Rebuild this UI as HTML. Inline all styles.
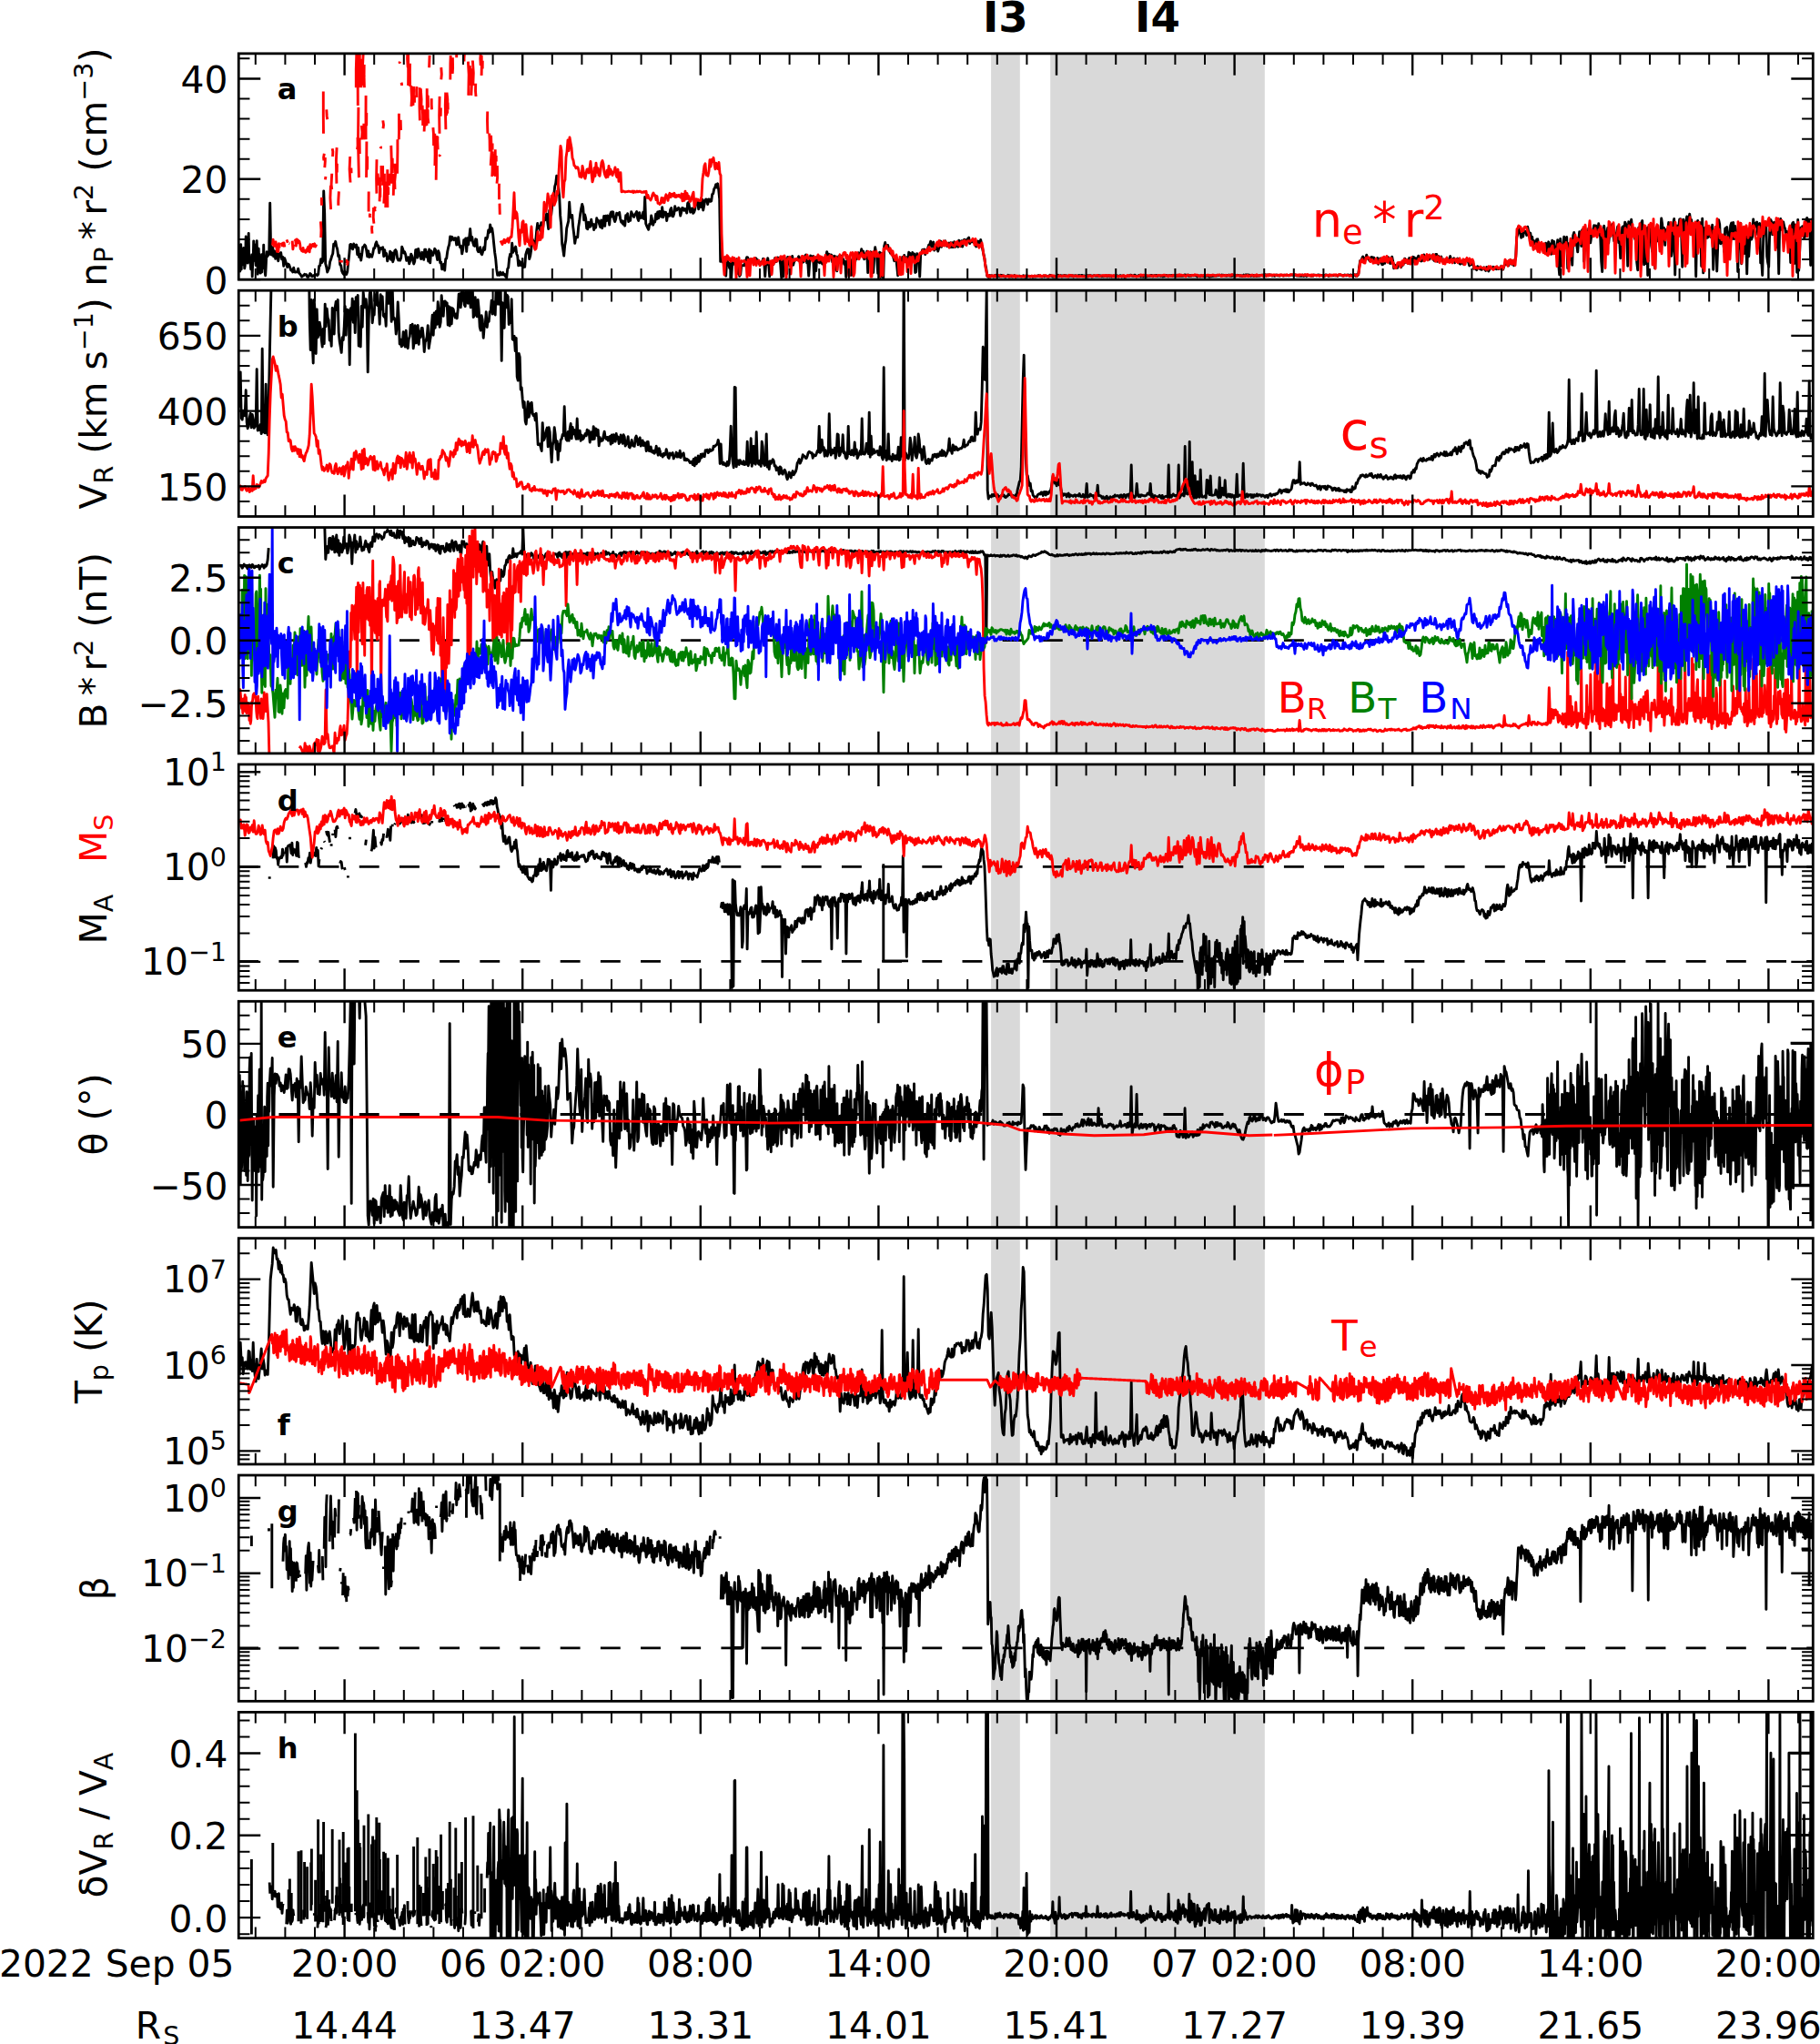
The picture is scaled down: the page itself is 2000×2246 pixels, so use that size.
<!DOCTYPE html><html><head><meta charset="utf-8"><title>figure</title>
<style>html,body{margin:0;padding:0;background:#fff}svg{display:block}text{font-family:"DejaVu Sans","Liberation Sans",sans-serif}</style></head><body>
<svg width="2000" height="2246" viewBox="0 0 2000 2246">
<rect width="2000" height="2246" fill="#fff"/>
<defs>
<clipPath id="c0"><rect x="262.25" y="58.85" width="1730.05" height="248.3"/></clipPath>
<clipPath id="c1"><rect x="262.25" y="319.21" width="1730.05" height="248.3"/></clipPath>
<clipPath id="c2"><rect x="262.25" y="579.57" width="1730.05" height="248.3"/></clipPath>
<clipPath id="c3"><rect x="262.25" y="839.93" width="1730.05" height="248.3"/></clipPath>
<clipPath id="c4"><rect x="262.25" y="1100.29" width="1730.05" height="248.3"/></clipPath>
<clipPath id="c5"><rect x="262.25" y="1360.65" width="1730.05" height="248.3"/></clipPath>
<clipPath id="c6"><rect x="262.25" y="1621.01" width="1730.05" height="248.3"/></clipPath>
<clipPath id="c7"><rect x="262.25" y="1881.37" width="1730.05" height="248.3"/></clipPath>
</defs>
<rect x="1089.1" y="58.85" width="31.7" height="248.3" fill="#d9d9d9"/>
<rect x="1154.2" y="58.85" width="235.6" height="248.3" fill="#d9d9d9"/>
<rect x="1089.1" y="319.21" width="31.7" height="248.3" fill="#d9d9d9"/>
<rect x="1154.2" y="319.21" width="235.6" height="248.3" fill="#d9d9d9"/>
<rect x="1089.1" y="579.57" width="31.7" height="248.3" fill="#d9d9d9"/>
<rect x="1154.2" y="579.57" width="235.6" height="248.3" fill="#d9d9d9"/>
<rect x="1089.1" y="839.93" width="31.7" height="248.3" fill="#d9d9d9"/>
<rect x="1154.2" y="839.93" width="235.6" height="248.3" fill="#d9d9d9"/>
<rect x="1089.1" y="1100.29" width="31.7" height="248.3" fill="#d9d9d9"/>
<rect x="1154.2" y="1100.29" width="235.6" height="248.3" fill="#d9d9d9"/>
<rect x="1089.1" y="1360.65" width="31.7" height="248.3" fill="#d9d9d9"/>
<rect x="1154.2" y="1360.65" width="235.6" height="248.3" fill="#d9d9d9"/>
<rect x="1089.1" y="1621.01" width="31.7" height="248.3" fill="#d9d9d9"/>
<rect x="1154.2" y="1621.01" width="235.6" height="248.3" fill="#d9d9d9"/>
<rect x="1089.1" y="1881.37" width="31.7" height="248.3" fill="#d9d9d9"/>
<rect x="1154.2" y="1881.37" width="235.6" height="248.3" fill="#d9d9d9"/>
<path d="M262.25 703.7H1992.3" stroke="#000" stroke-width="2.8" stroke-dasharray="21.9 22.28" fill="none"/>
<path d="M262.25 952.3H1992.3" stroke="#000" stroke-width="2.8" stroke-dasharray="21.9 22.28" fill="none"/>
<path d="M262.25 1056.3H1992.3" stroke="#000" stroke-width="2.8" stroke-dasharray="21.9 22.28" fill="none"/>
<path d="M262.25 1224.5H1992.3" stroke="#000" stroke-width="2.8" stroke-dasharray="21.9 22.28" fill="none"/>
<path d="M262.25 1810.8H1992.3" stroke="#000" stroke-width="2.8" stroke-dasharray="21.9 22.28" fill="none"/>
<path clip-path="url(#c0)" d="M263.2 267.8l.5 30.3 .5-27.8 .5-1.6 .5 27.3 .5-17.6 .5 12.6 .5-1.6 .5-10.1 .5-6.9 .5 .6 .5 21.9 .5-2.7 .5-5.3 .5-26.9 .5 20.7 .5-10.1 .5 15.1 .5 3.3 .5-7.2 .5-25.4 .5 27.1 .5 0 .5 .6 .5 6.4 .5 5.3 .5-8.8 .5-7 .5 23.9 .5-15.9 .5-1.8 .5-21.3 .5 21.3 .5-9.8 .5-7.4 .5 14 .5 8.6 .5-.2 .5-26.8 .5 19 .5 17.6 .5-4.7 .5-23.2 .5 16.3 .5-10.5 .5 15.1 .5 5.9 .5-9.1 .5-2 .5 10 .5-19.5 .5 8.6 .5 6.5 .5-25.3 .5 22.8 .5-9.9 .5 17.4 .5 3.1 .5-9 .5-11.2 .5-5.9 .5 5.3 .5-1.9 .5 .5 1-1.5 1-55.9 1 56.6 1 .4 1-8.5 1 10.3 1-5.9 1 8.3 1-3.7 1-3.7 1 9.8 1-5.2 1-2.9 1-1 1 7.1 1-2.3 1 10 1-8.7 1 3 1 3.7 1 3.2 1-3.5 1 1 1 2.8 1 3.2 1-.8 1 2.7 1-4.8 1 4.6 1 .3 1-.3 1-.1 1-3.5 1 4.9 1 .9 1 1.6 1 1.5 1-1.1 1-.2 1-1.5 1 .8 1-.4 1 2.5 1 .1 1-1.4 1-2.3 1 .8 1 2.2 1-.1 1-.7 1-.6 1-.6 1 0 1 1.1 1-1.3 1-9.3 1-.2 1-7.3 1 4 1-1.7 1-77 1 24.7 1 55.1 1 3.6 1 5.8 1-2.6 1-2.2 1-6.9 1-2.6 1-3.6 1-2.4 1-10.6 1 1.4 1-4.3 1 5.5 1 3 1 7.7 1-.9 1 10.2 1 .8 1 6.4 1 2.1 1 1.4 1-3.3 1 2.8 1 .6 1-3 1-9.8 1-9 1-10.9 1-.5 1 4.2 1 1 1-5.6 1 2.3 1 1.3 1-2.6 1 10.7 1-7.5 1 10.3 1-3.2 1 6.8 1-6.7 1-8.1 1-.2 1-2 1 1.3 1 4.6 1 6.8 1-6.1 1 6.8 1-3 1 2.3 1 .4 1-3.9 1-5.5 1-.1 1-4.6 1-2.3 1 4.5 1-.3 1 7.8 1-5.3 1 1.1 1-1.4 1-.5 1 10 1-6.9 1 5.7 1-1.9 1 8.2 1-4 1 .8 1-7.4 1 9.1 1-7.7 1 10.1 1-3.3 1-8.6 1-1.2 1 2.1 1 7.2 1 2.1 1-1.3 1 1.4 1-2.8 1-12.1 1 2.6 1 4.1 1-1 1 2.8 1 6.6 1-.9 1-2.7 1 7 1-3.2 1-7.3 1 2.2 1 4.7 1 3.9 1-2.7 1-12.6 1-.4 1 8.7 1-9.5 1 4.7 1 3.1 1 3.2 1-7.3 1 1.5 1 6.6 1-11.1 1 .1 1 8 1-5.1 1 9.9 1-13.2 1 15 1-13.3 1 4.4 1 .6 1-3.1 1-4.2 1 1.7 1 5.1 1 5.5 1-9.8 1 2.9 1 10 1-.6 1 7.8 1-2.8 1-2.8 1 6.8 1-12.6 1-.5 1-7.5 1-4.7 1-3.2 1-8.6 1 4.1 1-3.8 1 1.8 1 1.5 1-1.8 1-.1 1 7.3 1-.4 1-7.8 1 7.1 1 3.9 1-1.3 1 8.4 1-4.9 1-10.3 1 4.6 1-6.4 1 14.4 1-14.7 1 7.1 1-7.8 1-9.4 1 12.6 1-3.8 1 6.3 1 3.1 1 .7 1-7.6 1 .3 1 11.8 1 1.8 1-.3 1-4.8 1 7 1 1.1 1-3.6 1-4.5 1 2.9 1-13.1 1 1.5 1-2.4 1-7.5 1 2.4 1-8.5 1 7.4 1-3.5 1 6.9 1 10.2 1 9.6 1 6.9 1 11.5 1 6.4 1-2.4 1 2.5 1-3.3 1 2.8 1 0 1-2.3 1 2.4 1-.5 1 2.5 1 1 1-9.4 1-1.6 1-10.5 1-4.3 1 2.6 1-14.6 1 10.2 1-4.4 1 2.2 1-4.1 1 7.9 1 2.1 1 10.8 1-5.1 1 4.5 1 .3 1-3.9 1 6.1 1-.4 1-.1 1-13.3 1-3.5 1-2.9 1 0 1 11 1-3.4 1-6.6 1-12.6 1 2.3 1 5 1 1 1-5.2 1-11.7 1-8 1 5.3 1-2.1 1 4.7 1-8.6 1 6.1 1-1.1 1-10.2 1 2.5 1-3 1-4.2 1 9 1 7.7 1-20.2 1 5.1 1-.2 1-9.4 1-6.1 1-6.3 1-9.5 1-3.5 1-8.2 1 4.4 1 8.8 1 8.9 1 21.6 1 10.4 1 20.8 1 5.9 1 7.1 1-11.7 1-5 1-13.5 1-4 1-4.1 1-20.5 1 14.8 1 2.1 1-2.8 1 12.7 1 7.9 1 10.4 1-6.2 1-1 1 .6 1-11.6 1-6.1 1-8 1-6.1 1-4.5 1 3.3 1 14 1-5.8 1 4.2 1 10.6 1 .9 1-7.4 1 5 1-.3 1-7.9 1 6.2 1-1 1 6.3 1-5.8 1 3.4 1-10.4 1 3 1-.3 1 4.1 1 2.8 1-7.4 1 8.7 1-5.9 1-7.4 1 10.9 1-11 1 5.2 1-5.6 1 1.5 1 8.6 1-11.9 1-2.2 1 5.2 1-5.3 1 7.9 1 2.9 1-2.8 1-6.5 1 .3 1 1.4 1-2.6 1 7.3 1 3.5 1-1.5 1 3.6 1-3.1 1 4.9 1-11.3 1 3.2 1-5.4 1 9 1-1.6 1 .2 1-9.5 1 2.3 1 1.9 1 1.5 1-2.7 1-1.2 1-2 1 7.5 1 2.5 1-8.9 1 5.9 1-.6 1 .4 1-6 1 7.2 1-24 1 29.2 1 2.4 1 2.2 1 1.9 1-6 1 .1 1-9.3 1 4.9 1 5.3 1-3.9 1 .5 1-8.6 1 5.5 1-7.8 1 6.9 1-7.7 1 4.8 1 1.2 1-10.4 1 11.1 1-5.9 1 3.1 1-2.7 1 9.2 1-6.8 1-.6 1 2.2 1-7.1 1-1.6 1 9 1 .2 1-2.9 1-8.3 1 4.6 1-.3 1-1.6 1-.9 1 1.3 1 7.4 1-4 1-4.7 1 .4 1 2.5 1-1.8 1 .4 1 4.2 1-10.9 1-1 1 6.5 1 4.5 1-4.1 1-.2 1 5.5 1-1.3 1-3 1-9.9 1 .8 1 1.2 1 7.7 1-6.8 1-.5 1 5 1-8.6 1 12 1-5.1 1-5.9 1-1.1 1 .4 1 5.2 1-5.6 1 .2 1 2.2 1-.4 1-7.5 1-.7 1-5.1 1-1.4 1-3.5 1 3.2 1-4.1 1 6.6 1 10.2 1 68.8 1-1.8 1 2.1 1-2.3 1 0 1-2.9 1 20.6 1-17.7 1 1.7 1 2.9 1 4.6 1-5.4 1 15.9 1-15.9 1-1.3 1-3.3 1 6.3 1 1 1-7.2 1 15.8 1-9.6 1 12.4 1-1.5 1-10.1 1-.1 1 0 1 .3 1-3.2 1-2.6 1-3.4 1 .3 1 4.8 1-2.5 1 2.6 1 0 1-2.8 1 2.4 1 2.1 1-3.7 1-2.2 1 1.5 1 .5 1 1.1 1 3.5 1 .6 1-2.7 1-.8 1-3.1 1 2.4 1 16.9 1-14.8 1 1.7 1-6.9 1 6.1 1 14.1 1-12.2 1 9.1 1-11.8 1 1.9 1-4 1-3.4 1 4.1 1-2 1-2.4 1 .4 1 .7 1 6.2 1 14.6 1-17.7 1 16.6 1-18.8 1-1 1 6.1 1 10.4 1-18.2 1 7.6 1-1.3 1 3.6 1-3.6 1-7.3 1 9.8 1-4.1 1-.9 1-.6 1-.5 1-.9 1-2.4 1 1.8 1 8.7 1-2.4 1-2 1 0 1-1 1-5.6 1-1.3 1 8.9 1-2 1 16.2 1-14.6 1-7.5 1 1.2 1 3 1-3.6 1 24.4 1-19.3 1 10.9 1-15.5 1 .2 1 5.2 1 1.3 1-4.8 1 1.9 1 4.2 1-5.4 1-.6 1-1.6 1-.3 1-5.6 1 9.8 1-7.2 1 3.7 1-3 1 .3 1 7.7 1-4.8 1-1.8 1 14.7 1-14 1 15.8 1-9.9 1-6.2 1 .4 1-1.1 1 3.5 1-.9 1 1.5 1 5.1 1-3 1 17.3 1-6.2 1-14.6 1 .9 1 17.9 1-16.8 1 16.6 1-15.5 1-6.2 1 5.8 1 1.2 1-5.5 1 2.1 1-1.2 1-5.2 1 2.2 1-.5 1-5.8 1 7.3 1-4.9 1 8.7 1-5.9 1 4.9 1-7.5 1 23.3 1-21.2 1-.2 1-1.5 1 10 1-5.4 1 18.2 1-18.7 1-9 1 6.4 1 5.1 1 17.1 1-16.5 1-6.6 1 27.2 1-26.4 1 21.5 1 6.5 1-35.7 1-3.9 1 5.7 1 .5 1-3.2 1 4.9 1 1.6 1 2.3 1-2.5 1 3 1 3.6 1 4.3 1-3.4 1 0 1 9.2 1 10.3 1-5.3 1-10.4 1 2.1 1 1.3 1-8 1 2.6 1-4.6 1 6.9 1 0 1-4.8 1 3.4 1-8.7 1 .8 1 4.8 1 .7 1-6.1 1 5.7 1-4.2 1 20.5 1-.9 1-20 1 3.8 1-.4 1 22 1-25.1 1-1.2 1-3.3 1 .2 1-.5 1 5.4 1-3.7 1 .6 1-3.9 1-3.3 1-.3 1-3.7 1 5.9 1-2.6 1-2.5 1 9.1 1-2.4 1 .7 1-2.2 1 4.8 1-3.1 1-5.5 1-2.3 1 6.1 1-4.8 1 3.2 1-2.8 1-2 1 4 1 1.7 1-2.5 1-.9 1 4.8 1-5.2 1 4.9 1-4.8 1 4.7 1-5.8 1 5.7 1-4.4 1-.3 1 4.6 1-7.2 1 2.8 1 3.8 1-6 1 6.3 1-6.5 1-1.3 1 1.4 1-.9 1 2.1 1-3.8 1-.9 1 6.5 1-2.3 1 .2 1 .1 1 .5 1-.4 1 2.6 1 2.6 1-2.6 1-3.2 1 .5 1 2.7 1-4.9 1 5.7 1 4.1 1 5.1 1 4.5 1 7.8 1 4.2 1 8.4 1 .8 1 .3 1-1.7 1 1.1 1-.9 1 .3 1 .9 1-1.2 1 .6 1-1.2 1 .1 1 .5 1 .6 1 .4 1-1.5 1 .2 1 .8 1-.2 1 .6 1 .5 1-.4 1-.2 1-1.2 1 1.3 1-1 1 1.2 1-.2 1 .2 1-.5 1-.9 1 1 1 .3 1-.1 1 .2 1-.8 1 .1 1 .6 1 .2 1-.7 1-.6 1 .5 1 1 1-1.2 1 .1 1 0 1 .7 1 0 1 0 1-.5 1 .9 1-.1 1-.8 1 .7 1-.8 1 .6 1-1 1 0 1 .8 1 .2 1-.4 1 .4 1-.8 1 .9 1-.3 1-.7 1 1.1 1-.3 1 .4 1-1.8 1 .3 1 .9 1 .5 1 0 1-.7 1 .4 1 0 1-.7 1-.7 1 1.1 1 0 1-.8 1 1.2 1-.9 1 .5 1-.8 1 .6 1-.4 1 .4 1 0 1 .1 1 0 1-.7 1 .7 1-.5 1 1.2 1-1.1 1-.1 1 .2 1 .7 1-.8 1-.4 1 .7 1-.4 1-.4 1 .3 1 1 1-.8 1 .7 1-.7 1-.4 1 1.4 1-1.2 1 .1 1-.2 1 1.4 1-.8 1-.3 1-.1 1 .4 1 0 1-.1 1 .3 1-.9 1 1.1 1-.7 1 .8 1-.4 1 .4 1-.3 1-.3 1-.2 1 .9 1-.8 1-.4 1 1.2 1-.7 1 .9 1-.9 1 .2 1-.1 1 .8 1-.3 1-.9 1 1 1-.1 1-1 1 .3 1 1 1-1.1 1 .1 1 1.2 1-.1 1-.7 1 0 1-.3 1 .2 1-.8 1-.3 1 .8 1 .1 1 .5 1-1.4 1 .4 1 1.2 1-.5 1-.3 1-.5 1 .6 1 .8 1-1 1 .9 1 .2 1-1.1 1 1.1 1-1 1 .7 1-.5 1 0 1 .1 1-.9 1 0 1 1.3 1-.7 1-.4 1 .1 1-.3 1 1.1 1-.7 1 .2 1-.2 1 .7 1-.4 1 .7 1-.3 1 0 1-.8 1-.2 1 .3 1 .9 1-1 1-.3 1 .6 1-.5 1 .8 1-.7 1 .1 1 .3 1 .6 1-1.4 1 1.2 1-.2 1 .1 1 0 1-.3 1 .3 1-.2 1-1.2 1 .4 1-.2 1 .8 1-.8 1 1.3 1-.9 1 .8 1-.9 1 .4 1-.1 1-.1 1 .3 1 .1 1 1 1-1.2 1 .3 1 .6 1-1.1 1 .9 1 0 1-.8 1 1 1-.1 1-.5 1-.3 1 0 1 1.3 1-.1 1-.6 1 .3 1-1.4 1 1.1 1-.4 1-.1 1 .3 1-.9 1 .6 1-.4 1-.2 1 .9 1-1.2 1 .8 1-.5 1 .6 1 0 1 .4 1-.9 1 .6 1-.9 1 1.2 1-.3 1 .3 1-1.3 1 .4 1 .8 1-.9 1 .6 1-.6 1 .2 1 .1 1 .6 1-.4 1 .7 1 0 1-1.4 1 1.4 1-1.5 1-.1 1 .5 1-.4 1 .3 1 .1 1 1 1-.7 1-.5 1 1.3 1-.3 1-.8 1 1.1 1-.1 1-.4 1 .2 1-.7 1 .2 1-.4 1 0 1-.3 1 .9 1-1 1 1.1 1-1.1 1 .5 1-.1 1 .2 1-.5 1 1.1 1-.1 1-.8 1 1.1 1-.9 1-.4 1 .7 1 0 1 .3 1-.1 1-.6 1 0 1 .5 1 .3 1-.8 1 0 1 .4 1-.4 1 .6 1-.6 1-.2 1 .1 1-.1 1 0 1 .8 1-1 1 0 1 1.1 1 0 1 0 1 0 1 .4 1-.3 1 .1 1-1.2 1 1.5 1-1.2 1 .1 1 1.2 1-.9 1 0 1-.1 1 0 1 .7 1-.9 1 .8 1-1.2 1 .4 1 0 1 .4 1-.7 1-.1 1 .1 1 .3 1 .2 1-.1 1 .5 1-.2 1 .3 1-1.2 1 .2 1 0 1 1.2 1 0 1-.5 1-.6 1 .4 1 .2 1-.3 1 .2 1 .1 1-.2 1 .6 1-.7 1-.3 1-.2 1 .2 1 .6 1 0 1-.1 1-.7 1 .6 1 .3 1-.7 1-.2 1 1 1-.6 1-.5 1 1.1 1-.2 1-.1 1-.9 1 1.3 1-1.2 1 1.1 1-1.5 1-8.1 1-6.9 1 1.2 1-3.8 1-1.9 1 2.7 1-1 1 1.5 1-5 1 3.4 1 .3 1 2 1 1.1 1-4.4 1-.1 1 1.5 1-1 1 2.8 1 .1 1 2.8 1-5.3 1 6.9 1-2.4 1-3.9 1 2.1 1 4.7 1-.2 1-6 1 4.8 1-5.5 1 3.1 1-3.1 1-1.1 1 2.9 1 3.9 1-3.6 1-3.8 1 5 1 7.7 1-3.8 1 2.1 1 1 1 .1 1-5.1 1 .9 1 1.3 1 2.3 1-3.3 1 .8 1-2.5 1-4.6 1 4.3 1-1 1 .8 1 1 1-5.8 1 6.4 1-1.1 1-4.4 1-2 1 .4 1 4.7 1-3.7 1 3.8 1-2.8 1-3.5 1 3.7 1 1 1 1 1-.5 1-1.1 1-5.3 1 2.9 1-.6 1 1 1-2.4 1 2.3 1 1.8 1-3 1 .1 1 .2 1-2.5 1 6.1 1 .9 1-7.3 1 0 1 7.9 1-5.9 1 3.4 1-1.3 1-1.7 1 4.9 1-.4 1 2.3 1-2.5 1 1.6 1-3.3 1 3.1 1-1.9 1-1 1-3.1 1 5.4 1-.5 1-1.5 1-1.1 1 4.9 1-2.5 1-.7 1-1.5 1 2.7 1 2.5 1 .8 1-1.2 1-2.1 1 3.1 1-2.6 1-1.5 1 0 1 .4 1 .3 1 1.6 1 3.8 1-3.8 1 2.6 1-2.4 1 .7 1 6.4 1-1.9 1 1.8 1 1.3 1-3.9 1 1.5 1 1 1-2 1 3.1 1-.2 1-.7 1-1.5 1 2.1 1 1.4 1-3.8 1 .3 1 4.1 1-1.8 1-1.8 1-.2 1 .5 1-1.4 1 1.7 1 .3 1-.9 1 1.2 1-1.7 1 1.7 1-.9 1-.2 1-2.2 1 2.9 1 .8 1-3.4 1-2.1 1-2.8 1 2.8 1-3 1 4.3 1-3.2 1-3.1 1 4.5 1-3.5 1 4 1 1.2 1-5.3 1-3.9 1-21.3 1-3.5 1-8.8 1 .2 1 7.4 1 4.7 1-4.3 1 3.1 1-6.3 1 .8 1 0 1 4.1 1-9.4 1 5.2 1 5.1 1-3.4 1 6.2 1-2.1 1 10.1 1-5.6 1 .5 1 2.8 1-5 1-.2 1 5.9 1 .2 1 2.7 1-4.4 1 1.2 1 4.3 1 4.2 1-5 1-4.8 1 9.7 1-5.7 1-5.3 1 2 1 9.3 1 2.1 1-15 1 4.5 1-3.3 1 12 1-3.2 1-.3 1-10.2 1 27 1 11.1 1-39.4 1 23.9 1 6.1 1-22.3 1-9.8 1 6.3 1-.4 1-5.7 1 34.3 1-27.2 1 18 1-3.7 1-10.4 1 19.7 1-32.6 1-3.2 1 7.1 1 6.6 1-.3 1 8 1-12.9 1-9.3 1 .4 1 15.5 1-18 1-.5 1 35.2 1-21 1-8 1 3.2 1 1.3 1-11.4 1 3.3 1 12.2 1-6.8 1-3.3 1-4.1 1-4.9 1 2.1 1-1.7 1 3.8 1 5.1 1-11.2 1 6.6 1 8.5 1 26.1 1 11.5 1-39.8 1-10.4 1 9.5 1 4.8 1-4.9 1-7.2 1 16.5 1-9.6 1-4.7 1-3.8 1-2.4 1 10.6 1 7.8 1-8.2 1 8.2 1-9.9 1-6.1 1 17.7 1-3.6 1 20.8 1-21.3 1-12.7 1-1 1 10.7 1-15.3 1 2.1 1 10.8 1 35.2 1-48.6 1 3 1 .4 1-5.8 1 12.9 1-3.1 1 .1 1 11.3 1-5.5 1 31 1 8.7 1-46.4 1 5.9 1-4.4 1-7 1-2.2 1 35.1 1 13.1 1-36.6 1 35.3 1-38.7 1 51.7 1-53.2 1 1.1 1 1.3 1 18.6 1 5.9 1-19.2 1 30.6 1 7.3 1-35.9 1-7 1 12.8 1 .1 1-11.1 1 7.2 1-21 1 6.6 1 15.5 1-11.6 1 18.8 1-16.8 1 3.9 1-3 1-8.9 1 13.9 1-9.5 1 32.3 1-7.7 1-28.5 1-4.5 1 61.5 1-43.8 1-10.3 1 9.6 1-7.3 1-9.3 1-.2 1 16.1 1 36.4 1-52.1 1 33.7 1-6.4 1-25.5 1-4.9 1 12.2 1-8 1-7.1 1 8.2 1-1.8 1 13.2 1 2.2 1-10.7 1 6.6 1 51 1-57.8 1-3.5 1 20.1 1-4.7 1-13.2 1 47.8 1-52.3 1 59.7 1-31.4 1-18.2 1 2.8 1 8.2 1-.4 1-10 1-.7 1 10.1 1-2.6 1-10.5 1 49.1 1-24.6 1-17.5 1-4.9 1 48.7 1-27.8 1-28.5 1 4.9 1 21.2 1-1.3 1-1.3 1-.3 1 11.4 1-25.1 1-.8 1-.8 1 8.1 1 4.3 1 .8 1-14.9 1-2.9 1 17.5 1-18.1 1 18.2 1-14.2 1 5.4 1 1.8 1 42.9 1-38 1 12.2 1-27.6 1 44.7 1-27.9 1-6.2 1 22.8 1-9.4 1-9.6 1 41.4 1-38.1 1 18.9 1-17.2 1-12.5 1 11 1-2.9 1-19.1 1 9.7 1-2.3 1-3.4 1-1 1 13.9 1-10.7 1-1.6 1 43.3 1-3.1 1 16.7 1-40.8 1-11 1 2 1-7.3 1 36.5 1 6.9 1 4.4 1-39.3 1-12.5 1 2.3 1 14.2 1-6.6 1-7 1 11.5 1 16.2 1-20.5 1 .2 1 49.1 1-57.2 1-3.1 1 11.7 1-5.4 1-2.9 1 5.2 1 2.4 1 5.6 1-2.7 1 5.8 1-4.1 1 3.7 1 28.7 1-37.3 1-5.7 1-1.2 1 45.3 1-42.6 1 8.3 1 43.9 1-57.7 1 55.8 1-22 1-25.1 1 5.3 1-6.8 1 4.2 1 8.4 1-1.7 1-16.5 1-3.6 1 9.6 1-7.8 1 4 1 46.2 1-45.9 1 1.1 1 52.8" stroke="#000" stroke-width="2.9" fill="none" stroke-linejoin="round"/>
<path clip-path="url(#c0)" d="M299.5 269.7l.7-6.4 .7 6.8 .7 .2 .7-3.7 .7-.7 .7 3.5 .7 6.9 .7-4.6 .7 4.8 .7-8.8 .7 4.8M309.3 266.6l.7 3.2 .7-2.6 .7 2.8 .7-3.1 .7 4.6M314.9 263.4l.7 1.5 .7 1.9M317.7 267.5l.7 .3M321.2 264.6l.7 9.2 .7-5.2M324 265.2l.7-1.5 .7 6.3 .7-7.1 .7 3.9 .7-3 .7 3.1 .7-1.7 .7 2.7 .7 5.7 .7 .5 .7 1.6 .7-1.1 .7-2.2 .7 5.4M335.2 273.9l.7 3.5 .7-2.6 .7 1.4 .7-3.3 .7-1.7 .7 1.7 .7 3.9 .7-8 .7 3.9 .7-3.3 .7 .6 .7-1.6 .7 2.1 .7-1.6 .7-1 .7 3.2 .7-.8 .7-.3 .7 .3M374 285.9l0 2.4M375.4 286.1l0 2.4M380.3 289.2l.7-2.9 .7 4.2 .7-3.9M355.3 100.5l0 25.4 .2 20.8M358.8 120.3l.4 7.4 .5 3.6M356.3 168.7l-.7 4.3 .3 3.4M357.3 173.1l0 4.4-.5 6.6M365.2 163.2l.6 3.4-.2 5.4M370.1 162.1l-.7 14.4 .5 25.1M370.4 179.8l-.1 9.6M364.7 190.7l-.6 12.1 .6 5.4M363.4 203.8l-.5 13.6 .7 12.8M372.4 210.4l-.6 10.6 0 4.8M353.4 217l-.1 3.3 .2 5.5M352.4 243.4l.6 9.5-.3 8.1M358 194l-.3 1.4-.2 1.9M384.7 172l-.6 14 .9 14.5M385.9 184.5l.2 5.8M391.8 59.9l-.5 16.2 0 20.1M393.4 66.4l.2 12.7M393.1 59.9l.1 37.9 .1 18.1M395.3 59.9l0 12.4 .1 23.9M396.6 64.8l.1 9.8M396.7 72l.5 16.1-.3 8.1M397.8 76.1l-.2 5.2M399.1 59.9l-.9 19.6-.1 14.5M400.2 70.9l-.1 13 .3 12.3M393.9 118.1l-.4 37.1 .9 39.9M395.1 151.6l.2 17.4M393 151.1l.1 9-.6 4.2M397.3 137.9l.7 7.3-.5 8.1M402.1 104.9l-.1 23.3 .1 25.1M402.8 123.9l-.1 14.3M399.8 135.7l.2 8.1 .6 9.5M402.9 155.5l-.2 27.1-.1 12.5M403.7 171.8l-.1 14.8M405.2 210.4l-.1 13.5 0 8.5M406.7 234.6l-.4 2 .2 2.4M410.6 228l-.4 10.7 .7 6.9M412.3 226.9l-.6 3.1 .5 2.4M408.9 247.8l-.3 3.5 .4 5.3M414 175.3l-.4 20.9 .3 16.4M415.1 190.7l.5 8.3 0 4.8M417.5 195.1l0 15.1-.4 11.2M417.9 206.5l-.1 10.2M419 181.9l0 10.1-.5 7.5M420.6 181.9l.1 13.4-.2 8.5M422.4 190.7l.1 20.1-.7 12.8M423.4 202.5l.1 8.1M423.6 199.5l.4 15.7-.2 12.8M424.9 205.9l-.2 6.8M425.8 186.3l-.1 13.1 .2 28.6M426.7 205.5l0 8.4M427.5 190.7l-.3 5.4 .7 7.7M429.8 159.9l.5 18.8-.5 22.9M431.2 173.8l.2 16.3M432.7 190.7l-.1 11.3-.3 12.8M433.7 198.5l.3 9.5M434 179.7l.6 10.7-.9 9.1M436.9 153.3l0 12.8-.4 24.6M438.4 124.7l.1 18.8-.2 9.8M440.2 131.9l.3 11.2M420.8 132.4l.7 4.8-.5 4M418 161l.6 1-.5 1.2M439.4 67.6l-.3 .9 .5 1.3M441 90.7l.5 1.5 0 1.8M447.8 59.9l-.2 4.4 .6 9.9M448.6 59.9l.1 20.9-.1 13.2M450.5 69.8l-.1 10.5 .2 14.8M451.8 94l.7 13.7-.5 9.3M453.2 99l0 7.1M454.6 95.1l-.1 9.2-.6 11.6M455.5 104.8l0 7.9M458 95.1l-.4 3.7 .2 8.3M461.1 96.2l-.1 21.1 .4 15.1M462 112.1l-.1 8.7M462.3 97.3l.8 11.8-.2 6.8M464.1 115.9l.5 10.4 .1 11.6M465.4 123l-.1 6.5M466.6 120.3l.2 8.8-.7 15.4M468 130.4l-.4 8M469.2 97.3l0 23.9-.3 16.7M470.2 104.9l.3 13.4M470.1 120.3l.1 9 .7 6.4M472.1 61l-.2 4.7-.3 8.5M474.2 108.2l0 6.7 .3 5.4M475.9 140.1l.5 6.5 .2 13.3M477.8 146.7l.3 22.9-.2 12.3M480.1 148.9l-.6 24.2-.3 24.6M480.9 150l-.1 5.1 .4 9.2M483.1 106l-.4 21.3 .3 19.4M484.4 118.5l-.2 9.2M483.6 169.8l-.5 1 .5 1.2M484.8 74.2l.5 7.4-.5 5.8M489.7 101.6l-.4 14.3 .6 26.4M490.5 118.7l.2 8.3M491 101.6l.8 7.5-.3 15.6M492.1 112.9l.2 7.7M495.2 61l-.3 9.4-.1 17M496.3 67.3l-.2 7.3M497.4 63.2l.2 11.1-.4 6.5M501.7 59.9l0 2.1 0 1.2M510.3 59.9l-.3 4.6 0 3.1M514.4 67.6l.8 14.2-.4 23.1M516.3 72l.5 6.6-.3 15.4M517.5 75.1l-.2 5M518 78.6l.5 11.8-.7 14.5M519.1 82.9l-.2 6.8M519.4 66.5l.9 13.5-.5 14M522.7 91.8l-.2 8.2 .5 6M528.2 59.9l-.4 4.2 .4 7.9M529.2 61l.1 13-.2 9M530.3 66.7l-.1 8.7M535.7 122.5l-.2 10.3 .4 13.9M537.7 146.7l.4 7.2 .2 12.6M539.6 148.9l.5 18.4-.9 14.6M541.1 157.6l0 6.9M541.2 166.5l-.1 19.1-.3 8.4M542.8 174.6l-.3 10.7M542.5 168.7l.4 9.6-.4 14.6M544 174.1l-.3 5M544.2 164.3l.3 20.4-.1 9.3M545.2 171l.1 6.6M546.4 181.9l.2 13.2-.6 6.5M548.5 201.6l-.1 5.4 .1 12.2M549 223.6l.1 5.5 .2 6.6" stroke="#f00" stroke-width="2.9" fill="none" stroke-linejoin="round"/>
<path clip-path="url(#c0)" d="M550 264.5l1 1.8 1 2.1 1-2.7 1-2.4 1 3.5 1-2.9 1 1 1-3 1 4.4 1-4.1 1-1.8 1-.1 1-10.6 1-17.7 1-20.3 1 28.2 1-7.3 1 2.1 1 10.5 1 15.6 1 9.1 1-17.2 1 2.6 1-11 1-1.4 1 15.9 1 9.2 1-21.4 1 12 1 7 1-.4 1 4.7 1-9.9 1-11 1 19.4 1-1.8 1 4.6 1 3 1-1 1-6.6 1-12 1 9.3 1-3.5 1 3 1-13.4 1 11 1-14.1 1-24.7 1 8 1 2.1 1-6.1 1-13.2 1 6.1 1 .7 1 30.2 1-34.7 1 2.3 1-5.2 1 13 1-2.7 1-2.7 1-9.9 1 2.7 1-21.9 1-16.9 1-13.6 1 5.1 1 40.2 1 11 1-16.6 1-2.6 1-24.5 1-6.4 1-12.7 1 11.7 1-14.7 1 6 1 5.3 1 11.5 1 2.4 1 5.8 1 .8 1 2.1 1-1 1 .1 1 3.8 1 6.3 1-2.9 1 3.7 1-12.4 1 4.8 1 6.4 1 2.5 1-5.1 1-4.9 1-.3 1 4.1 1-5.4 1-7 1 13.4 1 9 1-3.8 1-11.4 1 8.8 1-14.3 1 10.1 1-4.7 1 7.7 1 1 1-6.7 1-7.9 1-2.1 1 3.6 1 9.3 1 3.4 1 2 1-7.7 1 7.1 1-11.8 1 9 1-5.3 1 2.7 1 3.7 1-3.6 1-.6 1-4.5 1 8.3 1 2.4 1-8.3 1 13 1-9.4 1-.1 1 21 1-.2 1-.6 1 .5 1 .5 1-.4 1 0 1-.3 1 0 1 .1 1 .2 1 .1 1-.7 1 1.6 1-1.5 1 .9 1 0 1-1 1 .9 1-.4 1-.3 1 .4 1 .7 1-.2 1 .2 1-.8 1 .9 1-1.2 1 7.1 1-3 1 3.3 1 .9 1 1.5 1-2.1 1-4 1-1.9 1 2.9 1-.2 1 4.9 1-4 1 7.8 1-.1 1 1.1 1-1.1 1-5.9 1 4.9 1-4.5 1 4.9 1-5.7 1-3.2 1 2.3 1 4.3 1-5 1-3.1 1 4.4 1-3.2 1-.3 1 2.2 1-3.1 1 4.3 1 0 1-2.1 1 1.3 1-1.5 1 1.7 1 1 1-4 1 7.7 1-7.3 1 6.8 1-10.1 1 8.4 1-6.1 1 5.9 1-2.7 1 5.9 1-.4 1-3.3 1-3.8 1-2.8 1 16.4 1-2.3 1-6.7 1 1.7 1-1.2 1 1.1 1 .5 1-.4 1-5.1 1-18.8 1-6.6 1-7.8 1-2.2 1 12.6 1 .1 1 .8 1-5.2 1-12.3 1 7.2 1-7.6 1 2.2 1-4.3 1 7.2 1 5.3 1-6.5 1 5.6 1 .7 1-7.1 1 12.1 1 2.1 1 64.1 1 25.2 1 6.7 1 13.3 1-19.5 1 3.9 1-5.7 1 1 1 3.7 1-1.5 1 3.4 1-1.7 1-2.8 1 3.7 1-2.9 1 2 1 19.8 1-20.1 1 1.6 1-3.8 1 18.6 1-11.6 1-3.5 1 .7 1-.3 1-.7 1 1.8 1 .6 1 15.7 1-19 1 2.2 1 15.3 1-18.5 1 .3 1 .3 1 6.1 1-7.7 1 2 1 6.1 1-3.3 1-1.6 1-.3 1 5.4 1-1.9 1-.2 1-3.1 1 4.5 1-6.4 1 5.3 1-1.1 1-.7 1 .4 1 .5 1-1 1-1.1 1 14.7 1-15.3 1 4 1-1.5 1-4.8 1-1 1 4.1 1-2.1 1-.5 1-.8 1-2 1 3.6 1-3.3 1 .6 1-1.6 1 7 1 17.3 1-19.4 1-1.9 1 .2 1-1.9 1 18.8 1-16.3 1 2.3 1-1.8 1 .9 1-1.8 1 1.1 1-1.2 1 1.7 1 .7 1-1.3 1 18.5 1-22.2 1-.2 1 1.9 1 3.1 1-3.9 1 .3 1-2.7 1 4.3 1-1.4 1 .2 1 1.5 1-1.5 1 3.7 1-1.2 1-3.7 1 1.9 1-.7 1 .2 1-3.5 1 5.9 1-4.2 1 3.5 1-3 1 4.8 1-3.6 1 19.3 1-22.3 1 7.8 1-3 1-3 1 4.8 1-6.4 1 2.1 1-1.2 1 2.6 1 20.4 1-20.3 1 .8 1-2.2 1 13.8 1-12.4 1-.1 1-4.3 1 20.2 1-16.3 1-1.9 1-4 1-.3 1 .2 1 6.3 1-3.6 1 2.9 1 20.2 1-21.7 1-4 1 2 1-2.3 1 25.9 1-3.4 1-22.5 1 .4 1-.1 1 6.3 1 .6 1-3.1 1-2.7 1-1 1 4.7 1-2.5 1 1.2 1 1.7 1-5.1 1 2 1-3.6 1 7.9 1-7 1 26.9 1-.1 1-26.8 1-.6 1 3.7 1 1.8 1-5.8 1 5.2 1-2.2 1 3.4 1 21.2 1-23.8 1-1.2 1 23.9 1-29.6 1 1.6 1-2.6 1-2.3 1 3.3 1 .5 1 2.3 1-3.3 1 2.3 1 5.3 1-4.4 1 6.7 1-1.4 1 4.7 1-6 1 5.9 1 0 1 15.7 1-19 1 19.3 1-12.9 1 12.3 1-19.2 1 2.4 1 3.4 1-4.1 1 14.9 1-12.5 1-1 1-2.6 1 18.1 1-17.6 1-1 1 3.8 1 3.2 1-1.2 1-.2 1-5.4 1 4.6 1-6 1-2.8 1-.5 1 1 1-3.3 1 2.6 1-1.7 1 1.8 1-3.4 1 3.4 1-4.6 1-1.9 1 4.4 1-1.7 1-.1 1-.6 1 .3 1 0 1-4.4 1-1.3 1-2 1 4.6 1-6.2 1 5.2 1-3 1 3.6 1-1.6 1-3.8 1 5.2 1-4.8 1 4.6 1-2.6 1 2.5 1 2.3 1-2.5 1-2.4 1 1.5 1 1 1 .2 1 1.2 1-4.8 1 2 1-2.8 1 3.6 1-1.2 1 2.7 1-4.5 1-.6 1 2.2 1-2.7 1-.5 1 4.2 1 .9 1-4.6 1-.1 1 0 1 .5 1-.9 1-.3 1-1.8 1 2.2 1 4.7 1-6.7 1 5.9 1 1.2 1-.5 1 3.1 1-2.9 1 1.2 1-3.6 1 6.4 1 7.6 1 3.7 1 9.3 1 4.2 1 5.2 1 .7 1-1.4 1 1.8 1-1.3 1-.3 1 .7 1 .6 1-1.6 1 .9 1 .8 1-1.7 1-.2 1 .3 1 .3 1 .9 1-.3 1-.6 1-.1 1 .8 1 .2 1-.2 1-.1 1-.4 1 1.2 1-.9 1-.5 1-.1 1 1.2 1-.5 1-.8 1 1.8 1-1.5 1 .3 1 .1 1 .3 1 .1 1-.3 1-.1 1 .4 1 .3 1-.6 1-.5 1 1 1-.8 1 .4 1-.3 1 .7 1-.2 1-.7 1 .8 1-.2 1-.8 1 .8 1-.3 1-.3 1 .2 1 .4 1-1.2 1 .8 1 .7 1-.7 1-.4 1-.4 1 .7 1-.1 1 .6 1 .3 1-.6 1-.6 1 .3 1-.4 1 .3 1-.1 1 1.3 1-1 1 .1 1 .8 1-.3 1-.9 1-.1 1 .9 1 .2 1-.6 1-.5 1 .3 1-.1 1 .8 1-.6 1 .8 1-1.7 1 .3 1-.1 1 .8 1-.6 1 1.1 1-.6 1 0 1-.3 1 1 1-.2 1 .2 1-.6 1 .3 1 0 1 .1 1-.2 1 .3 1 .5 1-.6 1-.6 1 .6 1-.5 1-.5 1 .6 1 .6 1-.1 1-1 1 .1 1 0 1-.1 1-.3 1 .2 1 1 1-.4 1-.3 1-.1 1-.4 1 .7 1-.7 1 .8 1-.8 1 .8 1-.6 1-.2 1 .9 1-.8 1 .4 1 .7 1-1.2 1 1.2 1-1 1 1 1-.3 1 .6 1-.5 1-.1 1 .3 1-.7 1 .6 1-1.1 1 1.3 1 .4 1-1.1 1-.7 1 .9 1 .2 1-1.1 1 .6 1-.1 1 0 1 .5 1 .1 1-.1 1 .6 1-.5 1 .1 1-.2 1-1.2 1-.3 1 1.1 1-.8 1 .1 1 1 1-.8 1 .2 1 0 1 .5 1-.3 1-.1 1 .2 1 .6 1-.8 1 .4 1-.5 1 .8 1-.2 1-.5 1-.4 1 0 1 .6 1-.4 1 .1 1-.2 1-.4 1 0 1 .9 1 0 1-.3 1 .9 1-1.1 1 .5 1 .3 1 .1 1-1.1 1 .5 1-.2 1 .2 1 .5 1-1.1 1 .9 1-1.4 1 1.3 1-.9 1 .8 1-.3 1-.2 1 .8 1 .5 1-1.2 1-.4 1 .2 1 .2 1 .5 1-.3 1-.4 1 .4 1 .1 1-1 1 .4 1 0 1-.1 1 1.3 1-.2 1 .1 1-1 1 1.1 1-.8 1-.3 1 .8 1-.2 1-.4 1-.3 1-.1 1 .8 1-.5 1 .4 1-.7 1 .2 1 0 1 .9 1-.2 1-.7 1-.2 1 .1 1-.3 1 .6 1 1 1-1 1 .7 1-.8 1 .7 1-.8 1 .6 1 0 1-.7 1 .5 1 .4 1-1.3 1 0 1 .3 1 .2 1 .9 1 0 1-.7 1 .3 1 .2 1-.3 1 .4 1-.5 1 .7 1-.1 1 .4 1-.9 1 .3 1 .3 1-.9 1 1.2 1-.4 1-.4 1-.6 1-.1 1 .9 1 .2 1-1 1 1.1 1-1.6 1 1.4 1-.4 1 0 1 .2 1-.8 1 .4 1 .7 1-.1 1-.9 1-.2 1 1.2 1-1.2 1 1 1-1.5 1 .8 1 .5 1-.9 1 .6 1-.6 1 0 1 .8 1-.5 1 0 1 0 1 .7 1-1.1 1 .8 1-.6 1 1 1-1.1 1 .7 1 .3 1-1.2 1 .7 1 .1 1 .4 1-1.1 1 0 1 0 1 .1 1-.1 1 .6 1-.6 1 .8 1-.7 1 1.1 1-1.2 1 .4 1-.2 1 .2 1 .3 1 .2 1-1.1 1 .1 1 1.1 1-1.3 1 1.2 1 .4 1-1.1 1 1.2 1-1.3 1 1.1 1-.9 1 .5 1-.4 1 .7 1-.5 1 0 1 .9 1-1.1 1 .5 1 0 1 .5 1 0 1-.2 1-.8 1 .4 1-.2 1 .5 1-1.2 1 .9 1 .5 1-.9 1-.1 1-.3 1 1 1-1 1 .7 1 .6 1-1.3 1-.1 1 0 1 .5 1 .4 1 .6 1-.7 1 .3 1-.6 1-.1 1 .2 1 .5 1 .4 1-.6 1 .5 1 .1 1-.8 1-.5 1 .1 1 .1 1 1 1-1.1 1-1.4 1-7.3 1-6.7 1 1.2 1-3 1 3.2 1 .8 1 .3 1-5.8 1 1.2 1-1.9 1 .3 1 1.4 1 3.2 1-2.1 1 0 1 3.8 1-1.2 1 .8 1-4.7 1 4.7 1 0 1 .4 1-3.5 1-.8 1 2.4 1-4.1 1 4.1 1-5.2 1 4.8 1 .2 1-5.6 1 6.9 1-1.6 1-2.9 1 .8 1-.9 1 5.5 1-.7 1 4.8 1 1 1 .2 1-2.6 1-3.3 1 0 1-.3 1 5 1-4.8 1-1.8 1 4.1 1-6 1 .9 1 2.1 1-2.6 1 4.3 1-2.9 1-.3 1 3.6 1-7 1 3.8 1 .2 1-.9 1 4.2 1-3.5 1 3.4 1-2.6 1-3 1 1.4 1-.9 1-4.3 1-.4 1 .7 1 5.7 1-.8 1-4.2 1-2.2 1 6.3 1-4.5 1-1.4 1 2.3 1-1 1 3.4 1-4.8 1 .5 1 6.2 1 .6 1-5 1-.4 1 4.6 1 2 1-5.6 1 3 1 .9 1 3 1-4.9 1 5.2 1-4.5 1-2.5 1 4.9 1-2 1 2.6 1-2.8 1-1 1 4.2 1-3.1 1-.7 1-.3 1 2.6 1-2.7 1 4 1-1.4 1-3.3 1 3.8 1 .2 1-.2 1-3 1 5.9 1-.1 1-5.6 1-1.6 1 3.2 1 .5 1-3 1 5.6 1-3.7 1-1 1 2.3 1 7.4 1-1.8 1 1.7 1-.2 1 .4 1 0 1-.5 1-1.2 1 .9 1 .5 1 .8 1-1.1 1-.1 1 2.1 1-.1 1-.1 1-3.2 1 1.9 1-1.9 1 2 1 .7 1 .9 1-1.4 1-1.5 1 0 1-.7 1 2.1 1-.4 1-.6 1 1.7 1-3.1 1 3.4 1-2 1-1.9 1-6.8 1 1.9 1 1 1 4.2 1-6 1 3.1 1-4 1 4.4 1 .4 1-4.2 1 .9 1 4.6 1-12.9 1-26.8 1-1.2 1-2.6 1 1 1 .6 1 4.9 1-2.4 1 1.3 1-3.7 1-.5 1 .4 1 2.1 1 3.2 1 2.1 1 7.5 1 5.1 1-4 1 .2 1 8.6 1-1.6 1 .3 1-5.4 1 5.1 1 3.6 1-10.1 1 10.9 1-8.3 1-2.6 1 7.7 1 3.6 1-9.9 1 11.2 1-.4 1 1.3 1 .9 1-6.9 1 5.2 1-5.3 1-1.8 1-1.9 1 8.9 1-.2 1-3 1-2 1 18.9 1-23.8 1 1.5 1-2.9 1 6.4 1-4.8 1 7 1 25.3 1-32.6 1 4.2 1-6.4 1 6 1 12.3 1 13.3 1-25.8 1-10.2 1 19.2 1-16.5 1-.5 1 5.6 1-11.6 1 7.6 1-4.4 1 2.7 1-1.2 1 1.5 1 3.3 1-12.8 1 3 1-8.3 1 44.7 1-47.2 1 9.2 1-1.2 1 43.3 1-46 1-9.8 1 13.9 1-.5 1-2.9 1 6.7 1-.7 1-8.2 1 5.2 1 4.4 1-3.8 1-4.4 1 2.2 1-6 1 10 1-6.3 1 9 1 1.2 1 32 1-31.9 1 1.7 1 14.9 1-35.8 1 1.2 1 14.9 1-2.6 1-6.4 1-5.7 1 12 1 43.5 1-40.7 1-.8 1-6.6 1-5.5 1 16.4 1-4.5 1 9.9 1-10.4 1 39.6 1-31.4 1-15.7 1 3.6 1-1.3 1 7.3 1-12.3 1 5.6 1 43.2 1-39.1 1-11.2 1 13.6 1-5.4 1-3.8 1 34.7 1-28.1 1-5.6 1 5.1 1-11.2 1 58 1-23.7 1-25.8 1 3 1-9.4 1 .5 1 24.3 1 9.6 1 5 1-40 1 2 1-4 1 2.9 1 42.9 1-50.4 1 44.2 1 10.3 1-44.3 1-4 1 1.4 1 13.9 1 14 1-22.9 1 25.6 1-24.5 1-1.3 1 8.8 1 2.1 1-6.5 1-2.8 1-5.6 1 43.5 1-30.2 1-17.8 1 9 1-2.3 1-1 1 7.2 1-13.1 1 36.3 1 9.5 1-40.2 1 9.5 1-9.2 1-8.8 1 13.7 1 11.4 1 11.8 1-23.2 1 37.4 1-47.7 1 44.6 1-32.4 1-8.4 1-9.8 1 19.1 1-6.1 1-6.7 1 36.8 1-30.7 1-7.2 1 5.6 1-4.3 1 33.1 1-34.3 1 27.2 1-23 1 3.1 1 42.7 1-10.3 1 14.1 1-34.1 1-20 1 10.1 1 3.8 1-9.6 1 3.9 1 7.2 1 .5 1 11.4 1-17.5 1 8.5 1-12.4 1 23.2 1-32.4 1 12.6 1-1.1 1 9.6 1-4.2 1 6.2 1-5.7 1 2.9 1 27.1 1-27.7 1 .3 1 42.2 1-41.7 1 5.5 1 18.5 1-17.6 1-11 1 2.2 1-2 1 3.7 1-4.7 1 6.8 1 25.1 1-43.9 1 7 1 14.8 1-20 1 43.8 1-8.5 1-31.5 1 19 1-17.9 1-2.5 1 6.1 1 7.4 1-6.1 1-10.1 1 13.4 1-9.8 1 2.1 1-3 1 2 1 10.1 1 3.7 1 15 1-10.7 1-18.8 1 10.5 1 .4 1-4.1 1-17.6 1 18.5 1-9.5 1-4 1 3.5 1 1.1 1-6.1 1-2.4 1 13.8 1-7.9 1 1.3 1 2.2 1 8.4 1-10.2 1 27.8 1-35 1 13.1 1-12.6 1 4.4 1 2.4 1-4.5 1-.4 1 12.7 1 20.9 1-10.9 1-6.9 1-.6 1 5.4 1 14.5 1-25.9 1-3.4 1 24 1-19.8 1 51.2 1-43.1 1 1.4 1-5.4 1-9 1 17.5 1-20.7 1 50.3 1-31.3 1-9.6 1-2.5 1 8.3 1-4.8 1-10.9 1 10.3 1-9.1 1 14.9 1-9.9 1-3.9 1 8.1 1-2.1 1-10.2 1-1.6 1 5.4" stroke="#f00" stroke-width="2.9" fill="none" stroke-linejoin="round"/>
<path clip-path="url(#c1)" d="M263.2 447.9l1-39 1 50.3 1 1.9 1-9.9 1 2.6 1 2.9 1-28 1 35.3 1 6.8 1-4.6 1-7.2 1-4.8 1 15.6 1-14.4 1 4.8 1 10.1 1-1.5 1-4.1 1-59.1 1 67.4 1-2.4 1 2 1-6.2 1 10.1 1-93.3 1 91.5 1-7.1 1 8.1 1-53.6 1 51.8 1 3.9 1-31.4 1-48.9 1-46.6 1-46.4 1-48.6 1-13 1 .6 1 2.6 1-2.7 1 .5 1-.9 1 3.3 1-2.6 1 1.7 1-1.5 1 .8 1 .6 1-.7 1 0 1 .7 1-1.6 1-.1 1 .1 1 .9 1-.1 1-1.1 1 1.1 1-1.1 1 .3 1-.4 1 .2 1 .8 1-.3 1-.5 1 .3 1 .3 1-.3 1 .4 1-.1 1-.1 1 .2 1 0 1-.1 1 0 1 15.2 1 89.1 1 36.1 1-55.1 1 46.4 1 23.2 1-69.6 1 14.2 1 44.9 1-48.6 1 30.8 1-2.9 1-13.5 1 5.7 1 12 1 9.1 1-19.7 1 16.2 1-43.5 1 24.6 1-19.6 1 10.1 1 2.5 1 22.3 1-6.1 1 12.4 1-41.9 1 22.8 1 5.8 1-29.1 1-6.5 1 9.2 1-11.2 1 35.7 1 10.1 1 6 1 6.2 1-16.8 1 3.1 1-13.5 1-23.8 1 31.9 1-28.2 1 .4 1 .9 1 59.3 1-61.7 1 12 1-22.9 1 26.1 1-22.8 1 34.2 1-38.8 1 17.4 1-19.8 1 55.7 1-.5 1 1.3 1-44.4 1 22.8 1-38.1 1 10.1 1 6.5 1-9 1 13.1 1 67 1-57.5 1-27.8 1-6.2 1 11.4 1 25.9 1-9.5 1 .7 1-21.8 1 10.6 1-20.8 1 22 1-.2 1 20.6 1-32.6 1 16 1-13.9 1 21 1 1.5 1-3.1 1 13.2 1-39.8 1 8.8 1 6 1-20.5 1 16.7 1 23.8 1-37.1 1 34.4 1-1.4 1 2.2 1 15.5 1-9.1 1-26 1 18 1 28.1 1-5.2 1 8 1-1.2 1-14.9 1 3 1 13.4 1-17.9 1 17 1 2.4 1-9.7 1-3.3 1-12.2 1 8.6 1-9.7 1 26.6 1-7.6 1-17.7 1 19.2 1-.6 1-18.7 1 20.9 1-14.3 1 6.4 1-10 1-.1 1 9 1 17.1 1-10.9 1-1.5 1-4.2 1-12.3 1 25.2 1-6.5 1-6.1 1-12 1-12.1 1 22.1 1-24.3 1 16.3 1-17.9 1 14.1 1-24.6 1 10.8 1 16.7 1-5.4 1-29.1 1 11.5 1 11.1 1-16 1-.5 1 5 1-3.1 1 24.3 1-20.4 1 21.3 1-20 1 17.8 1-17 1 1.1 1 5.9 1 3.2 1-4 1 4.9 1-9.7 1-17.1 1-.3 1 15.1 1-12.6 1-16.5 1 15.6 1 10.3 1 1.9 1-22.1 1 4.3 1 14.4 1-30.3 1 25.7 1 9.3 1-17.4 1-6.6 1 34.7 1-1.9 1-20.1 1 12 1 9.3 1-18.5 1 10.4 1 19.4 1 3.9 1-16.3 1 4.4 1 20.1 1-12.4 1-1.5 1-14.6 1 16.7 1-7.9 1 1.6 1-10.6 1-.4 1-12.1 1 14.9 1-13.4 1 10.6 1 3.8 1-31.6 1 19.7 1-18.3 1 18.4 1-21.5 1 8 1 75.7 1-63.6 1 2.5 1 25 1-44.1 1 21.6 1-13.5 1 1.7 1 30.5 1-11.2 1 9.2 1-25.8 1 44.1 1 .6 1-3.9 1 16.1 1-14.2 1 42.6 1 4.1 1-29.7 1 4 1 35.7 1-2.3 1 12.9 1 9.1 1-6 1 21 1 3.2 1-13.6 1-11 1 16.8 1-4.5 1-10.4 1-1.1 1 12.4 1 2 1-1.2 1 6.5 1-7.8 1 16.2 1 18.3 1 0 1-.7 1 3.8 1 3.8 1-30.9 1 19.3 1-1.5 1-4.4 1-4.8 1-3.1 1 20.8 1-21.2 1 5 1 18.2 1 14.9 1-18.4 1-4.4 1-15.2 1 7.3 1 16.5 1-9 1 20.8 1-17.2 1 7.3 1-12.4 1-.7 1-4.9 1 1 1-31.7 1 30.3 1 5.8 1 1.3 1-9.8 1 9.8 1-13.2 1-5.5 1 16.3 1-12.3 1 7.3 1-4.3 1 5.7 1 4.1 1-22.3 1 22.3 1-4.6 1-4.6 1 11.2 1-6.2 1 4.8 1-1.2 1-2.8 1-2.4 1 2.3 1-6.7 1 5 1-3.7 1 12.6 1-6.7 1-4.7 1 8.2 1-14.2 1 13.7 1-11.4 1 .4 1 7.2 1-6.1 1 17.5 1-9.3 1 4.3 1-1.6 1 .6 1-5 1-4.8 1 7 1 1.4 1-2.1 1 3.6 1-3.4 1-1 1 8.5 1-10.2 1 8.6 1-8.9 1 5.5 1 2 1-8.6 1 5.9 1-2.4 1 7.5 1-1.5 1-8 1 2.5 1 6.9 1-9.6 1 2.2 1 10 1-2.2 1-2 1-6 1 11.2 1 .9 1-3.3 1-5.1 1 5.7 1 1 1 .2 1-9 1-2.3 1 4.2 1 5.4 1-5.1 1-2.7 1 9.1 1-1 1-5 1 5.6 1-3 1 .6 1 8.3 1-10 1-.1 1 9.9 1 .4 1-4.7 1 5.4 1 .7 1-1.9 1 3 1-2 1-5.9 1 5.6 1 4.3 1-7.6 1 2.8 1 5 1-1.2 1 2.9 1-3.8 1 1.9 1-.8 1-5.7 1 3.6 1 5.2 1 1 1-5.6 1 2.1 1-.8 1-1.6 1 6.3 1-2.7 1 .1 1-4.2 1 5 1-3.6 1 3.6 1-6.9 1 7.5 1-3.5 1 .2 1-1.5 1 7.7 1-1.8 1 1.9 1-1.1 1 .8 1 .9 1 2.2 1-.6 1-.6 1 3.2 1-6 1 7.4 1-8.9 1 6.7 1-1.9 1-6.9 1 6.4 1-2.5 1-5.7 1 3.5 1-3.8 1 .3 1 2.6 1-6.9 1 .7 1-1.3 1 3.4 1-1.1 1-2.7 1 1.6 1-.4 1-.5 1-4.4 1 .7 1-1 1-1 1-.7 1-4.7 1 4.8 1 21.3 1-21.6 1 20.3 1 2 1-2 1 2.5 1-.9 1 2.2 1-4.5 1 3.8 1-2 1-14.9 1-26.2 1 28.3 1 10.8 1 6.4 1-88.3 1 .4 1 87 1-6.5 1-.4 1 4.6 1-4.9 1 1.9 1 2 1 .4 1-3.2 1 3.9 1-1.8 1 1.1 1-24.7 1 26.5 1-4.2 1 .5 1-26.3 1 30.6 1-5.7 1-16.5 1 18.9 1 1.1 1-35.3 1 29.8 1 4.7 1 1 1-4.4 1 6.5 1-27.3 1 5.7 1 18.6 1 2 1-1.2 1-33.3 1 36.2 1-5.9 1 8.3 1-8.7 1 2.6 1-2.6 1-2 1 1.5 1 5.7 1-.2 1 4.9 1-2.8 1 .5 1 6.6 1-8 1 .8 1 6.4 1 .8 1-3 1-1.8 1 2 1 5.4 1 3.1 1-3.2 1-4.6 1 2.4 1 3.6 1-4.9 1-2.4 1 4.2 1-1.7 1-1.6 1-3.2 1-6.5 1-1.5 1-2.9 1 4.7 1-2.2 1-2.4 1-4.8 1 1.4 1 .3 1 1.9 1 .3 1-2.7 1-3.5 1-1.1 1 .7 1 .7 1-.1 1 5.6 1-3.6 1 1.2 1 0 1-2.1 1-3.3 1 1.3 1-28.3 1 29 1-1.3 1-13 1 11.3 1-2.9 1 9.7 1-6.5 1 5 1 1.3 1-4.3 1-41.9 1 36.4 1 8.8 1-5.7 1 3.6 1-1.1 1-4.6 1 11.2 1-7.4 1-19.1 1 .7 1 23.2 1-1.4 1-7.4 1 4.1 1-18.4 1 20 1-1.1 1 6 1 1.3 1-1.7 1-33.8 1 30.1 1-1.6 1 2.8 1-5 1 4.9 1 .7 1-14.3 1 12.6 1-4.8 1 9.8 1-2.7 1-2.5 1-2.9 1 3.8 1-39.4 1 38.4 1 .6 1 .2 1-3.2 1-8.6 1 7.9 1 3.4 1-45.5 1 49.1 1-23.1 1 20.3 1-1.3 1-4.3 1 4 1-1.7 1-.2 1-.5 1 4.3 1 .3 1-9.4 1 3.9 1 7.9 1 2.5 1-101.2 1 98.7 1-7.2 1 10.5 1-2.5 1-26.3 1 27.5 1-2.7 1 1.8 1 3 1-7.3 1 3.3 1 2 1-3.8 1 4.2 1-1.7 1-12 1 14.7 1-1.2 1-23.9 1 20.5 1-5.3 1-203 1 212.9 1-8.3 1 2.8 1 2.5 1 1.1 1-5.9 1-16.8 1 7.2 1 17.3 1-8.7 1-1.3 1-15.5 1 20.4 1 2.4 1-4.6 1-21.6 1 6.9 1 13.4 1-3.5 1 11.7 1-5.8 1-8.8 1 8.6 1 8.3 1 1.7 1-1.7 1-3.2 1 4.8 1-4.3 1 .6 1 .5 1-6.2 1 2.2 1-2.9 1 .2 1 3.2 1-3.6 1 2.6 1-1.9 1-3 1 3.9 1-5.9 1 5.9 1-4.6 1 1.4 1 3.8 1-2 1-2.5 1-3.9 1-10.8 1 13.1 1-.5 1 3.7 1-9.3 1 1.7 1 4 1-3.7 1 .8 1 2.8 1-.4 1-.9 1-.7 1 .2 1-.9 1-2.3 1-6.5 1 7.9 1-1.2 1-.6 1-.2 1-2.7 1-1.7 1 .9 1-4.9 1-.6 1 4.5 1-2.2 1 1.9 1-31.1 1 21.4 1 2.7 1-5.6 1-.6 1 1.1 1-8.2 1-36.9 1-45.7 1 9.1 1 26.8 1-35.7 1-63.1 1 220.3 1 9.3 1-3.2 1 .3 1 .9 1-2.4 1 1.4 1-1.8 1 1.4 1-.2 1 1.7 1-2.4 1 2.2 1-.5 1 1.8 1-2.4 1-1.3 1 1.2 1-.6 1 2.1 1 .3 1-1.2 1-.2 1-2 1 .5 1-1.2 1 1.3 1 2.4 1-1.6 1 2.1 1 0 1-2.8 1 .6 1-6.3 1-3.9 1-4.7 1-1.5 1-13.8 1-49.8 1-46.2 1-28.1 1 66.8 1 44.7 1 20.4 1 .6 1 5.7 1 5.3 1-2.4 1 8.5 1-.7 1 5.3 1 1 1 1.2 1-.6 1 .6 1-2.4 1-1.1 1-.5 1 .6 1-2.2 1 .3 1 3.3 1-3.8 1-.2 1 3.5 1-3.4 1 2.2 1-.5 1-2.4 1 .2 1-3.9 1-6.2 1-7.2 1 2.4 1 5.8 1-1.2 1 4 1-7.5 1 1.2 1 5.4 1-.3 1 6.5 1 4.7 1 .7 1-1.8 1 .9 1-.5 1 2.8 1-3 1-.8 1 4 1-2.3 1 .5 1 .3 1 .8 1-1.2 1-.5 1 1.8 1-1.4 1 0 1 .9 1-2.5 1 2.6 1 .8 1-.2 1-2.4 1 3 1 .5 1-3.7 1-11.7 1 15 1-1.7 1 .7 1-2.4 1 1.2 1 .7 1-.4 1 2.7 1-.6 1-3.5 1 1.4 1-11.4 1 11.5 1 .3 1-.2 1 .8 1 1.9 1-1.6 1 1.9 1 .5 1-1.7 1-1.3 1 3.4 1-1.6 1 .9 1-2.2 1 1.7 1 0 1-1.8 1 .4 1-2.1 1 1.3 1-.3 1-.4 1 .7 1 1.3 1-2.3 1-.3 1 3.7 1-2.3 1-1.9 1 1.1 1 2.4 1-3.2 1 .2 1-.8 1 4 1-3.1 1-33 1 33.6 1-.1 1 2.1 1-.2 1-1.8 1-13.2 1 11 1 3.1 1-1.5 1 1.7 1-1.9 1 .4 1 .4 1 .1 1 .3 1-.5 1-.6 1-2 1 .2 1 1.3 1-12 1 14.3 1-2.5 1 3.9 1 1.6 1-4.1 1 2.4 1-1.3 1 .2 1-.2 1-1.5 1 1.6 1 1.8 1-3.2 1 3.3 1-1.1 1-1 1-.1 1-.4 1 1.4 1-35.5 1 35.6 1-2.5 1 2.1 1-1.3 1-2 1 1.2 1 .9 1-.7 1 .5 1 2.1 1-35.9 1 36.2 1-2.1 1-2 1 .9 1-1.6 1 2.5 1-54.4 1 51.8 1 0 1 .7 1-.5 1-57.1 1 56.5 1 .7 1-35 1 38.5 1 1.1 1-24.4 1 24.2 1-.6 1-17.1 1 16.2 1 .8 1-30.2 1 26.6 1 3.5 1-.2 1-.2 1-1 1 2.2 1-19.6 1 .4 1 14.4 1 1.3 1-20.6 1 21.2 1 .1 1-.1 1-.2 1-.4 1-5.4 1 4.5 1 2.9 1 1.4 1-22.3 1 21.9 1-2.5 1-7.7 1 7 1 .7 1-16.2 1 16.8 1 1.6 1-2.4 1-.8 1 2.8 1-2.5 1 3 1-2.5 1 1.5 1 1.6 1-2.3 1 1 1-24.4 1 24.5 1-.9 1-.8 1 .1 1 .8 1-.9 1-34.7 1 33.7 1 3.9 1-2.9 1-1.1 1 2.9 1-2 1 .1 1-.3 1 2.8 1-2.6 1 2.6 1-2.7 1 1.4 1-.1 1-2.1 1 2.1 1-1.2 1-.1 1 .2 1 1.5 1-1.4 1 .2 1 1.1 1 1 1-1.7 1-.3 1 2.5 1-2.3 1-1.4 1-.4 1 2.4 1-.9 1-.7 1-.6 1 1.1 1-1.5 1 .2 1-.7 1-2.1 1-1.8 1 .6 1 3.2 1-2.9 1 .5 1-1.1 1 1.6 1-2.2 1 2.8 1-2.5 1 2.6 1-1.5 1-.8 1-1.3 1-5.7 1-3.8 1 .1 1 3.3 1-.5 1-2.6 1 2.2 1-1.6 1-20.9 1 24.8 1-1.8 1 .8 1-.3 1-.6 1 1.2 1 1.1 1-.3 1-1.6 1 1.1 1-.2 1 1.6 1-2.3 1 .1 1 1.6 1 1 1 .1 1-.8 1 1.7 1 2.5 1-2.5 1-.7 1 4.1 1-3.6 1 0 1-.1 1 1.8 1-2.1 1 3.6 1-.2 1-3.7 1 .7 1 0 1 1 1 .2 1 3 1-.7 1-1.9 1 .3 1 2.4 1-1.8 1 1.8 1-2.4 1 2.9 1-1.1 1 .7 1-.1 1 .1 1 1.5 1-1.6 1 1.8 1-3 1 1.3 1 .1 1-1 1 2.5 1 0 1-5.8 1 3 1-1.3 1 0 1-5.7 1 .7 1-3.1 1-2.5 1-.5 1-2.9 1 .5 1-1.2 1 .3 1 1.2 1 .8 1-2.4 1 2.1 1-.9 1-.4 1-1.7 1 1.8 1-2.3 1 3.8 1 .6 1-1.2 1-1 1 .8 1 1.7 1-3.3 1 1.4 1 1.2 1-2.9 1 2.1 1 1.6 1 1.2 1-2.2 1 .4 1-2 1 1.7 1 2.3 1-1.5 1 .7 1-1.8 1 .6 1 1.6 1 .3 1-3.6 1-1 1 3.7 1-2.3 1 1 1-1.2 1 1.8 1-2 1 2.3 1 .5 1-3 1 .3 1 2.6 1 1.4 1-3.2 1-.8 1 0 1 2.9 1-.6 1-6.1 1 .3 1-3 1 2.7 1-4.4 1 .5 1-5.5 1-1.7 1-2.3 1 .2 1-2 1 2.4 1 .5 1-3.3 1 2.3 1 0 1 .4 1-1.7 1 .4 1-1.3 1 1.1 1 0 1-3.3 1 4.1 1-3.4 1-2.8 1 2.8 1-3.1 1-.9 1 1.5 1 1.5 1-1 1-2.3 1 .9 1 .3 1 1.1 1-3.6 1 4.4 1-4.3 1 3.9 1-.3 1-1.5 1 1.1 1-2.7 1 2.9 1-3.7 1-2 1 1.2 1-3.8 1 3 1 4.1 1-5.1 1-2.7 1 4.3 1 1.1 1-6.2 1 2.4 1-.7 1-5 1 .4 1-1.4 1 .8 1 2.1 1-4.2 1-.9 1 9.5 1-1.1 1 4.9 1 4 1 1.9 1 2.6 1 4.7 1 6.5 1-.4 1 2.9 1-1.6 1 2.7 1-2.4 1 .4 1 1.3 1 .5 1 .5 1 0 1 3.9 1-1.6 1 .4 1-7 1 2 1-2.4 1-3.8 1-.3 1-.6 1 .6 1-6.4 1-2.9 1 1.2 1 2.4 1-4.8 1 2.1 1-3.9 1-2 1-.7 1 2 1-1.3 1-3.2 1 1.7 1 1.1 1-4.4 1 2.1 1-1.8 1 .7 1 .6 1-.1 1 2.2 1-5 1 3.8 1-3.8 1 2.3 1 1.1 1-4.2 1-1.3 1 2.4 1-1.5 1 .2 1-2.9 1 4.3 1-.4 1-3.8 1 .4 1 9 1 7.2 1 4.6 1-.8 1-.3 1 .6 1-1.3 1-1.9 1-.6 1 .4 1 2.5 1-3.3 1-.1 1 .2 1-1.9 1 4 1-3 1-3.1 1 4.1 1-4.9 1 4 1-2.5 1-47.8 1 48.3 1-1.9 1-3 1-31.5 1 30.4 1 1.7 1-2.9 1-.8 1 4.1 1-1.3 1-1.2 1-4.1 1 2.2 1-1.1 1-2.6 1 2.1 1-.6 1 1 1-1.6 1-2.4 1-5.4 1-65.2 1 68.1 1-2.4 1 4.7 1-.5 1-4.1 1 4.5 1-3.7 1-2.1 1 1.1 1 1.7 1-9.7 1 3.7 1-.9 1-45.1 1 52.1 1-2.9 1 2.2 1-9.7 1-21.2 1 22.4 1 2.2 1 .9 1-2.8 1 5.3 1-3.1 1-.9 1-4 1 3.9 1-2.7 1-67.2 1 67.1 1 5.7 1-.9 1-4.6 1 5.1 1-.9 1-4.7 1 5.4 1-6.5 1-18 1 17.3 1-.8 1 6.2 1-36.3 1 35.5 1-6.3 1 3.8 1-4.4 1 4.4 1-17.3 1-5.6 1 25.6 1-7.2 1 1.3 1 8.7 1-6.3 1 4.8 1-5.9 1-6.6 1-11.4 1 21.9 1 4.4 1 .4 1-6.7 1 4 1-29.8 1 24.8 1 .4 1-34.2 1 36.2 1-2.6 1 2.2 1 2.9 1-.8 1 .4 1-10.9 1-39.4 1 44.5 1 5.7 1 0 1-1.5 1-48.7 1 53.5 1 1.6 1-32.3 1 28.8 1-5.7 1 1.1 1-29.9 1 35.1 1-6.3 1 7.2 1-9.7 1 10.7 1-20.8 1 13.1 1 2.3 1-62.3 1 62.6 1 4.7 1-12.1 1 8.7 1-24.6 1 20.2 1 5.5 1 1.2 1-7.5 1 9.7 1-48 1 41.5 1-2.5 1 .2 1 3.3 1-28.1 1 25 1 .8 1 2.2 1-.6 1-4.4 1 8 1-3.4 1-.5 1-15.3 1 16.5 1-4.8 1 4.7 1-.5 1 3 1-27.2 1-12.7 1 34.8 1 1.2 1-41.2 1 45.8 1-6.4 1-4.6 1-48.4 1 55.3 1-25.7 1 9.8 1 21.9 1-46 1 44.3 1 1.3 1-.2 1 .5 1-4.3 1 4.1 1-38.8 1 32.4 1 1.6 1-1.2 1 .6 1-1.3 1 3 1-20 1-3.2 1 23.9 1-3.8 1 2.8 1 1.1 1-2.5 1-12.7 1 8.7 1-19.5 1 1.2 1 25.6 1-15.5 1 15.5 1-18.5 1 11.9 1 6.9 1-2.9 1 .9 1-.5 1-25 1 27.9 1 .5 1-1.8 1-4.6 1 2 1 4.2 1-29.2 1 27.3 1-25.6 1 22.9 1 3.1 1 1.5 1-14 1 13.4 1 0 1-30.7 1 25.7 1 4.5 1-2.4 1-2.4 1 6.3 1-18.6 1 6.6 1 8.5 1-5.8 1 3.5 1-10.2 1 9 1 .8 1 6.1 1-1.9 1 3.3 1-3.3 1-3.1 1 2.5 1-20.7 1 18.2 1 2.3 1-67.7 1 68.9 1-32.9 1-7 1 18.3 1 14.4 1 5.4 1-4.6 1 5.4 1-42.4 1 34.7 1 4 1 1.7 1 2.5 1-1.5 1-3.7 1 2 1-55 1 44.5 1 13.6 1-32.5 1 7.3 1 22.6 1-.7 1 1.9 1-2.8 1-.1 1-24.4 1 10.5 1 16.3 1-.7 1 .7 1-7.2 1-20.3 1 26.9 1 3.7 1-49.1 1 48.8 1-1.8 1-2.3 1 3.5 1-5.7 1 1.3 1 3.9 1-4.6 1 .8 1-14.5 1 16.6 1 1.6 1-59.5 1 58.4 1 4.7 1-1.4 1-4.1 1 .8" stroke="#000" stroke-width="2.9" fill="none" stroke-linejoin="round"/>
<path clip-path="url(#c1)" d="M263.2 533.3l1 .9 1 4 1 .1 1-2.3 1-.1 1-1.4 1 3 1 1.8 1-1.8 1-2.1 1 5.2 1-1.2 1-3 1 2.9 1-16.7 1 15.2 1-1.6 1 .5 1-4.2 1 .6 1 2.4 1-1.3 1-2.4 1-3.4 1 1.9 1-.2 1-2.3 1 1.6 1-3.7 1-1.6 1-1.5 1-24 1-38.1 1-28.4 1-18.2 1-18.3 1-3.6 1 3.8 1 4.3 1 7.2 1-5.2 1 4.8 1 5.5 1 4.6 1 5.6 1 14.4 1-3.9 1 11.9 1 11.7 1 4.3 1 2.1 1 11.7 1 .7 1 9.2 1-1.6 1 .9 1 8.3 1 3.4 1-4.8 1 4.4 1-4.7 1 4.3 1-1.9 1 5.4 1-4.8 1 8.1 1-7.4 1 8 1-1.8 1 3.7 1 2.4 1-4.9 1-3.8 1-1.7 1-2.9 1-4 1-11.1 1-24.7 1-31.2 1 13.7 1 20.6 1 19.4 1 1.5 1 2.3 1 10.6 1-6.2 1 14.1 1-3.9 1 7.6 1 8.9 1 5.3 1-2.9 1 4 1-1.8 1-.7 1-3.7 1 6.8 1-4 1-4.3 1 1.3 1 6 1 2.5 1-1.1 1 1.9 1-8 1-2.7 1 7.6 1 3.6 1-4.5 1-2.1 1 3.2 1 3.7 1-7 1-1.4 1 10.4 1-4.5 1-6.8 1 1.1 1-5 1 17.5 1-10.5 1 .8 1-11.5 1 4.2 1 7.8 1-18.4 1 7.4 1-9.4 1 4.7 1 1.5 1 6.5 1-9.1 1 4.5 1 12 1-20.8 1 19.6 1-21.2 1 16.4 1-6.7 1 1.3 1 6.6 1-3.9 1-4.1 1-1.6 1 3.1 1-1.8 1 13.4 1-14.6 1 15.4 1-6.1 1-3.9 1 8.4 1-4 1 0 1-3.3 1 6.1 1 1.8 1 2 1 4 1-7.3 1 2.4 1-7.4 1 11.8 1 6.1 1-7.7 1 .6 1-4.4 1 10.4 1-17.3 1 7.5 1 3.6 1-8.6 1-8 1-2.5 1 7.7 1-6.4 1 11.4 1-10.3 1 1.3 1 2.9 1 5 1-3.5 1-11.9 1 18.1 1-6.7 1-7.5 1-3.7 1 10.6 1-7.2 1 13.2 1-16.8 1 9.5 1-2.7 1 7.3 1 10 1-8.1 1-4.4 1 3.9 1 3.1 1-3.2 1-.4 1 5.3 1 8.5 1-7.5 1 .8 1 2 1-14.2 1-2 1 10.5 1-11.1 1 19.1 1-2.8 1-1.1 1 6.2 1-9.7 1 10.1 1-.9 1 .6 1-20.8 1-.1 1-4 1 1 1-7.6 1 1.6 1 1.5 1 3 1 5.3 1-3.4 1 4.1 1 5.7 1-6.5 1-9.7 1 1.5 1-.1 1 4.5 1-7.5 1 4.5 1-12.4 1 8.2 1-7.2 1-5.6 1 6.3 1-4 1 5.6 1-4.6 1 3.5 1-.4 1-4 1 2.9 1 9.1 1-5 1-4.7 1 10.7 1-10.7 1 4.1 1-12.1 1 12.6 1-7 1-.9 1 5.4 1 0 1 5.8 1 9.3 1 5.1 1-3.4 1-2.5 1-5.5 1-1.6 1 3.5 1-5.8 1 3 1-.4 1-2.6 1 5.9 1 10.7 1-5.2 1-.4 1-7.5 1-1.1 1 2.4 1-1.2 1 9.7 1-3.3 1-4.4 1 .1 1-.7 1-11.9 1 .6 1 5.3 1-13 1 16.3 1 3.1 1-9.3 1 13.5 1-5.8 1 10.3 1 7.4 1-5.9 1 2.5 1 11.6 1-4.3 1 7.2 1-.1 1-.4 1 9 1-2.7 1 1.5 1-3.4 1-.4 1-.1 1 4.3 1 3.2 1-1.9 1 1.7 1-2.5 1 .5 1-3.1 1 .5 1 5.8 1-.2 1 1.6 1-3.2 1 1.7 1-3.7 1 4.3 1-.6 1-.2 1 .4 1 .6 1-1.1 1 1.3 1-1.3 1 .5 1 3.6 1 .1 1-3.3 1 2.3 1 3.7 1-5.3 1 1.2 1-.9 1 1 1 .9 1-2.1 1-2.4 1 .8 1-1.3 1 12.3 1-9.2 1-1 1 1.2 1-.2 1 1 1-1.3 1 .8 1-.9 1 3.3 1-1 1-.5 1-2.6 1-.5 1-.2 1 1 1 1.6 1 0 1 .9 1 1.6 1-4.2 1 2.9 1 .9 1 2.9 1-4.5 1 4.9 1 1 1-5.3 1-3.6 1 7.2 1-1.2 1 1.4 1-1.4 1-2 1 .3 1-1 1 2.9 1 .5 1 1.8 1-1.5 1-2 1-2.5 1 4.1 1-.2 1-3.6 1 1.7 1-3.3 1 5.1 1-4.2 1-.1 1 4.8 1-5.7 1 4.9 1 1.7 1-1.3 1 .3 1-.3 1 .8 1 1.6 1-3.5 1 1.3 1-1.7 1 1.8 1 .4 1-1.9 1 3 1-3.7 1-.9 1 1.1 1 3.7 1-1.7 1 1.3 1 1.8 1-6.1 1 3.8 1-4 1 5.5 1-.3 1-5.1 1 6.2 1-3.2 1-2.1 1-.2 1-.2 1 5.6 1-3.7 1 4.4 1-.9 1-2.4 1-.9 1 2.9 1-.2 1 .6 1-2.4 1 .1 1-2.6 1-1.6 1 5.8 1-.6 1 1.9 1-6 1 6.1 1-4.3 1 4.5 1-.5 1-.6 1-3.4 1 1.6 1 .6 1-2.3 1 .3 1 3.5 1-.8 1-1 1-.6 1-3 1 5.3 1 1.1 1-3.1 1-1.4 1 4.5 1-4.5 1 3 1-.7 1 2.3 1-1.9 1 3.7 1-4.4 1 3.7 1-5.3 1 4.6 1-4.7 1 1.8 1-.6 1-3.4 1 5 1-.3 1-3.5 1 3.2 1-3.4 1 1.4 1-.6 1 1.8 1 3.2 1 .9 1-1.4 1 .7 1-3.8 1-.3 1-.2 1 .9 1 1.9 1-4.3 1 5.9 1-4.2 1 3.5 1-5.5 1 4.6 1 1.4 1-3 1 3.9 1 .1 1-6.6 1 .9 1 1.3 1-2.8 1 4.4 1-3.4 1 4.5 1-3 1-3 1 .3 1 .5 1 5.1 1-6.4 1 4.6 1-3.5 1-2.1 1 2.9 1 .7 1-2.6 1 .4 1 2.7 1-.1 1-3.6 1 4 1-3.5 1 4.2 1-1.3 1 1.7 1-4.7 1 2.4 1 1.1 1-3.9 1 4.1 1-1.3 1 0 1 3 1-6 1-.1 1 .7 1-3.2 1 .7 1 3.7 1-3.8 1 2 1 1.3 1-1.8 1 1.5 1-.5 1-4.7 1 1.3 1 2.5 1-3 1-1.4 1-.3 1 .8 1 .3 1 3.5 1 .5 1-5.6 1 2.9 1-2.2 1-1.4 1 .3 1 4.1 1 1 1-1.5 1 1.6 1-3.8 1 3.3 1-.2 1 .1 1 3.1 1-5 1 .2 1-1.2 1 5.8 1-.3 1 3.6 1-2.5 1 5.4 1-2.6 1 2.2 1 .2 1-4.7 1 3.9 1 1.1 1-3 1 1.6 1-3 1 .8 1 1.6 1-2.2 1 2.8 1-.1 1-.6 1 2.4 1-1.4 1 .6 1-2.7 1-2.3 1 2.8 1 .1 1-5.9 1 .4 1 1.5 1 .3 1 1.5 1-1.5 1 2.3 1 .2 1-.7 1-4.5 1 2.9 1-2.7 1-4.5 1 4.4 1-.2 1-1.1 1 .7 1 .7 1-1.8 1-4.9 1 1.7 1 2.5 1 3.1 1-4.8 1 .6 1-.1 1 2.5 1-2 1 3.3 1-2.6 1 .1 1-2.8 1 1.4 1-.5 1-2.4 1 1.6 1 2.8 1-4.2 1 5.5 1-4 1-1.1 1 4.6 1-5.4 1 5.2 1 .1 1 2.6 1-4.1 1-.1 1 4 1-2.5 1 2.8 1-3.4 1-.3 1-.1 1 1.9 1-2.4 1 2.8 1-.7 1 3.3 1-.3 1-1.6 1-.5 1 .5 1 4.1 1 .3 1-4.9 1 .8 1 1.1 1 3.2 1-2.4 1 1.7 1-2.6 1 1.7 1-3.8 1 5 1-.1 1-4.1 1 3.9 1-2 1-1.5 1 1.1 1 3.1 1-2.8 1 .3 1 1.1 1-.2 1 1.5 1-3.9 1 1.6 1 1.9 1 .3 1-.6 1 1.9 1-3.5 1 1.9 1-31.8 1 32.1 1 .8 1-.3 1-.1 1-.8 1 .3 1 3.5 1-1.9 1-2.9 1 2 1-2.1 1-1.4 1 4.5 1 1 1 .1 1-.5 1-1.2 1 .2 1-3.9 1 4.1 1-4 1 2.2 1-93 1 63 1 28.6 1 .8 1-.2 1 2.7 1-1.5 1 1.9 1-3.7 1 4.3 1-26.1 1 23.8 1 .7 1-.8 1 2.3 1 .9 1-33.7 1 31.9 1 .9 1-4.1 1 3.6 1-.2 1 .2 1-.2 1-2.7 1-.6 1-1.3 1 2.1 1-2.8 1-.4 1 2.1 1-1.7 1-2 1 3.9 1-2.6 1-.1 1-.7 1-2 1 3.8 1 .4 1 0 1-1.8 1 .1 1-3.2 1 3.1 1-3 1-.9 1-.4 1 1.7 1-1.2 1-2.7 1-1 1 .3 1 1.8 1-1.5 1 2 1-3.1 1 1.9 1-1.1 1-4.9 1 .8 1 2.4 1-.9 1 0 1-.9 1 .3 1 .8 1-3.7 1 1.5 1 .7 1-3.4 1-.4 1-2.8 1-.3 1 3 1-2.7 1-.1 1 3.1 1-5 1-.1 1-.4 1 2.3 1-3.4 1 .8 1 .1 1 1.6 1-4.7 1-15.7 1-17.3 1-14.5 1-19.5 1-16.8 1 36.6 1 41.3 1 9.7 1-11.2 1-10.7 1 12.8 1 15.1 1 9.5 1 5.1 1 .6 1 2.9 1 3.6 1 3.1 1-2.4 1-.8 1-2.9 1-1.1 1-5.6 1-.5 1-1.6 1-.7 1 2.6 1 1.7 1-1.9 1 2.3 1-.3 1 3.1 1 2.6 1-.1 1 1.6 1-.4 1 1.3 1 2.1 1-.7 1-5.2 1-1.7 1-3 1-2.7 1-3.5 1-35.1 1-44.6 1-38.2 1 50 1 49.2 1 28.7 1 1.2 1 .3 1 4.9 1 1.3 1-1.9 1 .4 1 1.7 1-.4 1-2.8 1 2 1 .2 1-.7 1-1.2 1 1.5 1 .2 1-1.4 1 .5 1-.8 1 2.3 1-.5 1-1.8 1 2.2 1 0 1-2.5 1 2.5 1-6.8 1-16.1 1-6.4 1 5.3 1 .9 1-1.7 1 2.2 1-7.8 1-9.7 1-1.3 1 14.9 1 19 1 10 1-2.2 1 .1 1-.4 1 0 1 .4 1 .2 1-.3 1 1.2 1-2.2 1 3.1 1-2.1 1 .3 1 1.2 1 .3 1-3.9 1 .8 1 2.6 1-.2 1 .5 1-.3 1-1.8 1 1.1 1 1.4 1-3.9 1 3.3 1-2.1 1 .2 1-.7 1 .6 1 2.3 1-1.5 1 0 1 3.1 1-2.5 1-1 1-.4 1-8.7 1 8.1 1 .8 1 2.2 1-1.8 1 2.2 1-.6 1 .2 1-.6 1-1.5 1 .8 1-.5 1-.4 1 .8 1 1 1-.6 1 .2 1-3 1 2.4 1-2.6 1 .6 1-.4 1 1.9 1-1.1 1 1.2 1 1 1-.3 1-.4 1-2.5 1 2.1 1 .2 1-2 1 .8 1 1.6 1 .2 1-.2 1 .3 1-.6 1-1.5 1-8 1 9.9 1-1.3 1 .7 1-1.3 1 2.9 1-1 1-1 1 1.1 1-1.4 1 .2 1 1.5 1-1.8 1 2.6 1-1.6 1-1.5 1 2.3 1-.9 1-.9 1 1.3 1-3 1-.2 1 1.8 1-1.1 1 .9 1 1.9 1-.9 1-3.3 1 2.1 1-.4 1 3.2 1-.2 1-.6 1 .7 1-1.3 1 .9 1 .6 1-3.1 1 3.4 1-3 1-.1 1-1 1 2.4 1 .5 1-.4 1-1.6 1 1.2 1-1.4 1 .7 1-1.6 1 .8 1-2.1 1-2.6 1-2.8 1-.6 1-2.4 1-3.7 1-2.7 1-2 1-1.9 1-2.2 1 1.9 1 6.6 1 1.1 1 4.5 1 4.8 1 1.8 1 2.5 1 1.4 1 1.8 1 .8 1-.4 1-.3 1-.7 1 2 1-2.9 1 3.2 1 0 1-.6 1-2.9 1 2.5 1-.9 1-.9 1 .3 1-.3 1-.3 1-.1 1 3.2 1-3.8 1 2.8 1-2.2 1-.8 1 1.6 1 2.1 1-.2 1-1.4 1-.2 1 .7 1-1.8 1 .9 1 2.2 1-1.1 1-.4 1-2.2 1-.2 1 2 1-.8 1 2.1 1 0 1-1.9 1 2.2 1 .5 1 .7 1-3 1 1.2 1 .5 1-2 1 .5 1-1.2 1 .6 1 2 1-3.2 1-10.7 1 11.4 1-.5 1 3.2 1-3.2 1 0 1 1.4 1 1.4 1-.1 1-.3 1-.4 1-.6 1 .9 1-1.2 1-.9 1 .1 1-.7 1 3.4 1-1.4 1-.1 1 .5 1 .4 1-1.1 1 1.3 1-1.9 1 2.2 1-.8 1 .2 1 .2 1 1.1 1-1 1-2.9 1 .1 1 1.6 1 1.3 1-4.6 1 4 1-1.7 1 1.8 1-3.1 1 1.9 1 .2 1 2.6 1-4.3 1-.1 1-.3 1 1.7 1-.4 1 1.7 1-.4 1-.8 1-.6 1 0 1-1.6 1 2.2 1 2.3 1-.1 1-3.1 1-.9 1 1.1 1 1.4 1-1.8 1 1.1 1-.3 1 1.1 1-2.5 1 1.2 1-.6 1-.8 1-.3 1 3.8 1-3.9 1 .8 1 .4 1 1.1 1 .1 1-2 1 1.2 1 1.5 1-2.1 1 2.5 1-.6 1-1.8 1 2.3 1-2.5 1 1.5 1 .2 1 1 1-2.5 1-1 1 3.3 1-3.1 1 2.4 1-1.4 1 2 1-.3 1-2.1 1 2.4 1-1.2 1 1 1-3.2 1 2.3 1-.9 1-1.1 1 .9 1 .8 1-1.8 1-.7 1 3.8 1-.6 1-.3 1-3.6 1 3.8 1-1.9 1 1.5 1-.7 1 .1 1 .1 1-.9 1 .1 1-1.6 1 3.6 1-2.6 1-.2 1 3 1-2.2 1 .4 1 1.1 1-2.2 1 1.7 1 3 1-3.6 1-.3 1 3.1 1-3.6 1 3.1 1-1.2 1-.4 1 .3 1-2.1 1 .5 1 1 1 1.2 1 .5 1-.9 1-2.6 1 2.6 1-2.6 1 3.4 1-1.3 1 .3 1-2.7 1 .2 1 1.3 1 1.7 1-2.1 1 1.5 1-.9 1 1.8 1-2.4 1 2 1-2.7 1-1 1 3.7 1-2.6 1 3.8 1-1.9 1 1.4 1-2.2 1 .4 1-1.7 1 3.5 1-3.1 1 .5 1-.6 1 0 1 3.3 1-.6 1 2.7 1-2 1-2.4 1 1.5 1 2.3 1-3.5 1 .8 1-.5 1 0 1 2 1-3.6 1 .1 1 .2 1 1.3 1 0 1-1.6 1 .8 1 .6 1 2.5 1 .5 1-.3 1-.5 1-1.9 1 .1 1-1.3 1 .2 1-.9 1 0 1 .6 1 .6 1-.5 1 .6 1 3.1 1-3.6 1 .2 1 .2 1-.9 1 2.8 1 .3 1-3.4 1 1.4 1 2.3 1-3.5 1 3.2 1-2.8 1-.1 1-1.2 1-.2 1 3 1 1.7 1-4.8 1 2.7 1-11.1 1 12.5 1-.8 1 .6 1-1.1 1 1.4 1-.3 1-1.2 1-.2 1-1.9 1-.1 1 4 1 .7 1-3.2 1 1.1 1-2.3 1 4 1-2.2 1 1 1 1.5 1-2.5 1-1.7 1 .7 1 2 1-1.4 1 .5 1-1.2 1 1.8 1-2 1 5.3 1-.8 1-1.3 1 .1 1 .8 1 1.9 1-3.1 1 2.2 1 1.1 1-3.4 1 4.3 1-.3 1-3.1 1 2.4 1-2.9 1 2.7 1-.3 1-.6 1-2.9 1 3.9 1-2.5 1-2 1 2.7 1-.8 1 1.7 1-2.1 1-1 1-.5 1 1.6 1-2 1 1.3 1-.9 1 2.4 1 .1 1 .6 1-3.8 1 3.5 1-3.5 1 1 1 2.5 1-3.4 1 .2 1 1.5 1 .4 1-1.9 1-1.2 1-1 1 3.8 1 0 1-3.6 1 3.8 1-2 1 .7 1-.8 1-1.8 1 .9 1 2.9 1-4.6 1-.3 1 .4 1 .5 1 1 1-.7 1 2.6 1-2.3 1 1.4 1-1.2 1 1.1 1-4.3 1 3.3 1-2.5 1-.6 1 2.4 1 1.1 1-3.8 1 1.5 1-1.8 1 3.4 1-2.2 1 1 1 1.9 1-4.6 1 2.2 1 .3 1-.8 1 1.9 1 .1 1 0 1 .4 1-1.3 1 .1 1-1.4 1 .6 1-2.2 1 1.9 1-.4 1-2.8 1-.8 1 2.6 1-2 1 3.1 1-2.3 1 .7 1-.8 1-1 1 2.5 1-1.2 1 1.2 1-2.5 1 1 1-4.4 1 1.1 1 .5 1-9.3 1 7.5 1 3.5 1 .2 1 .6 1-3.1 1-3.9 1 1.1 1 3 1-.4 1-3.4 1 7.4 1-5.7 1 2.8 1-2.4 1 .1 1-.3 1-7.7 1 11.6 1-4.5 1 4 1 1.8 1-2.5 1 1.9 1-.9 1-2.8 1 3.7 1 1.5 1-.6 1-2.2 1-.9 1-10.1 1 10.4 1 1.2 1-.5 1 1.9 1-1.1 1 0 1-1.2 1 2.7 1-2.7 1-.6 1-1 1-.5 1 5.6 1-3.9 1-1.5 1 1.4 1 0 1 1.2 1 1.2 1-4 1-.7 1 2.4 1 0 1-1.9 1 5.1 1-5.3 1 3.7 1 .6 1 1.7 1 0 1-5 1-7.5 1 6.6 1 1.3 1 4.6 1-1.5 1 1.2 1-1.3 1-1.5 1 3.9 1-6.6 1 4.5 1 2.2 1 .1 1-1.8 1-1.6 1-.2 1-2 1 2.9 1-2.1 1 2.3 1-2.7 1 1.5 1 .9 1 2.8 1-5.5 1 4.4 1-4.8 1 5.9 1-3.4 1 2.6 1-3.3 1 1.4 1 .2 1 .5 1-.1 1-1.7 1 2.8 1-2.6 1 2.1 1 1.9 1-4.6 1 2.6 1-2.3 1 3.2 1-4.8 1 4.6 1-2.8 1 2.9 1-.2 1-2 1-2.9 1 .9 1-.4 1 4.2 1-2.6 1-2 1 0 1 3.9 1-2.3 1-1.4 1-.1 1-6.1 1 11 1 1.2 1-1.3 1 .2 1-3.1 1-1.9 1 3.3 1 1.8 1-3.2 1 3.6 1-3.7 1 1.2 1 2.5 1-.3 1 1.7 1-4.5 1 1.3 1-1.3 1 1.3 1 1.8 1-4.3 1 4.9 1-4.5 1-.2 1 .7 1-1 1 3.3 1-2.4 1 3.4 1-3 1 3.5 1-.5 1-3.1 1 1.5 1-1.7 1 3.1 1-2.6 1 3.4 1-.4 1-1.6 1 1.6 1-1.7 1 .3 1 1.8 1-1.1 1-2.3 1 2.6 1 .9 1-3.4 1 5.2 1-5.4 1 3.7 1 .7 1-.5 1 .8 1-.9 1 1.6 1 1.1 1-2.6 1 .8 1 .2 1 0 1-.4 1-.7 1 1.7 1-.5 1-3 1 1.1 1-.5 1 3.1 1-3.4 1 2.7 1-1.9 1 2 1-4.3 1 3.6 1-1 1-.5 1-2.2 1 1.6 1-.4 1-1.6 1 2.9 1-2.7 1 2.6 1-2.2 1 .2 1-1.6 1 3.1 1-1.4 1 2 1-3.2 1 1.1 1-1.3 1 2.4 1 .7 1-1.7 1 1.3 1 .4 1-2.5 1 4.7 1-3.6 1 1.2 1 .5 1 .2 1-.8 1-3.1 1 5.2 1-1.7 1-2.8 1-.6 1 2.8 1-.6 1 2 1 .1 1-4.4 1 3.3 1-3.4 1-.2 1 1.4 1-1.5 1 2 1-.3 1-2.6 1 2.3 1 1.3 1-10.4 1 5.1 1 4.8 1-4 1 4.9 1 .1" stroke="#f00" stroke-width="2.9" fill="none" stroke-linejoin="round"/>
<path clip-path="url(#c2)" d="M263.2 622.5l1-1.2 1 .1 1 2.8 1-1.7 1-2.4 1 1.6 1 .5 1 1 1 1.8 1-.8 1-3.4 1 1.1 1 1.7 1-3.2 1 1 1 2.4 1-.3 1-1.5 1 .6 1 0 1-1.4 1 4.2 1-2.8 1-.3 1-1.8 1 1.2 1 2.4 1-3.3 1 1.5 1-1.8 1-5.5 1-12.9M354.8 553.5l1 18.1 1 6.6 1 36.3 1-11.4 1-2.7 1 6.8 1-15.8 1-.1 1 11.3 1 1.2 1-14.3 1 3.7 1 13.6 1-11.6 1-7.2 1 18.7 1-13 1 16.6 1-12.9 1 1.6 1 7.8 1-3.4 1-13.3 1 8.1 1 1.7 1-2.4 1 10.4 1-5.3 1-14.6 1 2.9 1 8.5 1 20.1 1-23.4 1 .2 1-8.4 1 19.1 1-12 1 8.4 1-4.7 1 1.6 1-10.3 1 8.7 1 6.3 1-3.5 1 2.7 1-5.6 1-4.3 1 6.3 1-2.7 1 6.2 1 2.6 1-9.3 1-1.3 1 4.4 1-10.5 1 1.5 1 3.3 1-6.9 1-1.2 1 1.2 1 3.5 1-3.9 1 1.1 1 .6 1 3.4 1-2.1 1 .1 1-5.6 1-.1 1-.3 1-2.4 1 1.6 1 0 1 3.9 1-4.5 1 5.4 1-1.5 1-1.4 1 4.7 1-.7 1 1.3 1-8.5 1 1.2 1 7.1 1-7.6 1 3.7 1-2.5 1 7.3 1-3.4 1 8.2 1-5.7 1 3.6 1 .9 1-4.9 1 9.6 1-8.4 1 8.1 1-4.8 1-.6 1 4 1 .4 1-2.1 1-6.2 1 2.6 1-1.2 1 5.6 1 .2 1-6.4 1 9.6 1-1.1 1-3.7 1 2 1 .9 1-4.6 1 .6 1 2.4 1 5.7 1-2.6 1-2.5 1 3.3 1-3 1 4.7 1-4.5 1 7 1-1.7 1-4.9 1 .4 1 8 1 1.1 1-8.2 1 2.5 1-2.4 1 3.3 1 2.9 1-.8 1-8.5 1 6.7 1 .6 1-6.2 1 7.6 1-7 1-4.8 1 5.2 1 6.1 1-9.2 1-.9 1 3.5 1 5.7 1-1.2 1-4.1 1 8 1 1.2 1-13.6 1 2.6 1-2.4 1 6 1 .5 1-3.8 1 1 1 2.6 1 7.6 1-15.1 1 11.5 1 .1 1 4.6 1-12.6 1 7.1 1-1 1 3.4 1 11.1 1-13.2 1-6.2 1 15 1-5.1 1-8.9 1-4.3 1 9.4 1 2.8 1 1.5 1-8.8 1 21.1 1-2.6 1-9.9 1 20 1 8.9 1-9.2 1 9.9 1-.7 1 8.6 1-7.6 1-1.9 1 1.8 1 1.4 1-7.5 1 5.7 1-11.8 1 2.7 1 4.5 1-2.2 1-9.6 1-1.2 1-5.4 1 2.7 1-5.5 1-1.9 1 3 1-1.9 1 1.2 1-9.9 1 9.1 1-2.2 1-1.1 1 3.3 1-3.5 1-.4 1 0 1-1.2 1-1.6 1 3.8 1-29.1 1 26.9 1 4.2 1-1.7 1 .4 1 4.4 1 .7 1-2.5 1-1.6 1-3 1 1.1 1 1.8 1 3.4 1-1 1-3.6 1 2.4 1 0 1 .9 1-2.9 1 4.6 1-1.9 1-2.4 1 4.4 1-2.4 1-.6 1-2.8 1-.7 1 5.2 1 .4 1-3.8 1 1.6 1 .2 1 2.1 1-3.5 1-1.5 1-.3 1 .7 1-.1 1 3.6 1-5.1 1-.4 1 3.9 1-2.1 1 3.8 1-2.3 1-2.4 1-.8 1-.7 1 6 1-5.6 1 3.7 1-4.1 1 1.3 1 3.4 1-1.9 1-.8 1 2.8 1-.7 1 .1 1-1.8 1-.3 1 2.1 1-2.4 1 2.7 1-3.7 1 1.6 1-.5 1 .3 1-.1 1 1.9 1-2.6 1-.5 1 4.4 1-3.5 1-.5 1 .3 1 .7 1 3.2 1-4.1 1 .2 1 1.9 1-.4 1-1.6 1 2.7 1-.4 1-1.3 1-1.2 1 1.5 1 .8 1-3.2 1 2.7 1-3.5 1 3 1-1.7 1 .1 1 1.2 1 1.3 1-.1 1-1.7 1-1.7 1 4.1 1-.3 1-.9 1 2.4 1-1.2 1-.1 1-2.3 1-.6 1 3 1-3.1 1 .5 1-1.6 1 1.2 1-.9 1 1.4 1-.8 1 2.9 1-3.4 1 3.5 1-4 1 .9 1 3.2 1-1.4 1-.1 1-1.5 1-1.3 1 1.7 1 .1 1 0 1 .8 1-2.1 1 .7 1 2.1 1-1.3 1-1.4 1 3.1 1-.2 1-1.7 1-.2 1 .9 1 .4 1-.5 1-.3 1 2 1-1.4 1 .8 1-2 1-.1 1 1.6 1 .4 1-4 1 .6 1 3.3 1-2.4 1 2 1-3.1 1 .4 1 .1 1 1.2 1 1 1-1.3 1 1.8 1-1.9 1 2.7 1-.3 1-1.2 1-.2 1-1.7 1 2.5 1-1.8 1 .4 1 1.3 1-.9 1 1 1-1.7 1 2.2 1-3 1 .9 1 1.8 1-1.6 1-1 1 2.2 1 .7 1-.3 1-1.1 1 1.5 1-2.4 1 2 1 0 1 .3 1-2.4 1-1.2 1 3.1 1-.1 1 .4 1-.5 1-1.5 1-1 1-.4 1 3.2 1-1.4 1-1.4 1 1.7 1 .8 1 .1 1-2.2 1 .8 1-1.2 1 1.8 1-1 1 2.5 1 .1 1-1.3 1-1.4 1 1.9 1-.1 1-.3 1-1 1 2.1 1-2.6 1 .9 1 1.3 1-2 1 .1 1-.3 1 1.9 1-.7 1-.7 1 .3 1-1.3 1 2.8 1-2.4 1 1.5 1-1 1-.5 1 .8 1 .9 1 .1 1-.8 1 .1 1 .1 1 1 1-2.6 1 2.2 1-.2 1-.5 1-.4 1-.8 1 1.2 1 .2 1 .4 1-2.8 1 1.4 1 .9 1 .1 1-2.2 1 .1 1 .9 1-1.2 1 1.3 1-.5 1 1.1 1-.1 1-.4 1-.9 1 2.3 1-2.6 1 3.4 1-1.7 1-.4 1 1.6 1-2.8 1-.4 1 1.4 1-1.4 1 1.3 1-.1 1-1.3 1 .8 1-1.5 1 .4 1 1.7 1-1.8 1 1 1 1 1-1.4 1 .3 1 .1 1-.3 1-1 1 2.3 1 .3 1-1.5 1 1.5 1-1 1 .5 1 .2 1-1.9 1 .3 1 1.1 1-1.4 1 .9 1-.5 1 1.1 1-1.3 1-.4 1 .8 1 1.2 1-.9 1-.7 1 1.2 1-1.1 1 .8 1-.6 1 .4 1-.9 1 .5 1 .7 1-.8 1 .7 1-.3 1 .2 1-1.2 1 .6 1-.4 1 .1 1 1.1 1-1.1 1 .5 1-.6 1-.1 1 .5 1 1.2 1-.1 1-1.8 1 0 1 1.7 1-.2 1-.2 1 .4 1-1.7 1 0 1 .3 1 .7 1 0 1-.4 1 1 1-.5 1-.2 1 .2 1-1.2 1 1.1 1-1.4 1 .4 1 .7 1-.4 1 .1 1-.1 1 .5 1-.7 1 .1 1 .1 1 2.2 1-1.6 1 .2 1-.9 1 .7 1 .7 1-.8 1 .5 1 .8 1-.7 1-.3 1-.6 1 1.5 1-.3 1-.3 1-.3 1-.2 1 0 1 .6 1-.2 1 .4 1-1.5 1 1.4 1-1.2 1 1.5 1-.3 1-.1 1-.2 1 1.4 1-1.7 1 .6 1-.9 1 .7 1 .4 1-.7 1 1.2 1 0 1-1.4 1 .1 1 .7 1-.6 1 .2 1-.4 1 .4 1 1.1 1-.3 1-.3 1-.5 1 1.1 1-.5 1 .2 1-.6 1-.9 1 .1 1 .4 1 1.2 1-1.5 1 1.3 1-.9 1-.2 1 0 1 .4 1 0 1-.4 1-.3 1 1 1-1 1 .6 1 .1 1-.3 1 .2 1 .9 1-.5 1-.3 1 .7 1 .1 1 .3 1-1.3 1 .3 1 .7 1-.4 1 .5 1-1.1 1 0 1 1.3 1-1 1 .4 1-.1 1-1 1-.1 1 .6 1-1.1 1 2.7 1 0 1-2.2 1-.1 1 1.7 1-.2 1-1.7 1 0 1 .2 1 1.8 1-.6 1-.4 1 1.3 1-1.2 1 .8 1-1.1 1 .9 1 .4 1-1.1 1 1.5 1-1.1 1-1.4 1 1.3 1-.2 1 .6 1-1.4 1 1 1-1.3 1 1.5 1-.8 1-.3 1 .4 1 1.4 1-.8 1-1 1 .6 1 .2 1 .8 1-1.4 1 1.5 1-1.7 1 1.8 1-.1 1-1.7 1 1.6 1-.5 1 .5 1-1 1 .8 1-1.5 1 .5 1-.5 1 1.8 1 2.6 1-.4 1 96.6 1-96.3 1 .1 1 .6 1 .1 1-1.1 1 .9 1 .1 1-.4 1-.4 1 1.2 1-.4 1-.3 1 .4 1-.1 1 .9 1-1.5 1 1.2 1-1.1 1 0 1-.1 1 1.1 1 .1 1-.4 1-.9 1 1.2 1 0 1-.5 1 .2 1-.8 1-.3 1 .3 1 .6 1-.9 1 1.5 1-.7 1 .5 1-.1 1 1.1 1-.8 1 .9 1 .5 1 .6 1-1.4 1 .6 1 1.4 1-2.3 1-.8 1 .4 1 .6 1-.3 1-1.5 1-.3 1 .6 1 .3 1-1.2 1 0 1-.5 1-.7 1-.2 1-.5 1-1.3 1 .7 1 0 1-1.1 1 .3 1 1.1 1-.1 1 1.2 1 .8 1 .6 1 .2 1-.7 1 .8 1 .1 1 1 1-.4 1 .4 1-1.6 1 1.4 1-1 1-.1 1 .6 1-.2 1 .2 1-.3 1-.5 1 .4 1-.7 1-.2 1 .9 1 .6 1-.8 1 .3 1-.3 1-.6 1 .7 1-.5 1-.7 1 0 1 1 1 .1 1-1 1 .3 1 .4 1-.7 1 .8 1-.7 1 .4 1-1.3 1 1.1 1-.8 1-.1 1 0 1-.1 1 1.1 1-.6 1-.1 1-.8 1 1 1 0 1-.7 1 .8 1-.1 1-.2 1 .2 1 0 1 .2 1-.7 1 .1 1 .6 1 .1 1-1.1 1 .2 1 .2 1 0 1 .6 1-.2 1-.1 1 0 1 0 1 0 1-.8 1-.2 1 .5 1 .2 1-.6 1 .3 1-.3 1 .4 1-.2 1-.3 1 .4 1 0 1-1.2 1 .8 1 .4 1 0 1-.7 1-.2 1 .2 1 1.3 1-.1 1 .1 1-1 1 .8 1-.6 1-.5 1 .4 1 .4 1-1.2 1 1.3 1-1.4 1-.3 1 .3 1 .7 1-1.1 1 .4 1 0 1 0 1-.5 1 .2 1-.3 1 1.3 1-.3 1 .1 1-.4 1 .5 1-.5 1 .4 1 .1 1-.6 1-.4 1 1 1-.6 1-1 1 .1 1 1.1 1 .1 1-.8 1 1.1 1-.7 1-.7 1 .1 1 .7 1-.1 1-.9 1 .8 1-1.7 1-.7 1-.4 1-.2 1-.1 1-.4 1 1.2 1-.7 1 .6 1-.7 1 .3 1-.5 1 .9 1 .4 1-.1 1 .1 1-.3 1 .4 1-.8 1 .6 1-1 1 .5 1-.7 1 .8 1 .7 1-.6 1 .3 1 .1 1 .2 1-.5 1-.6 1 .4 1 .2 1-.4 1 0 1-.6 1 .6 1 .6 1 .6 1-1.6 1 .1 1 .7 1 0 1-.5 1 .2 1 1 1-.5 1 .6 1-.2 1 .3 1-.3 1-.2 1 .3 1-.5 1-.1 1 .5 1-.9 1 0 1 .1 1 1.6 1-.8 1-.5 1 .8 1 0 1-.5 1 .8 1-1.4 1 .9 1-.6 1 .8 1-.9 1-.2 1 1.4 1-1.1 1 .4 1 .1 1 .4 1-.4 1-.2 1 .7 1 .1 1-.3 1-.3 1 0 1 .8 1-.9 1 .8 1-.1 1-1.1 1 1.1 1 0 1-.7 1 .2 1 .6 1 .5 1-1.6 1 .7 1-.6 1 .7 1-1.3 1 .6 1 .5 1-.1 1 .2 1 .2 1 .1 1-.3 1-.1 1-.4 1-.4 1 1.1 1-1.2 1-.1 1 1.4 1-.4 1-.7 1-.2 1 1 1 0 1-.3 1 .1 1-.5 1 .8 1 .2 1-.2 1-1.3 1 .9 1-.6 1 .1 1 1 1 .4 1 0 1 .2 1-1.1 1 1 1-.7 1-.3 1 .5 1-.1 1 .1 1-.5 1 .3 1-.8 1 .8 1 .2 1-.2 1 .8 1-.9 1 .1 1-.2 1-.4 1 .9 1-.2 1 .3 1 .1 1-.4 1-.3 1-.7 1 .3 1 .3 1-.5 1 .6 1 .5 1-.8 1-.3 1 .1 1 .9 1-.1 1-.2 1 .3 1 .3 1 0 1-1.5 1 .3 1 .3 1-.7 1 0 1 .8 1 .3 1-.6 1-.1 1 .2 1 .7 1-.4 1-.6 1 .2 1 .2 1-.2 1 .1 1 1.7 1-1.7 1 1 1-.1 1-.5 1-.7 1 1.4 1-.2 1-.7 1 .8 1-.5 1-.2 1 .8 1-1.1 1 .6 1-.6 1 .7 1-.5 1-.2 1 .1 1 .3 1-.9 1 .9 1-.3 1-.2 1 .2 1 .1 1-.7 1 .5 1 0 1-.4 1 .6 1 0 1 .7 1-1 1 0 1 1.1 1 .2 1-1.4 1-.1 1 .4 1 .7 1 0 1 .1 1-.6 1 .6 1-.2 1 .4 1-.4 1-.6 1 1 1-.7 1-.1 1 0 1 .6 1-.6 1-.3 1 .1 1 .4 1 .1 1-1 1 1 1-.2 1 .6 1-1.2 1 .3 1 .5 1-.6 1-.1 1 .3 1-.2 1-.3 1 0 1 .2 1-.2 1-.1 1 .2 1 .4 1-.3 1 .3 1-.7 1 .3 1 0 1 1 1-.8 1 .7 1-1 1 1.1 1-.7 1 1.1 1-1.1 1 .4 1 .1 1 .2 1 .2 1-.5 1 1 1-1.5 1-.1 1 .5 1 .1 1 .8 1-.6 1-.1 1 .3 1-1 1 .3 1-.4 1 1.1 1-.8 1-.4 1 1.1 1 .2 1-.5 1-.3 1-.2 1 1.3 1-.4 1-.8 1 .3 1 .1 1-.4 1-.4 1 0 1-.1 1 1.3 1-.6 1 .2 1 .2 1-.2 1 .7 1-.4 1 0 1-.3 1-.5 1 .4 1 .1 1 .5 1-.8 1 .1 1-.1 1 .6 1 0 1-.4 1-.1 1-.3 1 .3 1-.6 1 .5 1 .1 1 .2 1 .3 1-1.1 1 .8 1-.4 1 .3 1 0 1 .2 1-.1 1-.8 1 .7 1 1 1-.3 1-.9 1-.2 1 1 1-.8 1 .5 1-.4 1-.8 1 .5 1 .4 1-.1 1 .7 1 .5 1-1.2 1 1.3 1-.5 1-.1 1 .2 1 .7 1-.2 1 .5 1-1 1 .8 1-.1 1 .7 1 .9 1-.4 1-.4 1 .4 1 0 1 .2 1-.2 1 .8 1 .2 1-.8 1 1.1 1 .6 1-1.2 1 .1 1 .1 1-.3 1 1.1 1 .2 1 0 1 1.6 1 .2 1-.5 1-.6 1 .1 1 .7 1-.7 1 1.9 1-.9 1 1.1 1-.4 1 1.2 1-.1 1-2.2 1 1.1 1-.4 1 .8 1 .5 1 0 1-1.1 1 .4 1 1.5 1 .3 1-.1 1-2 1 2.2 1-.8 1-1.1 1 1.7 1 .2 1 .5 1-1.3 1-.3 1 .7 1 1.7 1-.2 1 .2 1 .9 1 .2 1-1.5 1 2.4 1-1.9 1-.6 1 1.4 1-.5 1 .1 1-.4 1-.1 1-.1 1 2.3 1-1.5 1 .4 1 1.8 1-.2 1-.9 1 1.6 1-2.3 1 2.7 1-1.4 1 .8 1-1.9 1 2.2 1-.7 1-1.9 1 1.6 1 .1 1-2.5 1 2.2 1-1.8 1-1.2 1-.9 1 1 1 1.3 1-1.1 1 .6 1-1.5 1 2.4 1 .6 1-1.5 1 1.8 1-2.6 1 1 1-.6 1 1.1 1 .3 1-2.4 1 2.7 1-1.4 1 .2 1 1.8 1-.6 1 .3 1-1.8 1-.1 1 .3 1-1.5 1 2.3 1-3.7 1 1.2 1 1.1 1 .7 1-1.3 1-1.3 1 .2 1 .9 1 .9 1 1.4 1-2.9 1 .9 1 .8 1 .7 1-.8 1 .3 1 1.2 1-.5 1 .8 1-3.7 1-.2 1 1.2 1 .4 1 1.8 1-1.8 1-.1 1-1.1 1 1.2 1-1.5 1-.3 1 .1 1 1.3 1-.7 1 .5 1-1 1 1.5 1-2.7 1 3.1 1-.2 1-1.9 1 2.1 1-.4 1-1.2 1 0 1 .6 1 .7 1 .5 1 .2 1-2.8 1 4 1 .2 1-2.4 1 1.7 1-1.9 1 1.2 1 1.3 1 .1 1-1.2 1-.8 1-2.1 1 2 1-1.5 1 .1 1-.2 1 .4 1 .5 1-.8 1 1.3 1 .9 1-3.1 1 0 1-.6 1 3.2 1-1.7 1-.7 1 3.3 1-1.5 1-1 1 1.8 1-3.3 1 1.6 1-.9 1-.5 1 .3 1 1.8 1-3.4 1 .7 1 1.6 1-1.6 1 1.9 1 2 1-1 1-.2 1-1.9 1 1.9 1-.5 1 1.3 1-1.5 1 1.2 1-1.1 1 .9 1-2.5 1 .6 1 1.4 1 .2 1-1.6 1 2.3 1-1 1 .2 1-.9 1-.8 1 3.1 1-.7 1 1.8 1-3.3 1 1.6 1-2.9 1 1 1 2.2 1-2.8 1 1.6 1-.6 1 2.1 1-1.1 1 .8 1-1.1 1-.3 1-1.4 1 2 1-2.7 1 3.2 1 .2 1 .8 1-.7 1-1.8 1 2.1 1-2.8 1 2.2 1-1.6 1 .7 1-1.8 1-.4 1 .4 1 .6 1 1.1 1-2.2 1 .7 1-.4 1 2.8 1 .2 1-1.2 1 1.2 1-1.1 1-.1 1-.6 1-.3 1 1.1 1-.2 1 1.1 1 .3 1-.6 1-1.6 1 1 1 2.3 1-.6 1-2.9 1 1.2 1-.4 1-.3 1 1 1-1.7 1 1.4 1-.2 1-1.9 1 .3 1 1 1-.5 1 .6 1-.7 1 .6 1-.6 1-.3 1 .1 1-.1 1 2.4 1-3.8 1 1.2 1 2.4 1-.4 1 .3 1-1.9 1 .4 1 .6 1 .7 1-.6 1-1.5 1 2.8 1-.3 1-.5 1-2.5 1 2.3 1 .8 1-1.4 1 2.2 1-1.1 1-2.3 1 2.5 1-1.9 1 2.8 1-2.4" stroke="#000" stroke-width="2.9" fill="none" stroke-linejoin="round"/>
<path clip-path="url(#c2)" d="M263.2 770.6l.6-13 .6 6.4 .6 7.6 .6 6.8 .6-2.9 .6 8.1 .6-15.7 .6 .5 .6 12.3 .6-17.1 .6 18.2 .6-15.5 .6 17.4 .6-8.2 .6-3 .6 .5 .6 .2 .6 18.3 .6-14.5 .6 18.2 .6-3.4 .6-15.1 .6-6 .6-.6 .6-6.3 .6-1.3 .6-.6 .6 3.7 .6-.5 .6 3.9 .6 12.7 .6 5.9 .6 2.1 .6-24.5 .6 7.3 .6 10 .6-.2 .6 .5 .6 6.5 .6-21.4 .6 3.4 .6-.4 .6 18.7 .6-7 .6-21.6 .6 14.5 .6-3.6 .6 9.7 .6-4.9 .6-14.1 .6 11.3 .6 10 .6 9.7 1 40.6M329.1 822.3l1-1.8 1 2.2 1 2.1 1 2.8 1 .9 1-11.9 1 8.4 1-4.9 1 9.2 1-.4 1-8.9 1 3.2 1 3.6 1 2.4 1-3.3 1-8.3 1-1.5 1 2.1 1-5.7 1 12.7 1-12.1 1 13.3 1-2.9 1-4.5 1-9.9 1 3.6 1 5 1-1.6 1-58.2 1 53.4 1-4.6 1 10 1 4.8 1 .3 1-1 1-1 1 2.6 1 5.5 1-22.6 1 10.8 1 .6 1-5.5 1 2.1 1-9.5 1-6 1 10 1-.8 1-3.7 1-6.1 1 16.3 1-4.6 1-2.2 1-16.3 .6-22.4 .6-13 .6-36.3 .6-3.1 .6 17.1 .6-59.2 .6 30 .6-38.3 .6 .6 .6 8.4 .6 5.6 .6 11 .6 11.4 .6-37.3 .6 10.2 .6-29.8 .6 122.5 .6-70.8 .6-56.6 .6 54.3 .6-32.9 .6-18.6 .6 8.1 .6-4.8 .6 22.6 .6 35 .6 3.7 .6-67.3 .6 33.5 .6 4.3 .6 41.9 .6-65.8 .6 26.1 .6-14.4 .6-17.3 .6-3.4 .6 10.4 .6 25.5 .6-25.7 .6-10.1 .6 41.7 .6-18.4 .6 14.8 .6 84.2 .6-108.5 .6-43 .6 75.9 .6 .5 .6-32.7 .6 35.4 .6-15.4 .6-19 .6 36.4 .6 5.4 .6-45 .6 22.4 .6 17.3 .6-55.2 .6-3.5 .6 43.8 .6 88.5 .6-103.2 .6-2.1 .6-6.5 .6 5.7 .6 .3 .6-6.6 .6-2.5 .6-9.1 .6 19.6 .6 11.6 .6 0 .6 4.5 .6-40 .6 6.7 .6 9 .6-6 .6-13.2 .6 2.4 .6-9.1 .6 27.6 .6-28.1 .6-19.8 .6 2.8 .6 5.8 .6 49.6 .6-6.5 .6-19.6 .6 8.6 .6 31.6 .6-4.6 .6-35 .6-6.4 .6 40 .6-8.5 .6-48.8 .6 24.3 .6 18.6 .6 13.9 .6-10.9 .6 2.1 .6-9.6 .6-17.6 .6-13.6 .6 44.7 .6-20.5 .6 1.6 .6 19.1 .6-16.1 .6 7.1 .6-29.7 .6 16.8 .6 .3 .6 25.8 .6-38 .6 38.7 .6 2.7 .6-23.7 .6-5.7 .6-.2 .6-18.5 .6-.8 .6 4.1 .6 39.3 .6-17.8 .6-6.4 .6-3.9 .6 22 .6-42.2 .6-3.4 .6 40.7 .6-28.5 .6 25.5 .6 12.4 .6-14.5 .6 14.2 .6-33.4 .6 44.8 .6-18.5 .6 2.6 .6 17.2 .6-3.3 .6-8.5 .6-1.5 .6-5.1 .6 1.4 .6-10.7 .6 15.1 .6 18 .6-4.6 .6-16.5 .6 12.1 .6 12.2 .6 19.8 .6-19.1 .6-10.2 .6 33.7 .6-11.9 .6-15.9 .6-3.4 .6 9.3 .6-1.6 .6-28 .6 36.5 .6-46.6 .6 49.5 .6-39.6 .6-2.3 .6-7.5 .6 62.6 .6-10.3 .6 13.9 .6 28.5 .6-28.7 .6-44.8 .6 27.7 .6 53.2 .6 15.2 .6-21.7 .6-47.5 .6 27.9 .6-18.6 .6-50.6 .6 20.5 .6 44.2 .6-17 .6-63.2 .6 56.2 .6-46.3 .6 49.9 .6-40 .6 2.4 .6-2 .6-42.4 .6 25.5 .6 26.3 .6-48.2 .6 39.7 .6-3 .6-13.4 .6-31.5 .6-7.9 .6 41 .6-18.2 .6-13.4 .6 25.1 .6-39.8 .6 10 .6 16.1 .6-21.5 .6 26.7 .6-.8 .6 8.9 .6-25.4 .6 33.7 .6-46.4 .6 17.1 .6 35.9 .6-62.8 .6 141 .6-124 .6 24.1 .6-52.4 .6 59.6 .6 86.1 .6-142.2 .6 16.1 .6-25.8 .6 21.4 .6 29.9 .6-34.6 .6 22.8 .6-48.8 .6 37.4 .6-10.4 .6 41.1 .6-14 .6-32.6 .6 22.2 .6-10.5 .6 21.4 .6-21.8 .6 13.6 .6 13 .6-5.9 .6-17.8 .6 7.5 .6 33.5 .6-39.3 .6-15 .6 8.2 .6 38.6 .6 6.8 .6-32.4 .6 50 .6-19.3 .6 18.6 .6-12.2 .6-5.1 .6 32.9 .6-40.2 .6 11.9 .6-24.9 .6 28.5 .6-22.7 .6 68.1 .6 1.7 .6-43.7 .6-6.5 .6 43.2 .6 22.6 .6-28.9 .6 10.9 .6-62.4 .6 34.1 .6 6.1 .6-54.6 .6 72 .6-33.6 .6 5.3 .6 27.1 .6 4 .6-36.3 .6-8.9 .6 18.1 .6-21.8 .6 43.7 .6-25.9 .6 12.1 .6 6.6 .6-40.8 .6 61.1 .6-5.5 .6-24.1 .6-2.6 .6-49.1 .6 9 .6-19.6 .6 99.5 .6-44 .6 20.9 .6-30.1 .6-18.4 .6 7.9 .6-31.7 .6 17.2 .6 13.3 .6-19.6 .6 5.1 .6-8.2 .6-5.1 .6-1.3 .6 29.2 .6-24.7 .6-9.3 .6 18.8 .6 25.5 .6-27.9 .6-14.3 .6 10.6 .6-12.3 .6 .3 .6 13.3 .6-24.5 .6 9 .6-.6 .6 17.6 .6-5.6 .6 4.2 .6-22.4 1 0 1 11.5 1 0 1-5 1 8.2 1 6.8 1-7.2 1-15.4 1-2.1 1 11.6 1 9.7 1-8.2 1 0 1-15.6 1 18.7 1-9.9 1 30.9 1-25.3 1 4.9 1 2.9 1-15.6 1-3.5 1 9.1 1-8.3 1 10.1 1-2.6 1 3.8 1-10.4 1 13 1-5.6 1 2.9 1 .6 1-3.7 1 .2 1 8.1 1-1.6 1 .7 1-.6 1-4.1 1-9.6 1 7 1 50.7 1-50.1 1 2 1-5.6 1 8.4 1-13.5 1 7.7 1-2.8 1 4.7 1-9.3 1-2.6 1 2.9 1 35.1 1-33.5 1 2.2 1 5.2 1-11.8 1 2 1 12.6 1-2.5 1-6.3 1 1.6 1 0 1 8.3 1-7.6 1 1.9 1-6.8 1 2.2 1 8 1-14.8 1 8.1 1 3.7 1-1.8 1-1.3 1-1.1 1 1.9 1 3.1 1-6.5 1 1.7 1 .5 1 .6 1-6.8 1 8.6 1-.1 1 1.4 1-.7 1 0 1 2 1 .3 1-4.2 1-2.2 1 6.4 1-6.7 1 1.9 1 12.4 1-7 1-1.5 1-2.5 1-2.7 1 1.7 1 5.9 1 1.8 1-4.6 1 1.5 1-7.2 1 2.9 1-1.5 1 5 1-7.9 1-.8 1 3.5 1 .8 1 5 1-8.6 1-1.8 1 6.8 1 5.8 1-7.5 1 7.2 1-8.2 1 5.6 1-2.9 1-.1 1-6.3 1 0 1-.4 1 8 1-5.3 1 9.6 1-12 1 9.8 1-7.7 1 4.8 1 .1 1-3.1 1-2 1 7.5 1-6.9 1 8 1-1.9 1-5.9 1-2.3 1 9.4 1-8 1-.2 1 5.6 1 0 1-5.5 1 .6 1 1 1 3.8 1-4.8 1-3.3 1 3.9 1 6 1-1.5 1 2 1-.1 1-1.2 1 3.5 1 6.1 1-11.6 1-2.9 1-2.9 1 1.6 1-.6 1 3.6 1-1 1-.6 1-.8 1 .3 1-3.3 1-1.3 1-1.1 1 1.6 1 .3 1 3.9 1 3.4 1-5.2 1 9.8 1-5.4 1-4.5 1 5.6 1-2.5 1 6.6 1-6.9 1 2.5 1-4.6 1 2.6 1-2.7 1 7.3 1-2.9 1 .8 1-4.2 1 4.9 1-6.4 1 6 1-.3 1-2 1-1.3 1 4.9 1-2.9 1 1.2 1-4 1 19.9 1-21 1-.5 1 7.8 1-.9 1 15.3 1-14.4 1-5.1 1 13.4 1-2.6 1-4 1-4 1 0 1-6.1 1 4.7 1 2 1-4.9 1 8.1 1-5.2 1-1.3 1 2.2 1 .2 1 36.1 1-35.1 1-.7 1-1.1 1 3 1 .7 1-1.4 1 .6 1-1.1 1-2.9 1 2.2 1-2.9 1 5.4 1 2.9 1-3.7 1 1 1-5.2 1 1.5 1 2.5 1-3.8 1 1.1 1-3.6 1 .2 1-3.1 1 6.7 1-7.3 1 5 1 14.5 1-12.4 1 .4 1 .3 1-2.6 1 5.7 1 6.4 1-9 1-.4 1 2.5 1-3.9 1-3.3 1 5.9 1-1.1 1-1.3 1 .1 1-3.4 1-1 1-1.6 1-2.3 1 2.1 1 1.5 1 10 1-11.6 1-.7 1 3.5 1-.9 1-3.2 1-1.3 1 4.2 1-3.9 1-1 1 1.4 1-.9 1-2.5 1 2.6 1-2 1-.6 1 2.2 1 .7 1 .8 1-3.7 1 1.7 1 .8 1 14.5 1 6.1 1 .4 1-24.2 1 4 1-3.2 1 4 1 .8 1 10.4 1-14.5 1 2.6 1 1.6 1-.2 1 1.2 1-1.7 1 10 1-11.7 1 1.4 1-2.9 1 .1 1 11.2 1 8.5 1-16.7 1-1.2 1-1 1-.5 1-.2 1 1.7 1 1 1 20.2 1-18.4 1 15.1 1-17.9 1 1.4 1-2.6 1-.5 1 11.9 1-7 1-4.1 1 1 1 3.5 1-.6 1 14.8 1-14.3 1-1.8 1-1.2 1 5.5 1-1.8 1-1.4 1 2.3 1-3.2 1 17.2 1-16.1 1-.6 1 6 1 12.4 1-2.8 1-12.9 1 4.7 1-4.2 1 2.8 1-2.6 1-1.8 1 3.4 1 8 1-13.8 1 .6 1 .5 1 23.7 1-21.5 1 .4 1-1.6 1-1.4 1 6.3 1-5.1 1 4.5 1 21.8 1-24.9 1-1.7 1 15.4 1-12.8 1 .3 1 6 1-5.6 1-1.1 1-.4 1 .6 1 13.6 1-10.5 1-.7 1 .4 1-4.6 1 19.2 1-18.3 1 .1 1 4.1 1-5.8 1 1.6 1-.3 1 6.6 1-6.5 1 .2 1 1.8 1-1.9 1 5.4 1-4.1 1-1.7 1-.7 1 4.5 1-.3 1-4.1 1 3.3 1 13.8 1-14.5 1 13.4 1-14.6 1-.7 1 3.9 1-.8 1 .2 1-1.1 1 5.2 1-3.4 1 .5 1-2.1 1 2.7 1 6.8 1-9.4 1 .2 1 .5 1-.7 1 4.1 1-3.5 1-2.5 1-1.2 1-1.4 1 5.5 1-2.7 1 .4 1 4 1-1.8 1-2.8 1 4.6 1-2.6 1-.2 1 3.2 1-.5 1-.9 1 0 1-4.2 1-.3 1 3.1 1 .5 1-.7 1-1.2 1 .9 1 12.8 1-8.9 1 5 1-10.5 1-.8 1 1.3 1 11.3 1-8.3 1-1.8 1-2.8 1 3.6 1 1.3 1-3.1 1 1.9 1-3.4 1 4 1-2.7 1 2.4 1-3.1 1 3.8 1-1.1 1-1 1 1 1-2.9 1 5 1-3.4 1 3 1-3 1 4.6 1 9.1 1-8.4 1 2.1 1-1.8 1-2.7 1 2.1 1-1.7 1 0 1 4.1 1 14.5 1-17.4 1 2 1-1.4 1 6.5 1 3.6 1 11.1 1 25.8 1 73.1 1 29.8 1 7 1 14.3 1 9.6 1 1.6 1-2.3 1 1 1 .6 1-1.8 1 .7 1-.7 1 2.3 1-2.3 1 1.3 1-1.5 1 1.3 1 .4 1-.1 1-1.2 1 2.2 1 .4 1-.7 1 .4 1-.2 1-2.4 1 2.5 1-.6 1 .2 1 .3 1-.2 1-.5 1-.4 1-.9 1 1.8 1-.2 1-1.6 1 1.1 1-1.5 1 2.8 1-5.1 1-3.2 1 .7 1-4.8 1-4.5 1-10.5 1 .1 1 11.5 1 9.2 1 .5 1-.3 1 2.3 1-.1 1 3.2 1-.6 1 1.3 1-2 1-.4 1 0 1 .9 1 3.2 1-2.3 1 .6 1 1.5 1 0 1 .5 1 1.1 1-2.4 1 .2 1-1.1 1-.6 1 .3 1 0 1-2 1-.2 1-1.2 1 3.2 1-2.3 1 1.5 1 .5 1 .2 1-.9 1-.1 1-2 1 2.2 1-2.6 1-.1 1 3.1 1-2.9 1 2.2 1 1.3 1-1.3 1 1.3 1 .4 1-.3 1-.7 1-.2 1-1.2 1 2 1-1.2 1 1.9 1-2.5 1 .8 1-.9 1 1.9 1-.4 1-.7 1-1.7 1 3 1-2.5 1 1.8 1-1.4 1 1.6 1 .2 1 .2 1-.9 1-.8 1 1.2 1-.6 1-1.6 1 1 1 .7 1 1 1-1.5 1 1.9 1-.2 1 .2 1-.8 1-.4 1 .9 1-.4 1 1.1 1-1.4 1 .6 1 .8 1-1.5 1 .1 1 1.5 1-.1 1-1.2 1 1.9 1-1.4 1-.3 1-1.4 1 .8 1 2.2 1-1.7 1-.1 1 1.4 1-1 1-.4 1 1.2 1-.2 1-.8 1 1.7 1-.2 1-1.3 1 .5 1-.2 1 .8 1-.6 1 1.6 1-.3 1 .5 1-1.3 1 1 1-.1 1-.7 1 .2 1 .7 1-.1 1-.2 1 .3 1-.1 1 .2 1 .3 1-.3 1 0 1 1 1-1.5 1 .6 1 .4 1-.6 1 .3 1-.3 1-.9 1 1.6 1-.4 1-1.5 1-.3 1 2.1 1 .1 1-.2 1-1 1 1.1 1-1.1 1 1.1 1 0 1-1 1 .5 1 .5 1-.9 1-.4 1 1 1 .8 1 .6 1-2.1 1 .4 1 1.4 1-.5 1 .6 1-.1 1-.9 1 .1 1 .5 1 .1 1-1.4 1 1.1 1-.4 1-.2 1 .3 1 1.4 1-.7 1-.4 1 .1 1 .6 1-.8 1-.3 1 .4 1 .2 1 .8 1-.6 1-.9 1 2 1 0 1-.6 1-.3 1 .8 1-.3 1 0 1-.6 1-.9 1 .1 1 .5 1 .5 1-.9 1 .6 1-.6 1 1.3 1-.4 1-.2 1-1 1 2 1-.8 1 1.1 1-1.5 1-.1 1 1.1 1 0 1 0 1 .4 1-1.3 1 0 1 .4 1 1.2 1-1.7 1 2 1-1.8 1 1.9 1-.7 1-.1 1-1 1 .1 1 .1 1-.6 1 .8 1-.6 1 .6 1 1.7 1-1.2 1 0 1 .3 1 1 1-1.6 1-.1 1 .7 1 .6 1-1.5 1 .9 1 1.7 1-.5 1 .7 1-1.4 1 1 1-1.4 1 .1 1-.1 1-.3 1 1.4 1-.3 1-1.4 1 .2 1 1.1 1 .2 1 .5 1 .4 1-2 1 1.4 1-.1 1 1.4 1-1.2 1 .5 1-.8 1 .3 1-.2 1-.2 1 .7 1-.4 1 .9 1 .2 1 0 1-.7 1 0 1-1.3 1 1 1-.2 1 0 1-.1 1 .1 1-.1 1-.3 1 1.3 1-.5 1-1.6 1 1.7 1-.2 1-1.2 1 1.4 1-.9 1-1.1 1 1.9 1-1.1 1 .7 1-.6 1-.6 1 1 1 1.2 1-11.9 1 9.9 1 2.2 1-.2 1 .1 1-1.9 1 0 1-.6 1 .3 1 0 1 .9 1-.3 1 .6 1 .8 1-.8 1-.7 1 .1 1 .4 1-1 1 1.3 1-.3 1 1.1 1-1.3 1 1 1 0 1-1.6 1 1.6 1-1.6 1 1.6 1-1.2 1 1.2 1-1 1-.6 1 .1 1 1.4 1-.4 1 .2 1-1.1 1 1.1 1-.6 1 .3 1 .2 1-.6 1-.2 1 1.5 1-.1 1-.4 1 .3 1-1 1-1.3 1 1.1 1 .1 1 .7 1 .2 1-1.5 1-.5 1 .9 1-.3 1 .5 1 1.4 1-.6 1-.2 1 .5 1-1 1-.7 1 .2 1 2 1-1.5 1 1.4 1-.4 1-1.3 1 1.4 1-1.1 1 .8 1-.7 1-.6 1-.5 1 .7 1-.7 1 1 1 .2 1 .8 1-1.1 1 0 1 .2 1 1.6 1-.3 1-.6 1-.5 1-.1 1 1.2 1-.2 1 .2 1-.3 1-2.1 1 1.2 1 .3 1-.9 1 .2 1-.6 1 .9 1-1.2 1 1.1 1-.2 1-.2 1 .8 1-.5 1-.2 1 .3 1-1.1 1 1.4 1 .3 1 .5 1-1 1-.3 1-.6 1 .4 1-.6 1 1.6 1-.5 1 .2 1-.3 1-.2 1-.8 1 .1 1-1.5 1 1.2 1-1 1 1 1-1.9 1-.1 1-1.1 1 0 1 2 1-1.3 1 1.9 1-.6 1-.7 1 .5 1 0 1-1.4 1-1 1 2.6 1-2.8 1 1.3 1-1 1 1.1 1-1 1 2.1 1 0 1-2.3 1 1.5 1 .3 1-.8 1 1 1 .7 1-2.3 1 2 1 .1 1-1.2 1 .1 1 .5 1 1.2 1-2.3 1 .1 1 1.5 1-2.5 1 2.8 1 .2 1-1.1 1-.5 1 1.6 1-.4 1-1.2 1 1.6 1-2.4 1 2.5 1-.7 1 .5 1-2.3 1-.3 1 2.7 1 .6 1-3.5 1 3 1-2.1 1 .4 1 0 1 1.3 1-2 1 2.2 1-2 1 1.8 1 .5 1-1.8 1 0 1 1 1-.5 1 .6 1-2.2 1 1.3 1 .8 1-2.6 1 1.2 1 1.3 1-1 1-.7 1 .8 1-1.4 1 1.8 1-1.3 1-.4 1 2.1 1 .7 1-1.2 1-1.2 1-.4 1-.2 1 .2 1-1.3 1 .3 1 1.5 1-.1 1 1.2 1-.9 1-11.6 1 10.8 1-1.2 1 1.1 1 .3 1 0 1-.4 1 1.2 1-.7 1 .3 1-2.1 1 1.5 1-1.3 1 2.1 1 0 1 1.4 1 .6 1-2 1-.4 1-.8 1-.3 1-.5 1-.2 1 .1 1-1.4 1 .3 1 2.7 1-11.1 1 8.1 1 1.1 1 1.1 1-3.3 1 .7 1-.7 1 2.6 1-.4 1 .8 1-2.8 1 1 1 .6 1-.1 1 1.2 1 .1 1-1.1 1-.1 1 .9 1-1.7 1 2 1-1.6 .6-18 .6-21 .6 16.1 .6 22.5 .6-1.2 .6-4.2 .6-9.4 .6 9.6 .6-6.9 .6 7.1 .6-9.2 .6 5.6 .6-4.7 .6-1.1 .6 5.6 .6-2.2 .6-1.2 .6 7.6 .6 3.8 .6-7.9 .6 .8 .6 .6 .6 4.6 .6-1.8 .6 .6 .6 4.2 .6-10.5 .6 11.6 .6-2.5 .6-7.6 .6 4.6 .6-6 .6 14.8 .6-6.5 .6-3.7 .6-72.3 .6 70.7 .6 8.8 .6-9.1 .6-19 .6-2.8 .6 18.3 .6 14.2 .6-21.1 .6 17.3 .6 2 .6-4.1 .6 1.9 .6-11.2 .6 3 .6-13.6 .6 10.9 .6 16.8 .6-2.6 .6-8 .6-5.2 .6 5.3 .6 3.3 .6-5.5 .6 1.4 .6-53 .6 47.5 .6 11 .6 .1 .6-1.7 .6 2.9 .6-4.9 .6 4.5 .6-10.7 .6 16.2 .6-46.8 .6 38.6 .6 3.9 .6-5.6 .6-12.9 .6 5.2 .6-10.7 .6-30.6 .6 33.3 .6 14.5 .6 3.9 .6-5.6 .6-3.5 .6-2.7 .6 3.4 .6-45.7 .6 45.9 .6-78.4 .6 86 .6-55.1 .6 52.6 .6-7.5 .6 13.1 .6-46.6 .6 52 .6-65.9 .6-10.4 .6 62.9 .6-9.7 .6 14.6 .6-13.4 .6 1.7 .6 10.9 .6-10.7 .6 17.1 .6-17 .6 8.4 .6-38.2 .6 43.8 .6-1.5 .6 3.1 .6-11.2 .6-29.6 .6 37.4 .6 5.8 .6-8.6 .6-36.2 .6 28.8 .6-58.3 .6 62.2 .6 5.1 .6-18.2 .6 15.5 .6-4.8 .6 6.2 .6-15.7 .6 .2 .6 0 .6 6.4 .6-1.8 .6-49.1 .6 48.6 .6-16.8 .6 29.9 .6-6.8 .6 8.5 .6-27.9 .6 20.7 .6-6.4 .6 9.8 .6-3 .6-43.2 .6 47.3 .6-4.7 .6-6.2 .6 13.2 .6-7.5 .6 13.4 .6-7.2 .6-72.4 .6 71.4 .6-41.5 .6 20.4 .6 1.4 .6 7.3 .6-2.5 .6 23.2 .6-25.4 .6 11.9 .6-12.2 .6 6.2 .6 9.7 .6-.9 .6-11.8 .6 13.2 .6-13.9 .6-5 .6 24.9 .6-7.6 .6-20.1 .6 15.3 .6-9.8 .6 6.1 .6 6.9 .6-21.4 .6 24.3 .6-17.4 .6 .1 .6-12.3 .6 21.2 .6 .8 .6-23.5 .6 13.5 .6 18.8 .6-3.6 .6 3.6 .6-8 .6 20.1 .6-21.1 .6-9.8 .6 6.7 .6-3.3 .6 4.1 .6-1.7 .6-9.1 .6 7.5 .6 6.5 .6 5 .6-10.3 .6 7.4 .6-.9 .6-79.7 .6 16.5 .6 62.8 .6-9 .6-2.2 .6 .6 .6-27.6 .6 42.1 .6-13.9 .6-2.9 .6 7.5 .6 18.6 .6-12.6 .6-17.7 .6 .9 .6 17.2 .6-11.7 .6 11 .6-5.2 .6 4.6 .6-13.9 .6 11.4 .6 5 .6-14.2 .6-15.2 .6 39.3 .6-19.6 .6 .7 .6 13.4 .6 2.2 .6-2.5 .6 .4 .6 5.6 .6-12.3 .6 5.9 .6-9.9 .6 16.5 .6-68.4 .6 68.2 .6-27 .6 13.5 .6-58.3 .6 55.7 .6 10.2 .6 3.1 .6-6.8 .6 6.7 .6-8.9 .6 1.6 .6-65.1 .6 69.2 .6-9.4 .6 14.4 .6-9.7 .6-12.6 .6 1.9 .6-7.2 .6 .9 .6 12.7 .6-13.6 .6 11.3 .6 1.9 .6-57.2 .6 47.7 .6-41.2 .6 57.6 .6-26.7 .6 29.5 .6 2.3 .6-10.3 .6-4.2 .6-22.9 .6-8.7 .6 42.5 .6-6.7 .6 5.8 .6-21.3 .6 21.9 .6 5.3 .6-5.2 .6-11.1 .6 10 .6-52.9 .6 35.7 .6-3.3 .6 22.4 .6-11.2 .6-11.2 .6 19.7 .6-13 .6 5.7 .6-55.8 .6 69.3 .6-19.2 .6 16.5 .6-69.8 .6 73.1 .6-4.6 .6 11.5 .6-54.5 .6 49.1 .6-21.3 .6 14.4 .6-15.7 .6 17 .6 .6 .6-34.1 .6 6.6 .6 35.3 .6-7.4 .6 6.5 .6-4.9 .6-6.8 .6-.6 .6-46 .6 54.4 .6 1.6 .6 .2 .6-2.6 .6-8.7 .6 10.7 .6-.8 .6-45.5 .6 51.6 .6-5.4 .6-3.5 .6-6.4 .6 1.2 .6 3.8 .6 5.6 .6 .8 .6-4.2 .6 4.1 .6-6.8 .6 3 .6-9.9 .6 5.1 .6-33.2 .6 15.9 .6 1.7 .6 14.6 .6-11.2 .6-7.6 .6 13.4 .6 3.2 .6-12.8 .6-51.2 .6 56.5 .6-7.1 .6-45.2 .6 44.1 .6 10.5 .6-2 .6 4.7 .6-1.4 .6 3.5 .6 1.7 .6-12 .6 20.2 .6-3 .6-33.8 .6 35.7 .6-22.3 .6 27.6 .6-3.5 .6 .1 .6-40.1 .6 28.1 .6 2.6 .6 5.1 .6 3.1 .6-12.7 .6 10.4 .6-.3 .6-66.5 .6 65.1 .6 6.4 .6-51.3 .6 44.4 .6-4.9 .6-43.2 .6 42.4 .6-4.3 .6 4.7 .6 3.8 .6 .6 .6-8 .6-42.6 .6 33.1 .6-27.4 .6 44.6 .6-20.6 .6 5.6 .6 10.9 .6-13.6 .6-16.7 .6 12 .6 .4 .6 10.5 .6 9 .6-11.7 .6-38.6 .6 44.3 .6 16 .6-21.9 .6-51.2 .6 77.1 .6-5.8 .6-6.5 .6 6 .6-11.4 .6 9.3 .6-25.9 .6 14.9 .6-44.2 .6 36.2 .6 12.9 .6 10.9 .6-7.9 .6 2.5 .6-29.5 .6 12.9 .6 .1 .6-14.3 .6 12.2 .6-3.4 .6 17 .6 1.5 .6 2.6 .6-14.4 .6-12.3 .6 4.3 .6 34.8 .6-54.1 .6 57.2 .6-10.4 .6-11.6 .6-35.8 .6 39.4 .6 0 .6-21.7 .6 14.7 .6 2.6 .6 8.7 .6-51.5 .6 48.6 .6-3.4 .6 2.3 .6 2.8 .6-.6 .6-8.4 .6 1.3 .6 14.2 .6-6.9 .6 3.9 .6-9.9 .6 3.2 .6 1.7 .6-63.6 .6 63 .6-3.8 .6 6.1 .6 3.5 .6-1.6 .6-17.9 .6 5.4 .6 7.1 .6 2.6 .6 3.7 .6 4.7 .6-67.1 .6 40.4 .6 17.4 .6-20.6 .6 25.6 .6-59.2 .6 51.2 .6-48.3 .6 17.4 .6 34.8 .6-4.5 .6-9.3 .6 6 .6-2.2 .6 11.4" stroke="#f00" stroke-width="2.9" fill="none" stroke-linejoin="round"/>
<path clip-path="url(#c2)" d="M263.2 708.2l.6-21.3 .6 8 .6-18 .6 40 .6-68.6 .6 33.5 .6-16.7 .6 41 .6-73.7 .6 91.4 .6-77.3 .6-12.9 .6 39.5 .6-29.7 .6 80.4 .6-67.2 .6-5.6 .6 64.1 .6-16.5 .6-37 .6 15.5 .6 65.3 .6-60.1 .6 11.3 .6-2.1 .6 14.2 .6-16.2 .6 36.4 .6-44.3 .6-29.3 .6-2.4 .6 42.6 .6 33.4 .6-17.8 .6-7.5 .6-29.3 .6-39.1 .6 40.8 .6-25.8 .6 83.7 .6 30.4 .6-49.4 .6 40.2 .6-8.3 .6-65.5 .6 40.4 .6 35.8 .6-107.8 .6 62.4 .6-26.9 .6 15.2 .6-33.2 .6 39.6 1 22.2 1-6.3 1 34.1 1 1.1 1 7.1 1 13.3 1 13 1-30.2 1 4.1 1-16.9 1 36.6 1 .7 1-29.6 1 10 1 21.3 1-22 1 15.6 1-18.3 1-2 1 5.6 1 4 1-46 1 22.2 1 8 1-25.3 1 17.9 1-34.9 1 14.1 1-28.3 1 9.1 1 34.6 1 3.1 1-41.8 1 40.7 1-49.9 1 32.8 1 7.7 1-24 1-14 1 62 1-39.9 1 26.9 1-41.8 1-22.9 1 41.7 1 18.5 1-48.7 1 35.8 1-14.1 1 4.4 1 12.5 1-5.7 1 19.1 1-20 1-18.2 1-1 1 25.8 1-17.7 1 29 1 9.4 1-23.4 1 18.9 1-20.9 1-1.4 1 1.6 1-3.5 1 9.9 1 1.7 1-34.8 1 32.4 1 6.2 1-34.8 1-2.4 1-12.9 1 20.2 1-7 1-6.5 1 29 1 2.3 1 24.3 1-9 1-18.6 1 26.1 1-40.7 1 46 1-51.8 1 55.9 1-19.2 1 5.3 1 26.1 1 7.3 1 15.5 1-12.4 1-8.3 1 .6 1 6 1-1.2 1-12.9 1 20.5 1 7.8 1-13.4 1 19.1 1-6.6 1-27.9 1-8.1 1 22.2 1-8.5 1 21.5 1-30.1 1 39.9 1-10.2 1-17.8 1 25 1-19.4 1 26.6 1-21 1 11 1-13.8 1-5 1 3.5 1 6.9 1 9.6 1 8.5 1-36.3 1 8.9 1 13.1 1-4.4 1-6.3 1-4.9 1 7.3 1 .6 1 7.5 1-16.9 1 19.8 1 34.9 1-31.5 1-4.4 1-20.4 1 19.4 1-15.3 1 24.3 1-34.1 1-2 1 19.3 1-19.7 1 28.8 1-15.7 1 0 1 12.2 1 1.8 1-21.5 1-5.2 1-1.4 1 3 1-2.4 1 20.6 1-13 1 6.8 1 15.7 1-14.5 1 10 1-32.5 1 32.6 1 5.3 1-1.2 1-30.9 1-.2 1 19.9 1 15.7 1-1.2 1-13.4 1-26.4 1 31.1 1-2.1 1 8.2 1-25.5 1 20.8 1 1.3 1-6.6 1 1.6 1-5.4 1-18.8 1-3 1-.9 1 8.9 1 19.5 1-31.8 1 21.5 1-26.9 1 15.5 1-12.9 1 15.6 1-4.7 1 15.4 1 3.9 1-9 1-11.9 1 8.2 1 15.8 1-12.4 1 42.9 1-39.7 1 4.2 1 9.5 1-3.2 1-19.1 1 9.4 1-26.2 1 28.8 1-30 1 10.6 1-.7 1-12.5 1 5.6 1-17.1 1 15 1 1.4 1-20.5 1 18.8 1-20.3 1 4.9 1-3.3 1 17.6 1-12.2 1-8 1-5.7 1 5.7 1 8.6 1-28.9 1 23.2 1-15.6 1 3.3 1 2.3 1-10 1 8.8 1-2.1 1 4.9 1-11.9 1 2.9 1 5.7 1 13.2 1-19.6 1 5 1 3.4 1 .5 1 2.4 1-9.4 1-8.9 1 22.9 1-22.4 1-2.9 1 28.3 1-15.6 1-7.3 1 5 1 10.6 1-6.8 1-11.5 1 19 1 5.8 1-4.2 1-9 1-7.7 1 13.5 1-13.7 1 24.4 1-17 1 8.9 1-22.1 1 .1 1 8.7 1-2.1 1 1.4 1-.6 1 .3 1-9.2 1-15 1 4.5 1-10.3 1 3.2 1-5.6 1-7.2 1 16.5 1-9.7 1-.8 1 18.8 1-4 1-9.2 1-11.8 1 11.7 1-.5 1-2.1 1 7.6 1 3 1 15.7 1-7.3 1-5.4 1 14.1 1-7.7 1 5.1 1-12.2 1 14.6 1 2.5 1 4.9 1-19.3 1 10.9 1-4 1 11.2 1-8.1 1-7 1-5 1 12 1 4.2 1 5.3 1-13.6 1 16 1-4.3 1-5.5 1-8.1 1-6.1 1-5.1 1 9.1 1-19.7 1-4.7 1 .5 1-.7 1 2.8 1 2.6 1-12.7 1 9.8 1 9.9 1-1.8 1-5 1-1.7 1 9.2 1-4.7 1 4.9 1 5.2 1-6.4 1 14.7 1-5.7 1 4.4 1 2.3 1-13.9 1 9.6 1 6.9 1-7.3 1-.1 1 .1 1-2.3 1 5.3 1 2.3 1 2.5 1-6.5 1 3 1 11 1-8.2 1-5 1 1 1-1.4 1 3 1 2.3 1-3.4 1 .7 1 2.9 1-3 1 2.5 1 4.7 1-11.5 1 12.1 1 .3 1-14.1 1 7 1-10.9 1 12.3 1-8.4 1 1.3 1-.5 1 16.4 1 3.3 1-9.5 1 0 1 7.9 1 2.9 1-9.3 1-6.6 1 1.8 1 7.3 1-11.7 1 20.9 1-14 1 11.8 1 2.9 1 .4 1-18.3 1 21.5 1-8 1-.1 1-7.5 1 1.7 1-7.9 1 21.2 1 3 1-10.6 1-3.3 1 6.7 1-2.3 1-7.7 1 .8 1 14 1-15.5 1-.6 1 21.8 1-11.9 1 7.9 1-2.9 1-15.1 1 4.3 1 11.9 1-2.2 1-12.1 1 14.1 1-1.6 1-2.7 1-12.1 1 7.8 1 8.1 1 7 1-16.9 1 .6 1 9.1 1-1.3 1 7.8 1-3.7 1-7 1 1.5 1-5.6 1 7.6 1-6.4 1 2 1 7.3 1 4.3 1-12.4 1 13.1 1-3.4 1-7.5 1 12.9 1 2.1 1-6.5 1 6 1-12.3 1 4.5 1-6.3 1 8.7 1-9.1 1 9.6 1-9.4 1 5.4 1-10.2 1 6.9 1-1 1 13 1-7.6 1-7.5 1 13.4 1 0 1-4 1 2.6 1-8.5 1 17.8 1-4.9 1-7.8 1 3.2 1 1.1 1-7.1 1 2.4 1 .5 1-1.7 1-11.2 1 19.3 1-17.8 1 .3 1 2.9 1 4.5 1-.6 1 1.6 1 6.7 1-10.4 1-.5 1 3.2 1-8.2 1-.1 1 3.5 1-.1 1-3.8 1 10.8 1-2.8 1 5.6 1-.7 1-13.4 1 19.6 1-11.3 1-2.2 1-1 1-8.1 1 22.3 1-6.7 1 7.1 1-8.1 1 .6 1 17.1 1 26.9 1 .2 1-41.6 1 9 1 1.3 1-1.6 1 2.7 1 14.7 1-14.7 1-.1 1-5.2 1 10.4 1-11.7 1 15.2 1 9.5 1-30.2 1 2.7 1 11.8 1-1 1-9.9 1-13.1 1 7.7 1-28.1 1 4.7 1-17.6 1-2.8 1 7.2 1-5.8 1-8.5 1 1.8 1-7.3 1 9 1 12.3 1 2.3 1-6.9 1 2.2 1-.2 1 10.1 1-.5 1-1.5 1-10 1 8.3 1-6.4 1 3.5 1 26.7 1 5 1 1.6 1-20.6 1 26.5 1-31.2 1 1.5 1 20 1 24.7 1-31.7 1 .1 1-11.4 1-3.4 1 19.7 1 13.6 1-8.3 1 18.2 1-15 1 3 1-34.7 1 31.7 1-16.6 1 17 1-4.7 1-11.2 1 22.8 1 3 1-1.7 1-33.4 1-7.2 1 41.1 1-17.8 1-18.3 1 7.9 1 38.4 1-32 1 11.4 1 4.3 1-35.4 1-12.4 1 38.6 1-36.6 1 19 1 17.1 1-42.2 1 33.9 1 16.1 1-1.9 1 5.6 1-16.6 1-5.8 1-14.1 1-10.2 1 43.2 1-19.5 1-10.5 1 21 1-4 1 11.2 1-69.8 1 31.7 1 25 1-20.9 1-12.1 1-13.2 1 16.6 1-6.7 1 17.8 1-17.6 1 16.6 1 7.5 1-5.4 1 50.6 1-8.9 1-.5 1 .9 1-38 1 42.3 1-41.6 1 23.5 1-38.5 1 29.8 1-19.8 1 31.1 1-41.7 1 19.9 1-32.2 1 3.2 1 4.4 1-.4 1 25.6 1 11.4 1 .3 1 19.2 1-9.1 1-19.2 1-56.7 1 82.9 1-35 1 32.5 1-7.2 1-23.3 1-13.1 1-10.9 1 31.3 1 15.6 1-5.5 1-55.3 1 .7 1 8 1 37.6 1 6.2 1-26.1 1 9.7 1-5.3 1 8.6 1-12.8 1-14.3 1 13.2 1 27 1 46.2 1-53.8 1 20.9 1-30.1 1-3.9 1 12.3 1 22.5 1-26.3 1-20.2 1 40.6 1-7.4 1 14 1 6.1 1-15.1 1-28.5 1-7.7 1 42.2 1-41.5 1 11.5 1 37.2 1-5.8 1-12.1 1 33.1 1-29.9 1-14.1 1-5.2 1-2.3 1 24.2 1-20.1 1 15.8 1-4.9 1-3.3 1-1.1 1-7.3 1 39.1 1-30.2 1 10.4 1-1.2 1-15.5 1 15.5 1 21 1-8.2 1-4.9 1 1.7 1-8 1-24.7 1 10.9 1 7.1 1 14.3 1 2.3 1-9.5 1-11 1-16.5 1 34.9 1-43.5 1 27.9 1-17.8 1 36.4 1-36.3 1 34.7 1-19.4 1 3 1-20.1 1 5.4 1 22.7 1-20.9 1 10.8 1 4.7 1 7.8 1-9.6 1-3.1 1 18 1 2.2 1-29.4 1 23.8 1-24.8 1 4.1 1 13.2 1 2 1-1 1 13 1-24 1 26.3 1-29.6 1 16.2 1-23.4 1-19.5 1 23.9 1 17.2 1-32 1 22.9 1 8.6 1-22.8 1-1.4 1 14.1 1 7.2 1-11.8 1 1.4 1-5.5 1 13.2 1-10.8 1 22.4 1-26.1 1 14.4 1 5.8 1-23.1 1 29.2 1-10.2 1-2.3 1 1.9 1-1.5 1-1.9 1-20.2 1 7.9 1-7.2 1 2.2 1 1.3 1-2.2 1 4.9 1-7.6 1 1.3 1 3.2 1 .3 1-2 1 3.3 1-3 1 1 1-1.1 1-.9 1-.3 1 .3 1 .7 1-.2 1 1.6 1-1.8 1 4.8 1-4.5 1 .7 1 3.5 1 .5 1-5.9 1 3.5 1 .4 1-1 1 2 1-.6 1-2.1 1-.1 1 2.4 1 1.3 1-3 1 3.1 1 .9 1 5.9 1 3.6 1-1.8 1-.9 1-1.2 1-1.1 1-1.7 1-8.5 1 .6 1 3.2 1-2.3 1 2.4 1-1.6 1-6.2 1 5.6 1-4.8 1 3.1 1 .3 1-3.8 1 2.2 1 .8 1-1.8 1-2.8 1-2.2 1 2.9 1-2.1 1 1.1 1 .7 1-2.4 1-.8 1 4.9 1-3.1 1 3 1 1.3 1-1 1 1.3 1-.4 1-3.4 1 2.5 1 1 1 1.1 1 .1 1-.3 1-1 1 .3 1 1.7 1-1.2 1-4.7 1 3.3 1 1.9 1 2.1 1-6.7 1 1.9 1 .6 1 3.9 1 1 1-1.2 1-3.4 1-2.5 1 4.4 1-2.2 1 3.1 1 .2 1-3.3 1 2.3 1-1.7 1-1.3 1 4 1-1.9 1 3.4 1-4.9 1 4.9 1-3.6 1 8.9 1-6 1 .6 1-6.6 1 6.1 1 .4 1-.3 1 1.7 1-6.4 1 2.5 1-3.7 1 8.7 1-5.7 1 2 1 .1 1-3.3 1-1.3 1 .4 1 3 1 5.1 1-.8 1-1.8 1-4.9 1 2.3 1-.9 1 2.2 1-1.2 1 5 1-3.9 1 0 1 2.8 1 2.3 1-.9 1-4.9 1-1.4 1 0 1 5.9 1-2.8 1-.6 1-.5 1-5.5 1 1.5 1 5.5 1-.7 1-.1 1 3.1 1-6.1 1 7.7 1-2.8 1-6.8 1 8.9 1 .7 1-3.7 1 1.7 1-4.1 1 4.5 1-3.7 1-1.9 1 1.2 1-.1 1-1.7 1 6.2 1-6.8 1-.3 1-1.5 1 3.6 1-2.3 1 1.7 1 3.3 1-5.2 1 6.8 1-7.2 1 8.4 1-7.1 1 3.9 1-6 1 1.6 1 4.5 1-.5 1 2.4 1-5.7 1 7.9 1-1.6 1-5.3 1-.2 1 5.3 1 .7 1-.9 1-3.6 1 3.5 1-1.1 1 .1 1-2.1 1-.9 1 2.6 1-2.9 1-.2 1-.7 1 4.7 1-7.2 1-4.5 1 4.5 1-5.4 1 1.4 1 3.5 1-1.4 1 2.8 1-7.2 1 1.1 1 2.4 1 .8 1-2.8 1 5.6 1-6.3 1-1.3 1 7.8 1-1.9 1-7.9 1 .3 1 4.3 1-1.9 1 .3 1 3.2 1-9 1 4 1-4.4 1 8.1 1-8.2 1 3.7 1 5.2 1-.6 1 2.7 1-7.2 1-.1 1 6.1 1-3.8 1-1.5 1 6.9 1-8.6 1 5.9 1 .8 1-.4 1-.7 1 .7 1-4 1 8 1-3.6 1-.9 1 4 1-2 1-4 1-2.3 1 .2 1 3.5 1 1.2 1 .5 1 4.4 1-1.8 1-6.8 1 1.7 1 6 1-3.9 1 .5 1 3.6 1-4.6 1-3.6 1-2.1 1-2.1 1 4.9 1-1.7 1-3.8 1 10 1-1.1 1 .1 1 1.6 1 6.1 1-1.6 1 6.5 1-3.7 1-1.8 1 4.5 1 1.6 1 1.3 1-3.8 1 .5 1-1.6 1 6.4 1-2.8 1-2.5 1-1.2 1 2.1 1-.5 1 3.3 1 1.5 1-4.2 1-5.2 1 2.6 1 3.3 1 .2 1-4.5 1 3.9 1-2.5 1 .8 1 2 1-2 1 .6 1-1.9 1-.2 1 1.9 1-1.9 1-.4 1 3 1 .3 1-1.1 1 2.1 1 2.8 1 .6 1-3.3 1 1.7 1-5 1 4 1-4 1 1.4 1-12.6 1 2.6 1-3 1-8.2 1-3.2 1-8.4 1 2.9 1-9 1-.2 1 10.5 1 3.9 1 10.2 1-1 1 3.1 1-6 1 2.1 1 5 1-3.1 1-1.6 1 4.7 1-2.4 1 1 1-4 1 2.8 1 .7 1-2 1 6.1 1-3.2 1 5.9 1-1.2 1-4.8 1 4.4 1-.3 1-6.5 1 2.9 1 1.8 1-3.6 1 5.5 1-2.6 1 4.5 1 1.8 1-1.9 1-4.8 1 8 1-3.3 1 .6 1 2.2 1-2.4 1 2.1 1 2.1 1-2.8 1 4.3 1 2.5 1-5.5 1 4.5 1 .3 1-3.6 1 4.4 1-4.6 1 3.3 1 0 1 2.3 1-.4 1-1.6 1-8 1 7.9 1-2.1 1-8.3 1 .4 1 2.3 1-1.8 1-.9 1 .7 1 5.6 1-3.9 1 .8 1-.3 1 3.6 1-1.3 1 2.3 1-2 1-2.3 1 8 1-5.8 1 4.1 1-5.6 1 5.6 1-6.2 1-2.4 1 5.1 1-.5 1 1.1 1-6.3 1 5.7 1-4 1-.5 1 6.2 1-.8 1-.4 1-3.6 1 4.1 1-3.5 1-1.2 1 .9 1 2.6 1 .2 1-5.3 1 2.5 1 .2 1-3 1 1.2 1 1.4 1-2 1 1.8 1 3 1-4.8 1 6.7 1-6.9 1-2.5 1 4.1 1-1.4 1 .4 1 8 1 8.3 1-.1 1 1.6 1-1.2 1 .4 1 6.8 1-7.2 1 6.6 1 1.5 1-2.4 1 4.2 1-.9 1 .8 1-5.6 1 8.4 1-6.2 1 5.1 1 3.6 1-1.1 1-6.8 1-9.4 1-3.3 1 3.6 1 2.3 1-5.5 1 .9 1 1.2 1 3.5 1 .7 1-3.6 1 2 1-3.9 1 6.5 1-1.8 1-6.4 1 4.4 1-2.1 1-1.3 1 4 1 1.4 1 .9 1-4.4 1 1.7 1 2.5 1 .5 1-2.8 1 2.1 1-.7 1 1.6 1-1.1 1-6 1 2.6 1 1.3 1 .5 1-3.1 1 4.7 1 2.5 1 1.2 1-5.9 1 5.3 1-2 1-5 1 5.4 1 4.1 1-4.1 1 .8 1-1.4 1 9.6 1 4.4 1 6.8 1-9.2 1-2.7 1-5 1-3.8 1 .9 1 15.5 1-9.8 1-7.7 1 14.7 1-.9 1 4.2 1-4.8 1 4.3 1-11.5 1 11.3 1-2.3 1-6.7 1 3.5 1 3.7 1-12.2 1 8.9 1-1.9 1 1.3 1-12 1 1.2 1 8 1 .5 1-7.1 1 .4 1 4.6 1-.1 1-1.6 1-3.6 1 7.6 1 5.5 1 7 1-11.3 1-3.5 1-2.5 1 11.5 1-9.4 1 9 1-16 1 5.4 1 9 1-4.3 1 1.6 1-14.5 1 1.5 1 7.8 1 .2 1-8 1-9.6 1-5.9 1 5.4 1-8.1 1-8.5 1 10.4 1-14.6 1 1.6 1 16.7 1-7.3 1-4.3 1 1.7 1 7.3 1-7.7 1 6.1 1 12.3 1-4.7 1-3 1 4.2 1-12.7 1-5.2 1 3.4 1 3.2 1-5.7 1 7.8 1-14.7 1 18.8 1-8.8 1-5.9 1-3.6 .5 25.6 .6-2.4 .5 1.4 .6-8.3 .5 31.5 .6-27 .5 4.8 .6-19.1 .5-.9 .6 25.2 .5-7.7 .6-3.6 .5-15.6 .6 23 .5 20.1 .6-39.5 .5 31.2 .6-15.6 .5-18.2 .6 36.9 .5-7.8 .6-6 .5-15.3 .6 7 .5-15 .6 45.5 .5 1.4 .6-41.4 .5 27.8 .6-30.9 .5 29.4 .6 11.8 .5-13 .6-28 .5-.1 .6 9.5 .5 0 .6-15.8 .5 3 .6 45.3 .5 17.5 .6-50.2 .5 25.6 .6-15 .5-14 .6 10.7 .5-13.3 .6-31.1 .5 60.4 .6-17.2 .5 2.5 .6 13.8 .5-4.4 .6-29 .5 36.5 .6-22.4 .5 2.8 .6-13.2 .5-5.5 .6 3.7 .5 5.6 .6 43.5 .5-4.7 .6-39 .5 3.5 .6 21.8 .5-4.4 .6 13.3 .5-13.8 .6 41.3 .5-27.1 .6 25.6 .5 5.2 .6-28.3 .5-43.4 .6 56 .5-49.2 .6 29.6 .5-44.4 .6-3.2 .5 49.9 .6-28.7 .5 33.7 .6-24.1 .5-32.8 .6 2.6 .5 24 .6-22.8 .5 53.6 .6-24.3 .5 28 .6-17 .5-35.8 .6-5 .5 35.5 .6 29.2 .5-6.6 .6-27.2 .5-22.2 .6 24.2 .5 32 .6-76.8 .5 43.9 .6-2.4 .5 16.1 .6-35.3 .5 27.6 .6-7.8 .5 8.8 .6-19.7 .5-19.7 .6 49.8 .5-31.6 .6 22.5 .5-47.6 .6 9.7 .5 13.3 .6-9 .5 46.2 .6 9.7 .5 8.6 .6 9.1 .5-34.5 .6-1.9 .5-37.5 .6 52.1 .5 .8 .6-56 .5 55.2 .6-64 .5 45.5 .6-9.9 .5-12.4 .6 25.2 .5-1 .6-37.6 .5-4.8 .6-19.4 .5 83.4 .6-4.9 .5 16.4 .6-44.2 .5-20.6 .6 23.2 .5 14 .6-53.4 .5 29.3 .6 30.3 .5-49.8 .6 60.1 .5-14.7 .6 10.3 .5 .5 .6-20 .5 14.7 .6-11.4 .5-35.5 .6-13.7 .5 46 .6-1.1 .5-19.5 .6 21.9 .5-49.7 .6 10.2 .5 7.9 .6 29.6 .5-14.3 .6 22 .5-5.6 .6-50.6 .5 21.2 .6 60 .5-12.1 .6-24.6 .5-13.7 .6 37 .5-16.8 .6-6.7 .5-4.8 .6 67.6 .5-80.4 .6 41.8 .5-5.5 .6 23.9 .5 2.7 .6-12.6 .5-9.7 .6 1.2 .5-36.3 .6 .5 .5-14.7 .6-24.8 .5 22 .6 37.8 .5-5.3 .6-17.5 .5-5.2 .6 20 .5-30.6 .6 62.4 .5-50.1 .6 24.2 .5-40.5 .6 47.5 .5-50.9 .6 52.6 .5-47.8 .6 68.6 .5-83.8 .6 26.3 .5 3.1 .6-10.1 .5 2.9 .6 52.6 .5-16.4 .6-16.4 .5 15.6 .6-4.1 .5-42.8 .6 53.3 .5-9.6 .6 22.2 .5-19.6 .6 6.2 .5-23.5 .6 1.5 .5 .7 .6 8 .5 20 .6-58.5 .5 62.6 .6-10.9 .5-19.9 .6-10.9 .5-19.5 .6 67.9 .5-33.9 .6-60.3 .5 107.4 .6-8.3 .5-42 .6-23.9 .5 60.1 .6-40.6 .5-23 .6 73.7 .5-50.7 .6 63.2 .5-79.4 .6-9.3 .5 44.6 .6 4.8 .5-7.4 .6 2.1 .5-28.5 .6-18.5 .5 8 .6 24.4 .5-22.5 .6-31.9 .5 37.3 .6 30.5 .5 1.4 .6 2.4 .5 .1 .6 9.8 .5-39.1 .6 46.2 .5-10.6 .6 25.9 .5-49.3 .6-8.8 .5 39.4 .6-23.5 .5 6.2 .6-38.7 .5 29.9 .6 40.7 .5-90.8 .6 34.7 .5 3.8 .6-4.7 .5-42 .6 56.1 .5-56 .6 90 .5-34 .6 9.4 .5-.6 .6-91.6 .5 72.5 .6 19.8 .5-65.2 .6 28.3 .5-6 .6 3.7 .5 41.2 .6-83.2 .5 61.1 .6-56.2 .5 27.1 .6-29.6 .5 12.4 .6 17.6 .5-13.6 .6 43.6 .5-50.4 .6 59.5 .5 33.1 .6-93.7 .5 6.8 .6 4.4 .5 44.5 .6 8.5 .5 26.7 .6-82.2 .5-19.5 .6 17 .5 75.3 .6-2.3 .5-26.4 .6-55.9 .5 96.2 .6 10.6 .5-54 .6-53.5 .5 13.1 .6-5.4 .5 1.5 .6 23 .5 9.6 .6 26.4 .5-44.3 .6 39.6 .5-44.2 .6 45.5 .5-43.8 .6 11 .5 19.5 .6 46.7 .5 5.7 .6-25.2 .5 48.6 .6-34.7 .5-13.5 .6-40.8 .5 57.1 .6 10.7 .5-27.5 .6 15.9 .5 14.5 .6-40.6 .5 39.5 .6-73.4 .5 19 .6 61.4 .5-15.6 .6 6.9 .5 0 .6-46.7 .5 38.9 .6-53.6 .5 46.8 .6-52.2 .5 18 .6-17.9 .5 23.6 .6 23.4 .5-60.2 .6 62.3 .5 17.5 .6-52.8 .5-13.9 .6 19.2 .5-1 .6 10.2 .5 6 .6-12.9 .5-20.3 .6 80.1 .5-54.4 .6 15.9 .5-42.3 .6 52.2 .5-37 .6-41.5 .5 72.3 .6 1.2 .5 .1 .6 31.6 .5-4.1 .6-62.5 .5 2.7 .6-18.1 .5 24.1 .6 1 .5 4.4 .6 37 .5-51 .6-31.9 .5 69.2 .6-33.4 .5-1.1 .6 60.7 .5-18.3 .6 22.7 .5-32.5 .6-13.9 .5 14.6 .6-41 .5 18.9 .6-15.1 .5 48.3 .6-55.4 .5-18.3 .6 79.5 .5-54.3 .6 30.8 .5-7 .6-7.6 .5 8.9 .6-51.7 .5-26.7 .6 14.8 .5-5.1 .6 66.7 .5-64.9 .6 19.5 .5 2.3 .6 6.4 .5-28.8 .6 12.8 .5 1.3 .6 4.9 .5-14.9 .6 17.1 .5 62 .6-1 .5-65.2 .6 90.1 .5-66.3 .6 5.4 .5-16.5 .6 66 .5-11.1 .6-50.3 .5-27.8 .6 31.1 .5 44.6 .6-53.5 .5-6.8 .6 17.8 .5 26.8 .6-72 .5 18.4 .6-8 .5 51.6 .6-41.3 .5 8.5 .6 62.9 .5 6.5 .6-39.2 .5-18.2 .6 48.8 .5-68.6 .6 44.5 .5-7.9 .6 45.5 .5-78.1 .6 39.3 .5-32.4 .6 81.7 .5-26.8 .6-56.2 .5 64.2 .6-57.6 .5 20.8 .6 46.7 .5-11 .6-17.1 .5 32.9 .6 3.2 .5-35.3 .6-31.3 .5 35.5 .6-2.2 .5 2.1 .6-25.4 .5-21.1 .6-11.7 .5 67.5 .6-55.3 .5 42.2 .6-1.7 .5-33 .6-16.8 .5 66.1 .6-24.1 .5 26.9 .6-47.7 .5-12.1 .6-24.5 .5 96.3 .6-70.2 .5-21.6 .6 6 .5 18.7 .6 48.1 .5 1.1 .6-71.5 .5 52.2 .6-61.3 .5 39.5 .6 45.2 .5-29.3 .6-65.2 .5 68.9 .6-44.5 .5-31.5 .6 77.9 .5-76 .6 33.3 .5 19.4 .6-30.2 .5 24.1 .6 25.7 .5-51.5 .6-14.7 .5-7.6 .6 82 .5 7.4 .6 8.3 .5-2.6 .6-55.4 .5 67 .6 4.4 .5-60 .6 8.9 .5 48.3 .6-70.5 .5 60.4 .6-46.6 .5-37.1 .6 25.2" stroke="#008000" stroke-width="2.9" fill="none" stroke-linejoin="round"/>
<path clip-path="url(#c2)" d="M263.2 719l.6 4.2 .6-47.7 .6 18.3 .6 25.8 .6-57.3 .6 74.3 .6 19.2 .6-70.3 .6 15.5 .6-18.9 .6 37 .6-51.8 .6-13.6 .6 56.1 .6 3.6 .6-41.6 .6-44 .6-2.5 .6 16.6 .6 81.7 .6-33.7 .6 11.2 .6-73.8 .6 71.5 .6-30.5 .6 26.5 .6 14.1 .6 40.7 .6-32.8 .6 41.2 .6 4.5 .6-8.9 .6-41.2 .6 26.5 .6 1.2 .6-24.4 .6-24 .6-33.5 .6 79.3 .6-30.8 .6 37.2 .6-17.9 .6-49.7 .6 48.6 .6 7.1 .6-69.9 .6 26.5 .6 34.7 .6 8 .6-54.4 .6 18.5 .6 38.9 .6-10 .6-61.5 .6-31.7 .6 69.4 .6-6.5 .6 5.5 .6 8 .6-130.9 .6 181.3 .6-38.4 .6 7.7 .6-5.7 .6-28.1 .6 26.6 .6 .9 .6-30.8 .6 11.1 .6 31.6 .6-34.7 .6 13.8 .6-10 .6 1.1 .6 9.1 .6-15.7 .6 22.3 .6 12 .6 10.9 .6-40.1 .6-3.4 .6-.5 .6 47.9 .6-22.2 .6-18.4 .6 21.3 .6 7.3 .6-12.7 .6-24.7 .6-6.9 .6 16.8 .6 26.5 .6-36.7 .6 50.1 .6-10 .6-1.8 .6-5.3 .6-5.2 .6 21.1 .6-28.4 .6-10.2 .6 34.5 .6-27.3 .6-14.6 .6 15.6 .6 4.2 .6-11.5 .6 3.1 .6 12.1 .6 68.7 .6-92 .6 1.5 .6 23.2 .6-29.7 .6-4.9 .6 26.6 .6-19.4 .6 33.3 .6-28 .6-7.4 .6 23.6 .6-11.6 .6 1.1 .6-13.8 .6 16.7 .6 15.8 .6 10.1 .6-2.1 .6-36.2 .6 28.2 .6 12.8 .6-21.2 .6 4.6 .6 25.8 .6-6.9 .6-35.1 .6 26.6 .6-19.6 .6 11.3 .6 12.5 .6-7.9 .6-12.6 .6-1.5 .6 .5 .6-7.9 .6-21.5 .6 30.5 .6-26.9 .6 37 .6 6 .6-8.7 .6 6 .6-41.2 .6 23.9 .6 34 .6-54 .6 28.9 .6 13 .6-18.4 .6 61.8 .6-42.7 .6 8.4 .6-11.8 .6 9.3 .6-8.6 .6-27.8 .6 50.7 .6-52.5 .6 9.5 .6 8.9 .6 3.5 .6-1.4 .6 6.3 .6-22.8 .6 27.4 .6 5.2 .6-54.8 .6 35.9 .6-29.3 .6-8.2 .6 10.5 .6 33.3 .6-26.2 .6 47.1 .6-39.9 .6 31.7 .6-16 .6-31.1 .6 44.6 .6-18.3 .6 16.3 .6-24.2 .6 8.7 .6-31.6 .6 39.7 .6 1.2 .6-57 .6 55.6 .6 29.6 .6 9 .6-13.2 .6 1.4 .6-6.7 .6 21.2 .6-20.2 .6 23.3 .6-36.2 .6 8 .6-6.2 .6 10.7 .6 12.9 .6-21 .6 12.6 .6 16 .6-24.1 .6 31.5 .6-38.2 .6 43 .6-27 .6-11.1 .6 24.4 .6-37.9 .6 13.4 .6-10.4 .6 12.5 .6 20.3 .6-13.3 .6 1.9 .6 16.3 .6-28.2 .6 29.2 .6 13.1 .6-4.7 .6-13.4 .6-.7 .6 .2 .6 11.3 .6-.6 .6-1.7 .6-15.2 .6 13.9 .6-30.7 .6 49.7 .6-54 .6 34.6 .6-30.9 .6 30.3 .6-13.9 .6-.7 .6 12.7 .6 .2 .6 8.6 .6-32.7 .6 34.6 .6-2.1 .6-5.7 .6 5.2 .6-32.4 .6-4.3 .6 17.6 .6 23.2 .6-17 .6 8.1 .6 24.2 .6-10.1 .6-.7 .6 5.9 .6 7.9 .6-25.2 .6 3.4 .6-1.9 .6 17.3 .6-22.4 .6 20 .6-93.2 .6 63.7 .6-4.8 .6 31.9 .6-27.6 .6 22.6 .6-2.6 .6-11.6 .6-6.5 .6-15.9 .6 38.9 .6-42 .6 35.4 .6-15.2 .6 60.6 .6-75.5 .6 20.7 .6-.2 .6-.9 .6 15.3 .6-.6 .6-17.5 .6 15.1 .6-22.6 .6 17.7 .6-20.1 .6 32.6 .6-22.5 .6-26.4 .6 22.3 .6 27.4 .6 2.1 .6-4.3 .6-4.7 .6-38.3 .6 25.7 .6-6.4 .6-17.3 .6 46.7 .6-50.2 .6 12.5 .6 7.6 .6-20.9 .6 8 .6 4 .6-4.5 .6 13.2 .6 16.5 .6-12.2 .6-31.1 .6 45 .6-28.7 .6 16.1 .6 8.8 .6-19.9 .6 29.2 .6-38.2 .6 7.2 .6 8.1 .6-23.2 .6 16.4 .6 16.2 .6-6.6 .6 20.5 .6-36 .6 21.7 .6 13.4 .6 5.4 .6-20.9 .6 14.2 .6 5 .6-4.9 .6 1.7 .6-45.5 .6-2.5 .6 51.8 .6-.9 .6-8.8 .6-22.1 .6 7.6 .6 15.4 .6-1.5 .6-1.7 .6-39.5 .6 4.2 .6 8.7 .6-4.1 .6 34.5 .6 9.3 .6-7.4 .6-40 .6 50.4 .6-40.3 .6 16 .6-5.2 .6-14.3 .6 23.6 .6-37.5 .6 29.9 .6 13.8 .6-22.5 .6 8.1 .6 15.3 .6 8 .6-9.5 .6-12 .6-20.6 .6 4.8 .6 22.2 .6-23.2 .6 54 .6-26 .6 .6 .6-18.8 .6 37.9 .6-30.1 .6 25.1 .6 .8 .6 8.5 .6-1.6 .6 4 .6-7.5 .6-19.9 .6 16.5 .6-12.4 .6 14.1 .6-21.9 .6 12.9 .6-35.8 .6-3.9 .6 10 .6 20.9 .6-.3 .6-44.2 .6 27.7 .6-26.5 .6 36.8 .6-42.3 .6-2.6 .6 32.5 .6-34.2 .6 11.2 .6-18.7 .6 33.2 .6-21.5 .6-6.1 .6-2.7 .6 25.2 .6 9.5 .6-12.1 .6-26.5 .6 7.1 .6-3 .6-8.6 .6 38.5 .6-1.9 .6-32 .6 1.7 .6 14.9 .6-12.2 .6 21.7 .6-17.4 .6-2.8 .6 21 .6 .2 .6-6.8 .6-2 .6-14 .6 16.5 .6 1.2 .6-36.8 .6 26.6 .6-9.4 .6-37.9 .6 53 .6 4 .6-26.4 .6 10.6 .6 22.4 .6-5.3 .6 12.9 .6 1 .6-15.8 .6-.6 .6 12.2 .6-20.2 .6-10.2 .6 7.2 .6 26.6 .6-4.9 .6 7.2 .6-23.3 .6 13.6 .6-7.7 .6-.4 .6 8.3 .6 12.1 .6 19.1 .6-19.6 .6 17 .6-18.6 .6 3.8 .6 10.2 .6-18 .6 1.9 .6-.2 .6-10.7 .6 35.3 .6-18.2 .6-3.4 .6 13.4 .6 9.1 .6-24.5 .6-7.6 .6 8.3 .6-2.3 .6-1.9 .6 7.1 .6 1.5 .6 2.9 .6 12.6 .6-8.4 .6-9.6 .6-10.7 .6 8.4 .6 14.8 .6 10.6 .6-29.6 .6-8.3 .6-4.1 .6-4 .6 28.1 .6-18.1 .6 16.4 .6 8.4 .6-.1 .6-32.2 .6 37.6 .6-17.1 .6 7.6 .6 18.1 .6-30.5 .6 23 .6-10.9 .6-20.3 .6 46.2 .6-25.2 .6-17.5 .6 .2 .6 19.8 .6-9.3 .6 12.5 .6-23.7 .6 12.1 1 10.8 1-6.8 1-9.2 1-4.7 1-25.9 1 25.5 1-31.1 1-62.7 1 60.5 1 19.2 1-9.5 1 4 1-38.6 1 14.7 1-19.5 1 3.1 1 47.5 1-15.2 1-5.6 1-24.9 1 26.6 1 9.4 1-39.8 1 37.3 1 22.5 1-18.9 1-20.3 1-26.9 1 30.3 1 .2 1 6.7 1 5.9 1-47.3 1 10.8 1-1.1 1 1.9 1 32.1 1-6.6 1 21.3 1 3.5 1 40.5 1-11.8 1-5.8 1-27 1-9.9 1 13.6 1 10.5 1-9.8 1-14 1 9.4 1-11.1 1 12.6 1-4.2 1-6.2 1-6.5 1 2.8 1 5 1 12.7 1-2.6 1-7.6 1 .9 1-8.1 1-3.7 1-2.3 1 18.3 1-15.7 1 13.4 1-7.9 1 12.6 1-13.4 1-4 1 25.4 1-16.8 1-7.8 1 4.6 1-8.1 1 5.5 1-5.4 1 1.7 1 10.9 1 1.4 1 3.8 1-13 1 7.7 1-29.1 1 .4 1-.4 1 2.5 1-8.4 1 1.6 1-5.6 1-16.7 1 9 1-20 1 3.5 1 3.3 1-11.4 1 15.5 1 13.1 1-4.5 1-8.3 1 9.1 1-.6 1-1.6 1-4.4 1 2 1-7.9 1 9.5 1-13.6 1 10 1-8.8 1 11.5 1 9.7 1-15.1 1 4.1 1-2.3 1 3 1 2.5 1 2.5 1-5.5 1 12.1 1-9.1 1-3.4 1 2.8 1-6.1 1 7.3 1 1 1 5.3 1 .7 1-4.7 1 10.8 1-26.3 1 26.3 1 3 1-19.6 1 3.4 1 5.7 1 2.6 1 9.2 1 2.7 1-16.7 1 24.5 1-13.4 1 5.5 1-19.3 1 7.1 1 5.4 1-13.8 1-10.8 1 17.3 1-14.1 1 2 1-9.3 1-7.1 1 11.9 1 2.6 1-11.1 1 1.2 1-9.4 1 4.3 1-.7 1 2.9 1 9 1 5.5 1-3.2 1 1 1-6.7 1 4.9 1-1.1 1-8.4 1 4 1 6.5 1-13.8 1 9.4 1 3.4 1 3.6 1-6.4 1 11.2 1-20.8 1 .4 1 29.4 1-29.6 1 17.7 1-10.7 1 5.1 1 8.8 1-14.1 1 12 1-7.8 1 18.9 1-10.6 1 9.3 1-9.9 1 6.9 1-17.5 1 17.1 1-5.3 1 8.6 1-8.3 1 9 1 6.7 1-22.2 1 18.6 1-.1 1 1.7 1-2.6 1-9.5 1-1.9 1-8.9 1 2.5 1-14.1 1 .4 .6 25.2 .6 3.2 .6 18.2 .6-29.3 .6 .1 .6 15.1 .6 9 .6 2.7 .6 4.4 .6-1.2 .6-26 .6-.6 .6 31.5 .6-8.1 .6-13.5 .6 5.3 .6 7.7 .6-22.6 .6 23.6 .6-30.4 .6 25.5 .6 .3 .6 1.5 .6-14.6 .6-29.1 .6 .5 .6 36.7 .6 15.8 .6-18 .6 16.8 .6-31.1 .6 16.5 .6 3.7 .6 6.3 .6-5 .6-.8 .6 17.2 .6-23.2 .6 17.2 .6 4.6 .6-33.3 .6 24.3 .6-25.7 .6-2.6 .6 10.8 .6-1.1 .6-10.7 .6 18.6 .6 2.9 .6-31 .6 45 .6-21.8 .6 11.5 .6-18.8 .6 21.5 .6 2.6 .6-3.2 .6-7.6 .6-12 .6-5.9 .6 33.9 .6-10 .6-8.1 .6 9.5 .6 8.6 .6-33 .6 11.4 .6-.3 .6 11.2 .6 17.1 .6-2.6 .6-9 .6 9.3 .6-11.2 .6-2.3 .6-13.7 .6-2.9 .6-.4 .6 24.3 .6-.9 .6-28.6 .6-3.4 .6 67.2 .6-57.7 .6 7.1 .6-13.9 .6-2.5 .6 19.6 .6-11.6 .6 2.5 .6-6.8 .6 18.3 .6-1.9 .6-17.6 .6 11.7 .6-18.6 .6 22.5 .6 2.8 .6 3 .6-4.9 .6 5.1 .6-14.8 .6 17.8 .6-10.7 .6 .6 .6 9 .6-21.8 .6 20.3 .6 1 .6 5 .6 1.4 .6 5.2 .6-16 .6 20.3 .6-13.9 .6-14.9 .6 16.3 .6-15.7 .6 8.6 .6-28 .6 37.9 .6 11.7 .6-3.7 .6-27.1 .6 7.5 .6 16.2 .6-3.3 .6-27.4 .6 30.2 .6-22.4 .6 7.7 .6-.2 .6 .9 .6 14.6 .6 3.4 .6-28.8 .6 19.1 .6-23.1 .6 30.3 .6-28.1 .6 22.6 .6 6.5 .6-25.8 .6 27.4 .6-7.4 .6-27 .6 34 .6-6.7 .6-33.7 .6 6.1 .6 36.8 .6-6.9 .6-6.6 .6 10.1 .6-17.4 .6-12 .6-4.3 .6 5.1 .6 11.3 .6-6.8 .6 5.2 .6-1.8 .6 17.2 .6-14.3 .6 18.4 .6-39.2 .6 15 .6-10.8 .6 29.9 .6-.3 .6-4.5 .6-11.2 .6-2.5 .6 20.3 .6 6.3 .6-55.2 .6 48.6 .6-28.5 .6 63.3 .6-41.1 .6 6.4 .6-.3 .6-8.9 .6 .2 .6 19.4 .6-42.6 .6 35.7 .6-25.6 .6 17.7 .6-3.8 .6 8.7 .6-2.3 .6 6.2 .6-26.7 .6 38.1 .6-43.1 .6 0 .6-7.6 .6 5.1 .6 46 .6-19.8 .6-11.8 .6-13.7 .6 35.3 .6-1.2 .6 1.2 .6-41.1 .6 8.1 .6-3.1 .6 21.6 .6 2.3 .6-17.9 .6-23.1 .6 21.9 .6 5.6 .6 30.3 .6-46.4 .6 6.6 .6 63.7 .6-22.5 .6-14.6 .6-9.8 .6 12.1 .6 11.7 .6-8.7 .6 4.6 .6-34.6 .6 38.5 .6-24.8 .6-14.5 .6 35.2 .6-33.4 .6 17 .6-18 .6 24.7 .6-56.5 .6 45.4 .6 23.9 .6-32.9 .6 10.4 .6 .9 .6 8.1 .6-19 .6 25.9 .6-23.4 .6-1.9 .6 19.9 .6-4.4 .6-25 .6 24 .6-26.1 .6 32.2 .6-26.1 .6-14.4 .6 6.6 .6 43.5 .6-39.3 .6 24.8 .6-16.1 .6 22.5 .6-5.2 .6 39.3 .6-38.7 .6 11.5 .6-18.2 .6-4.9 .6 18 .6-15.7 .6 9.8 .6-1.4 .6-4.3 .6-60 .6 41.2 .6 6.2 .6 19.7 .6-7.6 .6 12.9 .6-22.9 .6 19.5 .6-7.5 .6-2.2 .6 10.5 .6 11.6 .6-18.1 .6-22.6 .6 27.7 .6-5.7 .6-16.4 .6 21.4 .6-3.1 .6 9.5 .6-8.1 .6-4.6 .6 22.3 .6-26.7 .6-18.7 .6 15.1 .6-2.8 .6 10.3 .6-6 .6 26.2 .6-6.5 .6-22.1 .6-12.4 .6 3.5 .6 17.8 .6-15.8 .6 28.4 .6-11.1 .6-20.8 .6 15.6 .6-6.8 .6 25.9 .6-40 .6 24.7 .6-11.5 .6-13.5 .6 28.9 .6-21.6 .6 14.5 .6 .3 .6-20.1 .6 10.9 .6 15 .6-5.5 .6-1.3 .6 36.1 .6-28.8 .6 .9 .6-29.6 .6 7.5 .6 31.7 .6-21 .6 16.2 .6 4.2 .6-1.3 .6-33.3 .6 23.9 .6-24.5 .6 14 .6-23.7 .6 28.9 .6-19.5 .6 43.7 .6-11.5 .6-10.3 .6-9.8 .6-12.1 .6 2.3 .6 37 .6-23.8 .6-27.5 .6 32 .6-21.5 .6-2 .6 13.3 .6 6 .6-24.7 .6 18.8 .6-13 .6 20.5 .6 .4 .6 19.3 .6-23.8 .6 18.6 .6-16 .6 3.6 .6-.6 .6-6.1 .6 24.7 .6-16.6 .6-9.8 .6 23.3 .6-4.7 .6-35.5 .6 3.3 .6 29.5 .6-7.4 .6 7.6 .6 15.4 .6-28.2 .6 8.1 .6 16.4 .6-4.6 .6-24.1 .6 27.7 .6-16.9 .6 4 .6-44 .6 18.2 .6 17.4 .6-7.8 .6-14.1 .6 12.5 .6 25.7 .6-30.9 .6 4.5 .6 31.8 .6-15.8 .6-17.7 .6 51.3 .6-33.1 .6-2.3 .6-3.6 .6-26.1 .6 40.2 .6-7.6 .6-4.7 .6 1.8 .6 18.3 .6-22.6 .6-10.8 .6 37.9 .6-28.2 .6-16.8 .6 .1 .6 24.7 .6-10 .6 8.3 .6 7.2 .6-22 .6 30 .6-22.2 .6-8.2 .6-2.8 .6 28.1 .6-36.8 .6 22.8 .6 18.9 .6-18.4 .6 7.6 .6-2.7 .6 1.4 .6-4.6 .6-6.5 .6 7 .6 9.2 .6 21.4 .6-45.3 .6 5.2 .6 6.5 .6 19.7 .6-5.7 .6-24.4 .6 28.9 .6-3.4 .6-6.5 .6-17.9 .6-2 .6 12.3 .6 1.3 .6-4 .6 14.7 .6-6 .6-11.9 .6 25 .6-17.1 .6-11.3 .6 19.9 .6-4.6 .6 3.9 .6-6.5 .6-1.6 .6 13.5 .6-16 .6 10.7 .6-8.5 .6 8.3 .6 3 .6 3 .6-22 .6 9.3 .6-2.6 .6-5.3 .6 3.3 .6 7.1 .6 8.2 .6-13.2 .6 12.1 .6 .8 1-13 1 2 1 3 1-3.1 1-3 1 1.9 1 .3 1-.8 1-1.4 1 .3 1-1 1 0 1 4.5 1-1.7 1 1.6 1-2 1-.2 1-2.1 1 3.1 1-3.1 1 2.9 1-1.7 1-.4 1 1.7 1-1 1-.2 1 1.5 1-.5 1-.8 1 .6 1 1.4 1-2.4 1 0 1 .9 1 1.4 1-2.8 1 1.9 1 1.4 1-2.5 1-4.2 1-12.1 1-4.7 1-7.4 1-12.5 1-6.8 1-4.9 1-1.9 1 10.3 1 1.3 1 14.2 1 6.4 1 6.8 1 1.9 1 3.6 1 6.3 1 .2 1 5.4 1-2.2 1-1.4 1 1.4 1-1.1 1-.7 1 5.5 1-4.9 1 4.6 1-2.8 1-1 1 1.6 1-1.1 1 1.3 1-6.5 1 5.5 1-3.8 1-3.9 1 2.3 1 1.5 1-6.4 1-3.9 1 3.5 1-6.5 1-2.4 1 1.3 1 5.6 1-.6 1-.4 1 3.4 1 .1 1-2.2 1 5.5 1-5.8 1 5.6 1-2.4 1 1.5 1 1.3 1 3 1-2.4 1-2.8 1 4.4 1-4.3 1 4.9 1-3 1 6 1-.8 1-1.1 1-2.9 1 3.1 1-7 1 2.6 1 4.2 1-2.7 1-3.8 1 6.7 1-7.5 1 .5 1 21.5 1-20.7 1 2 1 2.2 1-1.7 1 6.8 1-4.9 1-3 1-.6 1 1.8 1 3.6 1-3.6 1 5.4 1 3.2 1-13.9 1 12.8 1-9.4 1-.6 1 5.6 1 3.6 1-.1 1-8.1 1 7.5 1 2.3 1-5.3 1 .9 1 5.7 1-4.9 1 .8 1 .5 1-.3 1-.7 1 4 1-5.9 1-2.8 1 7.2 1-6.5 1 1.1 1 .9 1 3.2 1-3.3 1 .2 1 1 1 3.5 1-3 1-1.3 1 3.1 1 1.6 1-29.1 1 44.3 1-22.4 1 2 1-2.6 1-.6 1 3.5 1-3.9 1 .9 1-2.9 1 2.8 1-2.7 1 .2 1-1.8 1-2.5 1 3.3 1-1.2 1 .8 1 1.2 1-2.5 1 1.2 1 0 1-3.9 1 4.8 1-.6 1-2.8 1 4.3 1 7.6 1-2.1 1 5.4 1-1.5 1 1.6 1-1.5 1-2.7 1 .5 1-1 1 4.3 1-4.5 1 2.5 1 1.4 1-1.9 1-2.3 1 3.3 1-1.7 1 1.4 1 4 1-3.9 1-.1 1 .8 1 .6 1 3.5 1 1.1 1-1.8 1 3.1 1 3.1 1-2 1 2.5 1 .2 1-.2 1 6.8 1-2.3 1-1.4 1 .6 1 5.5 1-2.6 1 2.8 1-5.1 1 .9 1 .2 1-5.2 1-2.6 1 2.6 1-6.8 1 2.4 1-4.8 1 1.2 1 1.8 1-4.1 1 .2 1 .5 1 1 1-.2 1-.3 1-.1 1 3.5 1-2 1-2.4 1-2 1 2.5 1 .1 1 2.8 1-.5 1-1.6 1 1.1 1 1.7 1-2.3 1 .1 1-2.6 1-.3 1 2.7 1-1.6 1 .7 1-1.8 1 .6 1 1.7 1-1.1 1 0 1 .1 1-2.6 1 2.9 1-.3 1-2.9 1 2.5 1-3 1 2.9 1-2.9 1 4.6 1 .3 1-2.4 1-1 1-.5 1 4.2 1-1.4 1-1.9 1 2.3 1-1.3 1-2.5 1 4 1-3.3 1 .4 1 1.1 1-2.5 1 .7 1 3 1-.3 1-.4 1-1.1 1 .7 1-2.1 1 2.9 1 .2 1 0 1-2.1 1 1.1 1 .3 1-1 1-1.5 1 1.3 1-1.2 1-.5 1 2.3 1-1.7 1-2.1 1 3.5 1-.5 1 .4 1-5.5 1 2.5 1 3.5 1 0 1 8.5 1-1 1 2.6 1-.5 1-1.3 1 2.8 1-2.4 1-4.1 1 2.6 1 2.4 1-1.1 1 1.4 1-.2 1 .9 1-2.8 1-.1 1-1.3 1 .9 1-5.1 1 3.6 1 10.4 1-11.4 1 2.4 1 .3 1-2 1 .6 1 1.5 1-2.3 1 3 1-.1 1 3.3 1-6.6 1 2.1 1 3.5 1-3.8 1-2.1 1 .4 1 1.7 1-2.3 1 3.4 1-.4 1-2.7 1 6.9 1-1.1 1 .7 1-4.4 1 6.9 1-.1 1-2.6 1-4.8 1 3.4 1 8.3 1-9.5 1 .4 1 4 1-2.7 1-1.1 1 1.2 1-4 1 5 1-.5 1-5.7 1-3.7 1 1.5 1 7.5 1-5.1 1-2.2 1 4.7 1-1.6 1 3.6 1 1 1-.2 1 .1 1-6.5 1 6.6 1-6.4 1 2.4 1 2.2 1 .4 1-2 1 3.7 1-4.8 1 4.1 1-7.2 1 4.1 1-2.2 1 2.8 1-5.2 1 7.1 1-3.4 1 4.3 1 .3 1-5.9 1 5.1 1-.3 1-2.9 1-2.2 1 .2 1-1.6 1-.8 1 2.1 1-1.2 1 5.2 1-7.5 1 3.6 1 1.7 1-4.7 1 4.6 1-1.5 1-4 1 2 1 .7 1-4.8 1 5.7 1-2.5 1-1.8 1 3.4 1-1.6 1-8.5 1-.1 1 7.2 1-3.9 1 5.8 1 1.4 1-2.4 1 .2 1 1.4 1-3.9 1 .9 1-2.4 1-5.4 1 2.8 1 4.7 1-2.9 1 1.2 1-8 1 1 1 6.8 1-4.8 1 3.2 1-1.7 1-2.9 1-.8 1-5.7 1 1.9 1 0 1 .5 1-4.2 1 1.9 1-1.9 1 1.5 1-.8 1 6.7 1-8.2 1 1.3 1-3.3 1 1.9 1-5.1 1 2.3 1-.1 1 2 1 6.4 1-4.5 1-6 1 7.7 1-6 1 5 1-3.2 1 1 1-6.2 1 7.9 1-.8 1 .9 1 .5 1-6.7 1 3.1 1 7.6 1-2.7 1 .7 1-2.2 1 .4 1 5.6 1-4 1-2.3 1 2.8 1-1.6 1-.8 1-3.8 1 8.6 1-10.6 1 4.7 1-5.1 1 9.6 1-6.1 1 4.8 1-6.4 1 10.8 1-1.7 1 8.7 1 1.9 1-6 1-4.4 1 1.4 1-11 1-2.6 1 1.3 1-3.3 1-2.9 1 .7 1-10 1-.8 1-.4 1-6.2 1 7.1 1 10.7 1 8.3 1 1 1-9.6 1 6.3 1-1.5 1 6.2 1 2.8 1-2.3 1-1.5 1 5.7 1-1 1-2.1 1-.5 1-3 1-1.1 1-5.7 1 12.2 1-8 1-2 1-2.7 1 9.9 1-3.4 1 .1 1-7.3 1 2.9 1-3.4 1 4.3 1-1.8 1-2.5 1 1.8 1-10.1 1 2 1-5.8 1-5.6 1 1.5 1-8 1 .3 1 8.4 1 6.8 1-2.7 1 9.9 1 1.6 1 .7 1 4.9 1 7.3 1-1.3 1 1 1 8.1 1-4.2 1 1.5 1 2.7 1 8.1 1 4.3 1 3 1-2.2 1 .6 1 9.9 1-2.1 1 8.2 1 2 1 5.5 1 .5 1-14.2 1-1.4 1-8.9 1 7.3 1-.5 1-.7 1-15 1 3 1 10.2 1 1.1 1-12.3 1 4.3 1-5.7 1 7.3 1 4.6 1-4.6 1 1 1 6.1 1-9.3 1 12.8 .5-16.6 .6-14.8 .5 7.5 .6 29.7 .5-21.9 .6 7.3 .5-31.9 .6 38.1 .5 8.8 .6-42.7 .5 35 .6-74.4 .5 66.4 .6-16.4 .5-1.8 .6 35.2 .5-12.6 .6-11.7 .5-20.4 .6-.5 .5 42.5 .6-15.5 .5-41.6 .6 6.6 .5 20.4 .6-23.9 .5 49.3 .6-46.8 .5 25.6 .6 12.1 .5 11.8 .6-.8 .5-20 .6-22.9 .5 33.8 .6 13.2 .5-12.8 .6-21.5 .5 13.7 .6-34.6 .5 21.3 .6-16.5 .5 32.9 .6-18.1 .5 31.3 .6-31.6 .5-3.8 .6 41.5 .5 4 .6-42.9 .5 33.2 .6-12.5 .5-1.6 .6-48.8 .5 11.9 .6 14.3 .5 25.8 .6 4.8 .5-11.6 .6 17 .5-4.9 .6-16.7 .5-13.3 .6 17.8 .5 18.9 .6-24.8 .5-28.8 .6 53.3 .5-30.6 .6 42.8 .5-69.1 .6 11.5 .5 2.5 .6 18.2 .5-4.3 .6-6.9 .5 22 .6-23.8 .5 35.4 .6-9.5 .5-52.2 .6 44.3 .5-23.7 .6 9 .5-2.4 .6-14.2 .5 25 .6 16 .5-38.5 .6 41.3 .5-46.3 .6 37.6 .5 29.1 .6-12.8 .5-32.9 .6-.4 .5 38.5 .6-17.6 .5-27.8 .6 39.2 .5-8.8 .6 19.6 .5 7.9 .6-18 .5-32.4 .6-26.3 .5 19.1 .6 31.4 .5 6.9 .6-56.4 .5 12 .6 7.4 .5-5.2 .6 18.9 .5-35.9 .6 10.4 .5 5.6 .6-9.9 .5 19.9 .6 22.1 .5-56.3 .6 58.3 .5-21.5 .6 23.5 .5-32.6 .6 53.7 .5-57.5 .6 18.9 .5 38.6 .6-26.9 .5 2.8 .6-36.4 .5 40.7 .6 12.2 .5-3.9 .6-14.2 .5 22.8 .6-40.8 .5-5.2 .6 42.7 .5-56.8 .6-1.2 .5 42.4 .6-11.9 .5-29.2 .6 18 .5-40.3 .6 34.2 .5-8.1 .6 19.5 .5 32 .6-43.4 .5-9.6 .6 61.3 .5-34.4 .6-8.9 .5-13.9 .6 2.3 .5 9.9 .6-14 .5 4.5 .6-14.2 .5 16.1 .6 19.2 .5-21.9 .6 29 .5 8.4 .6-17.8 .5 28.1 .6-45.7 .5 39.6 .6-32.7 .5-41 .6 8.3 .5 75.2 .6-27.5 .5 5.2 .6-36.7 .5 12.3 .6-21.3 .5 61 .6-44.9 .5 15.7 .6 44.4 .5-44.6 .6 5.9 .5 46.3 .6-26.3 .5-33.4 .6-25.3 .5 38.1 .6 15.5 .5-36.8 .6 8.5 .5 53.8 .6-10.3 .5-39.6 .6 23.9 .5 16.5 .6-41 .5 38.2 .6-54.6 .5 30.8 .6 17.6 .5-44.9 .6 36.9 .5-50 .6 8.6 .5-12.2 .6 49 .5-41.4 .6 27.5 .5 2.4 .6 7.4 .5-38.1 .6-12 .5 74.9 .6-31.1 .5-52.4 .6 34.7 .5 2.7 .6 2.5 .5 11.6 .6-29.9 .5 41 .6-33 .5 42.1 .6 4.3 .5-3.2 .6-64.3 .5 16.8 .6 52.3 .5-49 .6 6.4 .5 5.7 .6 49 .5-13.2 .6-14.1 .5 37.8 .6-16.2 .5-36.9 .6-17.7 .5 49.1 .6 7 .5-41.8 .6-21.3 .5-6.8 .6 7.4 .5 75.6 .6-3.5 .5-53.4 .6-5.9 .5 25.8 .6 30.6 .5-74.4 .6 .4 .5 13.6 .6 2.2 .5 45.1 .6-57.7 .5 7.9 .6 52.3 .5-23.4 .6 24 .5 15 .6-7.8 .5-8.5 .6-5.6 .5-30.3 .6-19.4 .5 23 .6 35.4 .5-35 .6-10.8 .5 26.4 .6-17.8 .5-.1 .6-8.8 .5 26 .6 14.2 .5-7.2 .6-6.5 .5-3.9 .6-5.8 .5 39.3 .6-55 .5 19 .6-18.8 .5 8.1 .6 9.8 .5 9.2 .6 2.1 .5-56.9 .6 54.7 .5 7.3 .6-36.6 .5-8.1 .6 28.1 .5-19.3 .6-1.6 .5 42.6 .6-40 .5 20.2 .6-.7 .5-3.5 .6 1 .5-16.1 .6 29.8 .5 .8 .6-62.2 .5 25.1 .6 37.1 .5-3.6 .6-6.5 .5-43.8 .6 31.1 .5 26 .6 11.9 .5-36 .6 13.6 .5 21.4 .6-56.4 .5 63.6 .6-20.4 .5-19.5 .6-8.3 .5 9.7 .6-7.9 .5-31.5 .6 43.8 .5-3.5 .6 13.4 .5-39.7 .6-4 .5 4.1 .6 36.1 .5 27.4 .6-28.7 .5-48.7 .6 50.3 .5 20.8 .6-51.2 .5 57.8 .6 8.3 .5-53.8 .6 3 .5 6.8 .6 13.3 .5-32.3 .6 31.9 .5-8.6 .6 9.4 .5-34.7 .6-28.7 .5 61.5 .6 9.7 .5-72.7 .6 54.3 .5-36.4 .6 17.9 .5-17.5 .6 46.9 .5 9.9 .6-30.4 .5 25 .6-75.2 .5 92.4 .6-34.6 .5-19.4 .6 12.6 .5 7.6 .6-3.8 .5-40.5 .6 5.3 .5-12 .6 21.1 .5 5.7 .6 35.8 .5-32.9 .6-23.9 .5 37.1 .6-39.2 .5 39.2 .6 21.7 .5-53.1 .6-9.6 .5 102.8 .6-61.8 .5 13 .6-20.1 .5 8.7 .6 .7 .5 3.8 .6-33.1 .5 9.8 .6 37.2 .5 14.7 .6-59.5 .5-7.7 .6 38.9 .5-21.4 .6 41.5 .5 .1 .6-4.7 .5 39.9 .6-59.1 .5-9.9 .6 45.1 .5-28.6 .6-11.8 .5-3.8 .6 22.4 .5-51.2 .6 57 .5 26.5 .6-66.9 .5 61.9 .6-43.1 .5 36.1 .6 7 .5-90.2 .6 61.8 .5 18.5 .6-20.9 .5-14.9 .6 2.3 .5-42.6 .6 31.4 .5 11 .6 11.9 .5-5.1 .6-57.3 .5 21.2 .6 55.7 .5-36.2 .6-11.1 .5 4.8 .6 27.7 .5-35.9 .6 45.2 .5 2.9 .6 10.9 .5-10.2 .6-61.2 .5 59.4 .6 11.2 .5-37.9 .6 26.6 .5 10.7 .6-70.6 .5 54.8 .6-52 .5 26.5 .6-33.6 .5 67.2 .6-67 .5 38.3 .6-10.8 .5-4.1 .6-34.4 .5 73.4 .6-28.7 .5-10.3 .6 18.3 .5-49.7 .6 59.2 .5-12.7 .6-12 .5-30.9 .6 25 .5-32 .6 60.6 .5-55.7 .6 63.5 .5-35.2 .6 3.2 .5 31.1 .6-4.2 .5-5.3 .6-14.3 .5 21.5 .6-43.6 .5-22.2 .6 15.1 .5 82.4 .6-22.7 .5 12.8 .6 8.1 .5-.6 .6 3 .5 4 .6-23.6 .5 8.8 .6-15.7 .5-24.8 .6 24.5 .5-31.2 .6 39 .5-.4 .6-6.5 .5-17.1 .6 46.6 .5-47.7 .6-25.7 .5 61.7 .6-37.9 .5 10.6 .6 20.3 .5-7.4 .6 10.6 .5-52.2 .6 46.9 .5-9.3 .6-38.2 .5 60.5 .6-14.1 .5-41 .6 2.4 .5 3.4 .6 40.9 .5-1.3 .6 24.4 .5 .3 .6-63 .5-9.4 .6 20.6 .5 35 .6-36.6 .5-20.3 .6 57.8 .5-54.4 .6-7.4 .5 62.6 .6 3.9" stroke="#00f" stroke-width="2.9" fill="none" stroke-linejoin="round"/>
<path clip-path="url(#c3)" d="M296.2 963.3l0 2.4M300.1 943.3l.8-13.6 .8 11.9 .8-9.8 .8 2.8 .8 8.6 .8-.9 .8 7.9 .8-7.2 .8 .3 .8-1.1 .8-1.3 .8 1.6 .8-9.4 .8 6.8 .8-.1M313.7 938.2l.8-6 .8 14.9 .8-16.2 .8-1.8 .8 .2 .8-1 .8 2.3 .8 6.9 .8-11.4 .8 13.4 .8-6.5 .8 3.5 .8-2.2 .8-.8 .8 6.9 .8-14.9 .8 .6 .8 15 .8 .4 .8 0M335.7 947.9l.8 4.5 .8-4.6 .8 .5 .8-5.7 .8 1.7 .8-7.2 .8 11 .8-6 .8-5.5 .8-.6 .8 3.9 .8-.1 .8-2.8 .8 3.5 .8-9 .8 5.8 .8-2.8 .8 17.4 .8-7.7M352.9 933.3l.8-1.9M356.1 924.2l.8 1.3M358.5 913l.8 3.3 .8 1.6 .8-3.4 .8 6.3 .8 4.9M364.1 927.3l0 2.4M365.7 915.7l0 2.4M368.1 911.5l.8 8 .8-10.2 .8-1.1 .8 2.8M373.6 948.7l.8-2.2 .8 .8 .8 6.7 .8 .9M378.4 953.2l.8 2.8M382.4 962.2l0 2.4M384.5 919.8l0 2.4M390.1 893.6l.8-4.1 .8 5.3 .8 0 .8 .7 .8-.4 .8-1.2 .8 3.3 .8-.7 .8 .8 .8 1.6M401.6 928.8l.8-6.2M408 935.4l.8-2.6 .8-10 .8-10.5 .8 19.7 .8-12.1 .8 9.6 .8 .3 .8-.1M418.4 924.5l.8 3.5 .8-5.5 .8 .7 .8-7.4M424.8 920.7l.8-4.3 .8-5.1 .8 6.5 .8-.5 .8 6.1 .8-15.8M431.2 905.8l0 2.4M433.6 906.2l.8-1.7M437.9 900.5l.8 .9 .8 3.6 .8-3 .8-1.2 .8 2.3 .8-3.8 .8 2.8M445.1 901.9l0 2.4M447.5 906.3l.8-11 .8 4M450.7 898.6l.8 4.5 .8 .9 .8-3.6 .8-1.2 .8 4.6 .8-1.2M461.1 898.7l.8-4.3 .8 4.3 .8-4.3M465.1 905.9l.8-9.1 .8 2.1 .8 5.2 .8-5.7M469.9 900.8l0 2.4M471.5 907.2l.8-1.9 .8-1.3M474.7 902l0 2.4M482.7 903.7l.8-4.8 .8 2.9 .8-3.1 .8 4.5M487.5 898.5l0 2.4M489.1 902.8l.8-2.9M498.9 884.6l.8 1.6M501.3 883l.8 4.3 .8-.7 .8 .2 .8-3.6 .8-.1 .8 5.1 .8-4.7 .8-.4 .8 3.7 .8-1.9 .8 3.3M511.7 886.4l.8 .1M514.1 883.6l.8 .6 .8 1.7 .8-3.7 .8 8.8 .8-6 .8 4.5 .8-6.2 .8 2.3 .8 .6 .8 2.8 .8-1.8M530.2 882.8l.8 1.4 .8 1.4 .8-2.6 .8-1.1 .8 .5 .8 2.4 .8-3.7 .8 2.9 .8-2.4 .8 2.2 .8-4.2 .8 .1 .8 .1 .8 3.8 .8-.1 .8-3.2 .8 1.9 .8-5.5 .8 2.3 .8 7.7 .8 2.8 .8 6.1 .8-.8 .8 8.9 .8-6.1 .8 12.6 .8-6 .8 13.4 .8 7 .8-4.9 .8-1.1 .8 8.5 .8-3.2 .8 2.9 .8-3.6 .8-2.9 .8-.4 .8 7.4 .8 6 .8 2.3 .8-1.5 .8-3.9 .8 1.9 .8-6.9 .8 6.6 .8-8.8 .8 8.8 .8 3.7 .8 10.5 .8 6.4 .8-2.4 .8 2.6 .8 2.8 .8-2 .8 5.1 .8-1.6 .8-4.9 .8 7.1 .8 1.3 .8-3.5 .8-2.5 .8 8.7 .8 1 .8 1.9 .8 .4 .8-1.7 .8 2.7 .8 1.5 .8-.7 .8-5.6 .8-.5 .8-1 .8-6.9 .8 8.3 .8-6.4 .8 4.7 .8-10.8 .8 6.9 .8-12.9 .8 6.2 .8 6.4 .8-7 .8 5.6 .8-7.7 .8 3.3 .8 2.3 .8 2.7 .8 1 .8-5.3 .8-7.3 .8 2.5 .8-2.2 .8 6.8 .8 27.1 .8-31.6 .8 5.2 .8 .9 .8-3.4 .8-5.6 .8 2.7 .8 3.4 .8-.2 .8-1.9 .8-6.7 .8 1.1 .8-.1 .8-4.5 .8 7.8 .8-2.9 .8-3 .8-.6 .8 5.6 .8-.3 .8-3.7 .8 5 .8-9.7 .8-1.4 .8 7.1 .8-2.5 .8-1.1 .8 3.9 .8-4.3 .8-.8 .8 7.6 .8-2.5 .8 3.6 .8-.8 .8-5.1 .8 5.8 .8-8.8 .8 7.4 .8-.1 .8-2.7 .8 .3 .8 .1 .8-1.7 .8 .1 .8 1.3 .8-1.9 .8 2 .8 2.9 .8 2.5 .8-1.8 .8 .7 .8-2.3 .8-6.1 .8 3.5 .8-3.8 .8-1.3 .8 2.9 .8-3.6 .8 .7 .8 6.6 .8 1.2 .8-1.6 .8-3 .8-.3 .8 2.8 .8 1.3 .8-1.2 .8 .5 .8 2.1 .8-.1 .8-5 .8-2.6 .8 3.8 .8-3.1 .8 2.1 .8 1.9 .8-2.9 .8 9.1 .8 1.4 .8-9.9 .8-1 .8 .3 .8 7.6 .8 3.4 .8-.7 .8 1.4 .8-2.2 .8-2.5 .8 2 .8-5 .8 2.9 .8-3.8 .8 8.5 .8 .9 .8-7.9 .8 4.5 .8-3.3 .8 7.6 .8-2.7 .8-.3 .8-2.9 .8 5.6 .8 0 .8-2.5 .8 3.1 .8 2.8 .8-3.1 .8 4.2 .8-4.3 .8-2.9 .8 3.1 .8 2.7 .8-5.1 .8 1.2 .8-.1 .8 6.1 .8-1.9 .8 .5 .8 1.6 .8 1.3 .8-2.8 .8 3 .8-.1 .8-3.4 .8-.8 .8 1.7 .8-2.3 .8-1.7 .8 1.9 .8-.1 .8 .6 .8-.4 .8 6.3 .8-2.9 .8 .2 .8 .3 .8-5.2 .8 1.1 .8 4.7 .8 .3 .8-1.3 .8 1.9 .8-3.1 .8 1.6 .8 2.7 .8-.9 .8-2.2 .8-1.8 .8 1.9 .8 3.8 .8 0 .8-3.3 .8 1 .8 .7 .8 1.1 .8-1 .8-2.2 .8-.3 .8-1.2 .8-.9 .8 1.2 .8 5.1 .8-.9 .8-.6 .8-4 .8 8 .8-.3 .8-5.7 .8 1.4 .8-1.2 .8 5.4 .8 1.7 .8-1.8 .8-.9 .8-4.1 .8-.6 .8 7.1 .8-6.5 .8 1.8 .8 2.4 .8-4.3 .8 7 .8-2.5 .8-1.5 .8 1.1 .8-2.5 .8-1.8 .8 2.1 .8 1.7 .8 4.5 .8-6.2 .8 2.7 .8-2.4 .8 .7 .8 5.3 .8 0 .8-6.9 .8 2.6 .8 .3 .8 .1 .8-.2 .8 1.8 .8-3.2 .8-2.2 .8-3.3 .8-.6 .8 .9 .8 1.7 .8-2.9 .8-3.4 .8 5.7 .8-.1 .8-5.4 .8 3.7 .8-5.2 .8 3.9 .8-1.3 .8-6.8 .8 .5M780.8 944.1l.8 3.2 .8-1.3 .8-4.2 .8 5.7 .8-2.7 .8-.9 .8 4 .8-6.3 .8-.1 .8 7.6 .8-7.6 .8 6.2M792.3 997.7l.8-5.2 .8 5.1 .8-5.4 .8 2.2 .8 7.5 .8-3.8 .8-3.8 .8 7.7 .8-8.2 .8 10.8 .8-2.5 .8-8.2 .8 10.3 .8 3.1 .8 78.2 .8-118.7 .8 117 .8-115.8 .8 .5 .8 24.3 .8 6.7 .8 5.9 .8 .4 .8-2 .8 2.1 .8-1.9 .8-7.3 .8 3.4 .8 40.9 .8-6.6 .8-36 .8-3.5 .8 3.7 .8-2.8 .8-19.3 .8 66.4 .8-38.7 .8-1.5 .8 1.6 .8-4 .8-2.6 .8-.7 .8 11 .8-5.2 .8 4.9 .8-3.4 .8-6.4 .8-3 .8 8.5 .8-5.2 .8 27.7 .8-50.8 .8 49.4 .8-18.9 .8-30.8 .8 18 .8 .5 .8 6.5 .8 4.3 .8-7.6 .8 4.4 .8 4.4 .8-.9 .8-11.2 .8 1.7 .8 7.1 .8-3.2 .8-.7 .8-.7 .8 .1 .8-6.9 .8 12.7 .8-3.3 .8-3.7 .8 11.6 .8-2.5 .8-5.1 .8 6.8 .8-1.8 .8-.5 .8-3.8 .8 5 .8-.2 .8 67.8 .8-63.4 .8 2 .8 .1 .8-2 .8 37.7 .8-28.1 .8-1.3 .8 .8 .8 10.5 .8-9.7 .8 1.2 .8-2.3 .8-2.3 .8 7.7 .8-1.9 .8-1.4 .8-.2 .8-8.8 .8 3.2 .8 3.3 .8-7.5 .8-1.9 .8-.4 .8 3.3 .8-3.1 .8 4.7 .8 .6 .8-5.7 .8 1 .8 4.5 .8-2.8 .8-10.3 .8-1.2 .8 1.6 .8-2.2 .8 7.4 .8-1.5 .8-6.2 .8-1.5 .8 12.8 .8-9.2 .8 1.1 .8-4.2 .8 3.3 .8-15.3 .8 8.2 .8-7.5 .8-.6 .8-2.3 .8 3.4 .8 6.8 .8-7.4 .8 7.9 .8-1.6 .8 7 .8-14.3 .8 9 .8-7.1 .8 1.7 .8-4 .8 1.3 .8-1 .8 8.2 .8 .6 .8 2 .8-6.4 .8-1.4 .8 54.4 .8-56.5 .8 3.2 .8-.4 .8-3.1 .8 9.6 .8-4 .8 2.6 .8 36.7 .8-41.7 .8-2.1 .8 2.6 .8 .8 .8-8.5 .8 4 .8-3.6 .8 1.5 .8 6.2 .8-6.7 .8 5.6 .8 58.9 .8-64.5 .8 7.8 .8-5.6 .8-3.2 .8 5 .8-2.3 .8-1.8 .8-1.4 .8 8.3 .8 3 .8-4.6 .8-2.2 .8 8 .8-3.7 .8-5.5 .8 4.3 .8-5.4 .8 5.7 .8 1.5 .8-7.4 .8-6 .8-8.3 .8 17.5 .8-.1 .8 1.8 .8-6.1 .8-.2 .8-.3 .8 7.1 .8-10.8 .8 4.2 .8-14.8 .8 18.3 .8-6.2 .8 9.9 .8-3 .8 5.3 .8-13.2 .8 7.2 .8 1.1 .8-4.9 .8-2.2 .8-.9 .8-1.5 .8 9.3 .8-20.9 .8 15.2 .8 7.4 .8-3.9 .8-6.3 .8 8.7 .8-3.9 .8 6.7 .8 2.7 .8-9.8 .8 .3 .8 2.8 .8-14.8 .8 19.7 .8-3.5 .8 2.8 .8-.5 .8-4.9 .8 7.2 .8 4.1 .8 1.6 .8-.8 .8-3.4 .8 4.5 .8 2 .8-.4 .8 0 .8-4.4 .8-1.7 .8 1 .8-8.8 .8 8.8 .8-54 .8 83.5 .8-30.1 .8 2.1 .8-7.9 .8 63.1 .8-61 .8 1.1 .8-3 .8 2.3 .8 2.6 .8-1.6 .8-.6 .8 2.2 .8-3.2 .8 2.1 .8 .2 .8-4.1 .8 .6 .8 2.4 .8-8.2 .8-.8 .8 2 .8 4.4 .8-7.7 .8 7 .8-4.1 .8 4.8 .8-1.6 .8 .1 .8 2.2 .8-7.2 .8 6.5 .8-1.7 .8-6.4 .8 .6 .8 3.3 .8-2.1 .8-1.4 .8 3.6 .8-6 .8 9 .8 .3 .8-1.9 .8 1.2 .8 .5 .8-.3 .8-7.2 .8 0 .8-.2 .8 3.2 .8-4.5 .8-4.8 .8 7.8 .8-2.9 .8 4.6 .8-2.1 .8-3 .8 4 .8-8.3 .8 5.7 .8-2.8 .8-.4 .8-.1 .8-3.5 .8 5.9 .8-7.9 .8 5.2 .8-2 .8-1.3 .8-1.8 .8-1.1 .8 2.4 .8-4.3 .8 1.9 .8-3.2 .8 4.5 .8-3.9 .8 5.5 .8-3.4 .8 2.3 .8-7.8 .8 1.8 .8 4.7 .8-3 .8 1.9 .8 .8 .8-2.1 .8 0 .8 .8 .8-5 .8-.9 .8 1 .8 6.8 .8-7.5 .8-.2 .8 3 .8-2.1 .8-1.6 .8-2.5 .8 2.9 .8-5.2 .8 2.6 .8-9.8 .8-1.5 .8-4.3 .8 1.6 .8-9.3 .8-5.1 .8 2 .8 1.6 .8 9.3 .8 6.4 .8 19.3 .8 24 .8 23.8 .8 15.3 .8-1.1 .8 6.5 .8-7.1 .8 .4 .8 15.8 .8 7.3 .8 10.7 .8 3 .8 4.1 .8-2.5 .8 1.7 .8-6.6 .8-1.9 .8 8.6 .8-5.4 .8-1.6 .8-.9 .8 3.2 .8-3.6 .8 5.1 .8-7.5 .8 0 .8 4.5 .8 3.2 .8-.2 .8 1.1 .8-11.1 .8 8.5 .8-8.7 .8 9.8 .8-.4 .8 .4 .8-4 .8 4.8 .8-4.9 .8-.3 .8-.1 .8-8.4 .8 6.1 .8 4 .8-12 .8 3.8 .8-10.1 .8 10.7 .8-9.6 .8-1.7 .8-8.5 .8-2.6 .8 2 .8-21.8 .8 7.7 .8-8.4 .8-13.2 .8 11.9 .8 .6 .8 70.7 .8-67.4 .8 15.1 .8 10 .8 1.5 .8-.4 .8 8.6 .8-3.6 .8 5.7 .8-7.2 .8 5.3 .8-5.5 .8-1.1 .8 3.4 .8-2.3 .8-2.1 .8 1.3 .8 2.8 .8 2.7 .8-3.4 .8-.1 .8 1.2 .8-3.6 .8 6.5 .8-.5 .8-2.6 .8-4.6 .8 6.7 .8-6.5 .8-1.4 .8 3.4 .8-1.8 .8 1.8 .8-5.9 .8-.7 .8-8.9 .8 1.9 .8-1.9 .8 4.8 .8-9 .8 6.5 .8-5 .8-2.5 .8 7.8 .8 4.1 .8 8.1 .8 13.1 .8 .7 .8-4.2 .8 3.5 .8-.6 .8-4.3 .8 1.5 .8-1.7 .8 .6 .8 5.9 .8-1.3 .8 .2 .8-2.5 .8-.3 .8-4.9 .8 7.2 .8 1 .8-4.5 .8-1.3 .8 8.1 .8-6.5 .8 3.7 .8 0 .8-6.5 .8 5.1 .8-3.7 .8 1.7 .8 6.3 .8-5.9 .8 1.2 .8 .1 .8-2.5 .8-.3 .8 2.3 .8-15 .8 29 .8-12.7 .8-1.1 .8 1.4 .8 2.5 .8-6.8 .8 4.6 .8-4.3 .8 .8 .8 5.4 .8-2.2 .8-3.7 .8 6.4 .8-.2 .8-14 .8 5.8 .8 2.3 .8 5.3 .8-7.3 .8 2.2 .8 5 .8 1.3 .8-3.3 .8 2.3 .8-6.5 .8 .1 .8-1.1 .8 1.4 .8 3.4 .8-3.3 .8-1.7 .8 5.3 .8-5.2 .8-.2 .8 2.9 .8-4 .8 6.7 .8-6.4 .8 7.4 .8 .6 .8-6 .8-.5 .8 1.6 .8 2.8 .8 6.1 .8-.5 .8-7.4 .8 1.6 .8 2.6 .8-5.2 .8 .5 .8 7.9 .8-5.5 .8-4.1 .8 3 .8 3.1 .8-5.8 .8 1.2 .8-1.6 .8 6 .8-28.1 .8 25.5 .8-1.9 .8 3 .8-4 .8 5.3 .8 .6 .8-6.7 .8 4.8 .8-2.7 .8 3.8 .8 .6 .8-6.2 .8 2.5 .8 1 .8 .1 .8-2.1 .8 .8 .8 4.1 .8-3.7 .8 2.4 .8 6.6 .8-10.1 .8 6 .8-9.9 .8 .8 .8-2 .8-13.5 .8 23.4 .8-6.7 .8 5.9 .8 0 .8-.5 .8-2 .8-2 .8-3.7 .8 4.8 .8-.4 .8-1.1 .8-4 .8 7.3 .8-3.8 .8-.4 .8 3 .8-9.6 .8 5.1 .8 1.1 .8-2.8 .8 3.4 .8-.6 .8-7.6 .8 .4 .8-21.1 .8 29.1 .8-3.9 .8-.7 .8-5.2 .8 7 .8 1 .8-3.6 .8-1.3 .8 4.2 .8 1.1 .8-12.5 .8-2.9 .8 5.3 .8-10.3 .8 3.5 .8-4.7 .8-1.9 .8-3.9 .8-1.7 .8-2.6 .8-4.3 .8 1.7 .8 0 .8-4.7 .8-.2 .8-1.5 .8-7.2 .8 9.1 .8-.1 .8 8.8 .8 7.6 .8 3.4 .8 10 .8 5.6 .8 4.5 .8 5 .8 4.8 .8 4.3 .5-12.3 .5 1.5 .5 30.4 .5 .4 .5-19.5 .5 14 .5 1.2 .5-37.8 .5-1.1 .5-4.4 .5 5 .5 13.8 .5 11 .5-31.3 .5 21.9 .5-35.1 .5 10.2 .5 9.2 .5-8.8 .5 11.9 .5-19.9 .5 37.7 .5-10.7 .5-5.3 .5 12.7 .5 24 .5-5.1 .5-48.2 .5 34.6 .5-13.7 .5 25.1 .5 .7 .5-12.9 .5-14.7 .5 7.6 .5 4.1 .5-.2 .5 9.1 .5-22.8 .5 33.8 .5-29.5 .5-19.9 .5 7.7 .5 4.3 .5-14.3 .5 8.5 .5 10 .5-8.4 .5-4.3 .5 17.4 .5-19.9 .5 22 .5 2.2 .5-7.7 .5-5.6 .5 21.9 .5-9.4 .5-4.4 .5 21.4 .5-19.5 .5 8.7 .5-2.8 .5-.4 .5-2 .5-9.2 .5-4.7 .5 24.4 .5-28.4 .5 2.7 .5 16.5 .5-8.2 .5-4.8 .5 16.2 .5 15 .5-1.5 .5-29.5 .5 32.3 .5-7.8 .5-21.1 .5-11 .5 28.9 .5-19.9 .5 35.1 .5-16.8 .5-34.2 .5 46.8 .5-38.8 .5 .5 .5 37.7 .5-52.6 .5 50.7 .5-30 .5 8.9 .5 10.7 .5 6.3 .5 .1 .5-54 .5 29.7 .5-33.5 .5 20.4 .5-16.2 .5-13.9 .5 51.1 .5-22.7 .5-23.4 .5 31.5 .5-15.4 .5 5.9 .5 6.6 .5 22.2 .5-16 .5-1.7 .5-2 .5 .9 .5 15.9 .5 6.4 .5 1.1 .5-1.3 .5-15.9 .5-4.8 .5 18.7 .5-12.5 .5 7.3 .5-11.9 .5 21.8 .5-20.1 .5-3.7 .5 17.3 .5 2.3 .5-1.3 .5 8.7 .5-11.5 .5 4.3 .5 .7 .5 2.3 .5-20.8 .5 .9 .5 17.7 .5 2.3 .5-12.7 .5-7.3 .5 7.7 .5 3.8 .5-16.4 .5 2.9 .5 11.4 .5-1 .5 2.7 .5-6 .5 1.4 .5 16.1 .5-4.2 .5-1.9 .5-17.1 .5 17.4 .5-2.1 .5 4.5 .5-17.3 .5 16.9 .5-9.3 .5 12.7 .5-19.8 .5-2.6 .5 5.2 .5 .7 .5 5.6 .5-2.9 .5-6.5 .5 1.1 .5-6.7 .5 9.1 .5-4.8 .8-.5 .8 1 .8-1 .8-3.9 .8 .1 .8 .1 .8 .9 .8 2.5 .8-2.3 .8 0 .8-1.6 .8 3.4 .8-1.9 .8 2.8 .8 .2 .8-4.8 .8 1.9 .8 2.9 .8-1.3 .8-.2 .8 .4 .8 .9 .8-.6 .8-5.1 .8-12.4 .8 .4 .8-2.5 .8 .9 .8 2 .8-2.6 .8 2.8 .8-6.8 .8 .9 .8 2 .8-.1 .8-2.4 .8-1.6 .8 3.1 .8-2.7 .8 .9 .8 2.2 .8-.7 .8 3.4 .8 .7 .8 0 .8-2.7 .8 1.3 .8 .4 .8-1.6 .8-1.4 .8 1.8 .8 .1 .8-.2 .8 4.1 .8-3.4 .8 3.2 .8 1.6 .8-.1 .8-4.8 .8 6.6 .8-1 .8-2.7 .8 .5 .8-1.7 .8 1.9 .8 .5 .8 2.4 .8-4.2 .8 1.5 .8 .6 .8-1.1 .8-.7 .8 6.6 .8-3.9 .8 .3 .8 2.4 .8-2.7 .8-1.4 .8 4.4 .8 .6 .8 .3 .8 .7 .8-2.8 .8 .2 .8 .9 .8-2.4 .8 5.6 .8-1.8 .8 1.2 .8-1.2 .8-4 .8 1.2 .8 2.2 .8 2.4 .8-2.5 .8 2 .8 2.3 .8-6.1 .8 .1 .8 1.8 .8 .6 .8 1.8 .8-1.6 .8 2.1 .8-3.5 .8 6.4 .8-3.2 .8 6.2 .8-3.3 .8-2.2 .8-.1 .8-2.2 .8-1.3 .8 17.3 .8-13.9 .8-13.6 .8-8.8 .8-7.6 .8-6.5 .8-9.2 .8-4.6 .8-1.1 .8-.7 .8-1.2 .8 2.4 .8-.1 .8 .7 .8 3.5 .8 .4 .8-3.1 .8 5.1 .8-4.5 .8 4.1 .8-8.7 .8 3.7 .8 3.1 .8 1.8 .8-7.3 .8 6.4 .8-1.5 .8-2.1 .8 2.3 .8-1 .8 .5 .8 2 .8-7.1 .8 7.9 .8-2.9 .8 1.8 .8-3.1 .8 .2 .8 .9 .8-2.1 .8 1.8 .8 1 .8 .7 .8-3.8 .8 1.4 .8 5.2 .8-1.2 .8-.5 .8 3.3 .8-1.4 .8 .6 .8 5.1 .8-5.4 .8 1.1 .8 4.4 .8-2.8 .8 4.6 .8-7 .8 5.5 .8-4.3 .8 3.2 .8-.1 .8-.7 .8-2.2 .8 .2 .8-2.2 .8 1.1 .8 1.4 .8-3.2 .8 1 .8 1.8 .8-1.9 .8 6.7 .8-5.7 .8 4.3 .8-4.3 .8 2.5 .8 .1 .8-3.9 .8-.9 .8-2.7 .8 2.1 .8-6.1 .8 5.2 .8-6 .8-3.5 .8 1.6 .8-2.1 .8-.5 .8-2.1 .8 1.3 .8-2.9 .8-6 .8 2.8 .8 3.6 .8 .1 .8-3 .8 1.6 .8-4.2 .8 2.8 .8 1.6 .8 .3 .8-4.9 .8 5.8 .8-5.4 .8 2.7 .8 3 .8 .2 .8-2.6 .8-2.3 .8 4.7 .8-.5 .8-4.2 .8 8.1 .8-7.7 .8-.8 .8 7.3 .8-.1 .8 1 .8-3.4 .8-5.2 .8 6.8 .8-5.4 .8 7.9 .8-.4 .8-7.5 .8 3.8 .8 1.4 .8 2 .8-7 .8 2.9 .8 3.9 .8-5.1 .8-1.4 .8 3.9 .8-4 .8-.4 .8 .9 .8 4.6 .8-6.5 .8-.2 .8 3.8 .8 1.7 .8-1.2 .8 1.4 .8-4 .8 4.9 .8-2.1 .8-2.8 .8 1.4 .8-5.6 .8-2.3 .8 3.4 .8 2.9 .8-1.2 .8 .7 .8 2.5 .8-1.2 .8-2.9 .8 3.3 .8 3 .8 7.7 .8 .4 .8 7.3 .8 3.5 .8-.5 .8 .5 .8 2.3 .8 1.6 .8-2.4 .8-1.9 .8-.8 .8 .6 .8 .9 .8 6 .8-3 .8 5 .8-.6 .8-.1 .8-6.9 .8 3.2 .8 .8 .8-2.8 .8-5.6 .8 .7 .8-2.1 .8-1.2 .8-.4 .8 6.9 .8-1.9 .8 1 .8-6 .8 4.7 .8-.3 .8-.1 .8-4.2 .8 2.7 .8 2.7 .8-.3 .8-3 .8-2.7 .8 .5 .8 1.7 .8-2.8 .8-7.9 .8-8.5 .8-4.5 .8 4.1 .8 8.2 .8-3.1 .8 1.5 .8-7.4 .8 4.6 .8-.2 .8-.8 .8-.2 .8-2 .8-.2 .8 .1 .8-6.5 .8-4.2 .8-7.7 .8-5.4 .8-2.3 .8 2.3 .8-2.8 .8 2.1 .8-4.8 .8 1.7 .8 .6 .8 .4 .8-.8 .8 2.1 .8 1.9 .8-5.4 .8 5.1 .8 4.5 .8 5.8 .8 4.2 .8 1.7 .8-3.4 .8 1.5 .8-1.4 .8 2.1 .8-4.4 .8 2.4 .8-3.7 .8 4.2 .8-2.9 .8 4.3 .8-1.6 .8-2.4 .8-1.9 .8 .8 .8 4.6 .8-4.3 .8 .1 .8-3.6 .8 2 .8-2.8 .8-.5 .8-.7 .8 3.6 .8-15.4 .8 11.4 .8 2.8 .8 1.5 .8 2 .8-3.2 .8-1 .8 .1 .8 2.8 .8-4 .8-2.5 .8 5.7 .8-3.5 .8 .2 .8 2.9 .8 0 .8-7.9 .8 7.6 .8-2.9 .8 1.6 .8 .9 .8-4.4 .8-2.7 .8 2.1 .8-9.1 .8-1.6 .8-9.8 .8-4.6 .8 10.8 .8-2 .8 1.5 .8 3 .8 4.9 .8-10.3 .8 .7 .8 8.7 .8-2.6 .8 .4 .8-5.3 .8 3.7 .8-7.7 .8 4.6 .8-3 .8 8.6 .8 43.9 .8-49.3 .8-7.8 .8 7.1 .8 2 .8-10.3 .8 7.2 .8-6.1 .8 6.9 .8-5.6 .8 4.9 .8-11 .8 9.5 .8-4.5 .8 5.4 .8-1.1 .8-11 .8 5.2 .8-5.1 .8 5.8 .8-2.9 .8-15.9 .8 11.6 .8 1.8 .8 3.3 .8-2.9 .8 4.9 .8-.6 .8 8.8 .8-4.6 .8 .8 .8 1.7 .8-17.2 .8 14.4 .8 12.3 .8-16.8 .8 4.8 .8 3.9 .8-22.4 .8 14.9 .8-11.7 .8 12.5 .8 8 .8-7.8 .8-3.8 .8 .5 .8 .2 .8 6.2 .8 1.6 .8 .5 .8-5.3 .8-4.7 .8 7.6 .8-1.2 .8-2.7 .8 13.7 .8-13.9 .8 2.2 .8-1 .8-11.7 .8 26.7 .8-17.6 .8 5.4 .8 3.8 .8-7.8 .8-1.2 .8 15.1 .8-18.6 .8-11 .8 17.8 .8-8.9 .8 61.6 .8-65.3 .8 10.4 .8 5.8 .8-9.7 .8-6.7 .8 6.2 .8 4.6 .8 .6 .8 1.2 .8-4.5 .8 9.9 .8-9 .8-4.2 .8 8.4 .8-4.3 .8 5.8 .8 .9 .8-2.2 .8 1.6 .8-.9 .8 51.4 .8-55.1 .8-7.8 .8 7.1 .8 2.6 .8 .4 .8-8.6 .8 10.6 .8-12.2 .8 2 .8 6.1 .8-3.1 .8-2.4 .8 4.9 .8-1.8 .8 2.1 .8-1.2 .8 6.3 .8 .6 .8-11.8 .8 10.8 .8 1.6 .8 26.8 .8-29.2 .8-6.4 .8 6.5 .8-9.5 .8 5.6 .8 6.6 .8-7.4 .8-3.4 .8 3.5 .8 .4 .8-2.5 .8 3.6 .8 2.5 .8-1.6 .8-2.8 .8-1.3 .8 5.5 .8-8.4 .8 4.7 .8 1.6 .8-6.6 .8-9.3 .8 10.9 .8-3.3 .8 6.3 .8 2.7 .8-.2 .8-6.8 .8 19.5 .8-22.3 .8 12.7 .8-6.2 .8 7 .8-5.8 .8 15.4 .8-13.7 .8 2.6 .8 17.1 .8-27.9 .8 2.9 .8 4.1 .8-.1 .8 .6 .8 20.4 .8-6.1 .8-16.9 .8-.2 .8-1.1 .8 5.1 .8-.4 .8 1.5 .8-9.2 .8-2.2 .8 11.7 .8 8.2 .8-15.6 .8 4.9 .8-3.6 .8 6.3 .8-4.7 .8-1 .8 7.2 .8 2.4 .8-8.2 .8 4.1 .8-7 .8 2.4 .8 8.1 .8 9.7 .8-18.5 .8 .5 .8-2.8 .8-9.4 .8 11.2 .8 3 .8 4.4 .8-10.1 .8-3.8 .8 4.3 .8-6.9 .8 4.2 .8 6.4 .8 2.7 .8-5.7 .8 .7 .8 7.2 .8-7.1 .8 6.1 .8-2.4 .8 11.3 .8-13.8 .8 10 .8-20.2 .8 15.7 .8 15.9 .8-15.5 .8-4 .8 2.7 .8-15.7 .8 11.5 .8-2.6 .8 3.5 .8 15.9 .8-22.5 .8-.8 .8 10.1 .8-.2 .8-12.2 .8 .8 .8 5.1 .8 6.6 .8-.3 .8-11.5 .8-.1 .8 2.2 .8 7.6 .8 19.4 .8-20.1 .8-.5 .8-8.2 .8 8.6 .8-2.8 .8-8.5 .8 .8 .8 12.7 .8-13.8 .8 12 .8-2 .8 7.8 .8-7.9 .8-.6 .8-.2 .8-8 .8 1.8 .8 10.3 .8-1 .8 .9 .8-6.6 .8-5.1 .8 71.3 .8-72.1 .8 5.3 .8 8.6 .8-8.7 .8 3.2 .8 1.4 .8-5.3 .8 3.7 .8 4.2 .8-11.2 .8 11.6 .8-9.4 .8 9.7 .8-9.4 .8 1.7 .8 2.4 .8-2.5 .8-6.8 .8-1.6 .8 25.5 .8-4.4 .8 23.5 .8-27.1 .8 1.2 .8-2.7 .8-5.1 .8 5 .8-2 .8 16.2 .8-23.7 .8 7.3 .8-7.3 .8 6.1 .8-4.6 .8 5.9 .8 3.8 .8-.5 .8-11.2 .8 6.5 .8-1.3 .8-2.3 .8-7.6 .8 13.4 .8-1.3 .8-6.7 .8 14 .8-4.6 .8 6.5 .8-11.3 .8-1.6 .8 4.7 .8-.4 .8-2.2 .8 5.7 .8-9.2 .8-.6 .8 13.4 .8 0 .8-.9 .8-7.9 .8 5.1 .8 3 .8-9.6 .8 3.8 .8 3.4M970.8 949.2l0 106.7 27.2 0" stroke="#000" stroke-width="2.9" fill="none" stroke-linejoin="round"/>
<path clip-path="url(#c3)" d="M263.2 903.4l1-2.5 1 9.1 1-3.4 1 3.6 1-4.1 1 12 1-5.9 1-6.3 1 .7 1 8.6 1-.7 1-5.3 1 2.7 1-5.2 1 7.4 1-12.3 1 10.3 1 4.2 1-.1 1-2.4 1-6.5 1 3.3 1 6.5 1-.9 1-9.3 1 6.8 1 2.8 1-4.4 1 11.9 1 3 1-1.6 1 9.6 1 2.4 1 3.1 1-5.5 1-4.1 1-10.5 1-7.2 1-1.3 1 .1 1 4.2 1-5.4 1 5.2 1-2.8 1-5 1 3 1 1.4 1-2.1 1-6.8 1-3.1 1-1.5 1 1.1 1-2.4 1-3.7 1-1.1 1-2.5 1 3.1 1 2.9 1-4.3 1 3.7 1-4.5 1-.9 1-.6 1 .3 1 4.8 1-4.3 1 .6 1-1.6 1 4.7 1-5.4 1 8.5 1-5.6 1 4.8 1-.9 1 3.1 1 7.2 1 7 1 6.7 1 12.5 1 9.8 1-8.7 1-7.4 1-12.1 1 1.2 1-6.6 1 7.2 1-1.5 1-7.9 1 4.7 1-8 1 4.4 1-10.6 1 9 1-10.1 1 1.2 1 6.5 1-2.6 1-5.5 1 1.2 1-5.2 1 2.9 1 4.7 1 3.8 1 .1 1-.6 1-2.4 1-1.3 1-5.9 1-2.6 1 7 1-5.2 1-1.2 1 4.1 1-4.3 1-2.3 1 10.8 1-8.6 1 2.1 1 3.3 1-.5 1 7.5 1 1.6 1 3.2 1-12 1 1.8 1 2.7 1-3.6 1 6.9 1 .5 1-7.2 1 5.7 1-1.1 1 5.3 1 .1 1-4.2 1 3.7 1-7.4 1 4.6 1 0 1-4.4 1 4.1 1 2.4 1-2.8 1-1.2 1 2.5 1-2.9 1-1.7 1 2.7 1-1 1-1.8 1-.1 1 1.2 1 3.6 1-10.9 1 2.8 1 2.2 1 6.3 1-12.2 1-10.5 1 6.6 1-.1 1-8.6 1 1 1 7.3 1-8.2 1 9.5 1-13.9 1 14.6 1-1.7 1-8.7 1 14.4 1 6.9 1 2.1 1 4.6 1-11.3 1 6.8 1-1.3 1-2.9 1 1 1 5.3 1 2.9 1-10.5 1 8 1-7.2 1 7 1-7.3 1 5.5 1-1.7 1-8.2 1 6.5 1-1.9 1 2.5 1-7.7 1 4.6 1-4.4 1 9.5 1-9.6 1-3.4 1 8.4 1 3.8 1 1.8 1-5.1 1-5.8 1 10.4 1-11.9 1 7.5 1 6.1 1-3.2 1-5.9 1 4.5 1-4.1 1-6 1 3.7 1-8.7 1 9.6 1 2 1 1.9 1 0 1-4.8 1 4.9 1-10.6 1 3.1 1 5.3 1-.1 1-5.9 1 1.3 1 12.1 1 2.7 1-10.2 1 10.5 1-3.6 1-3.1 1 4.9 1-5.2 1 9.1 1-6.9 1 2 1 3.9 1-4.4 1 7.6 1-3.8 1-6.2 1 7.7 1 .7 1 6.4 1-3 1-1.6 1 2.7 1-3.6 1 4.5 1-8.9 1 .2 1-1.6 1-1.1 1-.8 1-1.3 1-3.6 1 7.1 1-.2 1-.1 1 3.2 1-3.3 1 3.8 1-3.2 1-.9 1-6.6 1 4.9 1-1.8 1 2.4 1-7.6 1 10.4 1-10.1 1 8.5 1-10.9 1 1.2 1 4.7 1-3.6 1 1.4 1-2.9 1-2 1 10.1 1-6.3 1 3 1-4.7 1 5.5 1 5.2 1 .3 1-2.6 1-6 1 .6 1 4.5 1 .3 1-.7 1-1.1 1-2.9 1-1.1 1-.9 1 3.8 1 4 1 .5 1-5.9 1 9.3 1-2.4 1-1.9 1-4.6 1 7 1 2.8 1-8.8 1 7.4 1 3.4 1-5.9 1 1.7 1-.8 1 7.5 1 3.9 1-7.2 1 0 1-1.3 1 7.3 1-3.8 1-1.6 1 6.3 1-2.1 1 1.2 1-8.8 1 2.8 1 9.3 1-10.4 1 2.7 1 8 1-9.6 1 1.7 1 8.4 1 0 1-10.7 1 9.7 1-3.7 1 0 1 2.9 1-8 1-.3 1 2.8 1 2.2 1 2.6 1-.4 1-2.4 1-1.9 1 1.5 1 .3 1 7.4 1-11 1 7.7 1-5.3 1 5.1 1 1.3 1-3 1 .5 1-2.1 1 4.1 1 4.7 1-5 1-4.4 1 4.6 1 1.9 1-6.7 1 4.4 1-5 1 3.5 1-8 1 8.7 1 .8 1-.2 1-4.5 1 2.3 1-5.1 1-1.4 1 .4 1 .6 1 6.5 1-7.8 1-5.8 1 11.8 1 .1 1-5.1 1 3.6 1 3.1 1-3.9 1-4.3 1-1.7 1 10.2 1-1.8 1-7.7 1 4.6 1 1.4 1-.9 1-4.8 1 1.9 1-7.3 1 2.7 1 1.6 1-2.7 1 11.7 1-3.7 1 2.5 1-1.7 1-8.6 1 .7 1 4 1-1.7 1-2.4 1 2.1 1 5.5 1-7.5 1 7.5 1 1.5 1-9.9 1 11.5 1-1.4 1-5.8 1 6.1 1-3.3 1-4.4 1-2.7 1 2 1-2 1 10.7 1-8.7 1 3.8 1 4.7 1-4.6 1 2.2 1 .1 1-2.1 1 4.1 1 .2 1-7.3 1 7.5 1-8.1 1 7.1 1 1.5 1 0 1-3.8 1-3.2 1-2.3 1 2.2 1 7.9 1-3.2 1 2.6 1-7.7 1-1.1 1 8.8 1-8.9 1 1 1 .4 1 6.6 1-6.4 1 2.3 1 2.7 1 4.6 1-1.2 1-7.2 1-4.8 1 6 1 .4 1-5.8 1-1.8 1 3.4 1-4.6 1 4.6 1-4.4 1 6.4 1 2.6 1-4.2 1-1.6 1 8.4 1 2.1 1-5.9 1 1.2 1-1.1 1-6.4 1 2.9 1-.3 1 7.3 1 2.4 1-10.1 1 5.9 1-4.5 1-.8 1 3.2 1 2.4 1-3.7 1-.4 1-1.7 1 2 1-2.1 1-.7 1 2.9 1 5.9 1-9.6 1 3.9 1 1.8 1 5.6 1-2.6 1-6.5 1-.6 1 4.8 1-3.7 1 6.4 1 3.1 1-3.1 1-1.9 1-1.8 1 1.1 1-2.6 1 2 1 5 1-5.1 1-.1 1 2 1 2.2 1-.8 1-8 1 6.3 1-3 1 .1 1-.1 1 5.1 1 .9 1 3.7 1 5.6 1 3.9 1-7.6 1 .4 1 1.7 1-1.1 1 3.5 1 2.4 1-6.9 1 7.3 1-5.4 1 1.2 1-.1 1-1.8 1-22.1 1 22.4 1-.4 1-1.9 1 7.3 1-1.8 1-4.3 1 2.6 1 .4 1 2 1-5.1 1 7.1 1-3.1 1-19.2 1-.9 1 24.2 1-3.5 1 2.9 1-3.3 1 .1 1 2.1 1 1.6 1-7.1 1 2.9 1 4.9 1-7.2 1 3.4 1-2.3 1 5.6 1-.6 1-4.6 1-.6 1-.2 1 1.9 1 1 1 3.2 1 4.3 1-7.3 1 1.2 1-.6 1 .4 1-.9 1-.4 1-3.4 1 8.7 1-4 1 2 1-5.4 1 7.2 1-2 1 3.3 1-2.2 1-1.9 1 4.2 1-7.8 1 .2 1 4.1 1 7.1 1-9.5 1 3.5 1 3.9 1 .8 1 1.5 1-9.9 1 2.5 1-.4 1 .3 1-5.5 1 1.4 1 3 1 .4 1 5.5 1-8.5 1 6.3 1-3.6 1 3.1 1 2.5 1-2.8 1-3.2 1 4.9 1 .3 1-3 1 6.8 1-3.4 1 3.2 1-4.8 1-4.6 1-1.7 1 11.3 1-8.3 1 2.3 1 .8 1-5.1 1 1.4 1-5.5 1 3.1 1-5.2 1 7 1-6.2 1 .2 1 5.8 1-.8 1-8.4 1 7.4 1-.8 1-2 1 1.3 1 4.4 1-6.1 1-3 1-.9 1 9.1 1-5.1 1 3.8 1-5.4 1-1.4 1-2.5 1 5.8 1-4.5 1-3.6 1 6.1 1-1.6 1-1.6 1-3.1 1 3 1-2.6 1 8.9 1 .3 1-8.6 1 4.6 1-3.4 1 2 1 1.1 1 5 1-9 1 .3 1-2.7 1 1.5 1 1.6 1 1.4 1-7.7 1-.8 1 2.1 1-6.9 1 10.6 1-4.1 1-3.4 1 5.7 1 .7 1-5.7 1 4.4 1-2.4 1 8.7 1-9.5 1 8.4 1-2.9 1 5.3 1-2.2 1 0 1-4.9 1-1.4 1 3.2 1-4.5 1-.6 1 6.4 1-5 1 1 1 2.6 1 3.2 1-6.5 1 3.9 1 1.6 1 5.7 1 4.3 1-8.4 1 6.7 1-6.9 1 1.9 1 2.7 1-6.3 1 .4 1 4.9 1-7.7 1 3.4 1-.9 1 4.6 1 19.8 1-20.4 1-2.1 1 8.2 1-4.8 1-.5 1 1.7 1-2.7 1 4.2 1-3.1 1 4.6 1-2.9 1 5.6 1-6.9 1 5.5 1-4.9 1-1.4 1 4.9 1-1.1 1 1.3 1 .8 1-3.9 1 1.4 1 .5 1 .7 1 .9 1-.9 1-2.2 1-.7 1-2.1 1 4.3 1 2.3 1-.8 1-6.6 1 3.9 1-.8 1 .9 1-4.5 1-.3 1 1.6 1 2.6 1 .1 1 3 1 1 1 1.1 1-6.7 1-.9 1-.5 1 3.8 1 .3 1 1.5 1-5.5 1 2.7 1-.5 1 1.9 1 .2 1 2.6 1-4.5 1-.8 1 .9 1-.9 1 .6 1 6.2 1-4.6 1-3.2 1 .7 1 4.7 1-.2 1-5.5 1 6.4 1-4.4 1 5.5 1-5 1 5.4 1-.6 1 2 1-4.6 1 .2 1 4.7 1-6.3 1 3.3 1-4.1 1-.4 1 2.3 1-.2 1 5.3 1 .7 1-2.5 1-4.7 1-5.8 1 3.6 1 6.1 1 14 1 6 1 10.6 1-12.8 1 6 1-3.1 1 .6 1-1.9 1 3.9 1-1.4 1 7.4 1-9.9 1 12.9 1-4.1 1 3.5 1-5 1-10.1 1 5.1 1 8.9 1-3.6 1-8.4 1 16.4 1-15.1 1 12.1 1-12.9 1 14.7 1-3.8 1 1.3 1-10.9 1 8 1 2.2 1-7.2 1-2.8 1 3.7 1-2.9 1-4.9 1-3.3 1-13.4 1-1.1 1 2.5 1 3.8 1-5.9 1-6 1-1 1-11.2 1 5.8 1 .5 1 .5 1 6.1 1 2.9 1 6.7 1 3.3 1 4.3 1-6.4 1 4.5 1 5.8 1-6.3 1 2.6 1-4 1 1.2 1 5.9 1-8 1 3.8 1 .4 1-4.7 1 7.1 1 1 1-4.2 1 5.1 1 1.8 1-4 1 4 1 12 1 5.1 1-2.8 1 5.4 1-6.1 1 2.5 1 2.2 1-.8 1-1.5 1-3.6 1 6.7 1-12.1 1-2.1 1-.7 1-3 1 10 1 .6 1-12 1 6.3 1 4.7 1-1.9 1 .2 1-6.7 1 5.1 1-1.7 1 7.7 1-11.1 1 7.5 1 1.4 1-9.7 1 6.3 1 7.8 1-7.1 1-2.7 1 4.4 1-8.4 1 5.1 1-3.4 1 7.9 1-9.3 1-.7 1 .5 1-1.2 1 .7 1 11 1-4.6 1-1.2 1-2.2 1 3.3 1 4.8 1-4.5 1 .9 1-5.1 1 .1 1 8.6 1-3.1 1-.9 1 1.5 1-3.8 1 6.6 1-6.9 1 5 1-1.3 1-2 1 4.4 1-4.7 1-1 1-2.5 1 7.3 1 1.2 1 1.5 1-1.3 1 1.2 1-9.9 1 9 1 .1 1-2.2 1 1.7 1-5.6 1-2.8 1 4 1 7.3 1-4.7 1-5.7 1-2.5 1 .3 1-18 1 22 1-2.7 1-3 1 8.9 1-8.5 1 6.4 1-1.4 1-3 1 7.7 1-2.6 1 2.1 1-6.7 1 4.3 1-9.4 1 .4 1 .4 1-2 1-2.5 1 2.9 1-4.7 1 .8 1 3.9 1 3.3 1-2.7 1 2.5 1-2.2 1-1.2 1 2.6 1 6.9 1-4 1-4 1-2.7 1 6.2 1-3.1 1-1.7 1 5.2 1-2.5 1-6.2 1 3.9 1 3.9 1-26 1 20.8 1 4.3 1-8.8 1 1.3 1 1.6 1-8.8 1-.5 1 7.5 1-1.6 1-11.4 1 14.1 1 8.7 1-17.4 1 7.2 1 6.7 1-4.1 1-16.5 1 16 1 .3 1-18.7 1 15.4 1-17.9 1 7.5 1 12.3 1-9.3 1-8.9 1 3.6 1 11.7 1 5.9 1-7.9 1 16.3 1-6.5 1-16.7 1 22.2 1-28.4 1 10.8 1 6.7 1-1.8 1 6.1 1-5.6 1 6.6 1-5.5 1-15.2 1 15.2 1 5.8 1-15.7 1-7.4 1 19.1 1 7.5 1-18.4 1 7.6 1 4.4 1 .5 1-11 1-3.3 1 .6 1 7.6 1 4.9 1-1 1 2.3 1 1.3 1 3.8 1 .8 1-1.1 1-2.2 1 3.5 1-1.2 1 4.6 1-2 1-6.4 1 3.5 1-3.9 1 9.9 1-13 1 3.1 1-6 1 .8 1-11.4 1 2.7 1-8.6 1 2.1 1-5.8 1 10.9 1 1.4 1 8.9 1-.3 1 12.2 1-3.8 1 3.4 1-.7 1-3.4 1 3.1 1-1.1 1 .5 1 1 1-7.1 1 1.4 1-.4 1 2.7 1 4.5 1 .7 1-3.1 1 1 1-5 1 2.3 1-5.6 1 2.2 1-1.2 1 6.8 1-3.5 1-4.9 1-.8 1 2.6 1 3.9 1 .2 1 3 1-2 1-4.9 1 3.7 1 2.2 1-4.8 1-1.8 1 3.4 1-3 1-.8 1-4.3 1 4.7 1 1.9 1-1.8 1 1.3 1-3.2 1 3.4 1-5 1 1.1 1-2.1 1 .6 1 .3 1-5.8 1 .9 1-1.1 1-5.9 1 1.6 1 1.3 1-8 1 11.9 1-1.3 1-1.9 1 5 1 1.3 1-4.1 1-.3 1 3.4 1-1.2 1-4.9 1 6.7 1-3.5 1 1.4 1-3.7 1 2.1 1 3.5 1 .4 1-4.3 1 1.9 1 .8 1-.6 1-1.1 1 3 1 1.3 1-6.8 1 2.9 1 2.3 1-4 1-1.4 1 5 1-2.7 1 4.5 1-6.5 1 2.1 1 5.4 1-5.4 1 4.1 1-2.5 1 2.6 1-2.6 1 5.3 1-2.3 1-.3 1 2.4 1-5.5 1 4 1-3.9 1 1.7 1-.8 1-1 1 3.1 1-1.4 1-1.2 1 3.5 1-2.4 1 1.2 1 2.2 1 3.8 1-2.2 1 1.3 1-2 1 2.4 1-3.2 1-6.8 1 1.9 1-6.3 1-1.9 1-4.7 1 2.7 1-.9 1 2.1 1 .4 1-6.3 1 6 1-5 1 2.9 1 .4 1 .6 1-5.6 1-.2 1 5.6 1-2.6 1-3 1 5.9 1-.5 1 .9 1-3.1 1-3.6 1 7.6 1-2 1-1 1-3.2 1 .5 1 5.1 1-1 1-2.7 1 2.4 1-2.5 1 6.8 1-3.6 1 .2 1-1.5 1-.6 1 1.3 1 4.1 1-3.9 1 1.1 1 1.6 1-.5 1-8.7 1 5.7 1 .1 1 2.6 1-2 1 0 1-.9 1 .9 1 1.7 1-2.7 1 4.7 1-3 1-2.8 1-1.3 1 6.8 1-8.4 1 2.1 1 2.6 1-2.6 1 .4 1-1.6 1-.6 1 .5 1-3.6 1-.9 1 2.5 1-1.5 1 3.3 1-3.5 1-1.3 1 .8 1-.1 1 1 1-2.3 1 4.6 1 3.4 1-6.6 1 4.1 1-2.2 1-1.7 1-2.5 1 5.7 1-3.4 1 2.7 1 1.1 1-5.2 1 5.9 1-2.9 1-5.4 1 6.1 1-.6 1-4.5 1 1.6 1 3.5 1-6.4 1-2.1 1 4.9 1-4.4 1 1.4 1-.6 1 4.3 1-3.1 1-1.8 1 3.5 1 .4 1-5.2 1 2.5 1 1.5 1 3.9 1-1.7 1-6.8 1 2.8 1 2 1 2.4 1-3.4 1 1.8 1-5.4 1-.9 1 .7 1 6.8 1-1.7 1-3.4 1 2.6 1 7.1 1-2.3 1-1.1 1-.8 1 6.4 1 2.1 1-.7 1-2.4 1-1.9 1-4.1 1 8.7 1-6.3 1-1.4 1 1.2 1-2.5 1 1.9 1 4.4 1-.8 1 0 1-4.6 1-1.5 1 4.2 1-2.3 1-1.2 1 1.9 1-3.2 1-1.5 1-1.6 1 3 1 1.9 1-.7 1-4.1 1 4.3 1-.9 1-2.4 1-1 1-.3 1-.1 1 1.1 1 1.6 1-1.5 1 1.2 1 3.1 1 1.8 1-4.7 1-3.6 1 2 1-.7 1-2.5 1 6.6 1-1.8 1 1.8 1-1.2 1-3.9 1-2.2 1 1 1-3.5 1 .9 1 3.5 1 .8 1 7.9 1-4.4 1 7.3 1-8.3 1 6.9 1-7 1 1.9 1 2.9 1-3.4 1-.9 1 7.1 1-3.5 1-1.3 1 1.8 1-1.6 1-1.6 1-.1 1-.2 1-4.1 1 8.1 1 .3 1-4.4 1-4.1 1 2.6 1-2.8 1 1.7 1-1.5 1 7 1-2 1-3.9 1 2.3 1-3 1-2.4 1 1.2 1 4.7 1-4.5 1 5.4 1-3 1 3.5 1-.6 1-.3 1-.2 1-.6 1-17.2 1 12.6 1 .1 1 1.4 1-13.1 1 9.7 1 7.7 1-4.6 1-.1 1-2.8 1 3.8 1-3.7 1 4.6 1-4.5 1-7.7 1 16.5 1-2.2 1-1.5 1-5.5 1 .5 1-1 1 .1 1-9.8 1 11.5 1 .1 1-3.4 1 7.5 1-1.8 1-1.3 1 .9 1-12.3 1 14.3 1 .4 1-3.4 1 1 1-3 1-3.5 1 8.6 1 .2 1-5.8 1 2.5 1-6.1 1 9.3 1-2.9 1 .7 1 1.6 1-7 1 5.1 1-4.2 1-.8 1 3.3 1-2.2 1 7 1-2.6 1 .6 1-3.2 1 5 1-13.6 1 7.3 1 5.3 1-5.7 1-4.8 1 3.4 1-1.6 1-.1 1 7.9 1-6.4 1 7.1 1-7.1 1-2.5 1 3.1 1 4.1 1-11.8 1 10 1-3.5 1 2.3 1 5.8 1-3.8 1-1.9 1 3 1-1.6 1-4.5 1 4.5 1 .4 1-4.1 1 7.3 1-3.2 1-.5 1-2.6 1-.4 1-7.6 1 10.5 1-5.3 1 9.9 1-9.6 1 .8 1 5.7 1-1.5 1-3.7 1-7.6 1 2.8 1 4.9 1-1.9 1 6.5 1-4.9 1 3.1 1-3.6 1 1.6 1 1.8 1 1.4 1-1.4 1 1.8 1-11.9 1 15.5 1-.4 1-9.2 1 5.2 1-1.9 1-2.1 1 8.6 1-2.2 1 2.9 1-4.9 1 6.1 1-9.5 1 4.7 1-5.4 1 7.6 1-5.1 1 2.9 1-5.5 1 5.6 1-4.9 1 4.4 1 .6 1-1.2 1 1.6 1-8.3 1 .3 1 8.9 1-8.9 1 6.3 1-.9 1-6 1 3.9 1 2.1 1 1.4 1-9.4 1 6 1 .1 1-5.9 1 8.1 1-3.5 1-1.7 1 3.7 1 6.3 1-7.9 1 3.9 1-4.2 1 7.3 1-.8 1-3.5 1 .3 1-2.8 1 4.1 1-7.8 1 0 1 6 1-.8 1 .6 1-1.2 1-9.2 1 10.5 1-.2 1-7.6 1 .4 1 7 1 2.4 1-.1 1-2.8 1 .8 1-2.2 1 4.8 1-6 1 1.6 1 2.7 1-1.3 1-5 1 4.5 1 2.2 1-6.4 1 7.6 1-8 1 2.7 1 1.4 1-6 1 1.2 1 4.5 1-5.3 1 1.7 1 .7 1 4.3 1 .8 1-3.6 1 3.9 1-1.8 1 3.2 1-5.9 1 6.3 1-3.4 1 .8 1 3.9 1-10.9 1 4.8 1-.7 1-11 1 8.5 1-1.3 1-3.7 1 13.2 1-11.3 1 9.7 1-4 1-4.5 1 9.2 1 0 1-9.1 1 .5 1-.7 1 5 1 3.1 1-5.6 1-2.6 1 7 1-4.4 1 5.3 1-4.6 1 1.5 1-.1 1-.1 1-7.1 1 10.3 1 .8 1 1.4 1-6.5 1 1.2 1 .6 1-5.3 1 5.1 1-.2 1 3.9 1-4.7 1-1.8 1-1.2 1 7.5 1-3.9 1-2.4 1-1.6 1-2 1 7 1-6.6 1 6.5 1 1.4 1-12.4 1 4.4 1 4.5 1 1.8 1 3.9 1-11.8 1 5.6" stroke="#f00" stroke-width="2.9" fill="none" stroke-linejoin="round"/>
<path clip-path="url(#c4)" d="M263.2 1180.5l.5 21.2 .5 99.3 .5-60.7 .5 46.2 .5-6.2 .5-54.5 .5-37.3 .5 82.5 .5-77.9 .5 15.4 .5 78.1 .5-40.7 .5 32.5 .5-60.2 .5 73.3 .5-91.8 .5 25.6 .5 72.3 .5-42.9 .5-15.1 .5 30 .5-95 .5-12.6 .5 95.4 .5-19.7 .5-80.2 .5 101.4 .5 60.1 .5-64 .5 30.4 .5-56.4 .5 48.3 .5-18.6 .5 27.9 .5-2.7 .5-46 .5 98.2 .5-111.8 .5 40.6 .5-33.1 .5-28 .5 83.6 .5-63.6 .5-48.5 .5 106.7 .5-83.7 .5 55.2 .5-152 .5 216.7 .5-55.7 .5 34 .5-5 .5-45.1 .5 4.1 .5-34.3 .5 71.4 .5-51 .5 5.1 .5 29 .5-.3 .5-64.9 .5-15.3 .5 68.7 .5-63.7 .5 26.2 .5-28.5 1-19 1 19.2 1-30.6 1 141.8 1-100.3 1-24 1 10.3 1-9.9 1 1.7 1 1.6 1 9.5 1-3.4 1 9 1-6.1 1 .5 1 7.4 1-8 1-11.7 1 15.5 1-.9 1-20.9 1 .2 1 5.5 1 15.7 1 13 1-16.6 1 1 1-2.8 1 14.8 1-20.1 1 4.5 1 65 1-66.7 1 7.2 1-34.4 1 27.5 1 23.3 1-2.2 1-1.1 1-14.2 1 5.3 1 3.5 1 .1 1 15.4 1-28.9 1 15.8 1 42.8 1-40.8 1 10 1-49.9 1 26.3 1-12.5 1 20.6 1-4.9 1 5.7 1-23.3 1 11.8 1-4.3 1-1.3 1 17.6 1-68.7 1 62.4 1-10 1 97.6 1-133.5 1 42.2 1-5.5 1 17.2 1-25.7 1 16.2 1 11.3 1-3 1-22 1 29.1 1-66.4 1 126.9 1-68.3 1 1.7 1-26.1 1 27.5 1-1.3 1 6 1-16.8 1 17.6 1-7.1 1 2.4 1-18.9 1-38.5 1-48 1 220.9 1-268.1 1 17 1 97.8 1-109.4 1 4.5 1 18.4 1-28.6 1 27 1 38 1-43.1 1-.5 1 11.8 1-1.3 1 5.1 1 13.1 1 12.8 1 103.6 1 115.4 1 10 1-25.8 1-.3 1 6.1 1 9.5 1-18.3 1 27.4 1-25.7 1 1.4 1 20.3 1-7.7 1-6.5 1 8.1 1 9.4 1-26.6 1-3.8 1-2.8 1 26.2 1-34.2 1 24.9 1-13.1 1 17.9 1-10 1-19.7 1 34.2 1-21.4 1 20 1-16.4 1 10.8 1-11.1 1 9.5 1-7 1 8.3 1 3.1 1 2.8 1-32.8 1 19.3 1 14.4 1 4.1 1-19.2 1 .5 1 17 1-24.9 1 .4 1-21.5 1 30.5 1 15.5 1-7.3 1-4.2 1-7 1 5.8 1 3.2 1 6.4 1-1.7 1-8.2 1-21.4 1 22.5 1-14 1 4.6 1 8.5 1 13.6 1-13.6 1-5.3 1 14.9 1-8.7 1-2 1-5.8 1 17.2 1 4.7 1 4.5 1-13 1 7.3 1 2.1 1-26 1-3.4 1 29.5 1-12.6 1 14.9 1-5.4 1-10.4 1 7.2 1-11.4 1 26.8 1-13 1-3.8 1 17.2 1-7.9 1 4.8 1-5.9 1-217.8 1 220.9 1-27.8 1-7.4 1 1.6 1-8 1-27.9 1 1.3 1-8.7 1 22 1-8.3 1 31.8 1-13.8 1-8.4 1-20.8 1 1.3 1-15.5 1-12.9 1 17.8 1-14.8 1 14.3 1 24.1 1 1.1 1-4.6 1 7.9 1-.3 1-6.2 1-6 1 3.1 1-16.6 1 5.7 1 12.8 1-11 1-2.4 1 5.5 1-16.4 1-10.1 1 16.6 1-47.5 1 44.7 1 15.5 .5-61.1 .5 24.9 .5-56.5 .5-27 .5 3.1 .5-54.8 .5 193.1 .5-98.2 .5 61.7 .5 19.3 .5-157.2 .5-194 .5 146.7 .5 53.5 .5-166.2 .5 346.8 .5-140 .5 34.4 .5-76.4 .5-34.5 .5 185.9 .5-93 .5 184.4 .5-231.1 .5-103.4 .5 293.1 .5-256.9 .5 177 .5 40.3 .5-35.4 .5-27.4 .5-85 .5-128.1 .5 328.1 .5-239.2 .5-28.9 .5 163.4 .5-226.6 .5 253.6 .5-157.6 .5 201.1 .5 22.3 .5-86.8 .5-74.7 .5 80.4 .5-268.5 .5 334.5 .5 3.9 .5-121.7 .5 10.7 .5 138.1 .5-323.7 .5 177.5 .5 199.9 .5-207.5 .5-49.8 .5 166.2 .5-90.5 .5 209.2 .5-73.5 .5-95.3 .5-301.2 .5 225.3 .5 41.3 .5 106.2 .5-403.5 .5 182.3 .5 167.1 .5 20.6 .5-267.9 .5 116 .5 6.7 .5-41 .5 52.4 .5 14.5 .5 36.2 .5-20.4 .5 66.7 .5-98.5 .5 110.6 .5 14.7 .5-41.9 .5-18 .5-27.8 .5-39.4 .5 18.4 .5 50.2 .5-16.6 .5-14.1 .5 48.5 .5-102.1 .5 115.4 .5-90.6 .5 80.3 .5-44.9 .5 36.9 .5-15.9 .5 74.8 .5-139.2 .5 18.8 .5 71.2 .5-95.6 .5 50.8 .5 39.9 .5-76.5 .5 151.6 .5-67.8 .5 27.2 .5-15.5 .5-18.6 .5-41.9 .5 27.6 .5 22.5 .5-85.8 .5 23.1 .5 42.5 .5 37.5 .5-58 .5-41.2 .5 64.3 .5-15.6 .5 47 .5-70.4 .5 67.1 .5-1 .5-60.7 .5 4 .5 55 .5-43.9 .5-25.8 .5 58.5 1-4.2 1-10.2 1-44.5 1 11.5 1 9 1 35.4 1-15.9 1 .7 1-14.9 1 16.2 1-16.3 1-24 1 12.3 1-8.1 1-29.2 1-23.9 1 28.4 1-32.5 1 17.9 1 .4 1-8.1 1 7.5 1 13.6 1 35.1 1-5.1 1-.4 1-1.6 1 26.7 1 28.1 1-13.9 1-3.9 1-17.9 1-14.1 1-13.4 1-40.3 1 30.6 1 31.7 1 10.2 1-49.8 1 68.2 1-22.7 1-5.9 1-10 1-20 1 43.4 1 5 1-69.2 1 29.7 1-13.9 1 9.5 1 50.8 1-26.3 1 18.9 1-43.1 1 38.9 1-39.3 1 32.3 1-42.8 1 47.6 1-43.5 1 25.5 1 24.4 1 21.6 1-50.5 1 4.8 1 5.8 1-10.4 1 16.1 1-10.3 1 2.1 1 41.3 1 4.8 1-12.4 1 24.1 1-50.2 1 32.1 1 31.2 1-29.8 1-43 1 26.2 1 14.5 1-61.9 1 53.1 1-44.1 1 2.4 1-10.5 1 50.8 1-22.4 1-16.5 1 41 1-12 1 31.4 1-2.3 1-13.2 1 3 1-40.8 1 55.3 1-24.5 1-.2 1-50.5 1 65.6 1-4.7 1-41.9 1 6.9 1 11 1-23.9 1 31.3 1-30 1 30.3 1 9.4 1 5.5 1-35 1 18.6 1-13.4 1 2.3 1 26.1 1 9.2 1 1.3 1-41.6 1 2.8 1 38 1-.3 1-21.1 1-.2 1 2 1 22 1-16.9 1-5.6 1 16.9 1-40.8 1 30.5 1-36.2 1 40.6 1-31.9 1 9.9 1-9.1 1 29 1-13.8 1 47.9 1-67 1 1.7 1 26.3 1 1.9 1-9.9 1-3.7 1-13.4 1 8 1 2.4 1 1.8 1 1.3 1 8.5 1 1.5 1 4.3 1 15.3 1-6.2 1-23.8 1 6.4 1 20.8 1-20 1 30.4 1-24.6 1 31.4 1-62.7 1 15.4 1 34.5 1 .6 1-15.7 1-1.7 1 1.9 1 5 1 2.3 1-10.4 1-35.2 1 22.2 1 9.7 1 6.3 1-14.8 1 29.6 1-18.9 1 13.7 1-4 1-12.1 1 11.5 1-24.2 1 21.2 1-2.1 1-6 1 40.5 1-46.2 1 15.1 1-8.7 1-8.7 1-16 .6-.2 .6 4.6 .6 4.6 .6-11.7 .6 25.7 .6 12.2 .6-15.8 .6 10.8 .6 2.5 .6-27 .6-28.6 .6 31.8 .6-4.4 .6-5.2 .6 19.5 .6-42.9 .6 41.2 .6-3.8 .6 17.6 .6 .8 .6-32.1 .6 28.5 .6 67.7 .6 .5 .6-80.4 .6 22.4 .6-29.7 .6 8.3 .6-5.5 .6 8.8 .6-41.1 .6 12.8 .6-13.2 .6 35.3 .6 13.4 .6-26.4 .6 10.9 .6 2.6 .6-9 .6 27.8 .6-11.3 .6-36 .6 43 .6-.6 .6 3.8 .6 38.6 .6-1.4 .6-71.8 .6 26.4 .6-10.1 .6-21.4 .6-4.9 .6 43.1 .6-4.4 .6-17.7 .6-9.8 .6 30.5 .6-34.5 .6 30.7 .6-37 .6 1.2 .6 30.4 .6-14.7 .6 22.6 .6-10.9 .6-.7 .6-11.4 .6 19.6 .6-24.6 .6-39.9 .6 .5 .6 26.7 .6 2.4 .6 42.4 .6-18.6 .6 9.8 .6-23 .6 3.9 .6 3.9 .6 10.7 .6-6.3 .6 7.7 .6 13.6 .6-2.2 .6 16.3 .6-3.7 .6-38.7 .6 11.4 .6 8.6 .6 .1 .6 25 .6-38.4 .6 26.2 .6-29.2 .6 33.3 .6-34.4 .6 32.3 .6-37.1 .6 1 .6 1.3 .6 25.7 .6 12.8 .6-2 .6-9.2 .6-10.9 .6-9.1 .6-5.4 .6 12.5 .6-31.8 .6 53.8 .6-48.5 .6 .8 .6 32 .6-29.7 .6 12.7 .6 14.1 .6-7 .6 7.7 .6 5.6 .6-26.1 .6 12.7 .6-21.7 .6 6.4 .6 22.8 .6-.4 .6-18.8 .6 20 .6-19.2 .6 39.1 .6-36.5 .6 23.2 .6-33 .6-11.2 .6 13.1 .6 2.7 .6 26.2 .6-6.5 .6-27 .6 40.2 .6-4.9 .6-43.8 .6 25.6 .6-9.1 .6-22 .6 27.9 .6 25.2 .6-28.6 .6-14.9 .6-15.4 .6 9.5 .6 6 .6 10 .6-5.6 .6 20.4 .6-50 .6 41.4 .6-40.3 .6 48.1 .6-18.2 .6-22.9 .6 54.5 .6-18.1 .6-27.2 .6 27.4 .6 12.3 .6-35.7 .6 26 .6-14.9 .6 18.2 .6-33 .6 8 .6 6 .6 34 .6-50.6 .6-2.8 .6 15 .6 37.6 .6-9.6 .6 4.9 .6-21.1 .6 32 .6-54.5 .6 7.1 .6 28.5 .6 1.9 .6-40.3 .6-1.9 .6 40.9 .6-44.9 .6 28.8 .6 17.8 .6-28 .6 29.8 .6-10.8 .6-14.8 .6 34.3 .6-74.2 .6 62.6 .6 2.3 .6-39.7 .6 41.3 .6-28.3 .6-13.4 .6 29.7 .6 18.1 .6-3.4 .6-48.6 .6 66.8 .6-3.2 .6-1 .6-9.6 .6-32.6 .6 41.9 .6-19.8 .6 21 .6-29.2 .6 24.5 .6-24.9 .6 21.6 .6 7.4 .6-41.8 .6 10.7 .6 26.9 .6-44.7 .6 62.9 .6-62.7 .6 18 .6-18.6 .6 29.8 .6-37.1 .6 23.9 .6-15 .6 26.1 .6 34.8 .6-10.7 .6-35.7 .6-23.5 .6 43.4 .6-22.8 .6 40.5 .6-34.9 .6 14.2 .6 15.9 .6-47 .6 41.2 .6-38.8 .6 19.2 .6-28.6 .6 7.4 .6-37.9 .6 21.7 .6 0 .6 18.1 .6 15.7 .6 21.4 .6-13.6 .6 4.4 .6-71.5 .6 79.5 .6-13.3 .6 8.3 .6 9.6 .6 12.1 .6-3.5 .6-54.3 .6-4.7 .6 47.2 .6-32.5 .6-5.3 .6 43.8 .6 35.8 .6-74.5 .6 17.8 .6 4.9 .6 35.5 .6-9 .6-17.3 .6-34.3 .6 13.3 .6-6.1 .6-5.9 .6-.2 .6 33.2 .6 9.3 .6 11 .6-18 .6-.9 .6-13.4 .6 14.7 .6 1.3 .6-23.4 .6 27.7 .6 1.8 .6-11.4 .6-20.8 .6 57.9 .6-60.2 .6 29 .6-10.4 .6-22 .6 34.2 .6-44.1 .6 10.5 .6-2.9 .6-.5 .6 19.4 .6 2.1 .6 12.7 .6-14.1 .6-16.6 .6 44.7 .6-27.4 .6-16.8 .6-4.8 .6 6.5 .6 17.7 .6 15.8 .6-11 .6-3.2 .6-35.4 .6-4 .6 5.7 .6-15.3 .6 22.8 .6-1.8 .6 41.7 .6-60.1 .6 24.2 .6-13.9 .6 8 .6 12.6 .6 1 .6-15.6 .6 63 .6-56.4 .6-24.7 .6 48.9 .6-46.4 .6 31.8 .6-17.2 .6-9.4 .6-7.7 .6 7.6 .6 37 .6-40 .6 2.6 .6 1.9 .6 30.7 .6-31.9 .6 17.6 .6 23.5 .6-5.7 .6-45.3 .6 34.3 .6 10.1 .6-21.9 .6 44.9 .6-48.1 .6 21.1 .6-15.9 .6-1.5 .6 27.8 .6-35.6 .6 21.5 .6-8.2 .6 28.1 .6 8.2 .6-50.8 .6 40.5 .6-19.3 .6 26.4 .6-20.2 .6 34.3 .6 1.3 .6-43 .6 46.2 .6-46.3 .6-12.6 .6 50.2 .6-31.5 .6-5.7 .6-10.6 .6 2.2 .6 38.4 .6-52.3 .6 38.2 .6 16.9 .6-14.9 .6-8.2 .6 27 .6-42.8 .6 .3 .6 12 .6-20 .6-5 .6 6 .6-4.9 .6-4.2 .6 22.9 .6-7.2 .6-17.3 .6 9.6 .6-2.2 .6 10.3 .6 20.9 .6-6.9 .6-8.2 .6 14.1 .6-2.9 .6 14.3 .6-14.2 .6-8.8 .6 9.7 .6-26.4 .6 21.7 .6-2.7 .6-17.5 .6 36 .6-10.1 .6 15.1 .6-1.4 .6-35.7 .6 7.3 .6 .8 .6 1.7 .6-18.8 .6 36.1 .6-22.5 .6 29 .6-29.1 .6 29 .6-6.4 .6-28.1 .6 12 .6-16.4 .6 3.6 .6 39.5 .6-49.9 .6-1.7 .6 6.4 .6 7.6 .6 12.1 .6 10.8 .6-9.3 .6 12.5 .6-26.1 .6 4 .6-4.8 .6 4.8 .6-14.9 .6 12.2 .6 12.4 .6-17.6 .6 9.3 .6 17.5 .6-19.9 .6 30 .6-10.1 .6-1.7 .6 13.5 .6-9.9 .6 3.5 .6-10.2 .6-11.4 .6 8 .6-9.3 .6 16.4 .6-13.1 .6-1.1 .6 9.9 .6-10.2 .6 7.2 .6-14.3 .6-7.4 .6 12 .6-9.6 .6-12.8 .6-3.2 .6-93.8 1 172.1 1-172.1 1 0 1 0 1 134.6 1-1.6 1 .4 1-.2 1-.9 1-.3 1-2.9 1 4.4 1-2.3 1-.4 1 1.1 1 1.8 1-1.2 1-1.1 1-1 1 1 1 .6 1 1.4 1 1.7 1 .1 1-.3 1-.2 1-2.6 1 1.6 1-2.4 1 3 1-.1 1 .5 1-3.8 1 2.7 1-1.2 1 .5 1-.8 1 2.2 1-3.1 1 1.5 1 .2 1-1 1-16.2 1-25.7 1 3.3 1 58.3 1 31.9 1-25.9 1-19.4 1 .2 1-.5 1 0 1-3.1 1 1.2 1-1.2 1 .3 1 5.7 1-4 1 3.6 1-.5 1 1.7 1-5.1 1 2.3 1 2.8 1-.8 1-1.8 1 .7 1-4.5 1 1.9 1-2 1 6.6 1-4 1 5.6 1-3.4 1 1.6 1-1.8 1 1.6 1-2.5 1-.7 1 1.3 1-.9 1 2.4 1 3.8 1-.3 1 1.1 1-7.3 1 4.2 1-2.2 1-.7 1 1.6 1 1.5 1-3.7 1-1.8 1 3.4 1-5 1 3.1 1-.3 1 2 1-3.3 1-.3 1 .3 1-3.5 1 1.8 1-2.4 1 3.3 1-.3 1-.9 1-2.3 1-4.2 1 6.8 1-6.6 1 2.8 1 .1 1 2.7 1-5 1-2.1 1 7.2 1-.5 1-5.7 1 6.5 1-.4 1-2.3 1 1 1 .9 1 1.1 1-.7 1-18.5 1 18.9 1-5.4 1-1.8 1 5.5 1 3.1 1-.6 1-.7 1 .4 1 1.6 1-.6 1-2.5 1 .7 1-1.3 1 .7 1 1.7 1-1.4 1 4.3 1-1 1-1.4 1-1.1 1 1.3 1-.7 1-1.2 1-4.4 1 6.3 1-1.4 1 .4 1-.4 1-1.3 1 .4 1 3.1 1-4.7 1 4.1 1-4.8 1 4.1 1-43.7 1 52.8 1-6.8 1-1.9 1-3.3 1 3.8 1-36.1 1 33.9 1 1 1 2.8 1-3.5 1-1.7 1 4.3 1-.1 1-3.4 1 2 1-2.3 1 4.8 1-3.9 1 1.1 1-2 1 2.8 1-2.5 1-.8 1 1.2 1-.2 1 7 1-1.3 1-3.5 1 .2 1-2.6 1 3.6 1 2.9 1-5.7 1 .6 1 .5 1-.8 1 .9 1 3.8 1-2.4 1 1.1 1-.2 1 3.2 1-3.5 1 .8 1 1.4 1-4.9 1-.5 1 3.4 1 0 1 8.4 1 .8 1-2 1 2.3 1-7.2 1 4.1 1-1.6 1 4.9 1-2 1-29.9 1 32.7 1-5.8 1 4.1 1 .7 1-1.4 1-2.6 1 .9 1-2.4 1 5.4 1-3.3 1 1.6 1-2.9 1 3.1 1-6.3 1 5.8 1-.7 1-7.4 1 1.3 1 .9 1-5.7 1 3.7 1-1.9 1-.7 1-1.1 1 1.2 1 .9 1 .9 1-5.1 1-.5 1-.1 1 2.4 1-.2 1 3.3 1-5 1 4.1 1-4 1 3.1 1 .2 1-2.2 1 1.1 1 3.6 1 0 1-.9 1-1.3 1-.3 1 1.4 1-4.9 1 1.2 1 3.9 1 1.6 1-1.3 1-3 1-.8 1 3.1 1-2.3 1 3.7 1 1.1 1 3 1 1.4 1-3.4 1 4.8 1 3.4 1 2.1 1 .3 1-2.7 1-3.5 1-5.4 1-4.2 1-3.5 1 1.7 1-6.8 1-.4 1 3.9 1 .6 1-2.1 1-3.9 1 1.2 1 4.9 1-2.8 1 1.7 1-3.1 1 2.8 1-4.7 1-.1 1 .4 1 4.5 1-2.2 1 1.4 1 1.5 1-3.1 1-.5 1 .5 1 2.1 1 1.6 1 1.9 1-.5 1-1.4 1 .7 1-8.1 1-12.5 1 7.2 1 8.5 1 4.6 1-.2 1-.3 1-1.6 1 2 1-1.6 1 .1 1 2.4 1 .2 1-1.9 1 .1 1 1.7 1-1.4 1 1.9 1 3.8 1 1.1 1-1.5 1 7.7 1 2.6 1 3.6 1 4.2 1 3.9 1 8.8 1-2 1-7 1-6.3 1-8.5 1-3.8 1-1.3 1 3.5 1-.9 1-.8 1 1 1 1 1-2.6 1 2 1-5.8 1 .9 1 3.9 1-.9 1-1 1 2.4 1-1.5 1-2.7 1-2.1 1 6.4 1-6 1 5 1-2.6 1-1 1 .7 1-3.3 1-.3 1 3.2 1 .5 1-.8 1 .6 1-1.3 1-1.5 1-2.3 1-1.8 1 .8 1-.2 1-1 1 .4 1-.4 1 .2 1 1.3 1 2.4 1-6.4 1 4 1-4.3 1 5.9 1-2.6 1-5.2 1 1.2 1 .1 1 2 1-1 1-.6 1 1.1 1-.3 1 2.4 1-.6 1 1.7 1-4.1 1 2.2 1 .6 1 .8 1 .3 1-4.4 1-2.5 1 0 1 5.9 1 .3 1-2.5 1 .5 1-3.5 1 1.6 1 2 1-1.7 1-4 1 3.5 1-10.9 1 11.1 1-1 1 2 1-3.1 1 1.4 1-1.8 1-.8 1 3.3 1-.2 1-1.1 1-4.6 1 6.1 1 6.4 1 1.2 1 .6 1 2 1-1.3 1-2.3 1 4.2 1-2.9 1 .1 1 2.4 1-4.9 1-.2 1 1.7 1-3 1 1.6 1 4.2 1-1.8 1-2 1-1.6 1 2.1 1 .3 1-2.6 1-.3 1 3.5 1-3.2 1-.9 1 3.7 1-.5 1-1.9 1 2.4 1-12.1 1-3.8 1-16.8 1 1.1 1 4.8 1 2.6 1-2.2 1 .8 1 6.2 1-4.1 1-3.5 1 4 1 4.4 1 5.1 1-32.3 1 31.7 1-16 1 29.4 1-23.5 1-14.2 1 17.8 1-22.4 1 33.9 1-27.9 1 29.2 1 2.2 1-8 1-16.5 1-.7 1 19.4 1-14.2 1 18.1 1-25.2 1 23.2 1-28.3 1 12 1 5.9 1 13.4 1-16.4 1-8.1 1 2.3 1 5.8 1 13.7 1 3.3 1 7.2 1-.5 1 8.8 1-14.2 1-1.5 1 2.1 1 4.4 1 3.6 1 6.6 1-5.4 1-1.6 1-17.8 1-15.5 1-8.2 1-2.8 1-2.8 1 2.3 1-4 1 2.7 1-1.6 1 71.8 1-71.3 1-.1 1 5.9 1 11.4 1-6.3 1-3.6 1 5.4 1 4.4 1 37.2 1-49.2 1 9.3 1-3.7 1-4.5 1 2.4 1 .2 1-6.8 1 5.3 1-7.1 1-7.9 1 14.9 1-5.6 1-.5 1 8 1 2.9 1-15.4 1 14.2 1-1.1 1-13.7 1-5 1 12 1-2.1 1-4.6 1 7.2 1-13.7 1 1.9 1 1.1 1 81.9 1-93.8 1 5 1 1.4 1 5.2 1 5.7 1 6.6 1 .4 1-5.2 1 7.5 1-1.9 1 4.1 1 13.1 1 1.3 1 .4 1 4.3 1 .4 1 .2 1 8 1 1.7 1 9.6 1 2 1 10.2 1-4.9 1 13.1 1 .6 1 5.6 1 4.3 1-14.5 1-11.5 1-2 1 .3 1-1.7 1 5.5 1-2.2 1-5.6 1-2.8 1 9.1 1-4.1 1-2 1-.3 1 6.8 1-9.1 .5 12.8 .5-35.3 .5 13.9 .5 9.2 .5 42.3 .5 8.7 .5-32.9 .5 16.3 .5-40.6 .5 1.1 .5 5.6 .5 33.2 .5-85.7 .5 38.9 .5-13.6 .5 7 .5 51.4 .5-42.8 .5-23.2 .5 2.2 .5-13.3 .5-11.7 .5 64.1 .5 2.8 .5-54.6 .5 6.8 .5-2 .5 75.9 .5-15.6 .5-24.3 .5-30.8 .5 51.6 .5-36.4 .5 28.4 .5-79 .5 53.4 .5 8.2 .5 22.7 .5-8.8 .5 4.3 .5 33.7 .5-63.5 .5 33 .5 18.9 .5-66.1 .5 33.7 .5 32.2 .5-7.8 .5 24.7 .5-34 .5-63.5 .5 47.8 .5 32 .5-6.5 .5-9.1 .5-50.7 .5 80.9 .5 10.8 .5 54.3 .5-145.6 .5 101 .5-43.9 .5 3 .5-82.3 .5 27.3 .5 14.6 .5 19.2 .5-48.1 .5 67.1 .5-65.1 .5 22.3 .5 43.5 .5 16.2 .5-56.5 .5 35.6 .5-41.8 .5 78.8 .5-33.5 .5-82 .5-6.7 .5 19.6 .5 65.6 .5-72.5 .5 35 .5 21.7 .5-3.6 .5-56.1 .5-21.8 .5 29.5 .5 67.5 .5-12.3 .5 7.4 .5-38.7 .5-18 .5 19.5 .5 8.4 .5 64.2 .5-38.1 .5-80.6 .5 23.8 .5 104.6 .5-105.3 .5 46.8 .5 25.3 .5-3.7 .5-.8 .5-30.1 .5 40.8 .5-11.2 .5 35 .5-.1 .5-49.9 .5 35.8 .5 1 .5-74 .5 22.5 .5 34.3 .5-16.6 .5 27.8 .5-171.1 .5 233.4 .5-120.4 .5-18.3 .5 3.6 .5 78.4 .5-93.4 .5 33.7 .5 25.1 .5-47 .5 34.5 .5-39.3 .5-6.3 .5 61.8 .5-16.3 .5 24.6 .5-5.4 .5-19.5 .5 1.8 .5 13.7 .5-10.4 .5-55.1 .5 38.9 .5 18.2 .5-13.4 .5-7.1 .5 16.2 .5-.6 .5-23.5 .5 42 .5 5.7 .5-55.9 .5-6.9 .5 48 .5-25.1 .5 12.9 .5 30 .5-56 .5 43.9 .5-48.5 .5 59.1 .5-13.1 .5-31 .5-26.8 .5 44.8 .5 48.8 .5-88.4 .5 .1 .5 54.1 .5 10.4 .5-12.3 .5 34.4 .5-31.1 .5 21.9 .5-22.9 .5-22.9 .5-24.5 .5-2.9 .5 91.5 .5-82.3 .5 84.2 .5-104.1 .5 97.6 .5-45.3 .5-40 .5 17.3 .5 75.6 .5-12.5 .5-37.2 .5-49.4 .5 63.6 .5 10.6 .5-102.7 .5 54.5 .5-23.1 .5 54.5 .5-66.6 .5 53.7 .5 .4 .5 24 .5-116.8 .5-4.2 .5 16.4 .5 18.9 .5 58.6 .5 33 .5-40.5 .5-109.7 .5 199.1 .5-12.1 .5-115.6 .5-10.5 .5 168.3 .5-91.1 .5-49.3 .5 86.8 .5-4.3 .5-120 .5 113.4 .5-46.5 .5-54 .5-68 .5 16.3 .5 70.3 .5 14.7 .5 .3 .5-14.6 .5 37.1 .5-12.5 .5-119.5 .5 21 .5 72.4 .5-56.6 .5 37.2 .5-56.5 .5 129 .5-71.9 .5 41.5 .5 22.7 .5-36.7 .5-104.8 .5 136.4 .5 47.1 .5-82.5 .5-35.4 .5 106.9 .5-34.5 .5-27.5 .5-10.4 .5 110.2 .5-132.8 .5 108.7 .5-46.9 .5 34.3 .5-102.6 .5 83.2 .5-155.5 .5 155.4 .5-114.2 .5 7.2 .5 144.6 .5-153.6 .5 142.1 .5-10.2 .5-21.4 .5-8.7 .5 15.9 .5-97.7 .5 27 .5 16.7 .5 8.5 .5 28.7 .5-128.8 .5 72.3 .5-18.3 .5 92.9 .5-1.8 .5 27.7 .5-138.6 .5-22.4 .5 45 .5 41.3 .5 3.9 .5-72.6 .5 105.3 .5 55 .5-118.8 .5 52.7 .5 65.5 .5-56 .5-9.7 .5-36.9 .5 107.7 .5-12 .5-34.4 .5 23 .5-96.5 .5 90.2 .5-59.5 .5 1.3 .5 23.9 .5 39.1 .5-7.9 .5 7.4 .5 17.9 .5-48.1 .5-31.5 .5 24.1 .5-2.9 .5-55 .5 55.9 .5-17.7 .5 67.1 .5-76.6 .5-32.6 .5-7.6 .5 50.9 .5-49.5 .5 79.9 .5 23.8 .5 8.7 .5-86.9 .5 87.7 .5-128.1 .5 124.5 .5-61.2 .5 24.8 .5-8.3 .5 25.6 .5 9.1 .5-15 .5-46.1 .5 .9 .5-34.3 .5 72.4 .5-41.5 .5-14.1 .5 45.7 .5 58.8 .5-78.7 .5 103.4 .5-116.9 .5 103.9 .5-40.8 .5-10.3 .5 8.3 .5 13.4 .5-96.8 .5 111.6 .5-1.1 .5-103.6 .5-6.3 .5 4.4 .5 121.9 .5-46.1 .5-70 .5 93.6 .5-77.1 .5 10.7 .5 64.4 .5-21.8 .5-73.5 .5-12.4 .5 64.8 .5-24.3 .5-52.1 .5 56.3 .5 45.9 .5-36.1 .5-58.8 .5 80.1 .5-45 .5 24.4 .5 12.9 .5-44.8 .5-1 .5 25.9 .5-19 .5 6.9 .5 11.6 .5-29.3 .5 45.3 .5 24.2 .5-7.6 .5-42.1 .5 3.5 .5 40.9 .5-37.5 .5 26.3 .5 25.9 .5-47.7 .5-1.7 .5 19.1 .5-5.8 .5 45.1 .5-93.7 .5 71.7 .5-16.9 .5-50.9 .5 77.4 .5-4.1 .5 8.9 .5-68.7 .5 49.6 .5-56.4 .5 59.9 .5-38.8 .5 24 .5-19.7 .5 56.1 .5-33.8 .5 33.8 .5-24.1 .5-46.7 .5 28.1 .5 56.1 .5-23 .5-28.4 .5-21.3 .5 46.4 .5-77.6 .5 23.2 .5 12.7 .5 41.7 .5-13.4 .5-51.4 .5 60.4 .5 28.1 .5-21.3 .5-83.1 .5 96.8 .5-74.1 .5 48.8 .5-71.9 .5 96.2 .5-69.9 .5-16.2 .5 6.1 .5 59.2 .5-4 .5-18.8 .5-32.2 .5 94.9 .5-122.2 .5-5.1 .5 46 .5 35.2 .5-10.4 .5 10.9 .5 8.6 .5-36.4 .5 23.2 .5-46 .5-2.1 .5 26.2 .5 42.2 .5-6.3 .5-57.4 .5 40.2 .5-44.7 .5 20.4 .5 47.1 .5 23.8 .5-73.6 .5 42.3 .5 10.2 .5-18 .5-8.4 .5-8.3 .5-20.8 .5 65.1 .5-56.7 .5-21.3 .5-28.9 .5 20.3 .5 33.6 .5-25.7 .5-51.7 .5 79.5 .5-42.6 .5 45.4 .5-37.7 .5-34.6 .5-18 .5-5.5 .5 36.4 .5 45.4 .5 10.2 .5-48.6 .5-4 .5 42.5 .5-45.3 .5 28.4 .5-9.8 .5-28.7 .5 121.9 .5-36.9 .5-24.5 .5 128.3 .5-73.9 .5 23.5 .5-108.3 .5 122.9 .5-29.2 .5 25.2 .5-77.2 .5 76.9 .5-42.9 .5 18.4 .5-39.2 .5 61.8 .5-40.5 .5 3.6 .5-24.5 .5-98.4 .5 11.7 .5 108.3 .5 24.9 .5-17.7 .5-121.3 .5 19.6 .5 86.4 .5 36.2 .5-7 .5-105.4 .5-2.1 .5 1.4 .5 16 .5 51.4 .5-25.1 .5-82.6 .5 32.1 .5-4.1 .5 93.6 .5-54.3 .5 2 .5-15.2 .5 94.6 .5 3.1 .5-20.2 .5 15.7 .5-148.9 .5 3.8 .5 120.9 .5 39.5 .5-25.1 .5 25.4 .5 10.8 .5-105.1 .5 70.7 .5-76.5 .5 9.3 .5-72.9 .5 151.2 .5-127.5 .5-8.9 .5 68.1 .5-81.1 .5 98.7 .5-64.1 .5 15.9 .5 36.1 .5-40.3 .5 18.4 .5 48.7 .5-49.4 .5 17.4 .5 31 .5 31.3 .5-89.8 .5 39 .5-23.9 .5-50.7 .5-15.3 .5 86.2 .5-48.3 .5 38.1 .5 18.1 .5-92.4 .5 21.1 .5 38.5 .5-45.5 .5 64.3 .5 22.3 .5 .4 .5-94.9 .5-14.7 .5 108.7 .5-71.5 .5 19.7 .5 4.6 .5 60.2 .5 47.1 .5-66 .5 41.9 .5-45 .5 61 .5 66 .5-31.7M1989.8 1147.9l0 194.2M1967.6 1146.2l25.6 0M1967.6 1302.9l25.6 0" stroke="#000" stroke-width="2.9" fill="none" stroke-linejoin="round"/>
<path clip-path="url(#c4)" d="M263.2 1231.1l36.3-3.6 247.2 0 52.8 3.6 112 1.3 131.9 1.2M836.2 1234.1l226.5-1.7 44.3 4.1 13.7 5.1 47.7 4.4 34 1.7 54.5-1 27.3-3.4 40.9 .7 47.6 3.7 25.6-.7M1399.8 1247.4l31.3-1.4 119.2-6.1 102.2-1 68.2-1.7 272.5-.7" stroke="#f00" stroke-width="2.9" fill="none" stroke-linejoin="round"/>
<path clip-path="url(#c5)" d="M263.2 1511.1l1-35.8 1 22.4 1-6.1 1 18.1 1-8.6 1-4.2 1-.2 1 6.4 1 .9 1-19.5 1 .9 1 19.2 1-10.2 1 12.2 1-31.3 1 26.1 1 10.1 1 6.5 1-24.5 1 19.2 1 2.2 1-8.9 1-13.2 1-10.9 1 22.2 1-10.9 1 6 1 11.9 1-4 1-1.4 1 4.7 1-25.9 1-40.8 1-37.7 1-9.1 1-8.2 1-17.7 1 5 1 .9 1-3.4 1 10 1-.3 1 11.2 1-8.1 1 11.7 1-7.7 1 9.9 1 .5 1 7.9 1-3.5 1 4.2 1 13.8 1 4.6 1 .2 1 8.9 1 7.6 1-7.2 1 1.5 1 1 1-6.1 1 3.2 1 15 1 .2 1-15.9 1 7.9 1-6 1 16.3 1 1.4 1-5.9 1 4.1 1 8 1-.8 1-4.2 1 .8 1 2.8 1-11.3 1-14 1-23 1-24.8 1 10.7 1 10.7 1 12.7 1-11.5 1 3.9 1 9 1 15.4 1 1.7 1 11.7 1 .5 1 15.7 1 8.5 1-13.8 1 2.8 1 12.2 1-14.6 1 12 1 .9 1-9.7 1-3.1 1 8.9 1 13.7 1 .2 1-4.3 1 .2 1-20.9 1 20.2 1-25.4 1 .2 1-5.1 1 14.8 1-9.9 1 2.7 1-12.4 1 22.5 1 13.7 1-5.2 1-14.9 1-10.7 1 13.8 1 29 1-33.8 1 24.8 1 12.5 1-19.2 1 16.4 1-15.3 1-2.4 1-21.5 1-12.3 1-.9 1 7.7 1-1.7 1 19.2 1 5.2 1-7.5 1-6.4 1-10.7 1 3.5 1 15.9 1-15.3 1 16.5 1 1.4 1 3.6 1-18.2 1-16 1 32.3 1-36.1 1-3.9 1 23 1-1.8 1-18.7 1 18.4 1-4.2 1-5.7 1 6.9 1 2.6 1 11.7 1-12.9 1 7.6 1 15.6 1 13.6 1-14.8 1 2.4 1 9.5 1 5.6 1-1.8 1-24.9 1 16.6 1-5.5 1-15 1-3.4 1 1.9 1-12.5 1-3.7 1 6.3 1 19.1 1-24.3 1 9.9 1-4 1 10.8 1-13.4 1 5.4 1 5.3 1-8.9 1 7.1 1-1.3 1 15.5 1-13 1 13.4 1-25.8 1 24.6 1 5.1 1-29.9 1 24.9 1 4 1-7.2 1 8.3 1-5.4 1-12.9 1 17.9 1 .4 1-16.6 1-6.2 1 7 1-11.2 1 30.8 1-17 1-14.1 1-4.2 1-1.4 1 2.8 1 .6 1 36.8 1-27 1 10.4 1 10.9 1-24.2 1 13.4 1-5.1 1-3.6 1-1.9 1-2.3 1-5.5 1 14.4 1-4.3 1-1.8 1 11.2 1-9.8 1 11 1 0 1 6.1 1-12.6 1-13.2 1 6.7 1-6.3 1-5.7 1-2.3 1-3.5 1 11.5 1-14.1 1 5.9 1-2.5 1-9.8 1 4.6 1-7.7 1 19.4 1-21.1 1 24 1-4.2 1 3.8 1-8.2 1 1.6 1 6.7 1-8.1 1-9.9 1-7.7 1 9.6 1 10.7 1-2.2 1-8.2 1 9.9 1-10.3 1 8.1 1 4.8 1-3.1 1 13.2 1-2.6 1-.2 1 3.8 1-1.4 1 3.8 1-11.9 1-7.9 1 17.9 1-11.6 1-4.1 1 7 1 7 1 5.8 1-1.8 1-11.5 1-2.4 1 16.2 1-10 1-18.7 1 15 1-21.2 1 2.3 1 13.9 1-15.6 1 2.5 1 9.3 1-5.2 1 20.4 1-6.4 1 15.3 1-16.3 1 15.3 1 11.8 1-3.5 1 .8 1 20 1-2.5 1 17 1-5.3 1-13.4 1 6.8 1-3.8 1 14 1-12.5 1 1.1 1 3.1 1-12.2 1 18.1 1-21 1 11.9 1 11.3 1 3.5 1 2.3 1-10.3 1 18.1 1 5.2 1-7.2 1 4.4 1-16.8 1 0 1 20.4 1-18.6 1 19.3 1 2.8 1 3.5 1-2.6 1-11.4 1 16.2 1 0 1-4.8 1-9.1 1 16.6 1-14.5 1 18.9 1-15 1 8.2 1 5.5 1-5.5 1 16.1 1-19.7 1 6.5 1 14 1-13.8 1 17.4 1-9.7 1-10.6 1 2.2 1-10.6 1 5.3 1 8 1-2 1-15 1 14.8 1-25.6 1 14.7 1 3.5 1 2.5 1 7.9 1-1.6 1-9.9 1-3.7 1-3.8 1 3.7 1 5.9 1 8.1 1-8.8 1-2.8 1 12.9 1-1.4 1-2.7 1 2.2 1-4.6 1 8.6 1-9.9 1-6.4 1 14 1-.6 1-7.8 1 4.7 1 4.6 1-10.5 1 .8 1 2.5 1 1.1 1 .5 1 1.9 1-11.9 1 3.8 1 .4 1 12.1 1-8.3 1-7.5 1 3.1 1 5.8 1-7.5 1 12.5 1-2.2 1-5 1 7.8 1-8.3 1 6.3 1 .7 1 3.9 1 .5 1-6.1 1-.3 1 7.1 1-.9 1-2.7 1 9.1 1-5.9 1 4.2 1 2.2 1-4.3 1-3.3 1 7.4 1-1.8 1-5 1 15.3 1-3.4 1-2.8 1 2.1 1 3.3 1-2 1-4.4 1-5 1 11.1 1-1.5 1-2.2 1 6.9 1-8.9 1 5.6 1 5.2 1-1.5 1 7.8 1-3 1-11 1 10.1 1 3.5 1-4.6 1-9.9 1 .4 1 21.7 1-7.5 1-9.2 1 3.1 1 4.8 1-.3 1 2.2 1-12.8 1 6.6 1 4 1-6.1 1-4.3 1 9.8 1-8.2 1 6.3 1-1.8 1 4.9 1-13.7 1 2.9 1 .1 1-2 1 20.2 1-12.5 1 .3 1 6.7 1-4.1 1 2.4 1 1.3 1 8.4 1-17.6 1-2.4 1 10.1 1-1.1 1-.2 1-2 1 8.6 1-15.7 1 6.3 1 9.1 1-2.4 1-3.8 1-6.9 1-.6 1 7.5 1 8 1-5 1-9.4 1 19.3 1-6.7 1 6.3 1-7.6 1-7.4 1 8.9 1-11.4 1 2.7 1 10.5 1 4.8 1-12.9 1 7.6 1 4.3 1-19.6 1 11.2 1 4.8 1-2 1-7.2 1-14.4 1 12.4 1-7.1 1 13.3 1-1.2 1-5.6 1-25.7 1 9.2 1 .1 1 3.7 1 3.5 1 1.6 1-9 1 2.5 1-10.3 1-13.7 1 18.4 1 5.4 1-4.5 1 11.7 1-19.1 1 7.4 1-3.7 1-1.4 1 7.4 1 .3 1-16.3 1 15.4 1-4.5 1 1.6 1-39.5 1 32 1-10.1 1 5.5 1 10.2 1-8.5 1-.4 1 9.5 1-2.7 1-1.7 1 5 1-13.1 1 4.6 1 .5 1 2.6 1-2.4 1 1.4 1 1.6 1-12.7 1 2.3 1 2 1-10.8 1 8.7 1-13.8 1 1 1-8.8 1-5.5 1 1.7 1 .3 1 11.8 1 .8 1-17.8 1 9.1 1 10.5 1-11.4 1-1 1-5.1 1 15.8 1-14.3 1 15.2 1-5.6 1-1.2 1 .4 1 15.9 1 1.2 1 1.1 1-1.9 1-2.5 1 1.6 1 7.7 1-2.6 1-1.5 1 9.2 1 4.3 1 0 1-5.7 1-3.7 1 7.8 1 3.2 1 .6 1 5.5 1-10.2 1 2 1 0 1 2.8 1-3.9 1-6.1 1-4.1 1 11.2 1-15.1 1-3.3 1 18.1 1-8.7 1-3.2 1-7.2 1-13.7 1-5.5 1 14.5 1-16.6 1 .7 1-.2 1 11.4 1-1.2 1-10.8 1-2.5 1 .6 1 13.2 1 2.4 1-23.3 1 15.1 1-11.2 1 7.9 1-3.5 1 10.7 1 2.7 1-10.1 1 12.2 1-10.6 1 10.9 1-8 1-6.6 1 13 1-.1 1-12.4 1-9.1 1 5.4 1 4.8 1-1.2 1-7.7 1 .6 1 13.8 1 1 1 8.1 1 1.6 1-1.5 1 10.3 1 27.8 1-20.2 1 10.1 1 .3 1 .8 1-10.9 1 6.1 1-4.9 1 10.5 1-12.1 1 9.6 1 3.3 1-10.6 1-1 1 2.9 1-.1 1 9.6 1-13.9 1 8.7 1 7.3 1-12.8 1 .1 1 .1 1-5.3 1-23.6 1 35.5 1-10.8 1 2 1 3.8 1-5.3 1 12 1-1.7 1-14.9 1 13.3 1-1.2 1-10.6 1 6.5 1-13.4 1 9 1 6.9 1-4 1-2.3 1-1.4 1-.2 1 13.6 1-7.8 1-72.3 1 70.6 1 8.7 1 .4 1-3.3 1 6 1 1.1 1-3.7 1 9.3 1-12.4 1 7.7 1-2.5 1-3.5 1-.1 1 4.2 1-5.1 1-9.2 1-5.4 1 11.9 1-1.3 1-2 1 3.3 1-9.5 1 1.4 1-125.5 1 128 1-6.2 1-2.9 1-35.4 1 38.1 1 8.8 1 4.1 1-7.3 1 5 1-62.4 1 60.6 1 0 1 2.8 1-9.7 1-2.6 1-63 1 70.6 1 3.9 1 .6 1-2.7 1 5 1-.5 1 7.8 1-2 1 3.8 1 2.6 1 3.5 1-5.7 1 4.2 1-14.8 1 6.7 1-6.2 1 3.5 1-13.1 1 5.1 1-8.3 1 1.6 1-7.6 1-4.3 1-.4 1-7.8 1 6.7 1-2.9 1-5 1-8 1-2.9 1-1.6 1-4.8 1-5.8 1 8.3 1-2.2 1 3.3 1-9.1 1 8.8 1-2.1 1-10.7 1 1.2 1-3.2 1 .6 1-1 1 1.5 1 1.8 1-3.7 1 11.5 1-6.4 1 .1 1 4.1 1-1.4 1-10.7 1 1.1 1-.8 1 11.3 1-7.7 1 5.3 1-8.6 1 8 1-8.9 1 1 1-9.2 1 12.6 1 4.1 1-5.5 1 6.2 1-10.3 1-1.9 1-6 1-19.7 1-10.1 1-17.2 1-14.4 1-1.5 1 16.4 1 50.7 1 3.7 1-12.3 1-16.7 1 16.7 1 32.8 1 32.8 1 19.8 1-19.5 1-10.4 1-2.6 1-3.4 1 19.7 1 6.7 1 11 1 20.9 1 8.2 1 1.8 1-23.4 1-5.3 1-23.1 1-15 1-2.9 1 24.9 1 6.7 1 23.4 1 15.4 1-1 1-15.7 1-5.4 1 1 1-8.5 1-12.4 1-26.3 1-23.6 1-14.1 1-32.5 1-15.2 1-31.2 1 5.1 1 48.6 1 42 1 33.6 1 33.2 1 5.8 1 12.9 1-2.7 1 5.5 1-.1 1 2.6 1-6.3 1 9.6 1 2.1 1 4.5 1-4.2 1 3.6 1 5.2 1-3.5 1 7.7 1-8.1 1 5.2 1-4.7 1 1.8 1 .6 1-1.8 1-7.1 1 3.3 1-13.6 1-14.4 1-30.7 1-24.2 1-19 1 .7 1 6.8 1 6.8 1-3.6 1-14.9 1-15.8 1-.7 1 68.7 1 46.3 1-.2 1-2.3 1 8.3 1-1.6 1-1.5 1 .7 1-1.3 1 .3 1 5.1 1-10.5 1 8.6 1-1.7 1-4.5 1 3.4 1-2.6 1-2.4 1 9.6 1-7.3 1-4.8 1 5 1 1.4 1-5.8 1 9.6 1 1.8 1-3.8 1 3.4 1-9.9 1-8.3 1 14.5 1 2.9 1-1.5 1-3.8 1 9.7 1-8.8 1-4.6 1 6.6 1 2.4 1-54.9 1 48 1 2.2 1 .6 1-6.5 1 7.4 1-9 1-.2 1 13.6 1 .8 1 .4 1-19.8 1 13 1 1.2 1 3.5 1-5.5 1-2.6 1 4.7 1 2.5 1 2.3 1-4.6 1-1.4 1 4.9 1-2.8 1 0 1 3.1 1-8.3 1 3.4 1-2.8 1-4.9 1 1.8 1 10.9 1 3.1 1-12.9 1 2.4 1 1.8 1 .4 1-7.7 1 7 1-61.9 1 58.3 1 1.3 1 10.1 1-12.6 1-2.7 1-18.6 1 32.1 1-2.5 1-2.6 1-4.1 1 4.1 1-7.2 1-3.4 1-.9 1 2.1 1-4.1 1 2.2 1 9.4 1 1.1 1-2.9 1 2.8 1-5.9 1 6.7 1 .8 1-4.6 1 1.4 1-8.2 1-3.6 1 10.1 1-3.9 1-7.5 1 7.5 1-11.9 1-1.4 1 8.8 1-13.4 1 5.9 1 6.2 1-11.2 1 4.1 1 12 1 5.1 1 10.4 1-6.5 1 10 1-1.8 1 .6 1 .9 1-3.1 1-10.6 1-7 1-24 1-8.5 1-8.8 1-8.9 1-6.3 1-7.3 1-14.7 1-8.5 1-4 1 12.6 1 5.8 1 13.5 1 .7 1 27.6 1 12.2 1 25.2 1 .5 1-2.9 1-15.6 1-7.2 1 6.8 1 10.2 1 2.9 1 6.5 1-3.2 1 1.2 1 8.6 1-2.8 1-4.1 1-3.4 1-2.2 1 5.5 1-2.2 1 1.6 1-3 1 7.4 1-28.9 1 20.6 1-1.4 1 7.7 1-1.3 1-4.4 1 13.6 1-8.3 1-7.6 1 1.5 1 1.2 1-2.3 1 5.2 1-1.5 1-4.7 1 2.5 1 4.2 1-1.4 1 8.2 1-4.5 1-5.8 1 8.8 1-.9 1 .3 1-3.9 1 13.4 1-10.8 1-4.2 1-2.9 1-1.2 1-10.5 1-3.7 1-10.7 1-26.2 1 1.4 1 20.7 1 27.9 1 11.2 1 6.3 1-.9 1-2.5 1-1.9 1 3.9 1-3.5 1-7.8 1 3.8 1 6.7 1-3.9 1 2.5 1-8.9 1 12.7 1-8.3 1-4.1 1 1.2 1 4.9 1 1.5 1-6.8 1-4.3 1 14.4 1-8.4 1-.2 1 5 1-1.3 1 1.7 1 5.3 1-5.9 1-3.4 1 4.5 1 .6 1-15.5 1 2.5 1-10.6 1-3.1 1-1.4 1 7.6 1 6.9 1-6.5 1 4.6 1 1.7 1-.7 1-2.9 1-5.6 1 .3 1-3.5 1 2.6 1-1.9 1 3.7 1-2.8 1 8.6 1-.1 1-6.7 1-7.4 1-1.8 1-2.9 1-.9 1-1.4 1 6.3 1 2.2 1 2.5 1-8.7 1 2.6 1 4.5 1 11.8 1-8.2 1-.8 1-.7 1 11.2 1-5.4 1-.7 1 3.6 1 .6 1 5.5 1-10.7 1 2.1 1 5.2 1 0 1-1.4 1 7.3 1-4.3 1-2.5 1-.1 1 5.8 1-8.8 1 7.6 1 3.5 1-5.4 1-2 1-1.4 1 2.9 1-2.9 1 7.2 1-6.4 1 6.1 1 .1 1-2.7 1 7.2 1 3.7 1-2.8 1-6.7 1-1.5 1 4.8 1-2.2 1-4.2 1 2.6 1 5.3 1-.2 1-.4 1-5.1 1 4.5 1 .3 1 3.2 1 6.9 1 2.4 1-3.2 1 2.2 1-2.6 1-1.8 1 4 1-4.8 1-2.9 1 10.2 1-8.9 1-2.4 1-5.6 1 5.5 1-12.4 1-4.8 1 11.2 1 .6 1-1.8 1 4.9 1 4.6 1-3 1 4.6 1-3.5 1-1.9 1 8.3 1-4.5 1-.9 1 8 1-6.7 1 .4 1-2.7 1 7.4 1-1.7 1-5.8 1 4.9 1-4.2 1 6.2 1 1.9 1 0 1 .8 1-3.2 1-4 1-.2 1 1.6 1 3.6 1-3.8 1-.3 1 4.1 1-.8 1 1.2 1 2.1 1-.9 1-2.4 1-.6 1 7.4 1-4.5 1-2.2 1-2.8 1 10.7 1 1.1 1-9.6 1 2 1 .3 1 9.1 1-2 1-3.4 1 5.3 1-8.5 1-.1 1 11.7 1-11.9 1-.8 1-14 1-2.5 1-2.3 1-8.9 1 2 1 2.1 1-8.5 1 6.4 1-11.4 1 5.3 1-3.5 1-4 1 2.7 1-3.4 1 .8 1 5.2 1-6.4 1 6.2 1 3.1 1 2.7 1-6.7 1-.3 1-7.5 1 7.8 1-2.1 1-2.5 1 3.5 1-3.5 1 3.5 1 4.7 1-.7 1-5.9 1 4.2 1-4.9 1 3.4 1-.7 1-1.3 1-7.8 1 10.4 1-1.8 1 1.5 1-2.6 1-2.1 1-.2 1 3.3 1-9.7 1 7.5 1-11.4 1 5.8 1-.8 1 1.7 1-11.4 1-2.8 1 8.5 1-6 1 14.5 1-3.9 1 5.7 1 .8 1 3.6 1 6.6 1 .8 1 .6 1-.8 1-4.9 1 2.5 1 10.1 1-4.4 1 2.8 1 3.5 1 4.2 1-3 1 7.7 1-1 1-7.6 1 2.5 1-1.2 1 4.1 1 5.2 1-6.7 1-2.8 1 7 1 .1 1-10.5 1 2.1 1-1.7 1 1.5 1-5.7 1 8.8 1-2.8 1 4.7 1-1.9 1 2.7 1-13.7 1 4.8 1-2.8 1 3.9 1-7.2 1 2.2 1 1.7 1-9.3 1 5.8 1 .7 1-11.7 1 6.6 1-12.4 1 6.1 1 .6 1-1.4 1-1.4 1 2.9 1-2.7 1 1.7 1 .6 1 .7 1 3.2 1 .5 1 1.5 1-8.7 1 8.3 1-.3 1-7.5 1 4.4 1 1.5 1-.6 1 1.9 1 1.4 1 2.4 1 3.7 1-1.5 1-8.5 1 9.4 1-7.3 1 7.4 1-1 1-2.3 1-.3 1-1.3 1 5.7 1-5.5 1 1 1-3.5 1-13 1 2.2 1-5.6 1 4.2 1-3 1 1.6 1 5 1-38.6 1 33.1 1-7.9 1 6.6 1 .3 1 2.1 1-11.4 1 2.3 1 5.6 1-2.7 1-3.6 1 10.8 1-13.1 1-.3 1 4 1 6.5 1-2.7 1-2.8 1-2.4 1-2.3 1 2.4 1-8.7 1 5.5 1-9.8 1 7.5 1-5.7 1 7.3 1-2.2 1-12.6 1 3.7 1-7.8 1 2.8 1-5.7 1-12.4 1 27.5 1-.5 1-5.6 1 7.4 1-13.3 1 1.2 1 7.6 1-.2 1-2.3 1 3.2 1-7.9 1 .8 1 6.8 1-1.7 1 1 1-8.3 1-22.5 1 33.6 1-13.5 1 9.8 1 0 1-.3 1-1.5 1 4.5 1 1.7 1-2.7 1-.8 1-.4 1-3.1 1 4.1 1-29.7 1 32.9 1-8.7 1-6.3 1 10.9 1-11.1 1 7 1-5 1 4.7 1-7.6 1 1.4 1 4.2 1 4.2 1-11 1 5 1 7.4 1-11.8 1 12.7 1 4 1-2.3 1-5.9 1-.4 1-.1 1 7.8 1-12.5 1 8 1-6.5 1 1.7 1 2.1 1 2.5 1 2.8 1-6.1 1-22.3 1 28.2 1-8 1 4.1 1-2.2 1-3.7 1 6.6 1-6 1-4.4 1 5 1 5.9 1-20.4 1 12.1 1 5.2 1-1.5 1 5 1-2.8 1-6.9 1 9.3 1 .4 1-4 1-9.2 1 1.8 1 4.8 1 1.4 1 3.8 1-12.3 1 9.9 1 7.2 1-2 1-10.9 1 8.8 1-2.6 1-3.3 1 5.9 1-2.5 1-.8 1 8.9 1-8.1 1-6.7 1 13.5 1-5.2 1 2.1 1-7 1 2.2 1 4.6 1 1.3 1-6.4 1-3.1 1 .5 1 4.9 1 .2 1-1.9 1-4.4 1 8.8 1-8.3 1-3.5 1 4.5 1-.1 1 2.8 1 5.9 1-24 1 21.7 1-5.7 1 1.3 1 8.3 1-24.9 1 18.5 1-.4 1-3 1 4.9 1-4 1 .9 1-15.9 1 17.6 1-4.3 1 15 1-5.7 1-7.4 1 2.7 1-1.7 1 2.1 1 6.2 1-10.9 1 2.7 1 6.1 1-5.1 1 7.1 1 2.3 1-11.1 1 .4 1-.2 1 11.4 1-13.9 1 10.1 1-1.7 1-1.4 1-1.5 1-.4 1 4.9 1-6.9 1 5.9 1 6.7 1 .3 1 4.7 1-6.2 1-2.3 1-4.8 1 1.9 1-1.7 1-2 1 5.3 1-7.5 1 9.2 1-1.5 1-4 1-2.5 1 2.5 1 11.2 1-11.2 1 3.2 1 5.1 1-2.2 1-10 1 5.4 1-1.3 1 5.9 1 .2 1-11.2 1 .8 1 8.8 1-2.8 1-1.7 1-.6 1 1.6 1-5.4 1 2 1 4.9 1-4.2 1 5.8 1-10.7 1-7.2 1 9.6 1 6.9 1-1.5 1-1.3 1-2.2 1 2.1 1-2.5 1-6.7 1 7.9 1-9.5 1 10.8 1 5.6 1-19.2 1 9.4 1 5.9 1-4.1 1-3.2 1 3.5 1 4.4 1 2.4 1 6.5 1-.4 1 12.2 1 3.8 1-4.4 1 3.2 1-3.9 1 6.8 1-7.4 1 3.4 1-7 1 3.2 1 9.3 1-3.6 1 5.2 1-12.3 1-.2 1 10.3 1-12 1-1.4 1-3 1-5.5 1-4.5 1 1.6 1-4.9 1 8 1-10.7 1-.9 1-5 1-7.4 1 1.5 1-5.1" stroke="#000" stroke-width="2.9" fill="none" stroke-linejoin="round"/>
<path clip-path="url(#c5)" d="M263.2 1519.8l.5 .1 .5 0 .5 .1 .5 .1 .5 .1 .5 .1 .5 .1 .5 0 .5 .1 .5 .1 .5 .1 .5 .1 .5 .1 .5 0 .5 .1 .5 .1 .5 .1 .5 .1 .5 .1 .5 1.7 .5 7.5 .5-.5 .5-1.3 .5-1.3 .5-1.3 .5-1.3 .5-1.3 .5-1.3 .5-1.3 .5-1.3 .5-1.3 .5-1.3 .5-1.3 .5-1.3 .5-1.3 .5-1.3 .5-1.3 .5-1.3 .5-1.3 .5-1.3 .5-1.3 .5-1.3 .5-1.3 .5-1.3 .5-1.3 .5-1.3 .5-1.3 .5-1.3 .5-1.3 .5-1.3 .5-1.3 .5-1.3 .5-1.3 .5-1.3 .5-1.3 .5-1.3 .5-1.3 .5-1.3 .5-1.4 .5-1.3 .5-1.3 .5-1.3 .5-1.3 .5-1.3 .5-1.3 .5-1.3 .5-1.3 .5-1.3 .5-1.3 .5-1.3 .5-1.3 .5 9.7 .5-3.5 .5 1.1 .5 13.2 .5-.5 .5-16.2 .5-5.2 .5 14.7 .5 5.5 .5-7.1 .5 11.2 .5-21.9 .5 24.4 .5-15.4 .5-5.2 .5 1.6 .5 8 .5-11.9 .5 16.2 .5-14 .5-3.4 .5 12.3 .5-16.2 .5 14.6 .5-7 .5-8.6 .5 12.9 .5 5.4 .5-17.1 .5 24.5 .5-8.1 .5-19 .5 18.3 .5-1.9 .5 .7 .5 5.7 .5 .1 .5 3.2 .5 8 .5-13 .5-2.5 .5-2.4 .5 16.1 .5-10.8 .5-2.9 .5-7.3 .5 12.3 .5-7.9 .5 17 .5-15.8 .5 13.2 .5-9.4 .5 14.2 .5-2.7 .5-22.4 .5 13 .5-10.4 .5 4.7 .5 12.2 .5-3.8 .5-17.6 .5 3.4 .5 4.3 .5 21.1 .5-19.6 .5 19.8 .5-18.3 .5 12.6 .5 1.9 .5-13.2 .5-1.2 .5 19.4 .5-21.1 .5 12.7 .5-15.1 .5 15.5 .5 3.3 .5-4.6 .5-7.3 .5 4.5 .5 .5 .5-3.1 .5 11.2 .5-6.4 .5-20.7 .5 3.6 .5 16.8 .5-5.7 .5 15.4 .5-4.6 .5 4.6 .5-10.2 .5-3.3 .5-6 .5 21.3 .5-9 .5-7.5 .5 9.7 .5-6.7 .5-6 .5-3.7 .5 11.8 .5 18.2 .5-11.1 .5 5.2 .5-.2 .5 1.1 .5-2.3 .5-6.6 .5 16.1 .5-9.9 .5-14.2 .5 12.9 .5 6.8 .5-5.6 .5-16 .5 15.1 .5-3.1 .5-16.1 .5 2.5 .5 5.6 .5 6.7 .5-6.4 .5 14.3 .5-9.1 .5-.5 .5 8.4 .5-6.8 .5-13.6 .5 13.8 .5 6.6 .5-6.6 .5-3.1 .5 8.9 .5-8.4 .5 7.9 .5-14.1 .5 5.8 .5 14.5 .5-7.3 .5-23.4 .5 9.4 .5 .9 .5-.9 .5 9.3 .5-1.4 .5 13 .5 7.7 .5-23 .5-.9 .5-6.4 .5 17.9 .5-18.8 .5-2.4 .5 24.1 .5-3 .5 8.8 .5-19.2 .5 6.9 .5-11 .5 22.6 .5 .7 .5-15.4 .5-3.2 .5-1.1 .5 21.7 .5-20.8 .5 .7 .5 1.2 .5-3.1 .5-4.3 .5 16.1 .5 4.6 .5-.6 .5-4.7 .5-13.1 .5-4 .5 25.6 .5-24.3 .5 4.1 .5 .6 .5-7.1 .5 20.6 .5-12.4 .5 13.3 .5-8.6 .5 7.1 .5 2.7 .5-25.1 .5 23.3 .5-21.4 .5 16.9 .5-8.8 .5 11.6 .5 .3 .5 5.5 .5-12.3 .5 14 .5-20.5 .5 20.4 .5-9.2 .5 8.3 .5-26.7 .5-2.5 .5 16.3 .5 7.6 .5-.4 .5-13.3 .5 19.5 .5-.7 .5-7.6 .5-14.4 .5 3 .5 17.1 .5-14.2 .5 13.7 .5-10.8 .5 10.6 .5-13 .5 18.8 .5-24.9 .5 7.1 .5 8.2 .5-10.8 .5 8.5 .5-14.5 .5 23.9 .5-6.9 .5 5.2 .5-15.1 .5 28.9 .5-7.8 .5 5.1 .5-11.5 .5 2.6 .5 .8 .5 7.5 .5-19.6 .5 12.9 .5-11.1 .5 7.9 .5 11.5 .5-15.6 .5 13.4 .5-5.7 .5-4 .5 .3 .5-9.2 .5 19.5 .5-21.5 .5 1.1 .5-5.5 .5 16.9 .5-14.6 .5 .4 .5-6.1 .5 2.4 .5 20.2 .5 5.6 .5-11.3 .5-11.8 .5 15.1 .5-13.1 .5-5 .5 33.9 .5-7 .5-15.6 .5 1.3 .5 4.8 .5 16.3 .5 5.1 .5-15.2 .5-23.5 .5 20.7 .5-14.8 .5 3.6 .5-11.4 .5 25.5 .5-6.5 .5-16.2 .5 7.1 .5 6 .5 9.6 .5-16.8 .5 13.7 .5-15.5 .5 29.2 .5-3.1 .5 6.4 .5-30.1 .5 1.6 .5 18.6 .5 7.7 .5-23.9 .5 9.1 .5 11.3 .5-14.5 .5-4.3 .5 19 .5-32.3 .5 8.5 .5 8.8 .5-11 .5 1 .5 3.7 .5 9.6 .5 1.4 .5 5.3 .5 3.4 .5-26.1 .5 5.3 .5 .7 .5 12.1 .5-30.3 .5 9.7 .5 18 .5-10.9 .5 17.4 .5-2.7 .5-1.4 .5-19.1 .5 5.3 .5 3 .5 15.5 .5-18.7 .5 21.4 .5-10.6 .5-4.1 .5 4.9 .5-1.8 .5-3.9 .5-8.6 .5 19.3 .5 4.9 .5-17 .5 .6 .5 13.4 .5-30.8 .5 22.4 .5-23.8 .5 17.3 .5-17 .5 23.9 .5-25.5 .5 11.7 .5 28.2 .5-44 .5 36.7 .5-1.2 .5 8 .5-1.8 .5-28.6 .5 8.9 .5 5.4 .5-6.4 .5-12.2 .5 21.2 .5 9.9 .5-6.6 .5 10.7 .5-9.9 .5 2.9 .5 .1 .5-16.5 .5 5.7 .5 8.7 .5-23.5 .5 7.9 .5-1.3 .5 19.2 .5-24.1 .5 14 .5-11.5 .5 10.3 .5-13 .5 14.3 .5-7.6 .5 1.9 .5 .4 .5-18.4 .5 3.2 .5 14.3 .5-14.2 .5 8.3 .5 4.4 .5-8.7 .5-5.1 .5 17.4 .5-10.1 .5-.4 .5 7.2 .5-15.8 .5 3.7 .5 9.4 .5-6.2 .5 5.9 .5-4.9 .5-10 .5-.1 .5 3.1 .5 4.5 .5 8.8 .5-3.3 .5 1.8 .5-3.3 .5 4.9 .5-3.6 .5 4.5 .5 9.9 .5-15.4 .5-10 .5 20.9 .5-6.4 .5-7.7 .5 17.2 .5-20.3 .5 19.5 .5-4.1 .5 6.5 .5-25.5 .5 15.4 .5-9.4 .5-12 .5 3 .5 16.6 .5-5.7 .5 17.4 .5-9.7 .5-1 .5 17.6 .5-21.5 .5-8.5 .5 18.4 .5-19.6 .5-7.4 .5 26.9 .5-3.8 .5 10.3 .5-4 .5-23.2 .5 7.8 .5 5.8 .5-2.2 .5 23.1 .5-.2 .5-17.4 .5-1.7 .5 10.1 .5-.3 .5 1.4 .5-12.5 .5 7.4 .5-3.3 .5 2.4 .5 8 .5 2.7 .5-24.3 .5-.2 .5 8.6 .5-5.6 .5 15 .5-12.2 .5 18.4 .5-23.1 .5-5.2 .5-1.4 .5 30 .5-20.9 .5 2.4 .5-3.4 .5 20 .5-22.3 .5 .4 .5 18.7 .5-14 .5 9 .5 .8 .5-23.6 .5 20.3 .5 6.5 .5 4.8 .5-29.9 .5 4.5 .5 .1 .5 14 .5-3 .5-4.1 .5-16.6 .5 9.7 .5-2.4 .5 20.5 .5-8.9 .5-10.8 .5 2.4 .5 4.2 .5 12.6 .5-1.8 .5-4.9 .5 7.4 .5-23.5 .5 13.7 .5 12.7 .5 2.1 .5-5 .5 3 .5-20.7 .5 2.3 .5-4 .5 9.9 .5-3.2 .5-6.5 .5 21.2 .5 4 .5-8.9 .5-8.9 .5 4 .5 3.6 .5 4.7 .5-.7 .5 3.4 .5-11.8 .5-2.4 .5-3.1 .5 13 .5-8.2 .5-1.4 .5 16.4 .5 3.4 .5-2.1 .5-8.2 .5-10.5 .5 16.5 .5-.9 .5-19.8 .5 11.8 .5-6.7 .5-8.7 .5 23.5 .5 .3 .5-11.1 .5 1.6 .5-.6 .5 1.9 .5-10.2 .5 23.1 .5-10 .5 6.4 .5-11.6 .5 21.5 .5-19.4 .5 18.4 .5-3.1 .5-15.9 .5 3.6 .5 0 .5 13.2 .5-21.2 .5 9.2 .5-4.6 .5 13 .5-1.2 .5 4.1 .5-1.8 .5-10.5 .5 17.4 .5-15.7 .5-.8 .5 10.7 .5-13 .5 4.9 .5-8.1 .5 16.1 .5-12.3 .5 14.1 .5-3.6 .5 5.8 .5-1.2 .5-4 .5-7 .5-.4 .5 13.4 .5-6.7 .5-13.6 .5-1 .5 15.9 .5-7.2 .5-5.3 .5 5.5 .5 12.3 .5-19.4 .5 1 .5 16.7 .5-18 .5 10.9 .5 5.5 .5-14.5 .5 8.8 .5-6.3 .5 9.8 .5-6.6 .5-3.5 .5 11.2 .5-10.7 .5 11.4 .5 1.4 .5 .7 .5-9.2 .5 5.8 .5-9.6 .5 13.4 .5-1.3 .5-14.1 .5-1.7 .5 14.5 .5 6.6 .5-1.2 .5-1.1 .5-1.2 .5-1.2 .5-1.1 .5-1.2 .5-1.2 .5-1.1 .5-1.2 .5-1.2 .5-1.1 .5-1.2 .5-1.2 .5-1.1 .5-1.2 .5-1.2 .5-1.1 .5-1.2 .5-1.2 .5 .3 .5 1.6 .5 4.8 .5 4.6 .5 3.4 .5 3.6 .5-13.4 .5 6.9 .5 11.7 .5-14.8 .5 8.5 .5 2 .5-9 .5 16.7 .5-.2 .5 1.4 .5-20.8 .5 11.6 .5-12.5 .5 14.8 .5-14.9 .5 1.3 .5 .7 .5-5.3 .5 14.7 .5 3.9 .5-6.8 .5-9.3 .5 2.8 .5 6 .5-1.2 .5-1.2 .5 4.3 .5-4.1 .5-2.6 .5-6.7 .5-3.4 .5 17.6 .5-13.2 .5 .8 .5 5.3 .5-7.8 .5 11.2 .5-5 .5-3.2 .5 4.6 .5-9.8 .5 13 .5-.6 .5-12.3 .5 18.3 .5-6.5 .5 6.1 .5-3.7 .5-5.9 .5 5.5 .5-10.4 .5 13.9 .5-.9 .5 6.1 .5-17 .5-5.9 .5 4.4 .5 13.8 .5-15.9 .5 .6 .5 5.7 .5 2.3 .5-6.5 .5 12.3 .5-9.4 .5 2.4 .5-3.1 .5 9.6 .5-4.1 .5 2.8 .5 2.2 .5 .7 .5-9.5 .5 1.8 .5-7.7 .5 12.3 .5 11.7 .5-2.8 .5-20.2 .5 11.1 .5-13.3 .5 5.4 .5 18.4 .5-8.3 .5-7.3 .5 16.9 .5-6.7 .5-16 .5 23.9 .5-8.6 .5-11.3 .5-.2 .5 10.6 .5-13.1 .5 8.7 .5-1.3 .5 8.3 .5-9 .5-5.6 .5-.2 .5 16.8 .5-5.8 .5 7.2 .5-17.6 .5 13.1 .5-2.6 .5-14.5 .5 .8 .5 16 .5-2.4 .5-20.8 .5 10 .5 12.5 .5-20.5 .5 13.8 .5 7.6 .5-10.8 .5 .8 .5-2.4 .5 .9 .5 2.6 .5-3.7 .5 11.9 .5-2.7 .5 1.4 .5 3.2 .5-3.8 .5 7.5 .5-15.2 .5 4.6 .5 3 .5-3.9 .5-5 .5 10.5 .5 1.7 .5-.9 .5-10.4 .5 7.9 .5 7.2 .5-11.3 .5 7.8 .5-14.5 .5 11.8 .5 2.5 .5 2.7 .5-3.4 .5-12.5 .5 4.9 .5 2.9 .5-5 .5 6.4 .5 1.6 .5-10 .5 6.3 .5-1.2 .5-8.3 .5 4.6 .5 1.3 .5 9.6 .5-11.6 .5 9.6 .5-11.4 .5 6 .5-.8 .5 8.5 .5-1 .5 .6 .5-15 .5 13.2 .5 2.7 .5-12.8 .5-3.5 .5 12.6 .5 2.3 .5-9.9 .5 12.3 .5-9 .5 9.9 .5 7.4 .5-15.8 .5 3.1 .5 12.1 .5-5.9 .5-7 .5 15.1 .5-5.7 .5-12.2 .5-2 .5-14.1 .5 7.1 .5-5 .5 5.5 .5 8.9 .5 .1 .5-9.1 .5-2.3 .5 12.6 .5 1 .5 3.7 .5-.3 .5 6.9 .5-13.8 .5 2 .5 7.7 .5-16.2 .5-2.4 .5 3.2 .5 12.1 .5-7.1 .5 7.8 .5-9.8 .5-5.1 .5 9.5 .5-.6 .5-.4 .5-3.3 .5-2.1 .5 9 .5 4.2 .5-10.9 .5 2 .5-4.2 .5 14.5 .5 0 .5-17.5 .5 15.9 .5 1.3 .5 1.1 .5-16.8 .5 3.5 .5-3.1 .5 1.9 .5 11.9 .5 5.9 .5-.4 .5-16.2 .5 3.4 .5 9 .5-7.9 .5 4.9 .5-1.3 .5 5 .5-1.7 .5-9.5 .5-3.4 .5 18.7 .5-8.1 .5-9.7 .5 12 .5-14.8 .5 .3 .5 2 .5-1.9 .5 20.2 .5-4.8 .5 4.7 .5-7.5 .5 5.2 .5-.9 .5 2.6 .5-19.1 .5 19.1 .5-14.9 .5-1.1 .5 12.5 .5-1.4 .5-7.5 .5-6.3 .5 1.9 .5 9.3 .5-3.5 .5-6.6 .5-4.3 .5-1.3 .5 15.8 .5-3.7 .5-10.4 .5 6.1 .5 7.9 .5-4.3 .5 3.1 .5-7 .5 8.8 .5-4.3 .5 0 .5-4.9 .5 7.1 .5-9.2 .5 17.3 .5-19.6 .5 12.7 .5-1.2 .5-11.3 .5 12.8 .5-.2 .5-8.7 .5 14.3 .5-12.5 .5 11.3 .5-6 .5-3 .5-2 .5 2.3 .5-1.5 .5 1.7 .5-3.2 .5 15.1 .5-8.4 .5-12.9 .5 2.3 .5-3.1 .5 5.6 .5 10.1 .5-13.3 .5 4.5 .5-4.1 .5 5.7 .5-5.8 .5 19.9 .5-.1 .5-3.4 .5-13.8 .5-1.3 .5 12.9 .5-3.3 .5 6.8 .5-1.8 .5 .4 .5 1.6 .5-13.8 .5 9.5 .5-7.2 .5-5.7 .5 16.8 .5-8.1 .5-3.1 .5-5.8 .5 11.6 .5-12.5 .5 18.8 .5-14.7 .5 3.3 .5-4.1 .5-11.7 .5 22.6 .5-20.8 .5 19.2 .5-3.2 .5 9.7 .5-11.2 .5 4.1 .5 2.4 .5-3.2 .5 3.7 .5-15 .5 7.4 .5-1.9 .5 6 .5-4.7 .5-5.3 .5 15.8 .5-9.1 .5-7.3 .5 16 .5-10.7 .5-5.5 .5 1.5 .5 5.3 .5 5 .5-1.2 .5-9.2 .5-5.6 .5 1.1 .5 17.6 .5-6.9 .5 4.7 .5 9.1 .5-4.7 .5-5.3 .5 1.1 .5 8.3 .5-10.5 .5-4.6 .5 11.6 .5-5.5 .5-1.8 .5-7.4 .5 6.1 .5-7.1 .5 1.2 .5 5.4 .5 1.8 .5-3.8 .5-1 .5 7.3 .5-3.6 .5 1.9 .5-8.4 .5 .9 .5 13.9 .5-9.8 .5-6.3 .5 2.1 .5 3.2 .5 .1 .5 15.6 .5-10.8 .5-7 .5 6.7 .5-9.1 .5 17.5 .5-4.5 .5-3.5 .5 12.2 .5-2.5 .5-3.7 .5-11.9 .5 .2 .5 17.6 .5-10.1 .5-1.2 .5-7.8 .5 4.2 .5 11.5 .5-2.8 .5-18.4 .5 8.5 .5 3.5 .5-3.9 .5-9.4 .5 2.9 .5-2.2 .5 11.3 .5 5.4 .5-5.3 .5-16.7 .5 20.3 .5-14.9 .5 1.6 .5-8.6 .5 3.1 .5-3.8 .5 11.4 .5 11.6 .5 6 .5-19.8 .5 19 .5-3.7 .5 2.7 .5-4.8 .5-9.5 .5 19.1 .5-1.2 .5-16.3 .5 7.7 .5-.1 .5-13.3 .5 7.3 .5-7.3 .5 1.1 .5 8.6 .5-10 .5 4.6 .5 13.1 .5-5.2 .5 7 .5-7.5 .5-.9 .5 1 .5 .6 .5-3.1 .5-4 .5 17 .5-15.3 .5 .1 .5-.5 .5-10.5 .5 13.1 .5-6.5 .5 8.2 .5-14.1 .5 12.8 .5-5.9 .5 3 .5-16.7 .5 19.2 .5-.4 .5-10.2 .5 13.2 .5-11.8 .5 4 .5-2.3 .5 1.4 .5 15.4 .5-4.4 .5-9.9 .5-4 .5 3.3 .5 5.9 .5 7.1 .5 2.2 .5 1.1 .5-16 .5 .8 .5 1.5 .5 14.7 .5-9.5 .5 16.1 .5-9.2 .5-12.7 .5 14.5 .5-5.6 .5-14.7 .5 14.1 .5-9.8 .5 9.8 .5 8.5 .5 3.1 .5-18 .5 4.4 .5-10.3 .5 16.5 .5-1.5 .5-9.2 .5-2.3 .5 9.5 .5-10.6 .5-4.5 .5 1.9 .5 4.3 .5 14.4 .5-3.7 .5 2 .5-5 .5-10.2 .5 1.5 .5 3.2 .5 7.2 .5-2 .5-2.2 .5-4.7 .5 3.5 .5 11 .5-13.3 .5 .8 .5 3.9 .5-3.1 .5-4.1 .5-2.1 .5 .2 .5 4.3 .5 10.5 .5-9.3 .5 9.2 .5-15.7 .5 15.3 .5 1.3 .5-10.8 .5-.1 .5-4.2 .5 3.8 .5 12.7 .5-7.8 .5-8.5 .5 6.3 .5 1.2 .5-4.6 .5-1.3 .5 5.7 .5 3.6 .5-4.1 .5 7.2 .5 7.1 .5-11.9 .5-7.1 .5 .3 .5 .8 .5 9.1 .5-13.5 .5 3.6 .5-5.2 .5 14.3 .5-9.6 .5 4.1 .5 10.7 .5-9 .5 13.7 .5-7.7 .5-1 .5-12.1 .5 .5 .5 10.8 .5-4.8 .5 9.4 .5-2.8 .5 1 .5-3.4 .5-10.4 .5 15.8 .5-3 .5-6 .5 2.2 .5 10.9 .5-3.6 .5-13.3 .5 11.6 .5 6.8 .5-17.5 .5-6 .5 14.7 .5 2.9 .5-10.7 .5-7.2 .5 5.8 .5 1.6 .5-4.5 .5-9.6 .5 12.4 .5 10.8 .5-8.3 .5-6.8 .5 15.2 .5-14.1 .5 10.2 .5 .3 .5-13.3 .5 17 .5-3.8 .5-4.4 .5-2 .5 7.3 .5-20.6 .5 6.6 .5 19.6 .5-20.7 .5 8.8 .5-7.8 .5 17.3 .5-11.9 .5-1 .5 1.8 .5 15.3 .5-15.4 .5 5.8 .5-9.1 .5 15.9 .5-3 .5-19 .5 21.1 .5-6.2 .5-5.9 .5-9.7 .5 13.8 .5-1.6 .5-.2 .5-11.7 .5 .1 .5 9.3 .5-5.3 .5 13.1 .5-13.5 .5 16.1 .5-13.6 .5 13.5 .5-12.9 .5 19.2 .5-13.8 .5 8.5 .5-.2 .5-7.4 .5 7.5 .5-6.1 .5-3.2 .5 7.9 .5-4.8 .5 9.4 .5-2.7 .5 1.4 .5-5.2 .5-7.1 .5 .1 .5 12.3 .5-1.8 .5 .7 .5-16.7 .5 5.7 .5 9.2 .5 0 .5 1.8 .5-2.7 .5-5.3 .5-6 .5 6.3 .5 4.6 .5-3.8 .5-10.8 .5 2.8 .5 2 .5 6 .5 .6 .5-3.3 .5-1.4 .5 1 .5 5.5 .5-7.7 .5 10.4 .5-5.2 .5-5.8 .5 4 .5 3.3 .5 7.3 .5-1.7 .5-8.3 .5 14.7 .5-1.3 .5-2.3 .5-13.1 .5-4.9 .5 12.7 .5-10.2 .5-5.8 .5 11.1 .5 1.9 .5 3.5 .5 0 .5-5.4 .5-4.3 .5-3.9 .5 9.6 .5-1.6 .5 4.3 .5 3.1 .5 2.1 .5-10.5 .5 5.2 .5 9.1 .5-3 .5-2.8 .5-17.6 .5-.4 .5 8.5 .5 6.1 .5 1.5 .5-12.5 .5 20.1 .5-10.2 .5-.1 .5-4.5 .5 2.7 .5 10.2 .5 4.6 .5-7.9 .5-9.2 .5 3.3 .5 5.5 .5-.2 .5-10 .5-5.5 .5 11 .5-11.2 .5 4.5 .5-8.3 .5 12.3 .5 6.3 .5-6.4 .5 3.8 .5-16.3 .5-4.1 .5 3.2 .5-1.9 .5 6.4 .5 2 .5-1.9 .5 6.4 .5-.7 .5 7.9 .5-19.9 .5 15.3 .5-14.5 .5 17.7 .5 5.1 .5-10 .5-.6 .5-9.1 .5 7.7 .5-.9 .5-5.4 .5 10.8 .5-14.6 .5 2.4 .5 6.9 .5-10.9 .5 4.1 .5 9.6 .5 1.8 .5 11.1 .5 1.3 .5-.7 .5 3.7 .5-9.9 .5 .3 .5 1.4 .5-1.2 .5 3.1 .5-3.1 .5-13.6 .5 10.2 .5-7.8 .5-11.4 .5 6.7 .5-3.2 .5 17.9 .5-1.3 .5 .4 .5-3.2 .5-5.7 .5-1.8 .5 6.3 .5-12.6 .5 20.5 .5-15.5 .5-7 .5 4.8 .5 14.7 .5-10.7 .5-10.8 .5 6.2 .5 5.7 .5 0 .5 0 .5 0 .5 0 .5 0 .5 0 .5 0 .5 0 .5 0 .5 0 .5 0 .5 0 .5 0 .5 0 .5 0 .5 0 .5 0 .5 0 .5 0 .5 0 .5 0 .5 0 .5 0 .5 0 .5 0 .5 0 .5 0 .5 0 .5 0 .5 0 .5 0 .5 0 .5 0 .5 0 .5 0 .5 0 .5 0 .5 0 .5 0 .5 0 .5 0 .5 0 .5 0 .5 0 .5 0 .5 0 .5 0 .5 0 .5 0 .5 0 .5 0 .5 0 .5 0 .5 0 .5 0 .5 0 .5 0 .5 0 .5 0 .5 0 .5 0 .5 0 .5 0 .5 0 .5 0 .5 0 .5 0 .5 0 .5 0 .5 0 .5 0 .5 0 .5 0 .5 0 .5 0 .5 0 .5 0 .5 0 .5 0 .5 0 .5 0 .5 0 .5 0 .5 0 .5 0 .5 0 .5 0 .5 0 .5 0 .5 0 .5 0 .5 0 .5 0 .5 0 .5 0 .5 0 .5 0 .5 0 .5 0 .5 0 .5 0 .5 0 .5 0 .5 0 .5 .8 .5 1.2 .5 1.2 .5 1.2 .5 1.2 .5 1.2 .5 1.2 .5-.4 .5-.7 .5-.7 .5-.8 .5-.7 .5-.7 .5-.8 .5-.7 .5-.7 .5-.8 .5 0 .5 .5 .5 .5 .5 .5 .5 .5 .5 .5 .5 .5 .5 .5 .5 .5 .5 .5 .5-2.8 .5-6.6 .5 2.2 .5 10.3 .5-5.7 .5-4.3 .5 3.4 .5 5.5 .5-2.5 .5-5.8 .5 9.7 .5 2.7 .5-4 .5 1.8 .5-.4 .5-12.8 .5 3.5 .5 12.2 .5 2.5 .5-.6 .5-15 .5-.2 .5 6 .5 8.9 .5-12 .5 10.8 .5-5.8 .5 4.1 .5-2.9 .5-4.1 .5-11.3 .5 4.3 .5 9.2 .5 3.2 .5-4.7 .5-10.6 .5 8.8 .5-3.9 .5-3.1 .5 10.3 .5 1.1 .5 4.5 .5-11.4 .5 5.1 .5 4.6 .5-15.2 .5 1.8 .5 3.8 .5 9.3 .5-4.8 .5-11.2 .5 2 .5-3.9 .5 10.4 .5-8.3 .5 6.6 .5 9 .5-5.2 .5 4.9 .5 1.8 .5-6.5 .5 2.3 .5-11 .5 14.1 .5-3.8 .5-8.2 .5 2.9 .5 9.4 .5-2 .5-4.4 .5-5.5 .5 3.3 .5 11.8 .5-7.2 .5-7 .5 5.9 .5-3.3 .5-1.6 .5 12.4 .5-6 .5-9.1 .5-4 .5 14.6 .5-12.9 .5-2 .5 9.3 .5 2.1 .5 .2 .5 .3 .5 .3 .5 .3 .5 .3 .5-2.9 .5-5.5 .5 3.2 .5-3 .5 8.9 .5 5 .5-9.5 .5 8.3 .5-7.5 .5-3.6 .5-.2 .5-.3 .5 6 .5-4.2 .5 5.8 .5-5.8 .5 7.9 .5 5 .5-12.7 .5 1.5 .5 11.4 .5-2.6 .5-.4 .5-11.2 .5 .6 .5 8.5 .5-1.8 .5 4.4 .5-13.9 .5 6.7 .5 0 .5-6.1 .5 3.6 .5 8.4 .5-4.4 .5-6.2 .5-1.2 .5 12.1 .5 1 .5 4.8 .5-8.8 .5-7.1 .5 11.6 .5 5.7 .5-3.5 .5-13 .5-2 .5 2.4 .5-3.7 .5 13.8 .5-6.2 .5-10.5 .5 2.6 .5 13.2 .5-.9 .5-13.1 .5 7.4 .5-.9 .5 2 .5 4.9 .5 2 .5-13.2 .5 18 .5-1.1 .5-12.7 .5 11.3 .5 0 .5-10 .5 11.3 .5-8.4 .5 10.8 .5-7.3 .5-5.5 .5-10.2 .5 8.6 .5 2.1 .5-1.6 .5 5.4 .5-20.8 .5 4.1 .5 12.3 .5 .9 .5-8.6 .5-3.8 .5 1.1 .5 5.3 .5-1.7 .5 0 .5 .1 .5 0 .5 0 .5 0 .5 .1 .5 0 .5 0 .5 0 .5 0 .5 .1 .5 0 .5 0 .5 0 .5 .1 .5 0 .5 0 .5 0 .5 .1 .5 0 .5 0 .5 0 .5 .1 .5 0 .5 0 .5 0 .5 .1 .5 0 .5 0 .5 0 .5 .1 .5 0 .5 0 .5 0 .5 0 .5 .1 .5 0 .5 0 .5 0 .5 .1 .5 0 .5 0 .5 0 .5 .1 .5 0 .5 0 .5 0 .5 .1 .5 0 .5 0 .5 0 .5 .1 .5 0 .5 0 .5 0 .5 0 .5 .1 .5 0 .5 0 .5 0 .5 .1 .5 0 .5 0 .5 0 .5 .1 .5 0 .5 0 .5 0 .5 .1 .5 0 .5 0 .5 0 .5 .1 .5 0 .5 0 .5 0 .5 .1 .5 0 .5 0 .5 0 .5 0 .5 .1 .5 0 .5 0 .5 0 .5 .1 .5 0 .5 0 .5 0 .5 .1 .5 0 .5 0 .5 0 .5 .1 .5 0 .5 0 .5 0 .5 .1 .5 0 .5 0 .5 0 .5 .1 .5 0 .5 0 .5 0 .5 0 .5 .1 .5 0 .5 0 .5 0 .5 .1 .5 0 .5 0 .5 0 .5 .1 .5 0 .5 0 .5 0 .5 .1 .5 0 .5 0 .5 0 .5 .1 .5 0 .5 0 .5 0 .5 0 .5 .1 .5 0 .5 0 .5 0 .5 .1 .5 0 .5 0 .5 0 .5 .1 .5 0 .5 0 .5 0 .5 .1 .5 0 .5-.1 .5 1.8 .5-1.3 .5 12.5 .5-11 .5 6.5 .5 3.6 .5 .6 .5 1.3 .5-5.6 .5-4.5 .5-2.4 .5 2 .5-10.9 .5 5.9 .5 10.7 .5-15 .5 18.1 .5-13.5 .5 14.2 .5-9 .5 8.6 .5-9 .5-4.7 .5 17.2 .5-13.3 .5 3.1 .5 0 .5 3.7 .5 6.1 .5 1.7 .5 .6 .5-5.1 .5-10.5 .5 13.1 .5 1.7 .5-16 .5-4 .5 9.1 .5 2.2 .5-8.9 .5 3 .5 5.2 .5-1.4 .5 6.3 .5-15 .5 16.5 .5-.7 .5 2.3 .5-9.6 .5 5.6 .5-3.6 .5-10.2 .5 15.2 .5-1.9 .5-4.5 .5-9 .5 17.5 .5-9.5 .5 9.6 .5-16.9 .5 1.8 .5 .7 .5 8.8 .5-8.2 .5 4.9 .5-5.6 .5 8.4 .5 .7 .5-13.5 .5 3.4 .5 10.3 .5 1.7 .5 2.4 .5-6.3 .5 5 .5-13.1 .5-3.8 .5 6.9 .5-.8 .5 2.6 .5 8.7 .5-1.3 .5 3.9 .5-9.4 .5-5.5 .5-5.8 .5 19.3 .5-7.5 .5 2.9 .5 3.6 .5-12.6 .5 11.5 .5-9.1 .5-3.7 .5 6.9 .5-4 .5 3.8 .5-3.6 .5 3.2 .5 4.5 .5-10.2 .5 14 .5-.1 .5-1.3 .5-5.5 .5-7.4 .5 5.1 .5 6.2 .5-6.2 .5 1.1 .5-1.4 .5 .7 .5-13.7 .5 12.1 .5 11.1 .5-11.7 .5-5.6 .5 2.1 .5-2 .5 5.3 .5 9.5 .5-13.9 .5 12.6 .5-12.5 .5 13.1 .5-1.9 .5-4.5 .5 7.2 .5-3.6 .5-6.1 .5 10.6 .5-10.4 .5 4.6 .5-2.9 .5 10.3 .5-1.8 .5-3.6 .5-1.9 .5 3.1 .5 5.9 .5-17.9 .5 5.7 .5-1.1 .5 5.3 .5 .2 .5 5.8 .5 3.6 .5-11.4 .5 10.8 .5-11 .5-2.4 .5-.1 .5-6.1 .5 6.1 .5 3.5 .5-5.2 .5 7 .5 1.2 .5 .6 .5-15.5 .5 11.4 .5 5.3 .5-17.1 .5 4.8 .5 13.4 .5-9.3 .5 3.5 .5 11.2 .5-7.1 .5-11.8 .5-.9 .5 5.4 .5 12.7 .5-11.1 .5 9.7 .5 1.7 .5-15.1 .5 13.6 .5-7.9 .5 2.2 .5 10 .5-15.7 .5 7.4 .5-6.3 .5 .5 .5-3.4 .5 .2 .5 11 .5-.7 .5-12 .5 14.4 .5-7.5 .5 0 .5 .1 .5-4.8 .5 12.5 .5 3.2 .5-3.5 .5-17.5 .5 15.3 .5-7.1 .5-6 .5-.7 .5 10.1 .5 3.4 .5-10.1 .5 13.4 .5-2 .5-14.5 .5 14.6 .5-17.8 .5 15 .5 1.9 .5-11.9 .5-1.1 .5-.5 .5 7.6 .5-10.4 .5 8.9 .5 8 .5-5.2 .5-6.7 .5 .4 .5 2 .5-.5 .5 1.3 .5 6.8 .5-10.6 .5 9.3 .5-3.1 .5-3.4 .5 11.2 .5-7 .5 2.9 .5 4.5 .5-9.8 .5 9.1 .5 0 .5-12.7 .5-1.9 .5 15.6 .5-10.2 .5 6.3 .5-.9 .5 1.7 .5 2 .5-1.7 .5-1.9 .5 7.4 .5-9.9 .5 .7 .5 9.1 .5-9.6 .5-7.9 .5-2 .5 6.7 .5-2.8 .5 .3 .5 6.3 .5-6.7 .5-6.5 .5 5.1 .5-4.4 .5 2.2 .5 15.5 .5-4.2 .5-11 .5 3.2 .5 7.2 .5 5.5 .5 1.2 .5 .3 .5-1 .5-5.5 .5 4.6 .5-10.5 .5 9.4 .5-10.9 .5 8.5 .5-9.9 .5 3.1 .5 12.7 .5-24.3 .5 15.6 .5-9.7 .5 15.7 .5-5 .5-7.1 .5 2.3 .5 10 .5 .4 .5-17.2 .5 5.7 .5 1.8 .5 1.8 .5 8.3 .5-15.7 .5-4.4 .5 19.2 .5 3.7 .5-4.6 .5-9.3 .5-1.7 .5 14.1 .5-6.8 .5-7.3 .5 3.3 .5 5.4 .5-4.5 .5 7.9 .5-21 .5 4.2 .5 11.6 .5 1.7 .5-6.5 .5 3.8 .5 .9 .5-9.4 .5-.5 .5 10.7 .5-8.8 .5 7.3 .5 3.7 .5 .6 .5-3.4 .5-3.7 .5-5.5 .5 2.1 .5-.2 .5 13.2 .5-14.9 .5-.5 .5 .2 .5 .3 .5 .3 .5 .3 .5 .3 .5 .3 .5 .3 .5 .2 .5 .3 .5 .3 .5 .3 .5 .3 .5 .3 .5 .3 .5 .2 .5 .3 .5 .3 .5 .3 .5 .3 .5 .3 .5 .3 .5 .2 .5 .3 .5 .4 .5-.3 .5 6.5 .5-8.9 .5 5.6 .5-6.8 .5-9.4 .5 9.6 .5 8.7 .5-10.7 .5 4.4 .5 8.8 .5 4.3 .5-8.8 .5 .6 .5 1.3 .5-4.7 .5-.2 .5-9.9 .5 21.2 .5-13.8 .5-4.6 .5 19.8 .5-.6 .5-17.3 .5 16.4 .5-18.4 .5-4.7 .5 .6 .5 .5 .5 .6 .5 .6 .5 .5 .5 .6 .5 .5 .5 .6 .5 .6 .5 .5 .5 .6 .5 .6 .5 .5 .5 .6 .5 .5 .5 .6 .5 .6 .5 .5 .5 .6 .5 .6 .5 .5 .5 .6 .5 .5 .5 .6 .5 .6 .5 .5 .5-1.3 .5-3.9 .5-4.6 .5 19.1 .5-5.3 .5 7.2 .5-7.3 .5-13.5 .5-7.2 .5 7.8 .5 5.2 .5 1.8 .5 6.5 .5-2.5 .5-.2 .5 .4 .5-7.6 .5-5.1 .5 18.1 .5-20.6 .5 6.5 .5 14.7 .5-10.4 .5-6.7 .5 18.5 .5-1.6 .5-1.6 .5-7.2 .5-12 .5 8.3 .5-7.2 .5 7.1 .5-9.6 .5 21.5 .5-7.1 .5-7.3 .5 1 .5 11.7 .5-3.3 .5-21.4 .5 10.1 .5 11.6 .5 1.1 .5-8.7 .5-10.8 .5 10 .5 7.5 .5 1.8 .5-17.1 .5 19.5 .5-4.4 .5-5.8 .5 3.9 .5-4.5 .5 .8 .5 7.6 .5-2.9 .5 4 .5 6.7 .5-22.4 .5 10 .5 7.3 .5-6.7 .5 10.6 .5-18.4 .5 3.7 .5 6.2 .5-.1 .5-2.9 .5-5.8 .5 8.4 .5-16.2 .5 3.1 .5 6.5 .5-.7 .5-7.8 .5 9.7 .5-4.7 .5 4.7 .5-2.5 .5-1.6 .5 2 .5 8.4 .5-10.8 .5 11.9 .5-2.6 .5-9.3 .5 13.1 .5-8.5 .5-7.8 .5-3.5 .5 4.2 .5 2.3 .5 3 .5 11.9 .5 .7 .5-17.4 .5 6.5 .5-2.8 .5 20.1 .5-22.3 .5 19 .5-17.6 .5 14 .5 7.5 .5-21.8 .5 17.3 .5-12 .5 3.6 .5 2.9 .5-10.8 .5 16.1 .5-2.7 .5-8.1 .5-10.2 .5 13 .5-8.8 .5 19.5 .5-19.1 .5-1.8 .5 5.4 .5-9.5 .5 7.7 .5 16.2 .5-18.8 .5-2.4 .5-4.6 .5 4.7 .5 18 .5-4 .5 .3 .5-10.3 .5 8.7 .5-15.6 .5 13.5 .5-3 .5-.2 .5 4 .5-15.2 .5 10.2 .5-.1 .5-8.1 .5-.4 .5 1 .5-6.2 .5 14.9 .5-4.9 .5 10.5 .5-15.8 .5 7.7 .5 2 .5 5.1 .5-10.4 .5-1 .5 9.9 .5-7.2 .5 9.1 .5-10 .5 4.2 .5-9.2 .5-2.3 .5 16.1 .5-2.2 .5-6.5 .5 4.2 .5 12.8 .5-17.8 .5 10.3 .5-8.7 .5 15.1 .5-6.3 .5 3.5 .5 3.7 .5-14.8 .5 8.4 .5-2.3 .5-2.3 .5-5.7 .5 18.1 .5-15.8 .5 6.4 .5 1.8 .5-16.9 .5 21.2 .5-16.9 .5-.3 .5-1.1 .5 18.6 .5 1.2 .5-18.7 .5 1.3 .5-4.3 .5 10.8 .5-9.4 .5-2.6 .5 7 .5 11 .5-3.1 .5-15.7 .5 2.5 .5 17.7 .5-12.7 .5-4.2 .5-6.6 .5-1.3 .5 1.5 .5 11.7 .5 3.5 .5-1.3 .5 9.9 .5-14.9 .5-10.2 .5 25.1 .5-5.2 .5 4.1 .5-3.5 .5 1.2 .5-13 .5-2.9 .5 11.5 .5 6.2 .5-16 .5 17 .5-5.2 .5 3.9 .5 .1 .5-17.2 .5 13.8 .5-12.9 .5 10 .5-6.7 .5 5.8 .5 4.6 .5-3 .5-5.7 .5 9.9 .5-8.8 .5 1.8 .5 17.6 .5-22.1 .5 2.8 .5 7 .5-.4 .5-1.2 .5 2.4 .5-10.8 .5 11.7 .5-5.8 .5-5.4 .5 5.1 .5 8.9 .5-1.9 .5-12.2 .5-2.1 .5-1.1 .5-.3 .5 8.2 .5 11.5 .5-17.7 .5 .5 .5 15.4 .5-19.8 .5-10.5 .5 2.4 .5 2.4 .5 2.4 .5 2.3 .5 2.4 .5 2.4 .5 2.4 .5 2.3 .5 2.4 .5 2.4 .5 2.4 .5 2.3 .5 2.4 .5-4.9 .5-2.7 .5 1.9 .5 3.1 .5-12 .5 6.9 .5-.6 .5 .6 .5-1.6 .5-1 .5 2.6 .5-2.6 .5 .8 .5-3.9 .5 17.4 .5 1.2 .5-2.6 .5-4 .5-3.2 .5-3.4 .5-3.2 .5 17.2 .5-16.8 .5 16.5 .5-7.6 .5 5 .5-13.4 .5 11.4 .5-6 .5 11.7 .5-9.6 .5-1.9 .5 10.6 .5 3.2 .5-10.7 .5 2.4 .5 6.3 .5-7.5 .5 14.3 .5-18.7 .5 1.4 .5 2.4 .5 3.9 .5 5.4 .5-2.4 .5-3.5 .5-3.7 .5-1.5 .5-9.2 .5 20.6 .5-20.2 .5 5.2 .5 6.9 .5-3.7 .5 .8 .5-10 .5 8.4 .5-.1 .5 9.1 .5 2.3 .5-6.4 .5-5 .5 7.6 .5-6.3 .5-1.6 .5 7.2 .5 7.7 .5-15 .5 3.2 .5 5.5 .5 4.2 .5 .8 .5-1.8 .5-10.8 .5 8.6 .5 1.4 .5-14.7 .5-2.5 .5 17.8 .5-4 .5-15.7 .5 5.7 .5 15.9 .5-6.9 .5 3.9 .5-10.7 .5 11.5 .5-12.6 .5 .1 .5 1.6 .5 4.6 .5-10.2 .5 6.6 .5 7.8 .5-14.9 .5 5.2 .5 7.3 .5-14.9 .5-2.6 .5 8.8 .5-6.4 .5 11.6 .5-4.1 .5 9.3 .5-3.4 .5 5.8 .5 8.4 .5-25.1 .5 5.1 .5 1.6 .5 3.7 .5-9.1 .5 7.7 .5-9.5 .5 11.4 .5-3.8 .5-9.9 .5 15.4 .5-17.6 .5 10.3 .5-.5 .5 3.3 .5-18.5 .5 10.3 .5 7.7 .5-4.2 .5-4.4 .5 6.8 .5-.7 .5-2.5 .5-3.1 .5-2.9 .5 5.8 .5 9.7 .5-16.7 .5 15.6 .5 .2 .5-13.5 .5 2.4 .5 3.5 .5 3.6 .5 8.7 .5-12.3 .5 5.3 .5 1.5 .5-5.4 .5 3.6 .5-12.7 .5 12.2 .5-1.1 .5-5.8 .5 9.1 .5-12.7 .5 4.2 .5 3.3 .5-4.8 .5 2.1 .5 6.7 .5-3.4 .5 4.3 .5-1.6 .5-4.8 .5-6.1 .5 4.8 .5 9.1 .5-8.1 .5-4.5 .5-1 .5 6.2 .5-14.2 .5 10.2 .5-2.2 .5 9.5 .5-6.4 .5 9.7 .5-9.5 .5 .9 .5-3.1 .5-1 .5-4.1 .5 5.4 .5 3.8 .5-3.3 .5 5.6 .5-.7 .5-8.4 .5 3.8 .5 10.5 .5-11.2 .5 12.5 .5-11.4 .5 4.7 .5-.3 .5 10.1 .5-.9 .5-.8 .5-6.4 .5-.1 .5-7.7 .5-1.8 .5 16.6 .5-2.2 .5-9.1 .5-9.4 .5 18.5 .5-13 .5-4.3 .5 7.4 .5-3.8 .5 16.7 .5-9.1 .5 1.8 .5-12 .5 7.8 .5-10.2 .5 23.4 .5-14.7 .5-7.1 .5 6.8 .5-1.6 .5 11.6 .5-12.7 .5-2.6 .5-1.8 .5 2.7 .5 6.1 .5-9.2 .5 17.2 .5 1.1 .5-.9 .5-8 .5 9.3 .5-16.5 .5 8.8 .5-5.1 .5 7.5 .5-14.2 .5 19.9 .5-3.3 .5-4.3 .5 3.7 .5 .7 .5-15.8 .5-1.8 .5 11.9 .5 4 .5 .6 .5-.9 .5-7.6 .5 0 .5-3.1 .5-6.2 .5 5 .5 5.4 .5-8.5 .5 7.9 .5-3.2 .5 .7 .5-9.3 .5 8.5 .5-8.8 .5 .6 .5 5.1 .5 14.7 .5-6.9 .5-3.9 .5-3.4 .5 12.5 .5-.7 .5-3.3 .5 9.7 .5-.8 .5-3.3 .5 3.6 .5-9.8 .5-1.1 .5-2.6 .5 16.7 .5-15.4 .5 9.7 .5-13.8 .5-3.2 .5 8.4 .5 2.5 .5 2.6 .5-1.6 .5 5.5 .5-9.6 .5 15.4 .5-8.1 .5-2 .5-14.5 .5 9.3 .5 3 .5-3.7 .5-6.9 .5 2.7 .5-2.4 .5 6.6 .5-4.7 .5 11 .5 .3 .5-15.5 .5 17.9 .5-6.1 .5 5 .5 1.2 .5-18.6 .5 15.8 .5 .8 .5-13.3 .5 17.1 .5-16.4 .5 .3 .5-2.5 .5 12 .5-3.3 .5 8.6 .5 5 .5-1.8 .5-14.4 .5-.4 .5 10.3 .5-16.7 .5 11.4 .5-5.6 .5 5.4 .5-11.2 .5 11.4 .5 1.9 .5-11.7 .5 13.8 .5-12.6 .5 17.1 .5-10.5 .5 5.6 .5-8 .5 16.5 .5-13.1 .5 12.1 .5-14.9 .5-2.8 .5-3.6 .5 18 .5-22.8 .5 3 .5 9.2 .5-11.5 .5 8.3 .5 5.6 .5-8.1 .5 2.2 .5 1.3 .5 1.2 .5 1.3 .5 1.2 .5 1.3 .5 1.2 .5 1.3 .5 1.2 .5 1.3 .5 1.2 .5 1.3 .5 1.2 .5 1.3 .5-11.9 .5 1.3 .5-3 .5-6 .5 19.7 .5-10.6 .5-.4 .5-4.6 .5 7.4 .5 .3 .5-7.3 .5-12 .5 1.5 .5 4.1 .5 5.3 .5-5.4 .5 3.8 .5 4.8 .5 9.6 .5-9.2 .5-13.9 .5 19.4 .5-13.4 .5 5.4 .5-5.7 .5 8 .5 1.1 .5 14.3 .5-20.2 .5 17.7 .5-6 .5-10.6 .5 3.3 .5 18.2 .5-25.4 .5 15.2 .5 5.7 .5-3.3 .5 3.6 .5-12.7 .5 2.6 .5 4.8 .5-4.2 .5 5.2 .5-16.8 .5 17.5 .5-11.9 .5 2.7 .5 5.8 .5 14.7 .5-5.9 .5-8.5 .5 6.6 .5-1 .5-12.3 .5 2 .5-7.5 .5-3.6 .5 4.8 .5 7.8 .5-8.4 .5 3.5 .5-8.8 .5 3.7 .5 2.3 .5 3.3 .5 7.8 .5-8.2 .5-6.8 .5-.7 .5 5.7 .5-8.8 .5 15.3 .5 6.4 .5-2.6 .5-9 .5 5.6 .5 1.1 .5-18 .5-1.2 .5 10.1 .5 14.8 .5 1.9 .5-15.2 .5 16.7 .5-1.3 .5-13.9 .5-4.7 .5 13.6 .5-12 .5-2 .5 4.8 .5 11 .5 1.1 .5-10.4 .5-.5 .5-.7 .5 6.7 .5-3.7 .5-5.3 .5-1.8 .5-5 .5 11 .5 19 .5-18.4 .5-3 .5-1.6 .5 9.1 .5-10.2 .5 8.1 .5-7.5 .5 5.4 .5-.6 .5-4.3 .5 6.1 .5-9 .5 15.4 .5-1.1 .5-11.8 .5-.9 .5 9.7 .5-11.9 .5 17.5 .5-8 .5 3.2 .5-10.2 .5 9.8 .5 7.4 .5-10.2 .5 10.6 .5 3.3 .5-4.3 .5-7.6 .5-7.7 .5 4.9 .5-4.7 .5 14.6 .5-9.7 .5-3.3 .5 13 .5-9.4 .5 15.5 .5-1 .5-19.2 .5 10.4 .5-10.1 .5 1.6 .5 14 .5-13.8 .5 19.6 .5-13.9 .5-5.3 .5-4.7 .5 15.7 .5-14.4 .5 5.5 .5-10.3 .5 20.1 .5-.4 .5-2.5 .5-2.8 .5-6.4 .5 .7 .5 11.1 .5-4.6 .5-9.4 .5 7.8 .5 4.6 .5-15 .5 17.6 .5 4 .5-4.1 .5-.1 .5-.7 .5-2.9 .5 1.4 .5-12.8 .5 11.6 .5 6.4 .5 1.5 .5 5 .5-26.5 .5 13.7 .5-4 .5 6.4 .5-5.7 .5-1.9 .5-8.4 .5 9.4 .5-2.3 .5 14.4 .5-2.6 .5-10.7 .5-4.4 .5 15.1 .5 .2 .5-1 .5-7.1 .5-5.5 .5 5 .5 5.2 .5-.9 .5-10.2 .5 6.8 .5-8.7 .5-1.1 .5 .7 .5 3.3 .5 12 .5 1 .5-3.7 .5-5.5 .5 2.2 .5-.9 .5-8 .5-6.3 .5 9 .5-1.4 .5 4.4 .5 .7 .5 11.3 .5-19 .5 17.2 .5-14.9 .5 7.5 .5-8.4 .5 8.9 .5-9.2 .5 13 .5-12.4 .5 15.2 .5-20.4 .5-2.8 .5 18.2 .5-15.6 .5 4.6 .5-5.9 .5-1.4 .5 11.9 .5-1.6 .5 9.1 .5-11.5 .5 7.1 .5-2.3 .5 3.9 .5-14.8 .5-1.2 .5 8.7 .5 5.9 .5-.3 .5 3 .5-3.6 .5-.2 .5 .3 .5-7.2 .5 13.6 .5-18.2 .5 0 .5 15.4 .5-9 .5 6.4 .5-17.9 .5 7.6 .5 12.4 .5-.3 .5-16.5 .5 17.9 .5 6.4 .5-11 .5-8.9 .5 6.4 .5 4.6 .5-2.2 .5 14.3 .5-10.8 .5 2.8 .5-10.3 .5 4.4 .5 6.7 .5-12.3 .5-5.2 .5 2.6 .5 10.5 .5 6.6 .5-11.7 .5-2.3 .5 14.8 .5 1.3 .5-.8 .5-17.1 .5 1.5 .5 8.4 .5 2.3 .5 .7 .5-10.1 .5 13.5 .5-10.2 .5 3.6 .5 4.5 .5-9.6 .5-3.9 .5 18.3 .5-6.5 .5-11.1 .5 17.7 .5-10.7 .5 12.3 .5-3.5 .5-13.7 .5 18.8 .5-19.6 .5 6.6 .5 7.6 .5-6.2 .5 5.2 .5-20.5 .5 13.8 .5-4.3 .5-.4 .5 2.3 .5-8.1 .5 17.2 .5-3.3 .5-3.1 .5 2.9 .5 5 .5-17.2 .5-6.1 .5 11.2 .5-5.6 .5 7.2 .5-4.4 .5 6.8 .5 10.8 .5-11.2 .5-16.5 .5 19 .5-5.2 .5 1.2 .5 14.6 .5-25.7 .5 20.7 .5-16.8 .5 14.8 .5-2.2 .5 2.9 .5-5.1 .5-5.4 .5-4.2 .5 2.6 .5 11.2 .5-9.1 .5 7.6 .5-19.4 .5 9.3 .5-7.1 .5-9.3 .5 16.4 .5 3.3 .5-8.3 .5 11.5 .5-1.3 .5-6.9 .5 9.2 .5-6.4 .5 11 .5 4.3 .5-1.1 .5-11.6 .5 2 .5-5.8 .5-2.7 .5 2.9 .5-7 .5 5.3 .5 8.4 .5 6 .5-6.8 .5 3.2 .5 .7 .5-14.5 .5 7.2 .5-3.4 .5 3 .5 3.2 .5-.3 .5-12.6 .5-1.1 .5 8.2 .5-5.3 .5 .5 .5 9 .5 10.3 .5-1.8 .5-6.3 .5-8.2 .5-8.1 .5 3.9 .5 1.7 .5 9 .5-16.2 .5 14.8 .5 8.4 .5-14 .5-.9 .5 7.9 .5-4.1 .5-2.1 .5 11.7 .5-19.6 .5 6.6 .5-5.1 .5 5.5 .5 12.2 .5-6.2 .5 5.1 .5-4.7 .5-1.2 .5 9.3" stroke="#f00" stroke-width="2.9" fill="none" stroke-linejoin="round"/>
<path clip-path="url(#c6)" d="M311 1715.7l.6-19.5 .6-6.4 .6 4.3 .6-7.9 .6 18.2 .6-5.2 .6 25.6 .6-8.8 .6 1 .6 17.6 .6-15.7 .6-25.2 .6 30.4 .6-22.5 .6 29.3 .6-14.9 .6 32.6 .6-11.4 .6 7.2 .6-27.2 .6 9.7 .6-7.9M325.4 1737.8l.6-20.8 .6 .8 .6 6.9 .6 7.9 .6-7.2M329.6 1730.3l0 2.4M335.7 1729.2l.6-19.6 .6 37.6 .6-26.6 .6-14 .6-6.9 .6-4.2 .6 14 .6 29.9 .6-33.3 .6 37 .6-14.2 .6 7.4 .6-10.5 .6-10.8M349.5 1719.8l.6 7.5 .6-23.8 .6 25.1M354.3 1710l.6 26.4M356.2 1701.8l.6-34.6 .6 2.6 .6 51.9 .6-67.7 .6-11.7M362.2 1693.9l.6-26.9 .6-23.1 .6 21.5 .6 20.5 .6-13.9 .6 30.4M367.6 1689.4l.6-31.2 .6 8.3M371.8 1685l.6-37.5M373.6 1726.5l.6-3.5M375.4 1738.2l0 2.4M376.6 1753l.6-24.7M379 1731.7l.6 22.8 .6-11.6 .6 17.2M382 1754.1l.6-10.1 .6 3.6M384.5 1686l.6 .2 .6-6M388.5 1667.9l.6 5.2 .6-7.1 .6-19.9M391.5 1638l.6 43.3 .6-41.1 .6 1.1 .6 26.2 .6-13.8M396.3 1664.4l.6 14.4 .6-14.8 .6-19.6 .6 8.8 .6-2.4 .6 3.3 .6 20.5 .6-14.9 .6 32.4 .6 8.9 .6-33.6 .6 25.6 .6 7.8 .6-9.1M406.5 1702.1l.6-18.1 .6 5.4 .6-8.9 .6 7.5 .6-29.1 .6 23.4 .6-9.5 .6 24.6 .6-2.7 .6-46.7 .6 18.9 .6 7.1 .6 8.9 .6-16M416.1 1660l.6 11.3 .6 14.5 .6 .4 .6 13 .6 9.3 .6-13.5 .6-11.8M421.4 1721.6l0 2.4M423.2 1698.4l.6 53.7 .6-48 .6 21.8 .6 7.8 .6-45.1 .6 43.3 .6 14 .6-49.4 .6 41.3 .6-46 .6 51.1 .6-6.2M431.6 1685l.6 41.2 .6-38.4M434.6 1700.3l.6-14.6 .6 16.3 .6-7.6 .6 4.3 .6-23.3 .6 15.2 .6-8.3 .6 2.5 .6-11.5 .6 5.5 .6-11.2M444.8 1673l0 2.4M449 1660.6l0 2.4M451.4 1661.9l.6-1.3 .6-.6 .6-13.1 .6 13.9 .6-5.8 .6 18.4 .6-13 .6-20.6M457.4 1657.8l.6 15 .6-5.7 .6 .1 .6 8.2 .6-39.8 .6 15.5 .6 13.7 .6-8.7 .6-16.2 .6 16.6 .6 15.9M465.2 1648.8l.6 15.1 .6 2.8 .6 2.6 .6-5.8 .6 12.5 .6-3.9 .6-7.2 .6 8.4 .6-3.2 .6 20.9 .6-23.6 .6 13.4M473.6 1682.8l.6 23.6 .6-34.9 .6-1.7 .6 20.2 .6-9.2 .6-6.4 .6 3.7 .6 13M479.6 1654.6l0 2.4M484.1 1666.9l.6-3.4 .6-12.4 .6 31.7 .6-21.3 .6-18.8 .6 11.2 .6 14.5 .6-23.5 .6-1.7 .6-4.2 .6 32.2 .6-3.5 .6 .1M493.7 1666.6l.6-16.8M495.5 1659.5l0 2.4M497.3 1663.8l.6-11.8M512.5 1636.6l0 31.1M500.5 1648.2l.6-18.8 .6 24.3 .6-9.1 .6-7.2 .6 10.2 .6-3.4 .6-12.7 .6 5 .6 8.8M511.9 1638.4l.6-1.8 .6 1.8 .6-26.9 .6 29 .6-20.6M516.1 1630.9l.6-14.6 .6 .1 .6 17.3 .6 15.4 .6 2.5 .6 3.2 .6 .1 .6-18.3 .6 7.6 .6-14.8 .6-10.6 .6 42.8 .6 2.1 .6-30.5M527.5 1643.1l.6 3.5 .6 16.9 .6-11 .6 16.9M533.5 1617.2l.6 21.1M537.7 1643.8l.6 .1 .6-18.4 .6 7 .6-4.5 .6 19.9 .6-16.8 .6-18.2 .6 .8 .6 16.7M544.3 1630.6l.6-7.8 .6-4.4 .6-.1 .6 17.9 .6-27.1 .6 18M571.6 1723l0 13.9M550 1684.9l.6 18 .6-7.8 .6 5.8 .6 3.8 .6-15.9 .6-.2 .6-6.1 .6 4.6 .6 4.4 .6-14.4 .6 5.4 .6 6.9 .6-3.1 .6-2.6 .6 3.3 .6-3 .6 6.5 .6-17.5 .6 24.4 .6-3.1 .6-7.8 .6-7.4 .6 18.3 .6-18.8 .6-5.9 .6 17.6 .6-9.3 .6 20 .6 7.7 .6 .3 .6 .3 .6 5.7 .6-2.7 .6-2.6 .6 12.4 .6 .9 .6-7 .6 2.7 .6-5.2 .6-2.7 .6 17.8 .6-7.2 .6 7.7 .6-13 .6 5.2 .6-13.7M579.4 1719.5l.6 1.3 .6 7.5M581.8 1709.2l.6 4.9 .6 8.1 .6 7.3 .6-12.5 .6-4.4 .6-6.5M586.6 1701.8l.6 12.4 .6-15 .6 8.8 .6-16M590.2 1710.9l.6-6.9M593.2 1699.6l.6 3.2 .6-15 .6 7.1 .6 14.1 .6-21.7 .6 8.8 .6 1.1 .6-4.1M599.2 1705.4l.6 5.7M601 1711.8l.6-15.1M602.8 1694.5l.6 5.9 .6-6.6M605.2 1693.8l.6-8.2 .6 9.8 .6-5.7 .6-6.6 .6 4.8 .6 21.5 .6-3.3 .6 .4 .6-8.2 .6-14.9 .6-1.3 .6-5.1 .6 1.4 .6-2.7 .6 5.4 .6 5.1 .6-5.8 .6 4.1 .6 9.1 .6 5.6 .6-.9 .6 1.6 .6-1.5 .6 4.3 .6-6.5 .6 11.9 .6-12.7 .6-5.5 .6-6.7 .6-3.3 .6-1.7 .6 6 .6-1 .6-11.5 .6-.8 .6 0 .6 5.1 .6-2.2 .6 7.8 .6 2 .6 7 .6 9.7 .6-6.7 .6-1 .6-7.3 .6 10.9 .6-1.2 .6-4.7 .6-2.6 .6 7.1 .6 2.8 .6-8.7 .6-.6 .6-2.3 .6 3.6 .6 14.5 .6 .8 .6-5.3 .6-2.9 .6 1.4 .6-2.8 .6-17.8 .6 1.3 .6 14.9 .6-9.8 .6-4.9 .6 2.4 .6 4.7 .6-2.8 .6 11.9 .6 7.2 .6-1.4 .6 5.5 .6-5.5 .6 6.2 .6-5.3 .6-6.7 .6-2 .6 1.9 .6 5.5 .6 1.1 .6-4.4 .6-2.7 .6-5.2 .6 1.3 .6-4 .6 .8 .6-1.6 .6 14.6 .6-11.9 .6 12.4 .6-12.9 .6-2.1 .6-3.2 .6 18.5 .6-18.1 .6 21.6 .6-6.2 .6-11.4 .6-1.9 .6 13.8 .6-18.6 .6 17.4 .6-10.6 .6 9.8 .6-13.3 .6-.8 .6 14.5 .6 1.3 .6-2.7 .6 6.7 .6-14.3 .6 16 .6-18.3 .6 2.4 .6 17.4 .6-6.8 .6-8.5 .6 2.1 .6 5.8 .6-6.1 .6-7.1 .6 12.2 .6-4.6 .6 10.7 .6-3.9 .6 5 .6-10.4 .6-4.8 .6 21.4 .6-5.7 .6-5.7 .6-11.7 .6 7.9 .6 8.4 .6-10.6 .6 9 .6-18.1 .6 .4 .6 21 .6-1.3 .6-1.4 .6-7.4 .6-3.2 .6-.1 .6 14.5 .6-2.4 .6-11 .6 11.2 .6-1.7 .6-7.8 .6 4.5 .6 10.2 .6-22.1 .6 12.7 .6-1.6 .6 8.5 .6-5.7 .6-2.7 .6 1.8 .6 13.7 .6 2.5 .6-3.6 .6-6.8 .6-5.5 .6-4.7 .6 7.7 .6-7.4 .6 4 .6-11 .6 5.5 .6 9 .6-6 .6 6.9 .6 5.9 .6-3.6 .6 .5 .6-17.9 .6 10.3 .6-.8 .6 6.7 .6-13.7 .6 10.1 .6-9.9 .6 18.3 .6-13.1 .6 17.7 .6-8.4 .6 9.6 .6-6.3 .6-9.2 .6 5 .6-5.3 .6 9 .6-4.4 .6-11.3 .6 9.5 .6-10.3 .6 11.1 .6-6.1 .6 16.1 .6-9.2 .6-7.9 .6 11.3 .6-10.3 .6 4.2 .6 4 .6-13.7 .6 17.8 .6-16.3 .6 12.2 .6 6.3 .6-4.4 .6 9.1 .6 2 .6-4.4 .6-15.7 .6-1.9 .6 10.7 .6-11 .6 15.1 .6 1.8 .6 1.8 .6-14.6 .6-.7 .6 10.3 .6-8.2 .6 1.8 .6-5.2 .6 15 .6-7 .6-2.7 .6 8.3 .6-7.5 .6 16.6 .6-12.1 .6 7.3 .6-11.4 .6 2.4 .6 2.4 .6 10.3 .6-2.5 .6 2.2 .6-21.1 .6 18.3 .6-11.5 .6 15.4 .6 1 .6-18.4 .6-7.9 .6 6.7 .6-1.5 .6 22.7 .6-4.6 .6-11.1 .6 13.6 .6-9.7 .6-.4 .6-6.9 .6 8 .6-1.7 .6 16.5 .6-17.8 .6-7.7 .6-9.2 .6 11.2 .6 4.9 .6-5.6 .6 18.3 .6 .3 .6-14.7 .6-2.9 .6 3.3 .6 9.8 .6 13.3 .6-10.9 .6 8.7 .6-12.3 .6-1.9 .6-8.4 .6-1.7 .6-3.7 .6 10.7 .6-7.5 .6 4 .6-14.3 .6 4.5 .6-.5 .6 9.2 .6 .7 .6-10.3 .6-9.2 .6 .8M782.8 1702.2l.6-9.9 .6 2.1 .6-7.5 .6-4.3 .6 .1 .6 4.7M791.2 1688.3l0 2.4M792.3 1757.5l.6-26.2 .6 4.8 .6 .9 .6 19.1 .6-22.2 .6 16.4 .6-5.9 .6-9.7 .6-2.6 .6-3.9 .6 20.3 .6 14.1 .6-1.8 .6-22.3 .6 24.2 .6-5.9 .6-11.3 .6-1 .6 4.4 .6 116.6 .6-110.4 .6 110.4 .6-111.1 .6-7.2 .6-8.5 .6 18.1 .6-7.8 .6 2.5 .6 5.4 .6 14.3 .6-9.8 .6-29.1 .6 5.7 .6-.7 .6 7.4 .6 13.9 .6 .9 .6-8.7 .6 1 .6 58.6 .6-61.1 .6 15.8 .6-5.8 .6-.7 .6-12.7 .6 29.8 .6 52.3 .6-68.1 .6-9.1 .6 18 .6-2.3 .6-16.5 .6 16.8 .6-17.3 .6 5.7 .6 1.7 .6-16.8 .6 23.8 .6 2.5 .6-21.6 .6 8.8 .6 7.1 .6 7.8 .6-7.9 .6-5.2 .6 15.7 .6 7.4 .6 13.8 .6-66.9 .6 67.6 .6-65.5 .6 2.1 .6 28.3 .6 5.3 .6-22.6 .6 9.5 .6-1.9 .6 21.7 .6-21.1 .6 4.8 .6 18.7 .6-12.7 .6 7.1 .6 1.4 .6-37.2 .6 36.9 .6-31.4 .6 30.1 .6-24.1 .6-11.5 .6 25.6 .6-3.1 .6-11.2 .6 17.5 .6-5 .6 11.1 .6 3.6 .6-13.4 .6 7.1 .6-12.9 .6 3.3 .6 2.8 .6 4 .6 26.4 .6-15.4 .6-20.2 .6 4 .6 8.4 .6 15.2 .6-1.1 .6-11.9 .6-.7 .6-7.2 .6 1.3 .6-4.1 .6 7.1 .6 3.1 .6 6.1 .6 58.4 .6-62.5 .6-.5 .6-6.9 .6 .6 .6 12.7 .6-9.3 .6 11.9 .6 0 .6 4.7 .6-11.6 .6-5.8 .6 7 .6 2.9 .6-2.6 .6 1.9 .6-4.9 .6 7.9 .6 1.1 .6-10.4 .6-1.6 .6-.7 .6-7.5 .6 4.6 .6 5.9 .6 9.9 .6-5.3 .6-2.2 .6-10.7 .6 11.1 .6 5.6 .6-2.5 .6-18.2 .6 5 .6 17.8 .6-13.2 .6-7.9 .6-4.3 .6 1.5 .6 16.7 .6-18.6 .6 25.6 .6-25.8 .6 24.5 .6-17.7 .6-1 .6-1.2 .6 15.8 .6-4.5 .6-12.8 .6 14.1 .6-23.9 .6-6 .6 13.6 .6 13.2 .6-18.2 .6 18.3 .6-19.9 .6-1.4 .6 24 .6 4.6 .6-27.3 .6 4.6 .6 8.8 .6 12.5 .6-10.8 .6 1 .6-2.9 .6 8 .6-19.2 .6-.4 .6-8.6 .6 38.5 .6-31.2 .6 18.4 .6-2.5 .6-15.8 .6 13.7 .6-31.9 .6 22 .6 21.1 .6-34.8 .6 23.8 .6-6.3 .6 28.8 .6-24.3 .6-6.8 .6-13 .6 7.8 .6 1.9 .6-12.1 .6 7.2 .6 21.5 .6-.2 .6-3.3 .6 .3 .6-7.6 .6 57.5 .6-63.8 .6-4.8 .6 1.1 .6 18.3 .6-2 .6 1.6 .6 4 .6-14.6 .6-.9 .6-4.1 .6 12.3 .6 9.2 .6 57.3 .6-76.1 .6 4.9 .6 25.6 .6-10.4 .6 1 .6-8.8 .6 22.7 .6-20.2 .6 12 .6-30.6 .6 27.9 .6 1.1 .6-19.3 .6-2.4 .6-2.5 .6 8.1 .6 2 .6-2.7 .6 5.3 .6 6.4 .6-11.4 .6-19.5 .6-.1 .6-3.2 .6 22.3 .6-6.4 .6 2.9 .6-12.5 .6 10.2 .6-5.5 .6 8.3 .6-16.5 .6 .8 .6 22.7 .6-6.4 .6-8.2 .6 4.3 .6-10 .6 .5 .6 6.4 .6-8.1 .6 3.8 .6-8.4 .6 2.4 .6 39.9 .6-43.6 .6-4.4 .6 48 .6-39 .6 4.4 .6-7.1 .6 2.7 .6 6 .6 9.5 .6-5.6 .6 18.9 .6-12.3 .6-20.3 .6 3.1 .6 13.2 .6-17.9 .6 37.6 .6-17 .6-17.5 .6 5.6 .6 9.7 .6 32.3 .6-49 .6 127.9 .6-134 .6 14 .6 6.8 .6-12.6 .6 7.1 .6-15.9 .6 46.3 .6-32.6 .6-8.2 .6 16.5 .6-10.5 .6 2 .6 8.1 .6 20.3 .6-23.2 .6-14.4 .6 8.1 .6 7.3 .6 6.7 .6 7.9 .6-17.4 .6-5.6 .6-1.9 .6 9.1 .6 5.8 .6-13.1 .6 18.1 .6-3.8 .6 10.7 .6 23.4 .6-40.2 .6 .5 .6 7.9 .6 .3 .6 10.1 .6-6.2 .6 66.8 .6-58.4 .6-6.5 .6-10.9 .6 63.9 .6-46 .6-16.3 .6 6 .6 28.6 .6-38.5 .6-3.6 .6 10.7 .6 16.5 .6-20.6 .6-11.3 .6 2.8 .6 .2 .6 5.9 .6-8.6 .6 8.7 .6-6.4 .6-.7 .6 12.9 .6-4.6 .6 6.4 .6-1.1 .6-14.6 .6 4.9 .6 40.9 .6-38.6 .6-4.4 .6-6.4 .6-7.6 .6 12.7 .6 5.2 .6-7 .6-4.3 .6 8.2 .6-10 .6 8.7 .6-14.5 .6 10.9 .6-3 .6 4.9 .6-9.9 .6 1.1 .6-12 .6 10.4 .6 13.8 .6-16.1 .6-.2 .6 6 .6-5.1 .6 6 .6 2.8 .6-6.8 .6 3.4 .6-.7 .6-8 .6 6.5 .6-6.1 .6 4 .6-8 .6 4.3 .6-2.5 .6 5.6 .6-.5 .6-2.3 .6-10.5 .6 4.2 .6 12 .6-1.7 .6-12.3 .6 .7 .6 8.1 .6-7.6 .6 8.8 .6-3.8 .6-7.2 .6 5.7 .6-10.4 .6 3.6 .6-8.8 .6-.6 .6 6.2 .6-5.7 .6 6.7 .6 1.4 .6-12.1 .6 9.9 .6-6.1 .6 1.1 .6-6.6 .6 7.8 .6 4.7 .6-14.6 .6 .3 .6 5.6 .6 3.6 .6-6.1 .6 1.7 .6-.9 .6 16.5 .6-12.7 .6-6.1 .6-5.2 .6-2.4 .6 .3 .6 3.3 .6 8.8 .6-6.5 .6-3.8 .6-.5 .6-7.3 .6 9 .6 .6 .6-4.2 .6-9.1 .6 11.7 .6-13.4 .6 14.4 .6-4.2 .6 5.7 .6-7.4 .6 3.1 .6-9.2 .6 13 .6-13.2 .6-6.3 .6-3.9 .6-.5 .6-12.1 .6 4.7 .6-2.3 .6 8.8 .6 1.3 .6 5.5 .6 2.7 .6-.4 .6-10.2 .6-3.7 .6-14.7 .6 5.3 .6-2.5 .6-11.6 .6-14.3 .6-5.2 .6-2.3 .6 15.9 .6-11 .6-6.2 .6 4.7 .6-1.6 .6 48.1 .6 111.1 .6-5.9 .6-9.6 .6 6.1 .6-14.8 .6 15.5 .6 1.7 .6 28.4 .6 2.4 .6 14.2 .6 22.1 .6-5.3 .6-3.8 .6-2.3 .6-16.2 .6-7.9 .6-16.6 .6 3.9 .6 18.7 .6 2.3 .6 9.5 .6 2.6 .6 4.9 .6 7.4 .6-1.4 .6 5 .6-11.8 .6-9.6 .6 2.7 .6-8.4 .6 2.1 .6-6.6 .6-2.4 .6-3.1 .6-4.3 .6-7.7 .6 2.8 .6-12.8 .6 8.5 .6 11.6 .6 1.9 .6 12.8 .6-6.2 .6 11.2 .6-6.4 .6 12.4 .6-3 .6 1.2 .6-3.7 .6-10.2 .6 7.8 .6-14.4 .6 2 .6-7.4 .6-.5 .6-6.8 .6-10.1 .6 5 .6-6.2 .6 2.4 .6-10.9 .6-7.5 .6-.6 .6 10.2 .6-.4 .6 25.7 .6-9.2 .6 23.2 .6 23.9 .6-9.1 .6 20.5 .6 12.7 .6-1.9 .6 2.2 .6-8.3 .6 .3 .6-22.1 .6 6.2 .6 .2 .6 1.7 .6-4.7 .6-10.6 .6-11.9 .6 2.8 .6-12.1 .6 1.8 .6-.9 .6-4.2 .6-1.4 .6 6.2 .6-8 .6 13.6 .6-15.3 .6 16.9 .6-5.9 .6 7.4 .6-2.8 .6-8.6 .6 2.3 .6 4.8 .6 6.2 .6-10 .6 11.5 .6-.3 .6-4.5 .6 6.5 .6-9.5 .6 14.6 .6-14.8 .6 8 .6-7.7 .6 4.5 .6 3.7 .6-7 .6 9.2 .6-9.1 .6-6.3 .6-8.8 .6-5.8 .6-7.5 .6-3.1 .6-15.5 .6-1.3 .6 4.2 .6 .2 .6 7.5 .6 1.3 .6-2.8 .6-8.3 .6-12.2 .6-2.3 .6 .6 .6 20.1 .6 12.8 .6 17.4 .6 1.6 .6 5.2 .6-7.4 .6 1.5 .6 1.9 .6 .1 .6-.4 .6 1 .6-3.8 .6-5.8 .6 8.5 .6-.2 .6-.3 .6 .7 .6-8.7 .6 6.4 .6-2.4 .6 8.5 .6-4.7 .6 4.2 .6 1.7 .6-7.4 .6 7.5 .6 .7 .6 1.1 .6-1.5 .6 1.1 .6-7.5 .6 2.5 .6 4.5 .6 5.9 .6-18 .6 15 .6-11.9 .6 10.2 .6-3.3 .6-6.6 .6-4.9 .6 11.3 .6-11.1 .6 3 .6 9.5 .6-2.1 .6-8.1 .6 .7 .6 54.4 .6-55.6 .6 1.2 .6 1.9 .6-3.9 .6-.8 .6 11.4 .6 4.1 .6-5.5 .6-4.6 .6 5.6 .6 .2 .6-10.2 .6 6.2 .6 5 .6-8.3 .6-.5 .6 7.7 .6 4.8 .6-4.2 .6-12.3 .6 22 .6-17.7 .6 10.1 .6-11.3 .6 4.5 .6-3.5 .6-3.9 .6-.8 .6 .6 .6 3.1 .6-7.6 .6-3 .6 3.8 .6 6.6 .6-12 .6 4.4 .6-.2 .6 10.9 .6 .5 .6 .1 .6 4.5 .6-10.4 .6 11.1 .6-7.7 .6 1.6 .6-2 .6 1.8 .6 8.1 .6 1 .6-1.9 .6 3.3 .6-12.5 .6-1.8 .6 11.4 .6-7.8 .6 3.1 .6 .4 .6-2.3 .6-7 .6 12.5 .6-3.8 .6 .9 .6 1.5 .6-9.9 .6 2.6 .6-3 .6 6.8 .6-2 .6-2.4 .6 3.8 .6-3.7 .6-2.2 .6 3.4 .6 9.2 .6-4.5 .6 6 .6-9.1 .6 10.9 .6-2.1 .6-9.5 .6 1.3 .6 9.4 .6 8.1 .6-15.3 .6 5.7 .6 2.2 .6-3.6 .6-7.6 .6 9.9 .6-4.8 .6 3.1 .6-3.2 .6-.7 .6-.5 .6 10.2 .6 .1 .6-9.2 .6 7.1 .6-3 .6 .5 .6 4.3 .6 3.9 .6-3 .6-16.3 .6 11.1 .6-8.2 .6 4.3 .6 7.2 .6-4.9 .6-6.1 .6 9.3 .6-8.5 .6 4.5 .6-4.8 .6 5.5 .6 .4 .6 22.3 .6-24.1 .6 5.9 .6-1.6 .6-10.4 .6 2.3 .6 3.1 .6-5.8 .6 4.6 .6-11.4 .6 5.8 .6-6.1 .6-1.9 .6 10.9 .6-4 .6 3.6 .6-.6 .6-4.4 .6 .8 .6 9.9 .6-.4 .6-10.2 .6 8.6 .6-2.3 .6-1.7 .6-6.1 .6 3.1 .6 4.8 .6-.1 .6 1.6 .6-7 .6 9.7 .6-1.6 .6-4.4 .6 55 .6-62.2 .6 9.4 .6-5.6 .6 8.7 .6-4.2 .6-5.5 .6 7.4 .6-7.5 .6 4.6 .6-4 .6 6 .6-3.7 .6 1.8 .6 6.1 .6-2.3 .6-4.1 .6-6.5 .6 3.1 .6 9.4 .6-9.9 .6 6.9 .6-2.9 .6-.3 .6-5.2 .6-12.4 .6-1.1 .6-14.2 .6-3.3 .6-9.7 .6-6.7 .6 3.3 .6 10.3 .6-3.1 .6 .8 .6 9.9 .6 4.4 .6-2.6 .6 7.8 .6-4.7 .6-1.6 .6 12.1 .6 2.3 .6 9.1 .6-8.8 .6 8.5 .6 .5 .5-.8 .5 2.4 .5-1 .5 9.9 .5-9.1 .5-4.8 .5 19.8 .5-9.4 .5 3.2 .5 35.1 .5-1.4 .5-1.7 .5 22.6 .5-18.1 .5-37 .5 4.5 .5-12.9 .5 15.7 .5-9.9 .5-12.8 .5 19 .5 3.5 .5 40.5 .5-46.1 .5 29.5 .5 6.6 .5-47.4 .5 31.6 .5 2.4 .5-27.5 .5 56.2 .5-9 .5 4.3 .5 2.4 .5-23.4 .5 .9 .5-33.8 .5 12.8 .5 20.7 .5 7.3 .5 1 .5-11.6 .5-26.2 .5 40.3 .5-54.6 .5 47.5 .5-22.4 .5 63 .5-31.8 .5 .7 .5-39.7 .5 17.9 .5-15.3 .5-3.8 .5 28.7 .5 12.1 .5-28.3 .5 29 .5-33.5 .5 27.4 .5-40.4 .5 38.2 .5-18.2 .5-4.8 .5-7.5 .5 43.7 .5 14.8 .5-34.7 .5-16.9 .5 56.9 .5-68.5 .5 15.3 .5 26.1 .5-32.3 .5 28.5 .5-5 .5 38.8 .5-51.9 .5 15.9 .5 18 .5-35.3 .5-7.4 .5-12.7 .5 56.9 .5-18.3 .5 1.6 .5-21.9 .5 40.7 .5-14.3 .5-1.1 .5 21.8 .5-5.8 .5-27.9 .5 4.3 .5 19.6 .5 2.2 .5-27.2 .5 28.4 .5-5.6 .5-15.2 .5-14.9 .5 11.6 .5-1.5 .5 3.7 .5 13.3 .5 .7 .5-21.7 .5 22.2 .5-12.4 .5-7.1 .5 1.3 .5 25.6 .5 3.9 .5-13.9 .5-11.3 .5 27.6 .5-22.3 .5 9.2 .5-38 .5 10.7 .5-26.3 .5 5.1 .5-11.5 .5 6.2 .5 7.5 .5 9.8 .5 17.3 .5 3.9 .5-7.4 .5-11.8 .5-11.9 .5 16.4 .5 7.5 .5-2.8 .5 6.4 .5-25.3 .5 25.4 .5-36.4 .5 18.7 .5 3 .5 17.8 .5-36.3 .5 11.1 .5 4.7 .5-19.9 .5 4 .5-1.4 .5 20.4 .5 5.9 .5-15.3 .5-6.8 .5 11.9 .5 29.1 .5-29.2 .5 21 .5-14.4 .5 2 .5-25 .5 36.8 .5 1.3 .5-43.4 .5 .3 .5 13.9 .5 15.4 .5-31.7 .5 6.3 .5 8.1 .5 25.2 .5-13.5 .5-33.2 .5 8.2 .5 29.9 .5 9.2 .5-26 .5 .6 .5 1.3 .5-3.3 .5 9.2 .6 .5 .6-9.3 .6-3.2 .6-7.2 .6 10.7 .6-2 .6-.4 .6-4.1 .6 5.9 .6-8.3 .6 2.2 .6-3.4 .6 8 .6-1.4 .6-9.2 .6 5.2 .6-7.5 .6 4.1 .6-3.7 .6 .8 .6 3.9 .6 5.3 .6 .7 .6-5.4 .6-7 .6 9.7 .6 1.2 .6-1.9 .6 5.2 .6-3.8 .6-10.5 .6 4.7 .6-11.4 .6-4 .6-2.1 .6 4.8 .6-2.1 .6 5.4 .6 4.4 .6-2.5 .6 1.6 .6-1.5 .6-7.3 .6 2.5 .6 49.5 .6-52.7 .6-.8 .6 9.2 .6-7.4 .6 9.3 .6-5.4 .6 2.8 .6-11.1 .6 4.2 .6-2 .6 9.9 .6-10 .6 10.1 .6-1.1 .6-5.1 .6 2.1 .6 9.9 .6-10.1 .6 4.9 .6-6 .6 10.1 .6-9.7 .6-6.6 .6 8.1 .6-2.7 .6-3.1 .6 .9 .6 1 .6-1.8 .6 7.5 .6 1.4 .6 6.9 .6-1.4 .6-9.3 .6 11.8 .6-.6 .6 1.3 .6-5.3 .6-9.4 .6 1.5 .6 1.6 .6 11.1 .6 3 .6-11.8 .6-.9 .6 5.6 .6-6.8 .6 4.4 .6 6.7 .6-14.8 .6 13.9 .6-12.2 .6 .2 .6 10.1 .6-.7 .6-8 .6 10.3 .6-11 .6 6.7 .6-5.2 .6-4.3 .6 15 .6-10.7 .6 2.6 .6 1.6 .6-7.3 .6 13.9 .6-6.1 .6-4.8 .6 10.1 .6-11.5 .6 12 .6-15.3 .6 9.4 .6 .1 .6 7.8 .6 1.3 .6-2.9 .6-8.5 .6 4.9 .6 2.8 .6-7.8 .6 9.1 .6-8.7 .6-5.3 .6 8 .6 3.3 .6 20.8 .6-30.2 .6-5.1 .6 6.7 .6-.8 .6-2.7 .6 14.2 .6-2.4 .6 5 .6-3.3 .6 5.5 .6-15.3 .6 13.4 .6-3.6 .6 1.9 .6 2 .6-.6 .6-9.7 .6-3.6 .6 49 .6-38.4 .6-8.4 .6-10.6 .6-9.9 .6 5.4 .6-12.5 .6-7.7 .6-12.5 .6 12.4 .6 1.8 .6 .3 .6-12.5 .6-5 .6 15 .6-23.3 .6 23.2 .6-.1 .6-2 .6-16.2 .6 20.3 .6-11.5 .6-4.9 .6 18.4 .6-15.9 .6-4.1 .6 12.4 .6-14.3 .6 4.2 .6 14.2 .6-13.6 .6-4 .6 21.3 .6-21.5 .6-1.9 .6 8.9 .6 9.4 .6-13 .6 15.3 .6 8.7 .6-.7 .6-15.7 .6 12.5 .6-.6 .6-5 .6-4.7 .6 5.5 .6 4 .6 10.4 .6-7.7 .6 1.9 .6 1.4 .6-13.5 .6 2.1 .6 .4 .6-15.4 .6 14.3 .6 2.7 .6-8.4 .6 15.8 .6-4.4 .6-3.7 .6-10.8 .6 18.4 .6-1.8 .6-5.9 .6 15.1 .6 2.1 .6-10.6 .6-6.1 .6-1.1 .6 3.3 .6-3.2 .6-5.8 .6 3.9 .6 .6 .6 17.3 .6-9.4 .6-12.2 .6 5.7 .6 15.2 .6-14.9 .6 13 .6-9.1 .6 11.9 .6-23.9 .6 17.9 .6-9.5 .6 18.6 .6-6 .6-4.3 .6 11.7 .6-5 .6-7.6 .6 7.7 .6 5.4 .6 2.5 .6-14.9 .6-8.8 .6 6.8 .6 4.1 .6 4.7 .6 5.5 .6-3.1 .6-18.9 .6 16.1 .6 1 .6-21.5 .6 1.9 .6 11.5 .6 5.9 .6-4.5 .6-13.5 .6 7.3 .6-13.5 .6-9.5 .6 2.9 .6 1.5 .6 8 .6-9.3 .6-9.6 .6 16 .6-18.9 .6 11.2 .6-13.6 .6 4 .6 7.2 .6-3.9 .6-10.9 .6 4.7 .6-.3 .6 16.9 .6-10.7 .6 12.5 .6 1.9 .6-15.6 .6 2 .6 11 .6-5.8 .6-9.2 .6 2.4 .6 14.7 .6-7.3 .6-.8 .6 3.3 .6 .3 .6-8.2 .6 13.2 .6-16.9 .6 18.9 .6-8.6 .6 5 .6-2.6 .6-10.9 .6 5.9 .6 7.5 .6-7.2 .6-2.5 .6 10.7 .6-4.3 .6-12.4 .6 12.7 .6-12.4 .6 15.3 .6 .3 .6 4.8 .6-12.7 .6 6.6 .6 6.2 .6-9.9 .6-14.1 .6 12 .6-1.1 .6 1.8 .6-10.4 .6 10 .6 2.9 .6-9.9 .6 2.4 .6 9.4 .6-5.7 .6-7.7 .6-1.2 .6-1.2 .6 .6 .6 2.3 .6 12.3 .6 4.7 .6-.8 .6-.8 .6-9.8 .6 4.5 .6-4.6 .6 6.6 .6-13.2 .6 8.6 .6 .8 .6 1.2 .6-6.6 .6 0 .6-.5 .6 3.1 .6 2.9 .6-7.9 .6 7.5 .6-.4 .6-4.6 .6 5.6 .6 7 .6-10.5 .6 11.3 .6-4.5 .6 .2 .6 10.7 .6 3.7 .6-8.1 .6-3.4 .6 10.5 .6 10.6 .6 1.2 .6-2.6 .6 8.4 .6-.7 .6-6.6 .6 10.1 .6-10.1 .6 8.2 .6 .8 .6-13.3 .6-.5 .6-5 .6 14.6 .6 0 .6 1.9 .6-2.5 .6-2.9 .6 7 .6-5.7 .6 5 .6-11.1 .6 9.7 .6-13.4 .6 9.2 .6 5.4 .6-3.8 .6-14.1 .6 12.4 .6-2.5 .6-4 .6-3.9 .6 18.1 .6-.1 .6-15.2 .6 12 .6-12.9 .6 11.2 .6-13 .6 11.9 .6 1 .6 .2 .6 .9 .6-10.4 .6 9.5 .6-15.1 .6 5.4 .6 13.6 .6 18.2 .6-20.8 .6-17.8 .6-4.7 .6-6.1 .6 3.3 .6 .1 .6-5.6 .6-2.8 .6-7.7 .6 18.8 .6-15.7 .6 15.8 .6-9 .6-1.5 .6 7.8 .6-12 .6 19.4 .6-17.1 .6 8.1 .6-9.1 .6 4.7 .6-1.7 .6 15.9 .6-6.4 .6-15.9 .6-9.1 .6-14 .6-11.9 .6 3.7 .6-1.5 .6-2.1 .6 3.8 .6 7.6 .6-13.6 .6 3 .6 5.5 .6-4.4 .6 3.1 .6-.6 .6 5.2 .6 4.4 .6-11.9 .6 9.5 .6-6.4 .6 5.7 .6-7.8 .6 12.4 .6-9.7 .6 4.1 .6 2.3 .6-4.1 .6 11.9 .6-9.7 .6 10.2 .6-7.1 .6 4.3 .6 12.5 .6-4.2 .6-2 .6 .8 .6-4.2 .6-2.6 .6 12.2 .6-6 .6-5.7 .6-3.1 .6 5.7 .6-11.5 .6 6.6 .6 7 .6 1.4 .6-8.6 .6 4 .6-1.3 .6-5.9 .6 .5 .6 3.7 .6 4.6 .6-12.4 .6 6.1 .6-13.5 .6 10.3 .6 3.5 .6-1.9 .6 4.6 .6-7 .6-.5 .6 6.9 .6-6.2 .6-5.7 .6-1.5 .6 7.8 .6-8 .6 10.8 .6-10.3 .6 8.3 .6-3.7 .6 7.6 .6-5.2 .6 1 .6-11.7 .6 2.1 .6-2.6 .6 6.4 .6-8.2 .6 10.6 .6 7.2 .6-10.2 .6-2.6 .6-7.3 .6 10.1 .6 1.5 .6-7.9 .6-5.1 .6 12.5 .6-15.4 .6 1.2 .6-10.5 .6 2.5 .6 4.6 .6-10.5 .6 4.5 .6-5.2 .6 9.8 .6 3.4 .6-12 .6 8.8 .6-6.6 .6 14.3 .6-6.7 .6-5.4 .6-1.9 .6 14.4 .6-1.8 .6-5.5 .6 3.2 .6-2.9 .6 10.1 .6-4.3 .6-1.1 .6-2.1 .6 66.8 .6-76.6 .6 7.2 .6-14.5 .6 2.9 .6 3.9 .6 8.3 .6-12.6 .6 12.5 .6-8.8 .6 6.4 .6-2 .6-6.8 .6 1.5 .6-1.1 .6-8.4 .6 9.8 .6-11.3 .6 6.2 .6 8.1 .6-1.2 .6-13.9 .6 2.5 .6 2.3 .6 4.3 .6-8.2 .6 8 .6-1.5 .6-5.1 .6-5.3 .6 7.8 .6-7 .6 6 .6 9.8 .6-5.4 .6 1.8 .6 14.3 .6-18.9 .6 16.1 .6 .2 .6-24.7 .6 1.4 .6-.9 .6 11.4 .6-6.3 .6 6.2 .6-11.5 .6 8.8 .6-5.7 .6-4.1 .6 9.7 .6-4.8 .6-16.4 .6 47.2 .6-10 .6-22.1 .6 21.5 .6-15 .6-3.3 .6-6.1 .6 3.4 .6 32.3 .6-18.9 .6-4.8 .6-5 .6 4.8 .6-6.4 .6-1.5 .6 0 .6 14.8 .6-5.7 .6 16.3 .6-1.5 .6-3 .6-14.9 .6-8.5 .6 9.1 .6-6 .6 7.2 .6-13.1 .6 4.7 .6-.1 .6 5.9 .6-2.4 .6-5.5 .6-4.6 .6 9.7 .6 22.1 .6-29.8 .6 11.3 .6 .2 .6 7.5 .6-10.2 .6 10.2 .6-6.8 .6 70.7 .6-65.7 .6-21.1 .6 5.5 .6-.2 .6-.4 .6 14.7 .6-13.5 .6 4.3 .6-12 .6 2.1 .6-2.3 .6 1.2 .6 14.2 .6-11.1 .6 .8 .6 3.9 .6 1.3 .6 4.7 .6-15.1 .6 19.9 .6-14.4 .6 17.4 .6-12.7 .6 3.2 .6-8 .6 7.8 .6-3.2 .6-2.9 .6 91.8 .6-90.7 .6 4.7 .6 6.1 .6-13.2 .6-3.4 .6 9.2 .6 18.5 .6-24.6 .6 7.8 .6 6.6 .6-5.9 .6 3.1 .6-4.3 .6 .9 .6 1.1 .6-5.9 .6-3.4 .6 10.3 .6 7.2 .6 1.1 .6-19.6 .6 13.8 .6-14.4 .6 2.5 .6 17.1 .6-14.3 .6 9.3 .6 .5 .6 22.8 .6-32.5 .6-6.8 .6 15.2 .6-17.5 .6 38.6 .6-29 .6 32.9 .6-31.5 .6-5.1 .6-1 .6 17.3 .6-9.1 .6 2.1 .6-7.1 .6 11.5 .6 1.2 .6-7.7 .6 1.3 .6 5.9 .6-2.2 .6 .1 .6-2.4 .6-.7 .6-11 .6 7.1 .6 .3 .6-5.7 .6 7.1 .6-11.8 .6 13.3 .6-4.9 .6-4.1 .6 13.9 .6 15.5 .6-14.1 .6-5.3 .6 .7 .6 6.1 .6 12.7 .6-23.5 .6-.4 .6-8 .6 3.3 .6-2.3 .6 12.9 .6-4.9 .6-9.7 .6 16 .6-5.2 .6 36.2 .6-28 .6-7.7 .6-4.2 .6-7 .6-2.6 .6 41.7 .6-14.1 .6-22.4 .6 44.3 .6-37.2 .6-2.6 .6 2.5 .6-2.7 .6 30.5 .6-33.5 .6-9.8 .6 35.6 .6-4.9 .6-15.2 .6-15.5 .6 22.2 .6-2.6 .6 27.5 .6-29 .6 14.7 .6-15.6 .6 13.4 .6-14.3 .6 11 .6-8.5 .6-6.4 .6-2.7 .6 .2 .6 2 .6 6.6 .6-15.6 .6 14.1 .6-8.6 .6 .8 .6 4.1 .6 4.1 .6 .9 .6 1.7 .6-10.6 .6 5.3 .6 5.3 .6 6.2 .6 10.3 .6-12.8 .6 3.5 .6-12 .6-7.9 .6 8.7 .6 10.2 .6-11.2 .6 31 .6-30 .6 .2 .6-9.1 .6 5.8 .6 10.4 .6-10.2 .6 4.7 .6-3.3 .6 27.9 .6-23.6 .6-1.8 .6 8.5 .6-17.8 .6 2.3 .6-3.8 .6 10.7 .6 9.8 .6-6.3 .6-7.7 .6-1.5 .6 43.3 .6-13.1 .6-21.2 .6 3.7 .6-7.8 .6-5.8 .6 16.1 .6 12.8 .6-15.2 .6 12.7 .6 6.5 .6-14.8 .6-2.6 .6 .2 .6-.6 .6-1.4 .6 .6 .6 11 .6 11.5 .6-25 .6 8.1 .6-.6 .6-12.7 .6 7.2 .6-2.6 .6 5.6 .6-8.5 .6-6.7 .6 40.9 .6-19.9 .6-8.9 .6 1.3 .6 .9 .6-6.2 .6-7.8 .6 5.8 .6-9.2 .6 6 .6 5.3 .6-5 .6-1.7 .6-1.8 .6 8.3 .6 3.4 .6 16.4 .6-25.3 .6 29.7 .6-28.2 .6 2.3 .6-16.4 .6 38.4 .6-31.9 .6 .7 .6 32.6 .6-29.8 .6-2.6 .6 13.6 .6-15.5 .6 8.7 .6-.8 .6 97.2 .6-100.1 .6 15.2 .6-2 .6-15.2 .6 6.7 .6 .5 .6 1.5 .6 4.5 .6 2.9 .6-7.8 .6-1.7 .6 6.7 .6 6.7 .6-6.1 .6 2.4 .6 2.5 .6-21 .6 7.2 .6 16.4 .6-11.8 .6 7.4 .6-11.8 .6-4.9 .6-1.8 .6 32.1 .6-35.4 .6 11.1 .6-7.3 .6 62.2 .6-53.8 .6 6.9 .6-9.2 .6 6.4 .6-5.6 .6-3.5 .6 13.8 .6-13.3 .6 10.8 .6 .3 .6-17.2 .6 9.2 .6 7.5 .6 10.1 .6-10.7 .6 2.4 .6 5 .6-5.7 .6 10.7 .6-18.4 .6 7.8 .6 2.1 .6 15.1 .6-32.5 .6 13.4 .6-7.9 .6-7.8 .6 13.3 .6 6.4 .6-21.6 .6 1.3 .6 17.8 .6-16.8 .6 19.5 .6-9 .6-1.2 .6-6 .6 16.6 .6-12.6 .6 15.3 .6-17.6 .6 21.7 .6 0 .6-11.4 .6 8.5 .6-17.3 .6 15.5 .6 2.2 .6-19.8 .6 10.5 .6 3.8 .6 3.4 .6 4 .6-16.3 .6 1 .6 11.4 .6-2.2 .6 .6M276.4 1687.5l0 11.5M298.8 1674.3l0 70.9M295.5 1679.2l0 3.3M549.3 1629.8l0 85.7M804.8 1810.4l10.6 0M803.8 1811l12 0 0-54.5M1988.1 1661.1l0 81.8M1979.6 1702l10.2 0" stroke="#000" stroke-width="2.9" fill="none" stroke-linejoin="round"/>
<path clip-path="url(#c7)" d="M299.8 2078.6l0-53.7M331 2113.7l0-80.5M342.4 2093.2l0-61.7M352.6 2107.8l0-46.6M355.6 2091.3l0-89.4M365.2 2091.8l0-81.7M373 2105l0-83.4M390.4 2100.2l0-195.6M392.2 2098.6l0-131.3M395.2 2114.4l0-89.5M404.8 2112.3l0-118.7M413.8 2109.6l0-112.7M421.6 2096l0-61.2M436.6 2108.4l0-70.3M458.8 2114.3l0-95.3M476.2 2108.1l0-60.1M494.2 2106l0-104.1M500.8 2107.3l0-98.8M511.6 2103.4l0-106.5M520 2118.9l0-123.6M419.8 2103.9l0-26.6M431.8 2119.1l0-44.7M495.4 2108.6l0-43.9M407.2 2099.9l0-9.3M443.2 2108.9l0-12.2M370 2102.2l0-28.9M373.6 2101.8l0-38.2M320.2 2097.2l0-17.3M371.8 2095.5l0-12.7M524.8 2099.5l0 1M482.8 2114l0-41.9M391.6 2097.2l0-.8M356.8 2099.1l0-5.9M359.8 2103l0-25.9M431.8 2119.1l0-20.1M472 2105.2l0-11.3M383.8 2111.7l0-38.8M503.8 2121.7l0-38.7M469 2116l0-53.9M317.2 2108.2l0-32M374.2 2100.6l0-31.3M491.2 2112.2l0-14.9M355 2112.3l0-50.1M346.6 2111.5l0-45.7M470.2 2114.8l0-40.5M529 2108.3l0-49.6M426.4 2113.9l0-50.3M499 2110.7l0-36.4M358.6 2115.3l0-32.4M504.4 2098.3l0-39.7M356.2 2100.8l0-4.2M400 2106.5l0-44.5M518.2 2115.5l0-17M401.8 2094.6l0-28.3M309.4 2093l0-3.3M481 2096.4l0-6.9M462.4 2107.5l0-34.4M369.4 2103.6l0-21.1M486.4 2098.5l0-20.4M422.2 2097.6l0-23M493 2104.9l0-6M366.4 2099.3l0-.3M490.6 2110.4l0-35.2M361.6 2105.7l0-18.4M428.2 2111.4l0-28.2M532.6 2101.6l0-1.6M465.4 2105.4l0-25.3M341.8 2099.5l0-38.4M492.4 2105.1l0-36.2M460.6 2116.4l0-45.5M352.6 2107.8l0-20.6M342.4 2093.2l0-32.3M532.6 2101.6l0-26.6M386.2 2101l0-9.2M352 2100.2l0-8.3M356.8 2099.1l0-10M476.8 2094.1l0-31.5M391.6 2097.2l0-3M416.2 2104.3l0-27.9M318.4 2097.6l0-33M521.8 2103l0-2.7M423.4 2110.5l0-24.2M334 2109.6l0-11.2M448 2098.3l0-9.2M500.8 2107.3l0-39.1M467.8 2090.9l0-50.4M382 2108.9l0-78.2M472 2105.2l0-74M352.6 2107.8l0-70.3M409.6 2106.4l0-66.9M365.2 2091.8l0-34.7M337.6 2108.8l0-57.6M480.4 2095l0-55M382 2108.9l0-56.2M479.2 2093.7l0-60.6M507.4 2096.3l0-50.3M353.8 2111.5l0-55M395.8 2105.9l0-76.1M524.8 2099.5l0-49.7M417.4 2100.6l0-57.5M426.4 2113.9l0-72.3M334.6 2106.8l0-60.7M394 2105.5l0-75M394.6 2097.8l0-59.7M328 2111.2l0-76.9M383.2 2108.7l0-78.9M408.4 2107.5l0-80.9M423.4 2110.5l0-74.3M379.6 2101.3l0-54.8M454.6 2100.9l0-72M341.8 2099.5l0-52.9M416.8 2099l0-96.2M400 2106.5l0-100.7M393.4 2113.7l0-114.2M412.6 2122.5l0-100.9M349.6 2103.4l0-104.2M377.2 2114.9l0-101.9M409.6 2106.4l0-89M484.6 2112.2l0-96.4M296.2 2068.5l.6 12.1M298 2074.7l.6-1.9 .6 14 .6-8.2M301.6 2084.3l.6-6 .6 6.8M304 2080.2l.6 1.5 .6 13.6 .6-10.1 .6-4.6 .6 15.2 .6-2.1 .6 3.8 .6-2.6 .6-1.9 .6 9.4 .6-8.6 .6-1.9M314.8 2114.4l.6-15.3 .6 14.2 .6-14.2 .6 9.1M318.4 2097.6l.6 13.4 .6 3.1 .6-16.9 .6 14.3 .6-1.7 .6-10.9 .6 5.4 .6 1M345.4 2102.3l0 2.4M349 2118.5l.6-15.1 .6 9.8 .6-12.4 .6 9.8 .6-10.4 .6 7.6 .6 2.3 .6 1.4M356.8 2097.9l0 2.4M358 2118.1l.6-2.8M360.4 2115.7l.6-15.6M362.2 2094.5l.6 12.5 .6-9.2 .6 13.2M367.6 2110.2l.6-11.2 .6-2.2 .6 6.8M373.6 2101.8l.6-1.2 .6-5.9 .6 3.7 .6-5.1 .6 13.9M382.6 2108.7l0 2.4M391 2101.9l0 2.4M392.2 2098.6l.6 11.9 .6 3.2M394.6 2097.8l.6 16.6 .6-8.5 .6 2.9 .6-2.7 .6 3.3 .6-6.9 .6-7.7 .6-1.8 .6 13.5 .6-.4M404.2 2101.1l.6 11.2 .6-13.9 .6 21.5 .6-22.6 .6 2.6M410.8 2101.7l.6 15.3M413.2 2115.3l0 2.4M415 2109.6l0 2.4M416.2 2104.3l.6-5.3 .6 1.6 .6-7.8 .6-3.6 .6 19.4 .6-4.7 .6-6M421.6 2096l.6 1.6 .6 2.2 .6 10.7 .6-8.7M425.2 2113.3l.6-14 .6 14.6 .6-3.4 .6-10.2 .6 11.1 .6-13.3 .6 17.2 .6 3 .6-14.7 .6-4.2 .6 19.7 .6-5.6 .6-6.1 .6 13.5M434.8 2102.8l.6-5.7 .6 1.2 .6 10.1M438.4 2108.5l.6 4.7 .6 2.6 .6-8.3 .6-1.7 .6-.2 .6-4.4 .6 13.3 .6-5.6 .6-2.8 .6-12.4 .6 20.8M448 2098.3l.6 7.8 .6 6.7 .6-5.2 .6 .4 .6-7.5 .6 0M453.4 2099.2l.6 6.2 .6-4.5 .6 3.1 .6-5.4M460.6 2115.2l0 2.4M462.4 2107.5l.6 8.7M467.2 2105l.6-14.1M473.8 2115.9l0 2.4M475 2107.2l.6-7.3 .6 8.2 .6-14 .6 15.9 .6-11.7 .6 10.9 .6-15.5 .6 8.6 .6-7.3 .6 1.4 .6 7.1M489.4 2094.1l.6-1.9 .6 18.2 .6 1.8 .6-13.4 .6 6.3 .6-.2 .6-.8 .6 1.9 .6-8.5 .6 11.1 .6 7.6M498.4 2108.8l.6 1.9 .6 7.8 .6-11.2 .6 0 .6 9.2M502.6 2106.3l.6 1.4 .6 14 .6-23.4 .6 13.8 .6 5.4 .6 .6 .6-15.8 .6-6 .6 6.3M510.4 2113.4l.6 .6 .6-10.6M517.6 2099.4l.6 16.1 .6-15.6M525.4 2111.8l.6-8.1 .6 11.9 .6-12.7M535.2 2063.6l.5-16.9 .5 12.6 .5-44.9 .5 23.4 .5-11.7 .5 23.5 .5-46.5 .5 139.9 .5-58.8 .5-26.8 .5 81.5 .5-7.7 .5 19.5 .5-103.5 .5-40 .5 118.7 .5-27.2 .5 39.7 .5-66.3 .5-5.8 .5 47.9 .5-15 .5-9.7 .5-35.7 .5-7.5 .5 75.8 .5-133.4 .5 11 .5 .6 .5 15.9 .5 126.6 .5-72.5 .5-26.2 .5 18.9 .5 1.2 .5-8 .5-54.1 .5 28.7 .5 38.9 .5-11.7 .5-28.9 .5 43.5 .5-37.8 .5 95.7 .5-57.1 .5-59.4 .5-25.3 .5 133.8 .5-60.9 .5 75.4 .5 2.4 .5-57.5 .5-27.5 .5-56.3 .5 80.4 .5 7.9 .5-89.9 .5 21 .5 54.2 .5-185.2 .5 171.5 .5 8.5 .5-20.1 .5-29.2 .5 122.2 .5-128.9 .5 5.7 .5 104.5 .5-70.4 .5 36.2 .5-25.3 .5-22.2 .5 30.1 .5 2.5 .5 27.3 .5 23.5 .5-120.4 .5-47.9 .5 171.1 .5-.9 .5-84.7 .5 15.2 .5 4.1 .5 71.1 .5-91.6 .5 81 .5-49.1 .5-67.5 .5 128 .5-1.6 .5-55.3 .5 1.7 .5 14.5 .5-4.7 .5 .7 .5 22.3 .5-23.6 .5 19.1 .5-17 .5 44.2 .5 12.1 .5-5.2 .5-30.1 .5-24 .5-49.1 .5 65 .5-34.3 .5 37.9 .5-23.7 .5 13.8 .5-9.2 .5-3.1 .5 9.6 .5-2.1 .5-7.9 .5-1 .5 22.2 .5 9.7 .5 15.2 .5-25.5 .5-9.9 .5 34.2 .5-7.1 .5-41.8 .5 49 .5-19.9 .5-10.6 .5 9.2 .5-13.6 .5 21.3 .5-31.1 .5-.2 .5 9.4 .5-16.3 .5 6.7 .5 16 .5-12.7 .5-15.5 .5-38.6 .5 60.4 .5-12.5 .5 43.7 .5-35.8 .5 23.7 .5 2 .5-5 .5-24.1 .5-5 .5-8.1 .5 15.6 .5 23.3 .5-23.2 .5 7.9 .5 3.8 .5-9.3 .6 29.9 .6-13.4 .6 1.8 .6-16.6 .6 23.3 .6 6.6 .6-3.1 .6-31 .6 .2 .6 35 .6-6.9 .6-29.2 .6 42.6 .6-101.6 .6 84.3 .6-6.7 .6-120.4 .6 133.6 .6-14.7 .6-10.9 .6 21 .6-3.1 .6-8.6 .6-6.4 .6 23.7 .6-5.6 .6 3.5 .6 2.6 .6-36.6 .6-3.7 .6 34.1 .6-5.3 .6-4.5 .6 7.2 .6-21.8 .6-38.6 .6 68.2 .6-3.5 .6-10.3 .6-26.9 .6 43.2 .6-2.1 .6-21.4 .6-5.1 .6 15.1 .6-3.4 .6 1.7 .6-10.5 .6-17 .6 17 .6 11.2 .6 8.6 .6-4 .6 1.6 .6 1.9 .6 0 .6-7.4 .6-8.6 .6 19.6 .6-24.9 .6 6.9 .6 4.1 .6 10.1 .6-22 .6 14.3 .6-1.9 .6 1.6 .6 5.2 .6-1.6 .6-26.4 .6 24.7 .6-22.8 .6 13.4 .6-24.2 .6 34.9 .6-12.3 .6 4.7 .6 6 .6-35.6 .6 8.7 .6 29.2 .6-26.4 .6 22.5 .6-.6 .6 2 .6-33.7 .6 31 .6 9.5 .6-9.7 .6 0 .6-5.3 .6 7 .6-1.7 .6-33.3 .6 34.1 .6-34.9 .6 1.1 .6 13.3 .6 27 .6-8.1 .6 8.5 .6-5.3 .6-35.4 .6 38.6 .6-5.1 .6-56.7 .6 64.8 .6-19.9 .6 12.9 .6-34.7 .6 40 .6-15 .6 10.3 .6 7.5 .6-3.8 .6 .8 .6 2.7 .6-4.1 .6 5.2 .6-2.8 .6-1.5 .6-.7 .6 1.2 .6-7.5 .6 .9 .6 6.5 .6-4.8 .6-3.3 .6 7.4 .6-12.8 .6 9 .6-12 .6 13.2 .6 2.2 .6 5.8 .6 .8 .6-11.6 .6 9.1 .6 .1 .6-7.7 .6 6.9 .6 .7 .6-10.2 .6 6.7 .6-1.6 .6 5.5 .6-27 .6 18.3 .6-12.6 .6 19.4 .6 2.7 .6 .8 .6-1.2 .6-7.1 .6 3.8 .6-13.5 .6-10.5 .6 25.1 .6-5.7 .6-4.7 .6-1.1 .6 .4 .6 10.8 .6 4.1 .6 .1 .6-11.6 .6 1.9 .6-5 .6 9.7 .6-3.8 .6-1.5 .6-2.9 .6 1.2 .6 5.5 .6-1 .6 3.6 .6-3.2 .6-17.5 .6 24.8 .6-7.9 .6 7.8 .6-8.1 .6 6.1 .6-6.6 .6-3 .6 7.2 .6-5.4 .6 7.8 .6-8.8 .6 6.7 .6-6.4 .6 0 .6 .7 .6 10.4 .6-8.5 .6-16.5 .6 7 .6 10.7 .6-12.2 .6 15.1 .6-1 .6-7.6 .6 8.5 .6-24.5 .6 20.7 .6 6.1 .6-2 .6 .9 .6-29.5 .6 25.2 .6-5 .6-11.8 .6 9.5 .6 11.6 .6-.8 .6-2 .6-.4 .6 5.6 .6-13.2 .6 11.8 .6-2.4 .6-5.3 .6-18.2 .6 24.6 .6-15.2 .6 4.2 .6 4.1 .6-1.1 .6-.8 .6-1.3 .6 3.7 .6 3.4 .6-13.3 .6 4.9 .6 1.5 .6 8.2 .6 1.9 .6-8.4 .6 7.5 .6-10.2 .6 10.3 .6-10.7 .6-6.3 .6 15.4 .6-.1 .6-7.2 .6 1.5 .6-10.5 .6 .6 .6 9.5 .6 6.7 .6-3.1 .6 .2 .6-1.7 .6-2.9 .6 8.3 .6-4.1 .6-12.8 .6 13.2 .6-1.1 .6 3 .6-.4 .6 2.1 .6-5.9 .6 8.6 .6-7.8 .6-3.4 .6 8.2 .6-7.7 .6 7.3 .6-2.2 .6-17.7 .6 21.1 .6-3.5 .6-20.3 .6 16.2 .6 6.8 .6-25 .6 17.5 .6 6.9 .6-5.2 .6 2 .6 3.9 .6-10.2 .6-7.1 .6 18.8 .6-17.2 .6 10.7 .6 2.7 .6 6.5 .6-12.3 .6 11 .6-6.6 .6 2.4 .6 .7 .6-6.1 .6-44.3 .6 47.2 .6 2.3 .6-5.9 .6-1.6 .6-2.9 .6-7.6 .6 12.9 .6 1.7 .6 10.5 .6-17.4 .6-.2 .6-3.3 .6 13.9 .6 2.5 .6-26.5 .6 15.5 .6 5.6 .6-8 .6 14.3 .6-3.5 .6-7.3 .6-63.2 .6 65.2 .6-64 .6 47.1 .6 19.2 .6-149.2 .6-.5 .6 144.3 .6-1.5 .6 13.3 .6-4.3 .6 4.8 .6-7.5 .6-6.3 .6 3.3 .6 13.3 .6-5.1 .6 1.9 .6 2.3 .6 5.7 .6-30.7 .6 20.4 .6-10.5 .6 19.2 .6-12.1 .6-20.5 .6 30 .6-86.3 .6-.2 .6 87.2 .6-3.5 .6-6.4 .6-1.9 .6 6.2 .6 3.2 .6-12.8 .6 9.9 .6-.4 .6 4.7 .6-15.9 .6 18.2 .6-15.4 .6 2.7 .6-14.7 .6 11.5 .6-10.7 .6 21.3 .6-18.3 .6-18.8 .6 23.7 .6 16.5 .6-5.5 .6-2.5 .6-12.8 .6-60.2 .6 82.6 .6-30.3 .6 22.6 .6-4.3 .6-17.8 .6 24.2 .6-12.6 .6 9.3 .6-8.8 .6-37.6 .6 44.3 .6-.5 .6-9.2 .6 2.2 .6 3.7 .6 13.7 .6-7.9 .6 5.1 .6-5.5 .6 .4 .6 3.5 .6-9.2 .6-2.1 .6 6.2 .6 .5 .6-5 .6-5 .6 2.9 .6 4.8 .6-3.3 .6-31.2 .6 27.4 .6 9.6 .6-10.7 .6 3 .6-.4 .6-3 .6 10.6 .6-37.1 .6 38.5 .6-36.9 .6 28.7 .6-6.5 .6 11.4 .6 .4 .6 2.7 .6-8.9 .6-7.5 .6 17.1 .6-12.2 .6-20.5 .6 33.2 .6-29.9 .6 15.4 .6 2 .6 14.5 .6-6.3 .6 2.1 .6-8.5 .6-.7 .6 .8 .6 4.3 .6-28 .6 17.5 .6 9.6 .6-6.2 .6-7.8 .6 5.8 .6 7.9 .6 2 .6-5.9 .6 1.7 .6 9.3 .6-7.9 .6-.9 .6 5.1 .6-17.6 .6-6.9 .6 14.2 .6 10.8 .6-26.2 .6 30.2 .6-30.4 .6 35.4 .6-9.1 .6 5.2 .6 3 .6-36.5 .6 34.1 .6-2.4 .6-12.9 .6 17.9 .6-8.8 .6-1.2 .6-8 .6-6.3 .6 9.2 .6-17.3 .6 32.3 .6-12.7 .6 2.9 .6 10.2 .6-1.4 .6-5.3 .6-32.6 .6 24.5 .6 2.6 .6-2.8 .6 11.1 .6-4.7 .6 2.7 .6-2.4 .6 1.2 .6 3.7 .6-11.4 .6 6.5 .6 .3 .6-5.1 .6-3.7 .6 15.9 .6-16.2 .6-20.9 .6 19 .6-56.2 .6 63.3 .6-25.6 .6 34 .6-7.5 .6-4 .6 6.3 .6-2.9 .6 3 .6 5.6 .6-11 .6-15.1 .6 19.6 .6-5.8 .6 5.5 .6 3.4 .6-5.5 .6-8.7 .6-19.5 .6-7.1 .6 33.8 .6-18.5 .6 28.2 .6 3.2 .6-5.8 .6 3.2 .6-16.6 .6 15.9 .6-10.4 .6 16.4 .6-27.2 .6 25.8 .6-2.9 .6-41.9 .6 48.9 .6-6.1 .6-10.8 .6 8.1 .6-38.8 .6 24.3 .6 7.1 .6 2.5 .6-2.1 .6 4.2 .6-7.1 .6 14.9 .6 .5 .6-25.7 .6-2.5 .6 15.9 .6 12.9 .6 2.7 .6-32.2 .6 17.2 .6-17.1 .6-2.8 .6 21 .6-5.1 .6 8 .6 5.9 .6-33.9 .6-52.3 .6 85.8 .6 3.6 .6-15.9 .6-3.6 .6-2.1 .6 7.7 .6-27.6 .6 29.1 .6-5.8 .6 16.2 .6-10.6 .6-.4 .6-94.4 .6 100.9 .6-3.2 .6 5.6 .6-6.9 .6-5.9 .6 3 .6 2.6 .6-8 .6 12.4 .6-11.5 .6 13.9 .6 2.4 .6-28.9 .6 27.5 .6-10.9 .6 10.3 .6-7.8 .6-35.1 .6 41.3 .6-88.1 .6 88.9 .6-13.2 .6-11.9 .6 19.5 .6 8.4 .6-198 .6 190.1 .6-5.4 .6 4.4 .6 4.6 .6 2.9 .6 .9 .6-6.9 .6-2.9 .6-49.7 .6 63.4 .6-9.4 .6-7.5 .6-31.6 .6 38.7 .6-17.4 .6 11.4 .6-2.8 .6 16.7 .6-11.2 .6-7.1 .6 4.2 .6-18.7 .6 21.4 .6 2.6 .6-11.4 .6 5.4 .6 6.7 .6-55.1 .6 49.3 .6-5.5 .6 4.6 .6-30.9 .6 32.6 .6 10.8 .6-234.7 .6 227.8 .6-227.8 .6 61.3 .6 163.7 .6 4.2 .6 9.5 .6-38.7 .6 36.2 .6-23.7 .6 .1 .6 17.3 .6-4 .6 4.3 .6-35.3 .6 24.4 .6 8.1 .6 8.7 .6-9.4 .6-.7 .6 6 .6 .8 .6-34.7 .6 40.2 .6-9 .6 8.4 .6-14.2 .6 10.8 .6-7.2 .6-36.3 .6 30.9 .6-22 .6 34.1 .6-11.2 .6-29.6 .6 14.2 .6 24.5 .6-3.2 .6 5.7 .6 3.6 .6-18.3 .6 2.4 .6-5.7 .6 5.9 .6 8.2 .6 5.9 .6-14.6 .6 .7 .6 13.1 .6-5.4 .6-14 .6-3 .6 11.1 .6-.1 .6-6.2 .6 1.4 .6 4.4 .6 6.8 .6 .1 .6-34.6 .6-8 .6 4 .6 19.3 .6 23.1 .6-23.4 .6-12.7 .6 34.8 .6-3.2 .6-15.3 .6-8.7 .6 23.3 .6 5 .6-14.5 .6 8.3 .6 1.1 .6-.3 .6 3.1 .6 7.4 .6 3.3 .6-15.6 .6 4.9 .6-4.5 .6-.7 .6-26.9 .6 27.3 .6-9.3 .6 2.7 .6 0 .6 2.5 .6 .5 .6-1.7 .6 6.4 .6 7 .6-3.1 .6 6.9 .6-42.6 .6 30.9 .6 2.9 .6-8.5 .6-6.7 .6 12.8 .6-8.9 .6-3.1 .6 5.1 .6 5.7 .6-8.3 .6 1.7 .6-21.9 .6 33.2 .6-30.8 .6 15.1 .6 .6 .6 12.1 .6-2.1 .6 15.4 .6-13 .6-27.5 .6 25.7 .6 3.8 .6-4.6 .6 3.6 .6 5.7 .6-4.2 .6-.1 .6-.8 .6 .1 .6-1.5 .6-39.7 .6 42.3 .6 1.2 .6 .5 .6-44.2 .6 46 .6-77.4 .6 80.5 .6-10.2 .6 6 .6-10.7 .6-3.1 .6 17.6 .6-14.9 .6 16.2 .6-14.9 .6 6.5 .6-26.2 .6 22.1 .6-110.5 .6 85.7 .6 26.9 .6-102.3 .6 97.9 .6-1.5 .6-3.2 .6-219.3 .6 223.3 .6 4.9 .6-228.2 .6 223.5 .6 3.1 .6-2.7 .6 .7 .6 2.5 .6 .1 .6 .3 .6-2.9 .6 1.6 .6 1.2 .6-.6 .6 .1 .6 1.2 .6-5.3 .6 3.3 .6-2.2 .6 2.7 .6-4.1 .6 3 .6 .2 .6 .2 .6-4.1 .6 1.3 .6 3.1 .6-1.1 .6 .5 .6 .2 .6-.6 .6 2 .6-3.6 .6 2.5 .6-2.4 .6-.1 .6 .6 .6-.5 .6 .8 .6 2.2 .6-2.6 .6 0 .6 2 .6 .9 .6-4.5 .6 3.7 .6-1.5 .6 1.2 .6-2.5 .6 2.1 .6-.6 .6 1.5 .6 .4 .6-3.1 .6 2.9 .6 .6 .6-3 .6 0 .6 4.2 .6 5.8 .6-6.5 .6 1.1 .6 9.7 .6-9 .6-2.5 .6 5.1 .6-11.9 .6 20.8 .6-46.8 .6 19.5 .6 15.5 .6 10.4 .6-17.3 .6-44.1 .6 51.9 .6 15.2 .6-19.4 .6 .3 .6 17 .6-23.1 .6 11.1 .6-.2 .6-6 .6-1.3 .6 4.7 .6-.4 .6-.2 .6-.5 .6-1.3 .6-1.5 .6 1.1 .6 2.4 .6-3.3 .6 .7 .6 2 .6-.1 .6-.5 .6 .8 .6-2.3 .6-.2 .6-.5 .6 2.3 .6-.7 .6 1.4 .6 .1 .6-.9 .6-.1 .6 .5 .6-2 .6 2.6 .6-1.6 .6 2.5 .6-.8 .6 1.3 .6-1.9 .6-1.1 .6 1.4 .6-1.3 .6-1.8 .6-.1 .6 0 .6-14.9 .6 17.8 .6-1.2 .6 3.3 .6 3.6 .6-12 .6 2.7 .6 1.7 .6 2 .6 .9 .6-1.4 .6-1.9 .6-20.6 .6 18.4 .6-.4 .6 2.4 .6 1.1 .6 1.4 .6-2 .6-1.1 .6-.2 .6-.6 .6 3.4 .6 1.6 .6-1.1 .6-2.7 .6 .3 .6 2.6 .6-2 .6 .7 .6-2.2 .6-.7 .6-.2 .6-.3 .6 .7 .6-1.4 .6 4.3 .6-2 .6-.8 .6-1.1 .6-.4 .6 .8 .6 1.2 .6-2 .6 1.1 .6 1.5 .6-2.3 .6 3.9 .6-1.9 .6-.4 .6 2.2 .6-2.5 .6 .6 .6 3.4 .6-2.5 .6-2.4 .6 .5 .6 1.3 .6-2.3 .6 .4 .6 3.3 .6-11.4 .6 10.9 .6-.1 .6 .3 .6-2.8 .6 2.1 .6-.4 .6-.7 .6 1.2 .6 .1 .6-1.4 .6 2.3 .6-3.1 .6 .8 .6-.9 .6 .6 .6 .4 .6 1 .6 1.4 .6-3.5 .6 .2 .6-8.4 .6 11 .6-1.2 .6 1.8 .6-3.3 .6 3.5 .6-3.8 .6 1.9 .6 .7 .6-.8 .6 0 .6 .8 .6-2.2 .6 3.3 .6-1.6 .6-2.2 .6 2 .6-1.5 .6 4 .6-1.5 .6 .7 .6-.9 .6 .4 .6-2.9 .6 2.1 .6-3.1 .6 4.1 .6-1 .6-.1 .6-.9 .6 1.1 .6-1.4 .6 1.9 .6 .4 .6-1.6 .6-1.3 .6-.3 .6 2.6 .6-2.8 .6 1.2 .6-2.2 .6 3.8 .6-2.3 .6-1.6 .6 2 .6 .4 .6-.8 .6 .7 .6-.8 .6 1.9 .6-1.4 .6 .4 .6 .4 .6-.4 .6 .4 .6 0 .6-2.1 .6 3.9 .6 1.4 .6-2.5 .6-3.4 .6-23.2 .6 27.7 .6-.5 .6 .9 .6-2.5 .6-2.7 .6 4.2 .6-1.5 .6 1.4 .6 2.6 .6 1 .6-9.7 .6 9.5 .6-2.9 .6 1.7 .6-3.8 .6 2.9 .6 3 .6-5.2 .6 7.7 .6-1.9 .6-2.2 .6 2.8 .6-6.5 .6 .7 .6 4.7 .6-3.1 .6 1.1 .6-2.1 .6-2.9 .6 5.3 .6-2.2 .6-1.6 .6 1.1 .6-1.5 .6 2.4 .6-11.6 .6 6.7 .6-1.9 .6 6.3 .6 .5 .6 .2 .6-4.1 .6 5.9 .6 .6 .6 .8 .6 0 .6-1.9 .6-3 .6-3.3 .6-1.1 .6 6.1 .6-3.2 .6 2.2 .6 2.6 .6-5 .6 .2 .6 8.2 .6-2.8 .6-.3 .6 .6 .6-3.3 .6 .7 .6 3 .6-3.8 .6-1.6 .6 2.4 .6-.3 .6 1.1 .6-26.1 .6 19.2 .6 2 .6 6.4 .6-3.9 .6-4.2 .6 1.3 .6 4.1 .6-1.3 .6 1 .6 4 .6-8.3 .6 2.9 .6-4.8 .6 12.2 .6-8.1 .6-1 .6 10.7 .6-25.4 .6 8.1 .6-4 .6 4.9 .6 12.3 .6-12.1 .6 2.9 .6 2.5 .6-8 .6-1.8 .6 6.4 .6-.7 .6 7.8 .6-8.4 .6 3.4 .6-2 .6 .5 .6 2.2 .6 8.2 .6-4.7 .6-24.3 .6 30.8 .6-12.6 .6-10.5 .6 1.9 .6 19 .6-6 .6-11.5 .6 6.7 .6-6.7 .6 21.1 .6 3.5 .6-10.9 .6 8 .6-6.8 .6-13.8 .6 17.7 .6-4.2 .6-9.6 .6 3.9 .6 14.4 .6-14.2 .6 14 .6-5.5 .6-1.4 .6-.3 .6-7.9 .6 1.5 .6-4.5 .6 13.1 .6-4.5 .6-3.6 .6-8.4 .6-1 .6 4.4 .6-.9 .6-5 .6 21.4 .6-13.4 .6-1.1 .6 4.1 .6-2.9 .6 7.7 .6 2.5 .6-1.1 .6 1.4 .6-4.5 .6-7.1 .6 .2 .6 5.9 .6 6.4 .6-2.9 .6 3.7 .6-3.8 .6-3.5 .6 7.3 .6 1.8 .6-12.2 .6-3.3 .6 3.8 .6 6.6 .6-1.1 .6 2.1 .6-3 .6-6.4 .6 8.4 .6-8.2 .6 4.1 .6 3 .6 4.7 .6-8.8 .6-8.4 .6 15.2 .6-5.1 .6 1.3 .6-3.4 .6 7.5 .6-4.4 .6-4.9 .6 1.3 .6 1.9 .6 3.1 .6-6.3 .6-.8 .6 3.3 .6 9.5 .6-5 .6-1.2 .6 .9 .6 .5 .6-3.3 .6 .8 .6 3.6 .6 3.4 .6-9.1 .6 3.6 .6 5.1 .6-5.7 .6-3.5 .6-19.2 .6 25.3 .6-10.3 .6 2.2 .6 .5 .6 4.2 .6 1.3 .6 2.1 .6-.1 .6-3 .6 .2 .6-.3 .6-.5 .6 .6 .6 .1 .6 1.7 .6-.8 .6-.2 .6-.5 .6 .3 .6-.7 .6 1.2 .6-.7 .6-1.5 .6-.1 .6 .6 .6 1.9 .6-.1 .6-2.3 .6 .3 .6 1.3 .6-.2 .6-.1 .6 .9 .6-.4 .6 .7 .6-2.6 .6 2.1 .6-1 .6 1.6 .6-.4 .6 .2 .6-1.7 .6 1.5 .6-1.7 .6 .7 .6-1.5 .6 1 .6 0 .6 2 .6-.8 .6 0 .6 1.4 .6-.9 .6-1 .6 1.2 .6-.7 .6-1.3 .6 .5 .6-1.3 .6 1 .6 1.4 .6-1.5 .6-.1 .6-1.2 .6 3.6 .6-1 .6-1.6 .6-.8 .6 2.7 .6-3.1 .6 1.7 .6 .5 .6-2.6 .6 3.4 .6-1.4 .6-.1 .6-1.2 .6-.9 .6-.2 .6 2.8 .6-.6 .6 .3 .6-1.4 .6 .9 .6 1.1 .6-.6 .6 2.5 .6-1.9 .6-13.1 .6 14 .6 5.6 .6-.9 .6-3.9 .6 3.1 .6-12.6 .6 4.4 .6-4.5 .6 12.3 .6-11.8 .6 12.1 .6-5.4 .6 5.6 .6 2.6 .6-10.8 .6-3 .6 4 .6 4.4 .6-4.5 .6 .5 .6-1.8 .6 .7 .6-.2 .6 .2 .6 4.8 .6-2.5 .6 .4 .6-2.2 .6 1.7 .6 1 .6-2.7 .6 .8 .6 2.6 .6-2.1 .6 .7 .6-2.7 .6 1.3 .6 2.3 .6-2.3 .6 2.6 .6 .9 .6-1.4 .6-2.4 .6 1.5 .6-2.3 .6 2.5 .6-1.4 .6 3.2 .6-3.4 .6 .9 .6 1.1 .6-.6 .6 2.3 .6 .2 .6-2.3 .6 .1 .6-.1 .6 2.7 .6-.8 .6-3.2 .6 1.9 .6-2 .6-1.9 .6 4.1 .6-1.9 .6-.6 .6 1 .6 2 .6-1.2 .6-.5 .6-.4 .6-1.4 .6 4 .6-4.1 .6 2.5 .6-1.5 .6-1.4 .6 3.9 .6-.3 .6-2.4 .6 0 .6 3.7 .6-1.5 .6-2.1 .6 3.5 .6-3.1 .6 2.6 .6-.3 .6-2 .6 2.7 .6-1.4 .6-2.3 .6 2.5 .6-.6 .6 1.6 .6-2 .6 1.6 .6 1.3 .6-1.7 .6-1.6 .6-.6 .6 .2 .6-.4 .6 2.6 .6 .1 .6 .9 .6-2.5 .6 .5 .6-.7 .6 1.1 .6 1.7 .6-.2 .6-.8 .6-2.9 .6 2.8 .6 2.4 .6-.5 .6 1.2 .6-.2 .6 1.5 .6-7.5 .6 7.6 .6-10.8 .6 12 .6-9.2 .6-4.9 .6 9.5 .6-1.2 .6-7.3 .6-3.5 .6 12.6 .6-7.1 .6 9.5 .6-13 .6 7.8 .6-3.2 .6 2.1 .6-9.1 .6 7.5 .6-1.8 .6 3.7 .6-.7 .6 1.9 .6-3.2 .6 1.8 .6 .3 .6 3 .6-.5 .6-3 .6 1.4 .6-1.3 .6 .9 .6 1.1 .6 1.3 .6-3.4 .6 4.3 .6-5.2 .6-.6 .6 3.6 .6-3.2 .6 3.9 .6-4.3 .6 2.2 .6 2.1 .6-2.4 .6 3.3 .6-3.7 .6 3.1 .6 .5 .6 .4 .6-.1 .6-1.6 .6-4.6 .6 1.8 .6 2.5 .6-3.4 .6 3.9 .6-1.2 .6 2.5 .6-1.9 .6-3.3 .6 3.3 .6-3.8 .6 3.9 .6-.8 .6-.8 .6-.6 .6 2.5 .6-2.3 .6 .7 .6 2.1 .6 .3 .6-3 .6 4.1 .6-.7 .6-.8 .6-1.3 .6 1.9 .6-.7 .6-2.1 .6-1.9 .6 3.2 .6-1.4 .6 1.5 .6-1.6 .6 2.5 .6-3.3 .6 .2 .6 .4 .6-.2 .6-2.2 .6 3.5 .6 2.3 .6-3.8 .6 3.5 .6-1.4 .6-3.1 .6 2.2 .6-2.1 .6 .1 .6 1.1 .6 4.5 .6-3.7 .6-6.7 .6 7.6 .6-.3 .6 3 .6-7.5 .6 9.3 .6-8 .6 1.5 .6 6.7 .6-6.5 .6 10 .6-1.6 .6 3.5 .6-6.3 .6-22.4 .6 14.3 .6-4.2 .6 5.8 .6 4.6 .6 3.8 .6-12.8 .6 14.6 .6-3.7 .6-10 .6 12.8 .6 3.9 .6-13.1 .6 5.7 .6 4.8 .6-12.5 .6 2.8 .6 .5 .6 1.6 .6-8.3 .6 0 .6 9.2 .6-12.1 .6 6.3 .6 6.4 .6-8.8 .6 12.7 .6-3.8 .6-10.3 .6 2.3 .6 12.1 .6-15.1 .6-1.2 .6 .3 .6 7.6 .6 11 .6-3.6 .6 7 .6-10.3 .6-9.2 .6 13.7 .6-7.8 .6 1.3 .6 9.4 .6-12.1 .6-6 .6 9.4 .6 10.4 .6-17.4 .6 1.1 .6 11.4 .6-11.7 .6 13.9 .6-4.2 .6-11.5 .6 1.5 .6 12.9 .6-5.7 .6-11.8 .6 14.5 .6 0 .6-7.3 .6 4.4 .6-2 .6 9.1 .6 2.3 .6-14.7 .6 7.2 .6-7.6 .6 9.2 .6-.3 .6-4 .6 7.4 .6-11.5 .6 3.6 .6 3.6 .6-10.5 .6 6.6 .6 7.3 .6-4.8 .6 .6 .6-4.2 .6 1.7 .6 1.9 .6-3.3 .6 12.4 .6-14.9 .6 11.3 .6-35.4 .6 26.4 .6-5 .6 19.5 .6-18.7 .6 6.8 .6 7.7 .6-1.6 .6 1.1 .6-10.3 .6-1.1 .6 3.5 .6-6.7 .6 1.2 .6 7.5 .6-6.5 .6 6.9 .6-2.6 .6 0 .6 9.7 .6-5.8 .6-1.7 .6 2.7 .6-1.8 .6 4.8 .6-10 .6-3.2 .6 5.7 .6-8.8 .6 11.7 .6 5 .6 6.8 .6-10.5 .6 9.9 .6-17.6 .6 13 .6 2.8 .6-4.1 .6-6.1 .6 1 .6 2 .6 .5 .6-10.6 .6 8.4 .6-11.7 .6 14.8 .6-8.3 .6-6.5 .6 8.9 .6 2.4 .6 7.1 .6-14.4 .6-1.3 .6 8.3 .6 4.8 .6-19.7 .6 10.7 .6-6.2 .6 8.8 .6-4.1 .6 4.7 .6 10 .6-18.1 .6 13 .6-2.6 .6-13.7 .6 10.1 .6 .5 .6 5.3 .6-17 .6 4.2 .6 11.5 .6-.2 .6-8.3 .6-6.3 .6 22 .6-12.5 .6-2.4 .6 8.3 .6-8 .6-7.2 .6 9.7 .6-3.4 .6 15 .6 2.8 .6-4.4 .6-1.3 .6 1 .6-34.8 .6 26.7 .6 14.4 .6-8 .6-.2 .6 .5 .6 0 .6-6 .6-7.8 .6 10.9 .6-16.9 .6 11.3 .6-5.3 .6 17.2 .6-5.8 .6-9.1 .6 13.6 .6-2.8 .6-3.5 .6-55.4 .6 56.4 .6-7.3 .6-1.9 .6 1.8 .6-2.3 .6 15.5 .6-.1 .6 1.6 .6-2.9 .6 2.6 .6-14.6 .6-3.8 .6 4.7 .6 19.6 .6-11.3 .6 2.3 .6-7.4 .6-11.5 .6 15.6 .6 .8 .6 4.6 .6-9.2 .6 7.4 .6-24 .6 6.7 .6 17.6 .6-11.7 .6-11.4 .6 19.7 .6-9.3 .6 0 .6 8.8 .6 10.3 .6-13.9 .6-7.4 .5-3.6 .5 18.4 .5-170.9 .5 106.3 .5 10.6 .5 70.9 .5-35.9 .5 9.5 .5 43.9 .5-23.6 .5-31.2 .5-93.9 .5 112.4 .5 39.9 .5-28.9 .5-2 .5-23.5 .5 2.3 .5 32.7 .5-52.5 .5 6.1 .5 25.9 .5 12.8 .5 7 .5-26.7 .5 16.6 .5 9.9 .5-4.6 .5-28.3 .5-3.9 .5 28 .5-23 .5 20.2 .5 8 .5-43.7 .5 5.6 .5 26.2 .5 6.4 .5-23.5 .5 12.9 .5-19.1 .5-8.4 .5-80 .5-126.8 .5 261.2 .5-261.2 .5 110.6 .5 127.9 .5 34.1 .5-92.1 .5 13.2 .5 26.2 .5 27 .5 1.2 .5 15.5 .5-112.8 .5 109.2 .5-16.3 .5-41.1 .5 40.8 .5 .2 .5 0 .5-39.1 .5-38.4 .5 65.7 .5-10.2 .5-17.9 .5 12 .5-30.8 .5 28.1 .5-14.1 .5 8.2 .5 11 .5 18.8 .5-236.9 .5 123.2 .5 138.3 .5-74.8 .5 21.5 .5-95 .5 103.5 .5-23.9 .5 36.3 .5-11 .5-124.4 .5 173.6 .5-110.2 .5 44 .5 58.9 .5-81 .5-17.5 .5-14.9 .5 88.5 .5-11.1 .5-20.3 .5 56.5 .5-94.3 .5 25.1 .5-30.9 .5 90.1 .5-91.3 .5 69.5 .5-1.5 .5-80.5 .5 42.6 .5 25.8 .5-214.8 .5 144.8 .5 35.7 .5 68.3 .5-135.4 .5 62 .5 26.7 .5 45 .5-11.5 .5-22.6 .5 48.9 .5-57.6 .5 26.5 .5-7.5 .5-35.5 .5 41 .5 9.9 .5-57.8 .5-42.9 .5-5.8 .5 143.9 .5-136 .5 46.4 .5 60.8 .5-25.7 .5-19.8 .5 37 .5-115 .5-63.1 .5 204.6 .5-10.6 .5-1.5 .5-41.3 .5-19.4 .5 33.8 .5-89.6 .5 103.6 .5-92.7 .5 90.5 .5-50 .5 30.6 .5 21.6 .5-21.5 .5 5.7 .5 29 .5-19.6 .5 16.2 .5-18.8 .5 .3 .5 10.3 .5 14.7 .5-39 .5 29.6 .5-118.1 .5 103.6 .5 .1 .5-2.9 .5 14.9 .5-4.4 .5-97.4 .5 73.8 .5-50.5 .5 91 .5-4 .5-10.7 .5-88 .5 7.6 .5 74.3 .5 13.3 .5-12.4 .5-21.4 .5-10.8 .5-5.1 .5 45.7 .5-33.2 .5-28.3 .5 53.2 .5-213 .5 201.7 .5-32.2 .5-35.1 .5 89.4 .5 12.7 .5-95.4 .5 54.2 .5-51.8 .5-4.9 .5 72.5 .5-55.8 .5-2.6 .5-5.8 .5 11.9 .5 61.4 .5 19.7 .5-2.2 .5-254.7 .5 254.8 .5-64.2 .5 25.7 .5-9.3 .5 46.1 .5-67.2 .5 43.1 .5 21.9 .5-105.2 .5 38.7 .5-59.9 .5 132.7 .5-87.4 .5 120.1 .5-105.1 .5 65.6 .5-34.9 .5 40.6 .5-86.9 .5 97.1 .5-36.4 .5-88 .5-70.3 .5 164.2 .5-114.3 .5-4.7 .5 118.6 .5-98.7 .5 76.5 .5 24.1 .5-42.1 .5-28.1 .5-38.9 .5-6.3 .5 105 .5-35.9 .5 60.6 .5-36.4 .5-24.1 .5-.4 .5-28.7 .5-25.1 .5 35.3 .5 67.7 .5-51.9 .5-5.7 .5 65.4 .5-27.2 .5 6.1 .5-234.1 .5 198 .5-68.4 .5 82.6 .5-7 .5 80 .5-83.4 .5-11.9 .5 61.9 .5-63.7 .5 28.9 .5-9.6 .5-207.4 .5 265.7 .5-80.7 .5 7.9 .5-23.9 .5 38.6 .5-46.3 .5 65.3 .5 6.8 .5 36.7 .5-68.3 .5 29.8 .5 37.4 .5-30.9 .5 14.4 .5-117.9 .5 87.7 .5-3.4 .5-23.3 .5 10.3 .5 10.7 .5 12.8 .5-44.1 .5 71.6 .5 28.6 .5-71.6 .5-17.4 .5-72.8 .5 108 .5-63.9 .5 30.7 .5 42.4 .5-83.7 .5 10.9 .5-15.7 .5 2.8 .5 119 .5-41.7 .5 23.6 .5-16 .5-88.4 .5 113.2 .5-10.2 .5-194 .5 128.5 .5-5.3 .5 44.7 .5-1.9 .5-53 .5 56.6 .5-72.9 .5 75.7 .5-32.5 .5-154.6 .5 190.9 .5-4 .5-32.6 .5-8.7 .5-191.6 .5 248.5 .5-81.5 .5 9 .5 56.6 .5-53.7 .5-168.7 .5 243.3 .5-69.8 .5 42.1 .5-165.1 .5 143.1 .5-17 .5-33.4 .5-14.3 .5 90.5 .5 39.6 .5-19.7 .5-96.5 .5 21.8 .5 69.9 .5-59.8 .5-105.8 .5 88.6 .5-1.1 .5 35.3 .5 68.7 .5-3.8 .5 .4 .5-59 .5-53.2 .5 68.4 .5 18.2 .5-13.3 .5-45.4 .5 15.2 .5-1.6 .5 25.1 .5-3.8 .5-28.1 .5-21 .5 77.5 .5-31.1 .5 .5 .5 11.3 .5 25.2 .5-6.3 .5-57.7 .5 30.4 .5-6.7 .5 47.1 .5-38.3 .5-11.5 .5-14.7 .5 41.4 .5 6 .5 12.7 .5-7.8 .5-3.2 .5-100.3 .5 13.5 .5 34.7 .5 8.6 .5 18.7 .5 18.4 .5-87.7 .5 61 .5 49.9 .5-46.3 .5-45.1 .5 66.7 .5-19.3 .5 34.2 .5-15.7 .5 .5 .5 7.2 .5 18.1 .5-35.7 .5 12.6 .5-13 .5-4.7 .5 11.8 .5-32.3 .5 11.7 .5-56.9 .5 86.1 .5-74.6 .5 12.5 .5 6.8 .5 79.3 .5-150.1 .5 87.7 .5 34.9 .5-47.9 .5 56.2 .5-105.7 .5 46.8 .5-8.5 .5 47.7 .5 12 .5-51.1 .5-76.6 .5 53.6 .5 34.3 .5 5.1 .5 11.4 .5 4.1 .5 6.1 .5-34.9 .5-44.7 .5 92.4 .5-3 .5-114.7 .5 117.8 .5-22.4 .5 25.4 .5-27.7 .5 13 .5-1.4 .5 17.5 .5-94.7 .5 98.6 .5-21.5 .5-.3 .5 21.9 .5-107.3 .5 83.4 .5-2.5 .5 15.4 .5-122.6 .5 110.6 .5-81.6 .5 74.4 .5-62 .5 63.4 .5 39.8 .5-45.2 .5 53.3 .5-64.8 .5 50.8 .5-94.1 .5 35.1 .5 29.7 .5 32.9 .5-89.8 .5-19.6 .5 115 .5-141.1 .5 103.6 .5-86.7 .5 113.1 .5-74 .5 92.7 .5 22.2 .5-135.5 .5-4.5 .5-17.1 .5-8.2 .5 44 .5 28.4 .5-196.7 .5 238.5 .5 21.8 .5-97.6 .5-7.6 .5 110.3 .5 36.2 .5-49.4 .5-96.5 .5-109.7 .5 127.3 .5 91.9 .5-127 .5 117.1 .5 8.6 .5-211.1 .5 178.2 .5-23 .5-19.3 .5 80 .5-79 .5 53.2 .5-11.7 .5 20.7 .5 42.9 .5-80.5 .5 74.6 .5-19 .5 7.2 .5-273.7 .5 293.2 .5-75.8 .5-47.4 .5 94.9 .5-90.8 .5 4.4 .5-62.7 .5 77.5 .5 98.4 .5-106.4 .5 20.2 .5-22.7 .5-53.2 .5 33.9 .5 13.5 .5 26.1 .5-77.2 .5 17.5 .5 11.4 .5-90 .5 76.6 .5 19.9 .5 93.4 .5 2.2 .5-70.2 .5 77.4 .5 27.6 .5-80.7 .5 51.4 .5 6.6 .5 6.6 .5-127.3 .5 110.8 .5-10.1 .5 4.9 .5-26.1 .5-140.9 .5 185.3 .5-58.9 .5-9.5 .5-84.7 .5 117.8 .5 18.4 .5-258.7 .5 204.4 .5 30.1 .5 24.8 .5 0 .5-53.8 .5 54 .5-17.6 .5-53 .5-74.3 .5 114.7 .5-63.4 .5-13.1 .5 10.5 .5 35.8 .5-1.4 .5 68.4 .5-59.1 .5-20.8 .5 8.6 .5-9.7 .5 81.5 .5-133.2 .5 92.7 .5-226.1 .5 117.3 .5 112.8 .5-14.5 .5 20.1 .5-68.4 .5 18.5M276.4 2043.1l0 82.4M1965.9 2016.5l0-90.3 23.9 0M1967.6 2016.5l25.6 0" stroke="#000" stroke-width="2.9" fill="none" stroke-linejoin="round"/>
<path d="M280.8 58.85v12.2 M280.8 307.15v-12.2 M313.4 58.85v12.2 M313.4 307.15v-12.2 M346 58.85v12.2 M346 307.15v-12.2 M411.2 58.85v12.2 M411.2 307.15v-12.2 M443.8 58.85v12.2 M443.8 307.15v-12.2 M476.4 58.85v12.2 M476.4 307.15v-12.2 M509 58.85v12.2 M509 307.15v-12.2 M541.6 58.85v12.2 M541.6 307.15v-12.2 M606.8 58.85v12.2 M606.8 307.15v-12.2 M639.4 58.85v12.2 M639.4 307.15v-12.2 M672 58.85v12.2 M672 307.15v-12.2 M704.6 58.85v12.2 M704.6 307.15v-12.2 M737.2 58.85v12.2 M737.2 307.15v-12.2 M802.4 58.85v12.2 M802.4 307.15v-12.2 M835 58.85v12.2 M835 307.15v-12.2 M867.6 58.85v12.2 M867.6 307.15v-12.2 M900.2 58.85v12.2 M900.2 307.15v-12.2 M932.8 58.85v12.2 M932.8 307.15v-12.2 M998 58.85v12.2 M998 307.15v-12.2 M1030.6 58.85v12.2 M1030.6 307.15v-12.2 M1063.2 58.85v12.2 M1063.2 307.15v-12.2 M1095.8 58.85v12.2 M1095.8 307.15v-12.2 M1128.4 58.85v12.2 M1128.4 307.15v-12.2 M1193.6 58.85v12.2 M1193.6 307.15v-12.2 M1226.2 58.85v12.2 M1226.2 307.15v-12.2 M1258.8 58.85v12.2 M1258.8 307.15v-12.2 M1291.4 58.85v12.2 M1291.4 307.15v-12.2 M1324 58.85v12.2 M1324 307.15v-12.2 M1389.2 58.85v12.2 M1389.2 307.15v-12.2 M1421.8 58.85v12.2 M1421.8 307.15v-12.2 M1454.4 58.85v12.2 M1454.4 307.15v-12.2 M1487 58.85v12.2 M1487 307.15v-12.2 M1519.6 58.85v12.2 M1519.6 307.15v-12.2 M1584.8 58.85v12.2 M1584.8 307.15v-12.2 M1617.4 58.85v12.2 M1617.4 307.15v-12.2 M1650 58.85v12.2 M1650 307.15v-12.2 M1682.6 58.85v12.2 M1682.6 307.15v-12.2 M1715.2 58.85v12.2 M1715.2 307.15v-12.2 M1780.4 58.85v12.2 M1780.4 307.15v-12.2 M1813 58.85v12.2 M1813 307.15v-12.2 M1845.6 58.85v12.2 M1845.6 307.15v-12.2 M1878.2 58.85v12.2 M1878.2 307.15v-12.2 M1910.8 58.85v12.2 M1910.8 307.15v-12.2 M1976 58.85v12.2 M1976 307.15v-12.2 M262.25 285.08h12.2 M1992.3 285.08h-12.2 M262.25 263.01h12.2 M1992.3 263.01h-12.2 M262.25 240.94h12.2 M1992.3 240.94h-12.2 M262.25 218.87h12.2 M1992.3 218.87h-12.2 M262.25 174.72h12.2 M1992.3 174.72h-12.2 M262.25 152.65h12.2 M1992.3 152.65h-12.2 M262.25 130.58h12.2 M1992.3 130.58h-12.2 M262.25 108.51h12.2 M1992.3 108.51h-12.2 M262.25 64.37h12.2 M1992.3 64.37h-12.2 M280.8 319.21v12.2 M280.8 567.51v-12.2 M313.4 319.21v12.2 M313.4 567.51v-12.2 M346 319.21v12.2 M346 567.51v-12.2 M411.2 319.21v12.2 M411.2 567.51v-12.2 M443.8 319.21v12.2 M443.8 567.51v-12.2 M476.4 319.21v12.2 M476.4 567.51v-12.2 M509 319.21v12.2 M509 567.51v-12.2 M541.6 319.21v12.2 M541.6 567.51v-12.2 M606.8 319.21v12.2 M606.8 567.51v-12.2 M639.4 319.21v12.2 M639.4 567.51v-12.2 M672 319.21v12.2 M672 567.51v-12.2 M704.6 319.21v12.2 M704.6 567.51v-12.2 M737.2 319.21v12.2 M737.2 567.51v-12.2 M802.4 319.21v12.2 M802.4 567.51v-12.2 M835 319.21v12.2 M835 567.51v-12.2 M867.6 319.21v12.2 M867.6 567.51v-12.2 M900.2 319.21v12.2 M900.2 567.51v-12.2 M932.8 319.21v12.2 M932.8 567.51v-12.2 M998 319.21v12.2 M998 567.51v-12.2 M1030.6 319.21v12.2 M1030.6 567.51v-12.2 M1063.2 319.21v12.2 M1063.2 567.51v-12.2 M1095.8 319.21v12.2 M1095.8 567.51v-12.2 M1128.4 319.21v12.2 M1128.4 567.51v-12.2 M1193.6 319.21v12.2 M1193.6 567.51v-12.2 M1226.2 319.21v12.2 M1226.2 567.51v-12.2 M1258.8 319.21v12.2 M1258.8 567.51v-12.2 M1291.4 319.21v12.2 M1291.4 567.51v-12.2 M1324 319.21v12.2 M1324 567.51v-12.2 M1389.2 319.21v12.2 M1389.2 567.51v-12.2 M1421.8 319.21v12.2 M1421.8 567.51v-12.2 M1454.4 319.21v12.2 M1454.4 567.51v-12.2 M1487 319.21v12.2 M1487 567.51v-12.2 M1519.6 319.21v12.2 M1519.6 567.51v-12.2 M1584.8 319.21v12.2 M1584.8 567.51v-12.2 M1617.4 319.21v12.2 M1617.4 567.51v-12.2 M1650 319.21v12.2 M1650 567.51v-12.2 M1682.6 319.21v12.2 M1682.6 567.51v-12.2 M1715.2 319.21v12.2 M1715.2 567.51v-12.2 M1780.4 319.21v12.2 M1780.4 567.51v-12.2 M1813 319.21v12.2 M1813 567.51v-12.2 M1845.6 319.21v12.2 M1845.6 567.51v-12.2 M1878.2 319.21v12.2 M1878.2 567.51v-12.2 M1910.8 319.21v12.2 M1910.8 567.51v-12.2 M1976 319.21v12.2 M1976 567.51v-12.2 M262.25 550.96h12.2 M1992.3 550.96h-12.2 M262.25 517.85h12.2 M1992.3 517.85h-12.2 M262.25 501.3h12.2 M1992.3 501.3h-12.2 M262.25 484.74h12.2 M1992.3 484.74h-12.2 M262.25 468.19h12.2 M1992.3 468.19h-12.2 M262.25 435.08h12.2 M1992.3 435.08h-12.2 M262.25 418.53h12.2 M1992.3 418.53h-12.2 M262.25 401.98h12.2 M1992.3 401.98h-12.2 M262.25 385.42h12.2 M1992.3 385.42h-12.2 M262.25 352.32h12.2 M1992.3 352.32h-12.2 M262.25 335.76h12.2 M1992.3 335.76h-12.2 M280.8 579.57v12.2 M280.8 827.87v-12.2 M313.4 579.57v12.2 M313.4 827.87v-12.2 M346 579.57v12.2 M346 827.87v-12.2 M411.2 579.57v12.2 M411.2 827.87v-12.2 M443.8 579.57v12.2 M443.8 827.87v-12.2 M476.4 579.57v12.2 M476.4 827.87v-12.2 M509 579.57v12.2 M509 827.87v-12.2 M541.6 579.57v12.2 M541.6 827.87v-12.2 M606.8 579.57v12.2 M606.8 827.87v-12.2 M639.4 579.57v12.2 M639.4 827.87v-12.2 M672 579.57v12.2 M672 827.87v-12.2 M704.6 579.57v12.2 M704.6 827.87v-12.2 M737.2 579.57v12.2 M737.2 827.87v-12.2 M802.4 579.57v12.2 M802.4 827.87v-12.2 M835 579.57v12.2 M835 827.87v-12.2 M867.6 579.57v12.2 M867.6 827.87v-12.2 M900.2 579.57v12.2 M900.2 827.87v-12.2 M932.8 579.57v12.2 M932.8 827.87v-12.2 M998 579.57v12.2 M998 827.87v-12.2 M1030.6 579.57v12.2 M1030.6 827.87v-12.2 M1063.2 579.57v12.2 M1063.2 827.87v-12.2 M1095.8 579.57v12.2 M1095.8 827.87v-12.2 M1128.4 579.57v12.2 M1128.4 827.87v-12.2 M1193.6 579.57v12.2 M1193.6 827.87v-12.2 M1226.2 579.57v12.2 M1226.2 827.87v-12.2 M1258.8 579.57v12.2 M1258.8 827.87v-12.2 M1291.4 579.57v12.2 M1291.4 827.87v-12.2 M1324 579.57v12.2 M1324 827.87v-12.2 M1389.2 579.57v12.2 M1389.2 827.87v-12.2 M1421.8 579.57v12.2 M1421.8 827.87v-12.2 M1454.4 579.57v12.2 M1454.4 827.87v-12.2 M1487 579.57v12.2 M1487 827.87v-12.2 M1519.6 579.57v12.2 M1519.6 827.87v-12.2 M1584.8 579.57v12.2 M1584.8 827.87v-12.2 M1617.4 579.57v12.2 M1617.4 827.87v-12.2 M1650 579.57v12.2 M1650 827.87v-12.2 M1682.6 579.57v12.2 M1682.6 827.87v-12.2 M1715.2 579.57v12.2 M1715.2 827.87v-12.2 M1780.4 579.57v12.2 M1780.4 827.87v-12.2 M1813 579.57v12.2 M1813 827.87v-12.2 M1845.6 579.57v12.2 M1845.6 827.87v-12.2 M1878.2 579.57v12.2 M1878.2 827.87v-12.2 M1910.8 579.57v12.2 M1910.8 827.87v-12.2 M1976 579.57v12.2 M1976 827.87v-12.2 M262.25 814.08h12.2 M1992.3 814.08h-12.2 M262.25 800.28h12.2 M1992.3 800.28h-12.2 M262.25 786.49h12.2 M1992.3 786.49h-12.2 M262.25 758.9h12.2 M1992.3 758.9h-12.2 M262.25 745.1h12.2 M1992.3 745.1h-12.2 M262.25 731.31h12.2 M1992.3 731.31h-12.2 M262.25 717.51h12.2 M1992.3 717.51h-12.2 M262.25 689.93h12.2 M1992.3 689.93h-12.2 M262.25 676.13h12.2 M1992.3 676.13h-12.2 M262.25 662.34h12.2 M1992.3 662.34h-12.2 M262.25 648.54h12.2 M1992.3 648.54h-12.2 M262.25 620.95h12.2 M1992.3 620.95h-12.2 M262.25 607.16h12.2 M1992.3 607.16h-12.2 M262.25 593.36h12.2 M1992.3 593.36h-12.2 M280.8 839.93v12.2 M280.8 1088.23v-12.2 M313.4 839.93v12.2 M313.4 1088.23v-12.2 M346 839.93v12.2 M346 1088.23v-12.2 M411.2 839.93v12.2 M411.2 1088.23v-12.2 M443.8 839.93v12.2 M443.8 1088.23v-12.2 M476.4 839.93v12.2 M476.4 1088.23v-12.2 M509 839.93v12.2 M509 1088.23v-12.2 M541.6 839.93v12.2 M541.6 1088.23v-12.2 M606.8 839.93v12.2 M606.8 1088.23v-12.2 M639.4 839.93v12.2 M639.4 1088.23v-12.2 M672 839.93v12.2 M672 1088.23v-12.2 M704.6 839.93v12.2 M704.6 1088.23v-12.2 M737.2 839.93v12.2 M737.2 1088.23v-12.2 M802.4 839.93v12.2 M802.4 1088.23v-12.2 M835 839.93v12.2 M835 1088.23v-12.2 M867.6 839.93v12.2 M867.6 1088.23v-12.2 M900.2 839.93v12.2 M900.2 1088.23v-12.2 M932.8 839.93v12.2 M932.8 1088.23v-12.2 M998 839.93v12.2 M998 1088.23v-12.2 M1030.6 839.93v12.2 M1030.6 1088.23v-12.2 M1063.2 839.93v12.2 M1063.2 1088.23v-12.2 M1095.8 839.93v12.2 M1095.8 1088.23v-12.2 M1128.4 839.93v12.2 M1128.4 1088.23v-12.2 M1193.6 839.93v12.2 M1193.6 1088.23v-12.2 M1226.2 839.93v12.2 M1226.2 1088.23v-12.2 M1258.8 839.93v12.2 M1258.8 1088.23v-12.2 M1291.4 839.93v12.2 M1291.4 1088.23v-12.2 M1324 839.93v12.2 M1324 1088.23v-12.2 M1389.2 839.93v12.2 M1389.2 1088.23v-12.2 M1421.8 839.93v12.2 M1421.8 1088.23v-12.2 M1454.4 839.93v12.2 M1454.4 1088.23v-12.2 M1487 839.93v12.2 M1487 1088.23v-12.2 M1519.6 839.93v12.2 M1519.6 1088.23v-12.2 M1584.8 839.93v12.2 M1584.8 1088.23v-12.2 M1617.4 839.93v12.2 M1617.4 1088.23v-12.2 M1650 839.93v12.2 M1650 1088.23v-12.2 M1682.6 839.93v12.2 M1682.6 1088.23v-12.2 M1715.2 839.93v12.2 M1715.2 1088.23v-12.2 M1780.4 839.93v12.2 M1780.4 1088.23v-12.2 M1813 839.93v12.2 M1813 1088.23v-12.2 M1845.6 839.93v12.2 M1845.6 1088.23v-12.2 M1878.2 839.93v12.2 M1878.2 1088.23v-12.2 M1910.8 839.93v12.2 M1910.8 1088.23v-12.2 M1976 839.93v12.2 M1976 1088.23v-12.2 M262.25 1079.97h12.2 M1992.3 1079.97h-12.2 M262.25 1072.99h12.2 M1992.3 1072.99h-12.2 M262.25 1066.94h12.2 M1992.3 1066.94h-12.2 M262.25 1061.6h12.2 M1992.3 1061.6h-12.2 M262.25 1025.42h12.2 M1992.3 1025.42h-12.2 M262.25 1007.05h12.2 M1992.3 1007.05h-12.2 M262.25 994.02h12.2 M1992.3 994.02h-12.2 M262.25 983.91h12.2 M1992.3 983.91h-12.2 M262.25 975.65h12.2 M1992.3 975.65h-12.2 M262.25 968.67h12.2 M1992.3 968.67h-12.2 M262.25 962.62h12.2 M1992.3 962.62h-12.2 M262.25 957.28h12.2 M1992.3 957.28h-12.2 M262.25 921.11h12.2 M1992.3 921.11h-12.2 M262.25 902.74h12.2 M1992.3 902.74h-12.2 M262.25 889.7h12.2 M1992.3 889.7h-12.2 M262.25 879.59h12.2 M1992.3 879.59h-12.2 M262.25 871.33h12.2 M1992.3 871.33h-12.2 M262.25 864.35h12.2 M1992.3 864.35h-12.2 M262.25 858.3h12.2 M1992.3 858.3h-12.2 M262.25 852.96h12.2 M1992.3 852.96h-12.2 M280.8 1100.29v12.2 M280.8 1348.59v-12.2 M313.4 1100.29v12.2 M313.4 1348.59v-12.2 M346 1100.29v12.2 M346 1348.59v-12.2 M411.2 1100.29v12.2 M411.2 1348.59v-12.2 M443.8 1100.29v12.2 M443.8 1348.59v-12.2 M476.4 1100.29v12.2 M476.4 1348.59v-12.2 M509 1100.29v12.2 M509 1348.59v-12.2 M541.6 1100.29v12.2 M541.6 1348.59v-12.2 M606.8 1100.29v12.2 M606.8 1348.59v-12.2 M639.4 1100.29v12.2 M639.4 1348.59v-12.2 M672 1100.29v12.2 M672 1348.59v-12.2 M704.6 1100.29v12.2 M704.6 1348.59v-12.2 M737.2 1100.29v12.2 M737.2 1348.59v-12.2 M802.4 1100.29v12.2 M802.4 1348.59v-12.2 M835 1100.29v12.2 M835 1348.59v-12.2 M867.6 1100.29v12.2 M867.6 1348.59v-12.2 M900.2 1100.29v12.2 M900.2 1348.59v-12.2 M932.8 1100.29v12.2 M932.8 1348.59v-12.2 M998 1100.29v12.2 M998 1348.59v-12.2 M1030.6 1100.29v12.2 M1030.6 1348.59v-12.2 M1063.2 1100.29v12.2 M1063.2 1348.59v-12.2 M1095.8 1100.29v12.2 M1095.8 1348.59v-12.2 M1128.4 1100.29v12.2 M1128.4 1348.59v-12.2 M1193.6 1100.29v12.2 M1193.6 1348.59v-12.2 M1226.2 1100.29v12.2 M1226.2 1348.59v-12.2 M1258.8 1100.29v12.2 M1258.8 1348.59v-12.2 M1291.4 1100.29v12.2 M1291.4 1348.59v-12.2 M1324 1100.29v12.2 M1324 1348.59v-12.2 M1389.2 1100.29v12.2 M1389.2 1348.59v-12.2 M1421.8 1100.29v12.2 M1421.8 1348.59v-12.2 M1454.4 1100.29v12.2 M1454.4 1348.59v-12.2 M1487 1100.29v12.2 M1487 1348.59v-12.2 M1519.6 1100.29v12.2 M1519.6 1348.59v-12.2 M1584.8 1100.29v12.2 M1584.8 1348.59v-12.2 M1617.4 1100.29v12.2 M1617.4 1348.59v-12.2 M1650 1100.29v12.2 M1650 1348.59v-12.2 M1682.6 1100.29v12.2 M1682.6 1348.59v-12.2 M1715.2 1100.29v12.2 M1715.2 1348.59v-12.2 M1780.4 1100.29v12.2 M1780.4 1348.59v-12.2 M1813 1100.29v12.2 M1813 1348.59v-12.2 M1845.6 1100.29v12.2 M1845.6 1348.59v-12.2 M1878.2 1100.29v12.2 M1878.2 1348.59v-12.2 M1910.8 1100.29v12.2 M1910.8 1348.59v-12.2 M1976 1100.29v12.2 M1976 1348.59v-12.2 M262.25 1333.07h12.2 M1992.3 1333.07h-12.2 M262.25 1317.55h12.2 M1992.3 1317.55h-12.2 M262.25 1286.51h12.2 M1992.3 1286.51h-12.2 M262.25 1271h12.2 M1992.3 1271h-12.2 M262.25 1255.48h12.2 M1992.3 1255.48h-12.2 M262.25 1239.96h12.2 M1992.3 1239.96h-12.2 M262.25 1208.92h12.2 M1992.3 1208.92h-12.2 M262.25 1193.4h12.2 M1992.3 1193.4h-12.2 M262.25 1177.88h12.2 M1992.3 1177.88h-12.2 M262.25 1162.36h12.2 M1992.3 1162.36h-12.2 M262.25 1131.33h12.2 M1992.3 1131.33h-12.2 M262.25 1115.81h12.2 M1992.3 1115.81h-12.2 M280.8 1360.65v12.2 M280.8 1608.95v-12.2 M313.4 1360.65v12.2 M313.4 1608.95v-12.2 M346 1360.65v12.2 M346 1608.95v-12.2 M411.2 1360.65v12.2 M411.2 1608.95v-12.2 M443.8 1360.65v12.2 M443.8 1608.95v-12.2 M476.4 1360.65v12.2 M476.4 1608.95v-12.2 M509 1360.65v12.2 M509 1608.95v-12.2 M541.6 1360.65v12.2 M541.6 1608.95v-12.2 M606.8 1360.65v12.2 M606.8 1608.95v-12.2 M639.4 1360.65v12.2 M639.4 1608.95v-12.2 M672 1360.65v12.2 M672 1608.95v-12.2 M704.6 1360.65v12.2 M704.6 1608.95v-12.2 M737.2 1360.65v12.2 M737.2 1608.95v-12.2 M802.4 1360.65v12.2 M802.4 1608.95v-12.2 M835 1360.65v12.2 M835 1608.95v-12.2 M867.6 1360.65v12.2 M867.6 1608.95v-12.2 M900.2 1360.65v12.2 M900.2 1608.95v-12.2 M932.8 1360.65v12.2 M932.8 1608.95v-12.2 M998 1360.65v12.2 M998 1608.95v-12.2 M1030.6 1360.65v12.2 M1030.6 1608.95v-12.2 M1063.2 1360.65v12.2 M1063.2 1608.95v-12.2 M1095.8 1360.65v12.2 M1095.8 1608.95v-12.2 M1128.4 1360.65v12.2 M1128.4 1608.95v-12.2 M1193.6 1360.65v12.2 M1193.6 1608.95v-12.2 M1226.2 1360.65v12.2 M1226.2 1608.95v-12.2 M1258.8 1360.65v12.2 M1258.8 1608.95v-12.2 M1291.4 1360.65v12.2 M1291.4 1608.95v-12.2 M1324 1360.65v12.2 M1324 1608.95v-12.2 M1389.2 1360.65v12.2 M1389.2 1608.95v-12.2 M1421.8 1360.65v12.2 M1421.8 1608.95v-12.2 M1454.4 1360.65v12.2 M1454.4 1608.95v-12.2 M1487 1360.65v12.2 M1487 1608.95v-12.2 M1519.6 1360.65v12.2 M1519.6 1608.95v-12.2 M1584.8 1360.65v12.2 M1584.8 1608.95v-12.2 M1617.4 1360.65v12.2 M1617.4 1608.95v-12.2 M1650 1360.65v12.2 M1650 1608.95v-12.2 M1682.6 1360.65v12.2 M1682.6 1608.95v-12.2 M1715.2 1360.65v12.2 M1715.2 1608.95v-12.2 M1780.4 1360.65v12.2 M1780.4 1608.95v-12.2 M1813 1360.65v12.2 M1813 1608.95v-12.2 M1845.6 1360.65v12.2 M1845.6 1608.95v-12.2 M1878.2 1360.65v12.2 M1878.2 1608.95v-12.2 M1910.8 1360.65v12.2 M1910.8 1608.95v-12.2 M1976 1360.65v12.2 M1976 1608.95v-12.2 M262.25 1603.48h12.2 M1992.3 1603.48h-12.2 M262.25 1598.65h12.2 M1992.3 1598.65h-12.2 M262.25 1565.94h12.2 M1992.3 1565.94h-12.2 M262.25 1549.33h12.2 M1992.3 1549.33h-12.2 M262.25 1537.54h12.2 M1992.3 1537.54h-12.2 M262.25 1528.4h12.2 M1992.3 1528.4h-12.2 M262.25 1520.93h12.2 M1992.3 1520.93h-12.2 M262.25 1514.61h12.2 M1992.3 1514.61h-12.2 M262.25 1509.14h12.2 M1992.3 1509.14h-12.2 M262.25 1504.32h12.2 M1992.3 1504.32h-12.2 M262.25 1471.6h12.2 M1992.3 1471.6h-12.2 M262.25 1454.99h12.2 M1992.3 1454.99h-12.2 M262.25 1443.2h12.2 M1992.3 1443.2h-12.2 M262.25 1434.06h12.2 M1992.3 1434.06h-12.2 M262.25 1426.59h12.2 M1992.3 1426.59h-12.2 M262.25 1420.27h12.2 M1992.3 1420.27h-12.2 M262.25 1414.8h12.2 M1992.3 1414.8h-12.2 M262.25 1409.98h12.2 M1992.3 1409.98h-12.2 M262.25 1377.26h12.2 M1992.3 1377.26h-12.2 M280.8 1621.01v12.2 M280.8 1869.31v-12.2 M313.4 1621.01v12.2 M313.4 1869.31v-12.2 M346 1621.01v12.2 M346 1869.31v-12.2 M411.2 1621.01v12.2 M411.2 1869.31v-12.2 M443.8 1621.01v12.2 M443.8 1869.31v-12.2 M476.4 1621.01v12.2 M476.4 1869.31v-12.2 M509 1621.01v12.2 M509 1869.31v-12.2 M541.6 1621.01v12.2 M541.6 1869.31v-12.2 M606.8 1621.01v12.2 M606.8 1869.31v-12.2 M639.4 1621.01v12.2 M639.4 1869.31v-12.2 M672 1621.01v12.2 M672 1869.31v-12.2 M704.6 1621.01v12.2 M704.6 1869.31v-12.2 M737.2 1621.01v12.2 M737.2 1869.31v-12.2 M802.4 1621.01v12.2 M802.4 1869.31v-12.2 M835 1621.01v12.2 M835 1869.31v-12.2 M867.6 1621.01v12.2 M867.6 1869.31v-12.2 M900.2 1621.01v12.2 M900.2 1869.31v-12.2 M932.8 1621.01v12.2 M932.8 1869.31v-12.2 M998 1621.01v12.2 M998 1869.31v-12.2 M1030.6 1621.01v12.2 M1030.6 1869.31v-12.2 M1063.2 1621.01v12.2 M1063.2 1869.31v-12.2 M1095.8 1621.01v12.2 M1095.8 1869.31v-12.2 M1128.4 1621.01v12.2 M1128.4 1869.31v-12.2 M1193.6 1621.01v12.2 M1193.6 1869.31v-12.2 M1226.2 1621.01v12.2 M1226.2 1869.31v-12.2 M1258.8 1621.01v12.2 M1258.8 1869.31v-12.2 M1291.4 1621.01v12.2 M1291.4 1869.31v-12.2 M1324 1621.01v12.2 M1324 1869.31v-12.2 M1389.2 1621.01v12.2 M1389.2 1869.31v-12.2 M1421.8 1621.01v12.2 M1421.8 1869.31v-12.2 M1454.4 1621.01v12.2 M1454.4 1869.31v-12.2 M1487 1621.01v12.2 M1487 1869.31v-12.2 M1519.6 1621.01v12.2 M1519.6 1869.31v-12.2 M1584.8 1621.01v12.2 M1584.8 1869.31v-12.2 M1617.4 1621.01v12.2 M1617.4 1869.31v-12.2 M1650 1621.01v12.2 M1650 1869.31v-12.2 M1682.6 1621.01v12.2 M1682.6 1869.31v-12.2 M1715.2 1621.01v12.2 M1715.2 1869.31v-12.2 M1780.4 1621.01v12.2 M1780.4 1869.31v-12.2 M1813 1621.01v12.2 M1813 1869.31v-12.2 M1845.6 1621.01v12.2 M1845.6 1869.31v-12.2 M1878.2 1621.01v12.2 M1878.2 1869.31v-12.2 M1910.8 1621.01v12.2 M1910.8 1869.31v-12.2 M1976 1621.01v12.2 M1976 1869.31v-12.2 M262.25 1854.74h12.2 M1992.3 1854.74h-12.2 M262.25 1844.39h12.2 M1992.3 1844.39h-12.2 M262.25 1836.37h12.2 M1992.3 1836.37h-12.2 M262.25 1829.82h12.2 M1992.3 1829.82h-12.2 M262.25 1824.28h12.2 M1992.3 1824.28h-12.2 M262.25 1819.48h12.2 M1992.3 1819.48h-12.2 M262.25 1815.25h12.2 M1992.3 1815.25h-12.2 M262.25 1786.54h12.2 M1992.3 1786.54h-12.2 M262.25 1771.97h12.2 M1992.3 1771.97h-12.2 M262.25 1761.63h12.2 M1992.3 1761.63h-12.2 M262.25 1753.61h12.2 M1992.3 1753.61h-12.2 M262.25 1747.05h12.2 M1992.3 1747.05h-12.2 M262.25 1741.51h12.2 M1992.3 1741.51h-12.2 M262.25 1736.71h12.2 M1992.3 1736.71h-12.2 M262.25 1732.48h12.2 M1992.3 1732.48h-12.2 M262.25 1703.78h12.2 M1992.3 1703.78h-12.2 M262.25 1689.2h12.2 M1992.3 1689.2h-12.2 M262.25 1678.86h12.2 M1992.3 1678.86h-12.2 M262.25 1670.84h12.2 M1992.3 1670.84h-12.2 M262.25 1664.29h12.2 M1992.3 1664.29h-12.2 M262.25 1658.75h12.2 M1992.3 1658.75h-12.2 M262.25 1653.95h12.2 M1992.3 1653.95h-12.2 M262.25 1649.71h12.2 M1992.3 1649.71h-12.2 M280.8 1881.37v12.2 M280.8 2129.67v-12.2 M313.4 1881.37v12.2 M313.4 2129.67v-12.2 M346 1881.37v12.2 M346 2129.67v-12.2 M411.2 1881.37v12.2 M411.2 2129.67v-12.2 M443.8 1881.37v12.2 M443.8 2129.67v-12.2 M476.4 1881.37v12.2 M476.4 2129.67v-12.2 M509 1881.37v12.2 M509 2129.67v-12.2 M541.6 1881.37v12.2 M541.6 2129.67v-12.2 M606.8 1881.37v12.2 M606.8 2129.67v-12.2 M639.4 1881.37v12.2 M639.4 2129.67v-12.2 M672 1881.37v12.2 M672 2129.67v-12.2 M704.6 1881.37v12.2 M704.6 2129.67v-12.2 M737.2 1881.37v12.2 M737.2 2129.67v-12.2 M802.4 1881.37v12.2 M802.4 2129.67v-12.2 M835 1881.37v12.2 M835 2129.67v-12.2 M867.6 1881.37v12.2 M867.6 2129.67v-12.2 M900.2 1881.37v12.2 M900.2 2129.67v-12.2 M932.8 1881.37v12.2 M932.8 2129.67v-12.2 M998 1881.37v12.2 M998 2129.67v-12.2 M1030.6 1881.37v12.2 M1030.6 2129.67v-12.2 M1063.2 1881.37v12.2 M1063.2 2129.67v-12.2 M1095.8 1881.37v12.2 M1095.8 2129.67v-12.2 M1128.4 1881.37v12.2 M1128.4 2129.67v-12.2 M1193.6 1881.37v12.2 M1193.6 2129.67v-12.2 M1226.2 1881.37v12.2 M1226.2 2129.67v-12.2 M1258.8 1881.37v12.2 M1258.8 2129.67v-12.2 M1291.4 1881.37v12.2 M1291.4 2129.67v-12.2 M1324 1881.37v12.2 M1324 2129.67v-12.2 M1389.2 1881.37v12.2 M1389.2 2129.67v-12.2 M1421.8 1881.37v12.2 M1421.8 2129.67v-12.2 M1454.4 1881.37v12.2 M1454.4 2129.67v-12.2 M1487 1881.37v12.2 M1487 2129.67v-12.2 M1519.6 1881.37v12.2 M1519.6 2129.67v-12.2 M1584.8 1881.37v12.2 M1584.8 2129.67v-12.2 M1617.4 1881.37v12.2 M1617.4 2129.67v-12.2 M1650 1881.37v12.2 M1650 2129.67v-12.2 M1682.6 1881.37v12.2 M1682.6 2129.67v-12.2 M1715.2 1881.37v12.2 M1715.2 2129.67v-12.2 M1780.4 1881.37v12.2 M1780.4 2129.67v-12.2 M1813 1881.37v12.2 M1813 2129.67v-12.2 M1845.6 1881.37v12.2 M1845.6 2129.67v-12.2 M1878.2 1881.37v12.2 M1878.2 2129.67v-12.2 M1910.8 1881.37v12.2 M1910.8 2129.67v-12.2 M1976 1881.37v12.2 M1976 2129.67v-12.2 M262.25 2125.16h12.2 M1992.3 2125.16h-12.2 M262.25 2089.04h12.2 M1992.3 2089.04h-12.2 M262.25 2070.98h12.2 M1992.3 2070.98h-12.2 M262.25 2052.92h12.2 M1992.3 2052.92h-12.2 M262.25 2034.86h12.2 M1992.3 2034.86h-12.2 M262.25 1998.75h12.2 M1992.3 1998.75h-12.2 M262.25 1980.69h12.2 M1992.3 1980.69h-12.2 M262.25 1962.63h12.2 M1992.3 1962.63h-12.2 M262.25 1944.57h12.2 M1992.3 1944.57h-12.2 M262.25 1908.46h12.2 M1992.3 1908.46h-12.2 M262.25 1890.4h12.2 M1992.3 1890.4h-12.2" stroke="#000" stroke-width="2.0" fill="none"/>
<path d="M378.6 58.85v24 M378.6 307.15v-24 M574.2 58.85v24 M574.2 307.15v-24 M769.8 58.85v24 M769.8 307.15v-24 M965.4 58.85v24 M965.4 307.15v-24 M1161 58.85v24 M1161 307.15v-24 M1356.6 58.85v24 M1356.6 307.15v-24 M1552.2 58.85v24 M1552.2 307.15v-24 M1747.8 58.85v24 M1747.8 307.15v-24 M1943.4 58.85v24 M1943.4 307.15v-24 M262.25 307.15h24 M1992.3 307.15h-24 M262.25 196.79h24 M1992.3 196.79h-24 M262.25 86.44h24 M1992.3 86.44h-24 M378.6 319.21v24 M378.6 567.51v-24 M574.2 319.21v24 M574.2 567.51v-24 M769.8 319.21v24 M769.8 567.51v-24 M965.4 319.21v24 M965.4 567.51v-24 M1161 319.21v24 M1161 567.51v-24 M1356.6 319.21v24 M1356.6 567.51v-24 M1552.2 319.21v24 M1552.2 567.51v-24 M1747.8 319.21v24 M1747.8 567.51v-24 M1943.4 319.21v24 M1943.4 567.51v-24 M262.25 534.4h24 M1992.3 534.4h-24 M262.25 451.64h24 M1992.3 451.64h-24 M262.25 368.87h24 M1992.3 368.87h-24 M378.6 579.57v24 M378.6 827.87v-24 M574.2 579.57v24 M574.2 827.87v-24 M769.8 579.57v24 M769.8 827.87v-24 M965.4 579.57v24 M965.4 827.87v-24 M1161 579.57v24 M1161 827.87v-24 M1356.6 579.57v24 M1356.6 827.87v-24 M1552.2 579.57v24 M1552.2 827.87v-24 M1747.8 579.57v24 M1747.8 827.87v-24 M1943.4 579.57v24 M1943.4 827.87v-24 M262.25 772.69h24 M1992.3 772.69h-24 M262.25 703.72h24 M1992.3 703.72h-24 M262.25 634.75h24 M1992.3 634.75h-24 M378.6 839.93v24 M378.6 1088.23v-24 M574.2 839.93v24 M574.2 1088.23v-24 M769.8 839.93v24 M769.8 1088.23v-24 M965.4 839.93v24 M965.4 1088.23v-24 M1161 839.93v24 M1161 1088.23v-24 M1356.6 839.93v24 M1356.6 1088.23v-24 M1552.2 839.93v24 M1552.2 1088.23v-24 M1747.8 839.93v24 M1747.8 1088.23v-24 M1943.4 839.93v24 M1943.4 1088.23v-24 M262.25 1056.83h24 M1992.3 1056.83h-24 M262.25 952.51h24 M1992.3 952.51h-24 M262.25 848.19h24 M1992.3 848.19h-24 M378.6 1100.29v24 M378.6 1348.59v-24 M574.2 1100.29v24 M574.2 1348.59v-24 M769.8 1100.29v24 M769.8 1348.59v-24 M965.4 1100.29v24 M965.4 1348.59v-24 M1161 1100.29v24 M1161 1348.59v-24 M1356.6 1100.29v24 M1356.6 1348.59v-24 M1552.2 1100.29v24 M1552.2 1348.59v-24 M1747.8 1100.29v24 M1747.8 1348.59v-24 M1943.4 1100.29v24 M1943.4 1348.59v-24 M262.25 1302.03h24 M1992.3 1302.03h-24 M262.25 1224.44h24 M1992.3 1224.44h-24 M262.25 1146.85h24 M1992.3 1146.85h-24 M378.6 1360.65v24 M378.6 1608.95v-24 M574.2 1360.65v24 M574.2 1608.95v-24 M769.8 1360.65v24 M769.8 1608.95v-24 M965.4 1360.65v24 M965.4 1608.95v-24 M1161 1360.65v24 M1161 1608.95v-24 M1356.6 1360.65v24 M1356.6 1608.95v-24 M1552.2 1360.65v24 M1552.2 1608.95v-24 M1747.8 1360.65v24 M1747.8 1608.95v-24 M1943.4 1360.65v24 M1943.4 1608.95v-24 M262.25 1594.34h24 M1992.3 1594.34h-24 M262.25 1500h24 M1992.3 1500h-24 M262.25 1405.66h24 M1992.3 1405.66h-24 M378.6 1621.01v24 M378.6 1869.31v-24 M574.2 1621.01v24 M574.2 1869.31v-24 M769.8 1621.01v24 M769.8 1869.31v-24 M965.4 1621.01v24 M965.4 1869.31v-24 M1161 1621.01v24 M1161 1869.31v-24 M1356.6 1621.01v24 M1356.6 1869.31v-24 M1552.2 1621.01v24 M1552.2 1869.31v-24 M1747.8 1621.01v24 M1747.8 1869.31v-24 M1943.4 1621.01v24 M1943.4 1869.31v-24 M262.25 1811.46h24 M1992.3 1811.46h-24 M262.25 1728.69h24 M1992.3 1728.69h-24 M262.25 1645.93h24 M1992.3 1645.93h-24 M378.6 1881.37v24 M378.6 2129.67v-24 M574.2 1881.37v24 M574.2 2129.67v-24 M769.8 1881.37v24 M769.8 2129.67v-24 M965.4 1881.37v24 M965.4 2129.67v-24 M1161 1881.37v24 M1161 2129.67v-24 M1356.6 1881.37v24 M1356.6 2129.67v-24 M1552.2 1881.37v24 M1552.2 2129.67v-24 M1747.8 1881.37v24 M1747.8 2129.67v-24 M1943.4 1881.37v24 M1943.4 2129.67v-24 M262.25 2107.1h24 M1992.3 2107.1h-24 M262.25 2016.81h24 M1992.3 2016.81h-24 M262.25 1926.52h24 M1992.3 1926.52h-24" stroke="#000" stroke-width="2.4" fill="none"/>
<rect x="262.25" y="58.85" width="1730.05" height="248.3" fill="none" stroke="#000" stroke-width="2.8"/>
<rect x="262.25" y="319.21" width="1730.05" height="248.3" fill="none" stroke="#000" stroke-width="2.8"/>
<rect x="262.25" y="579.57" width="1730.05" height="248.3" fill="none" stroke="#000" stroke-width="2.8"/>
<rect x="262.25" y="839.93" width="1730.05" height="248.3" fill="none" stroke="#000" stroke-width="2.8"/>
<rect x="262.25" y="1100.29" width="1730.05" height="248.3" fill="none" stroke="#000" stroke-width="2.8"/>
<rect x="262.25" y="1360.65" width="1730.05" height="248.3" fill="none" stroke="#000" stroke-width="2.8"/>
<rect x="262.25" y="1621.01" width="1730.05" height="248.3" fill="none" stroke="#000" stroke-width="2.8"/>
<rect x="262.25" y="1881.37" width="1730.05" height="248.3" fill="none" stroke="#000" stroke-width="2.8"/>
<text x="250.5" y="322.75" text-anchor="end" font-size="40.8">0</text>
<text x="250.5" y="212.39" text-anchor="end" font-size="40.8">20</text>
<text x="250.5" y="102.04" text-anchor="end" font-size="40.8">40</text>
<text x="250.5" y="550" text-anchor="end" font-size="40.8">150</text>
<text x="250.5" y="467.24" text-anchor="end" font-size="40.8">400</text>
<text x="250.5" y="384.47" text-anchor="end" font-size="40.8">650</text>
<text x="250.5" y="788.29" text-anchor="end" font-size="40.8">−2.5</text>
<text x="250.5" y="719.32" text-anchor="end" font-size="40.8">0.0</text>
<text x="250.5" y="650.35" text-anchor="end" font-size="40.8">2.5</text>
<text x="249" y="1071.43" text-anchor="end" font-size="40.8">10<tspan font-size="28.56" dy="-15.5">−1</tspan></text>
<text x="249" y="967.11" text-anchor="end" font-size="40.8">10<tspan font-size="28.56" dy="-15.5">0</tspan></text>
<text x="249" y="862.79" text-anchor="end" font-size="40.8">10<tspan font-size="28.56" dy="-15.5">1</tspan></text>
<text x="250.5" y="1317.63" text-anchor="end" font-size="40.8">−50</text>
<text x="250.5" y="1240.04" text-anchor="end" font-size="40.8">0</text>
<text x="250.5" y="1162.45" text-anchor="end" font-size="40.8">50</text>
<text x="249" y="1608.94" text-anchor="end" font-size="40.8">10<tspan font-size="28.56" dy="-15.5">5</tspan></text>
<text x="249" y="1514.6" text-anchor="end" font-size="40.8">10<tspan font-size="28.56" dy="-15.5">6</tspan></text>
<text x="249" y="1420.26" text-anchor="end" font-size="40.8">10<tspan font-size="28.56" dy="-15.5">7</tspan></text>
<text x="249" y="1826.06" text-anchor="end" font-size="40.8">10<tspan font-size="28.56" dy="-15.5">−2</tspan></text>
<text x="249" y="1743.29" text-anchor="end" font-size="40.8">10<tspan font-size="28.56" dy="-15.5">−1</tspan></text>
<text x="249" y="1660.53" text-anchor="end" font-size="40.8">10<tspan font-size="28.56" dy="-15.5">0</tspan></text>
<text x="250.5" y="2122.7" text-anchor="end" font-size="40.8">0.0</text>
<text x="250.5" y="2032.41" text-anchor="end" font-size="40.8">0.2</text>
<text x="250.5" y="1942.12" text-anchor="end" font-size="40.8">0.4</text>
<text x="378.6" y="2171.8" text-anchor="middle" font-size="40.8">20:00</text>
<text x="378.6" y="2239.6" text-anchor="middle" font-size="40.8">14.44</text>
<text x="574.2" y="2171.8" text-anchor="middle" font-size="40.8">06 02:00</text>
<text x="574.2" y="2239.6" text-anchor="middle" font-size="40.8">13.47</text>
<text x="769.8" y="2171.8" text-anchor="middle" font-size="40.8">08:00</text>
<text x="769.8" y="2239.6" text-anchor="middle" font-size="40.8">13.31</text>
<text x="965.4" y="2171.8" text-anchor="middle" font-size="40.8">14:00</text>
<text x="965.4" y="2239.6" text-anchor="middle" font-size="40.8">14.01</text>
<text x="1161" y="2171.8" text-anchor="middle" font-size="40.8">20:00</text>
<text x="1161" y="2239.6" text-anchor="middle" font-size="40.8">15.41</text>
<text x="1356.6" y="2171.8" text-anchor="middle" font-size="40.8">07 02:00</text>
<text x="1356.6" y="2239.6" text-anchor="middle" font-size="40.8">17.27</text>
<text x="1552.2" y="2171.8" text-anchor="middle" font-size="40.8">08:00</text>
<text x="1552.2" y="2239.6" text-anchor="middle" font-size="40.8">19.39</text>
<text x="1747.8" y="2171.8" text-anchor="middle" font-size="40.8">14:00</text>
<text x="1747.8" y="2239.6" text-anchor="middle" font-size="40.8">21.65</text>
<text x="1943.4" y="2171.8" text-anchor="middle" font-size="40.8">20:00</text>
<text x="1943.4" y="2239.6" text-anchor="middle" font-size="40.8">23.96</text>
<text x="257.5" y="2171.8" text-anchor="end" font-size="40.8">2022 Sep 05</text>
<text x="148.7" y="2239.6" font-size="40.8">R<tspan font-size="28.56" dy="7" dx="2.2">S</tspan></text>
<text transform="translate(117.2 183.7) rotate(-90)" text-anchor="middle" font-size="40.8" >n<tspan font-size="28.56" dy="7">P</tspan><tspan font-size="40.8" dy="-7">​</tspan><tspan dx="8.16">*</tspan><tspan dx="6.41">r</tspan><tspan font-size="28.56" dy="-15.7">2</tspan><tspan font-size="40.8" dy="15.7">​</tspan> (cm<tspan font-size="28.56" dy="-15.7">−3</tspan><tspan font-size="40.8" dy="15.7">​</tspan>)</text>
<text transform="translate(117.2 443.36) rotate(-90)" text-anchor="middle" font-size="40.8" >V<tspan font-size="28.56" dy="7">R</tspan><tspan font-size="40.8" dy="-7">​</tspan> (km s<tspan font-size="28.56" dy="-15.7">−1</tspan><tspan font-size="40.8" dy="15.7">​</tspan>)</text>
<text transform="translate(117.2 703.72) rotate(-90)" text-anchor="middle" font-size="40.8" >B<tspan dx="8.16">*</tspan><tspan dx="6.41">r</tspan><tspan font-size="28.56" dy="-15.7">2</tspan><tspan font-size="40.8" dy="15.7">​</tspan> (nT)</text>
<text transform="translate(117.2 1037.5) rotate(-90)" font-size="40.8">M<tspan font-size="28.56" dy="7">A</tspan><tspan font-size="40.8" dy="-7">​</tspan></text>
<text transform="translate(117.2 948) rotate(-90)" font-size="40.8" fill="#f00">M<tspan font-size="28.56" dy="7">S</tspan><tspan font-size="40.8" dy="-7">​</tspan></text>
<text transform="translate(117 1224.44) rotate(-90)" text-anchor="middle" font-size="40.8" >θ (°)</text>
<text transform="translate(112 1484.8) rotate(-90)" text-anchor="middle" font-size="40.8" >T<tspan font-size="28.56" dy="7">p</tspan><tspan font-size="40.8" dy="-7">​</tspan> (K)</text>
<text transform="translate(117.5 1745.16) rotate(-90)" text-anchor="middle" font-size="40.8" >β</text>
<text transform="translate(117 2005.52) rotate(-90)" text-anchor="middle" font-size="40.8" >δV<tspan font-size="28.56" dy="7">R</tspan><tspan font-size="40.8" dy="-7">​</tspan> / V<tspan font-size="28.56" dy="7">A</tspan><tspan font-size="40.8" dy="-7">​</tspan></text>
<text x="304.8" y="109.45" font-size="32.1" font-weight="bold">a</text>
<text x="304.8" y="369.81" font-size="32.1" font-weight="bold">b</text>
<text x="304.8" y="630.17" font-size="32.1" font-weight="bold">c</text>
<text x="304.8" y="890.53" font-size="32.1" font-weight="bold">d</text>
<text x="304.8" y="1150.89" font-size="32.1" font-weight="bold">e</text>
<text x="304.8" y="1576.65" font-size="32.1" font-weight="bold">f</text>
<text x="304.8" y="1671.61" font-size="32.1" font-weight="bold">g</text>
<text x="304.8" y="1931.97" font-size="32.1" font-weight="bold">h</text>
<text x="1104.9" y="35.1" text-anchor="middle" font-size="46.7" font-weight="bold">I3</text>
<text x="1272" y="35.1" text-anchor="middle" font-size="46.7" font-weight="bold">I4</text>
<text x="1441.8" y="259.9" font-size="52.5" fill="#f00">n<tspan font-size="36.75" dy="8.3">e</tspan><tspan font-size="52.5" dy="-8.3">​</tspan><tspan dx="10.5">*</tspan><tspan dx="8.2">r</tspan><tspan font-size="36.75" dy="-18.9">2</tspan><tspan font-size="52.5" dy="18.9">​</tspan></text>
<text x="1472.5" y="494.4" font-size="58.3" fill="#f00">c<tspan font-size="40.81" dy="8.9">s</tspan><tspan font-size="58.3" dy="-8.9">​</tspan></text>
<text x="1403.8" y="782.9" font-size="46.7" fill="#f00">B<tspan font-size="32.69" dy="7.5">R</tspan><tspan font-size="46.7" dy="-7.5">​</tspan></text>
<text x="1481.3" y="782.9" font-size="46.7" fill="#008000">B<tspan dx="1.2">​</tspan><tspan font-size="32.69" dy="7.5">T</tspan><tspan font-size="46.7" dy="-7.5">​</tspan></text>
<text x="1559.3" y="782.9" font-size="46.7" fill="#00f">B<tspan dx="1.8">​</tspan><tspan font-size="32.69" dy="7.5">N</tspan><tspan font-size="46.7" dy="-7.5">​</tspan></text>
<text x="1444" y="1192.9" font-size="49.6" fill="#f00">ϕ<tspan font-size="36.5" dy="9" dx="1.5">P</tspan></text>
<text x="1463.2" y="1483.7" font-size="46.7" fill="#f00">T<tspan dx="1.8">​</tspan><tspan font-size="32.69" dy="7.7">e</tspan><tspan font-size="46.7" dy="-7.7">​</tspan></text>
</svg></body></html>
